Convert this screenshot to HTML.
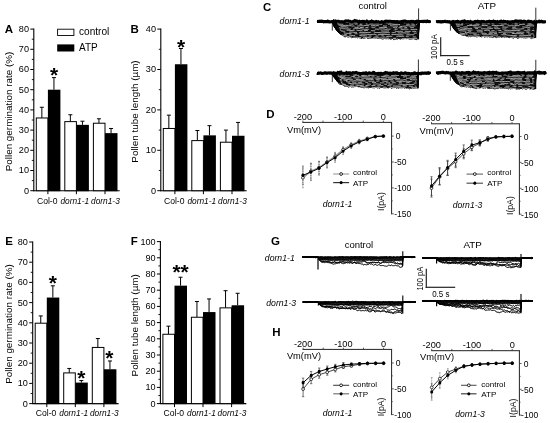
<!DOCTYPE html>
<html><head><meta charset="utf-8"><title>Figure</title>
<style>
html,body{margin:0;padding:0;background:#fff;}
svg{display:block;font-family:"Liberation Sans", sans-serif;}
</style></head><body>
<svg width="550" height="423" viewBox="0 0 550 423">
<rect width="550" height="423" fill="#fff"/>
<line x1="33.80" y1="28.60" x2="33.80" y2="191.20" stroke="#000" stroke-width="1.1"/>
<line x1="33.30" y1="190.70" x2="119.70" y2="190.70" stroke="#000" stroke-width="1.1"/>
<line x1="30.30" y1="190.70" x2="33.80" y2="190.70" stroke="#000" stroke-width="1"/>
<text x="0" y="0" font-size="9.6" text-anchor="end" fill="#000" transform="translate(29.0 193.6) scale(0.95 1)">0</text>
<line x1="30.30" y1="170.50" x2="33.80" y2="170.50" stroke="#000" stroke-width="1"/>
<text x="0" y="0" font-size="9.6" text-anchor="end" fill="#000" transform="translate(29.0 173.4) scale(0.95 1)">10</text>
<line x1="30.30" y1="150.30" x2="33.80" y2="150.30" stroke="#000" stroke-width="1"/>
<text x="0" y="0" font-size="9.6" text-anchor="end" fill="#000" transform="translate(29.0 153.2) scale(0.95 1)">20</text>
<line x1="30.30" y1="130.10" x2="33.80" y2="130.10" stroke="#000" stroke-width="1"/>
<text x="0" y="0" font-size="9.6" text-anchor="end" fill="#000" transform="translate(29.0 133.0) scale(0.95 1)">30</text>
<line x1="30.30" y1="109.90" x2="33.80" y2="109.90" stroke="#000" stroke-width="1"/>
<text x="0" y="0" font-size="9.6" text-anchor="end" fill="#000" transform="translate(29.0 112.8) scale(0.95 1)">40</text>
<line x1="30.30" y1="89.70" x2="33.80" y2="89.70" stroke="#000" stroke-width="1"/>
<text x="0" y="0" font-size="9.6" text-anchor="end" fill="#000" transform="translate(29.0 92.6) scale(0.95 1)">50</text>
<line x1="30.30" y1="69.50" x2="33.80" y2="69.50" stroke="#000" stroke-width="1"/>
<text x="0" y="0" font-size="9.6" text-anchor="end" fill="#000" transform="translate(29.0 72.4) scale(0.95 1)">60</text>
<line x1="30.30" y1="49.30" x2="33.80" y2="49.30" stroke="#000" stroke-width="1"/>
<text x="0" y="0" font-size="9.6" text-anchor="end" fill="#000" transform="translate(29.0 52.2) scale(0.95 1)">70</text>
<line x1="30.30" y1="29.10" x2="33.80" y2="29.10" stroke="#000" stroke-width="1"/>
<text x="0" y="0" font-size="9.6" text-anchor="end" fill="#000" transform="translate(29.0 32.0) scale(0.95 1)">80</text>
<line x1="31.80" y1="180.60" x2="33.80" y2="180.60" stroke="#000" stroke-width="0.9"/>
<line x1="31.80" y1="160.40" x2="33.80" y2="160.40" stroke="#000" stroke-width="0.9"/>
<line x1="31.80" y1="140.20" x2="33.80" y2="140.20" stroke="#000" stroke-width="0.9"/>
<line x1="31.80" y1="120.00" x2="33.80" y2="120.00" stroke="#000" stroke-width="0.9"/>
<line x1="31.80" y1="99.80" x2="33.80" y2="99.80" stroke="#000" stroke-width="0.9"/>
<line x1="31.80" y1="79.60" x2="33.80" y2="79.60" stroke="#000" stroke-width="0.9"/>
<line x1="31.80" y1="59.40" x2="33.80" y2="59.40" stroke="#000" stroke-width="0.9"/>
<line x1="31.80" y1="39.20" x2="33.80" y2="39.20" stroke="#000" stroke-width="0.9"/>
<line x1="47.90" y1="190.70" x2="47.90" y2="194.20" stroke="#000" stroke-width="1"/>
<line x1="41.85" y1="117.98" x2="41.85" y2="107.27" stroke="#000" stroke-width="1"/>
<line x1="39.85" y1="107.27" x2="43.85" y2="107.27" stroke="#000" stroke-width="1"/>
<rect x="36.30" y="117.98" width="11.60" height="72.72" fill="#fff" stroke="#000" stroke-width="1"/>
<line x1="53.95" y1="89.70" x2="53.95" y2="77.58" stroke="#000" stroke-width="1"/>
<line x1="51.95" y1="77.58" x2="55.95" y2="77.58" stroke="#000" stroke-width="1"/>
<rect x="47.90" y="89.70" width="12.50" height="101.50" fill="#000"/>
<text x="47.2" y="203.5" font-size="8.6" text-anchor="middle" fill="#000">Col-0</text>
<line x1="76.40" y1="190.70" x2="76.40" y2="194.20" stroke="#000" stroke-width="1"/>
<line x1="70.35" y1="121.62" x2="70.35" y2="114.75" stroke="#000" stroke-width="1"/>
<line x1="68.35" y1="114.75" x2="72.35" y2="114.75" stroke="#000" stroke-width="1"/>
<rect x="64.80" y="121.62" width="11.60" height="69.08" fill="#fff" stroke="#000" stroke-width="1"/>
<line x1="82.45" y1="124.85" x2="82.45" y2="121.21" stroke="#000" stroke-width="1"/>
<line x1="80.45" y1="121.21" x2="84.45" y2="121.21" stroke="#000" stroke-width="1"/>
<rect x="76.40" y="124.85" width="12.50" height="66.35" fill="#000"/>
<text x="74.8" y="203.5" font-size="8.35" text-anchor="middle" font-style="italic" fill="#000">dorn1-1</text>
<line x1="105.00" y1="190.70" x2="105.00" y2="194.20" stroke="#000" stroke-width="1"/>
<line x1="98.95" y1="123.23" x2="98.95" y2="118.79" stroke="#000" stroke-width="1"/>
<line x1="96.95" y1="118.79" x2="100.95" y2="118.79" stroke="#000" stroke-width="1"/>
<rect x="93.40" y="123.23" width="11.60" height="67.47" fill="#fff" stroke="#000" stroke-width="1"/>
<line x1="111.05" y1="133.13" x2="111.05" y2="128.48" stroke="#000" stroke-width="1"/>
<line x1="109.05" y1="128.48" x2="113.05" y2="128.48" stroke="#000" stroke-width="1"/>
<rect x="105.00" y="133.13" width="12.50" height="58.07" fill="#000"/>
<text x="105.4" y="203.5" font-size="8.35" text-anchor="middle" font-style="italic" fill="#000">dorn1-3</text>
<text x="12.2" y="111.5" font-size="9.9" text-anchor="middle" fill="#000" transform="rotate(-90 12.2 111.5)">Pollen germination rate (%)</text>
<text x="4.7" y="32.5" font-size="11.5" font-weight="bold" fill="#000">A</text>
<text x="54" y="81.5" font-size="21" text-anchor="middle" font-weight="bold" fill="#000">*</text>
<rect x="57.6" y="29.2" width="16.3" height="6.3" fill="#fff" stroke="#000" stroke-width="0.9"/>
<rect x="57.2" y="44.4" width="17.1" height="7.1" fill="#000"/>
<text x="79" y="35.4" font-size="10.1" fill="#000">control</text>
<text x="79" y="50.7" font-size="10" fill="#000">ATP</text>
<line x1="160.80" y1="28.60" x2="160.80" y2="191.20" stroke="#000" stroke-width="1.1"/>
<line x1="160.30" y1="190.70" x2="246.70" y2="190.70" stroke="#000" stroke-width="1.1"/>
<line x1="157.30" y1="190.70" x2="160.80" y2="190.70" stroke="#000" stroke-width="1"/>
<text x="0" y="0" font-size="9.6" text-anchor="end" fill="#000" transform="translate(156.0 193.6) scale(0.95 1)">0</text>
<line x1="157.30" y1="150.30" x2="160.80" y2="150.30" stroke="#000" stroke-width="1"/>
<text x="0" y="0" font-size="9.6" text-anchor="end" fill="#000" transform="translate(156.0 153.2) scale(0.95 1)">10</text>
<line x1="157.30" y1="109.90" x2="160.80" y2="109.90" stroke="#000" stroke-width="1"/>
<text x="0" y="0" font-size="9.6" text-anchor="end" fill="#000" transform="translate(156.0 112.8) scale(0.95 1)">20</text>
<line x1="157.30" y1="69.50" x2="160.80" y2="69.50" stroke="#000" stroke-width="1"/>
<text x="0" y="0" font-size="9.6" text-anchor="end" fill="#000" transform="translate(156.0 72.4) scale(0.95 1)">30</text>
<line x1="157.30" y1="29.10" x2="160.80" y2="29.10" stroke="#000" stroke-width="1"/>
<text x="0" y="0" font-size="9.6" text-anchor="end" fill="#000" transform="translate(156.0 32.0) scale(0.95 1)">40</text>
<line x1="158.80" y1="170.50" x2="160.80" y2="170.50" stroke="#000" stroke-width="0.9"/>
<line x1="158.80" y1="130.10" x2="160.80" y2="130.10" stroke="#000" stroke-width="0.9"/>
<line x1="158.80" y1="89.70" x2="160.80" y2="89.70" stroke="#000" stroke-width="0.9"/>
<line x1="158.80" y1="49.30" x2="160.80" y2="49.30" stroke="#000" stroke-width="0.9"/>
<line x1="174.90" y1="190.70" x2="174.90" y2="194.20" stroke="#000" stroke-width="1"/>
<line x1="168.85" y1="128.48" x2="168.85" y2="115.15" stroke="#000" stroke-width="1"/>
<line x1="166.85" y1="115.15" x2="170.85" y2="115.15" stroke="#000" stroke-width="1"/>
<rect x="163.30" y="128.48" width="11.60" height="62.22" fill="#fff" stroke="#000" stroke-width="1"/>
<line x1="180.95" y1="64.25" x2="180.95" y2="48.49" stroke="#000" stroke-width="1"/>
<line x1="178.95" y1="48.49" x2="182.95" y2="48.49" stroke="#000" stroke-width="1"/>
<rect x="174.90" y="64.25" width="12.50" height="126.95" fill="#000"/>
<text x="174.2" y="203.5" font-size="8.6" text-anchor="middle" fill="#000">Col-0</text>
<line x1="203.40" y1="190.70" x2="203.40" y2="194.20" stroke="#000" stroke-width="1"/>
<line x1="197.35" y1="140.60" x2="197.35" y2="130.50" stroke="#000" stroke-width="1"/>
<line x1="195.35" y1="130.50" x2="199.35" y2="130.50" stroke="#000" stroke-width="1"/>
<rect x="191.80" y="140.60" width="11.60" height="50.10" fill="#fff" stroke="#000" stroke-width="1"/>
<line x1="209.45" y1="135.35" x2="209.45" y2="125.66" stroke="#000" stroke-width="1"/>
<line x1="207.45" y1="125.66" x2="211.45" y2="125.66" stroke="#000" stroke-width="1"/>
<rect x="203.40" y="135.35" width="12.50" height="55.85" fill="#000"/>
<text x="201.8" y="203.5" font-size="8.35" text-anchor="middle" font-style="italic" fill="#000">dorn1-1</text>
<line x1="232.00" y1="190.70" x2="232.00" y2="194.20" stroke="#000" stroke-width="1"/>
<line x1="225.95" y1="142.22" x2="225.95" y2="130.10" stroke="#000" stroke-width="1"/>
<line x1="223.95" y1="130.10" x2="227.95" y2="130.10" stroke="#000" stroke-width="1"/>
<rect x="220.40" y="142.22" width="11.60" height="48.48" fill="#fff" stroke="#000" stroke-width="1"/>
<line x1="238.05" y1="135.76" x2="238.05" y2="122.42" stroke="#000" stroke-width="1"/>
<line x1="236.05" y1="122.42" x2="240.05" y2="122.42" stroke="#000" stroke-width="1"/>
<rect x="232.00" y="135.76" width="12.50" height="55.44" fill="#000"/>
<text x="232.4" y="203.5" font-size="8.35" text-anchor="middle" font-style="italic" fill="#000">dorn1-3</text>
<text x="138.3" y="111.5" font-size="9.9" text-anchor="middle" fill="#000" transform="rotate(-90 138.3 111.5)">Pollen tube length (µm)</text>
<text x="130.5" y="32.5" font-size="11.5" font-weight="bold" fill="#000">B</text>
<text x="181" y="54.2" font-size="21" text-anchor="middle" font-weight="bold" fill="#000">*</text>
<line x1="32.70" y1="241.50" x2="32.70" y2="404.10" stroke="#000" stroke-width="1.1"/>
<line x1="32.20" y1="403.60" x2="118.60" y2="403.60" stroke="#000" stroke-width="1.1"/>
<line x1="29.20" y1="403.60" x2="32.70" y2="403.60" stroke="#000" stroke-width="1"/>
<text x="0" y="0" font-size="9.6" text-anchor="end" fill="#000" transform="translate(27.9 406.5) scale(0.95 1)">0</text>
<line x1="29.20" y1="383.40" x2="32.70" y2="383.40" stroke="#000" stroke-width="1"/>
<text x="0" y="0" font-size="9.6" text-anchor="end" fill="#000" transform="translate(27.9 386.3) scale(0.95 1)">10</text>
<line x1="29.20" y1="363.20" x2="32.70" y2="363.20" stroke="#000" stroke-width="1"/>
<text x="0" y="0" font-size="9.6" text-anchor="end" fill="#000" transform="translate(27.9 366.1) scale(0.95 1)">20</text>
<line x1="29.20" y1="343.00" x2="32.70" y2="343.00" stroke="#000" stroke-width="1"/>
<text x="0" y="0" font-size="9.6" text-anchor="end" fill="#000" transform="translate(27.9 345.9) scale(0.95 1)">30</text>
<line x1="29.20" y1="322.80" x2="32.70" y2="322.80" stroke="#000" stroke-width="1"/>
<text x="0" y="0" font-size="9.6" text-anchor="end" fill="#000" transform="translate(27.9 325.7) scale(0.95 1)">40</text>
<line x1="29.20" y1="302.60" x2="32.70" y2="302.60" stroke="#000" stroke-width="1"/>
<text x="0" y="0" font-size="9.6" text-anchor="end" fill="#000" transform="translate(27.9 305.5) scale(0.95 1)">50</text>
<line x1="29.20" y1="282.40" x2="32.70" y2="282.40" stroke="#000" stroke-width="1"/>
<text x="0" y="0" font-size="9.6" text-anchor="end" fill="#000" transform="translate(27.9 285.3) scale(0.95 1)">60</text>
<line x1="29.20" y1="262.20" x2="32.70" y2="262.20" stroke="#000" stroke-width="1"/>
<text x="0" y="0" font-size="9.6" text-anchor="end" fill="#000" transform="translate(27.9 265.1) scale(0.95 1)">70</text>
<line x1="29.20" y1="242.00" x2="32.70" y2="242.00" stroke="#000" stroke-width="1"/>
<text x="0" y="0" font-size="9.6" text-anchor="end" fill="#000" transform="translate(27.9 244.9) scale(0.95 1)">80</text>
<line x1="30.70" y1="393.50" x2="32.70" y2="393.50" stroke="#000" stroke-width="0.9"/>
<line x1="30.70" y1="373.30" x2="32.70" y2="373.30" stroke="#000" stroke-width="0.9"/>
<line x1="30.70" y1="353.10" x2="32.70" y2="353.10" stroke="#000" stroke-width="0.9"/>
<line x1="30.70" y1="332.90" x2="32.70" y2="332.90" stroke="#000" stroke-width="0.9"/>
<line x1="30.70" y1="312.70" x2="32.70" y2="312.70" stroke="#000" stroke-width="0.9"/>
<line x1="30.70" y1="292.50" x2="32.70" y2="292.50" stroke="#000" stroke-width="0.9"/>
<line x1="30.70" y1="272.30" x2="32.70" y2="272.30" stroke="#000" stroke-width="0.9"/>
<line x1="30.70" y1="252.10" x2="32.70" y2="252.10" stroke="#000" stroke-width="0.9"/>
<line x1="46.80" y1="403.60" x2="46.80" y2="407.10" stroke="#000" stroke-width="1"/>
<line x1="40.75" y1="323.20" x2="40.75" y2="315.93" stroke="#000" stroke-width="1"/>
<line x1="38.75" y1="315.93" x2="42.75" y2="315.93" stroke="#000" stroke-width="1"/>
<rect x="35.20" y="323.20" width="11.60" height="80.40" fill="#fff" stroke="#000" stroke-width="1"/>
<line x1="52.85" y1="297.55" x2="52.85" y2="285.83" stroke="#000" stroke-width="1"/>
<line x1="50.85" y1="285.83" x2="54.85" y2="285.83" stroke="#000" stroke-width="1"/>
<rect x="46.80" y="297.55" width="12.50" height="106.55" fill="#000"/>
<text x="46.1" y="415.8" font-size="8.6" text-anchor="middle" fill="#000">Col-0</text>
<line x1="75.30" y1="403.60" x2="75.30" y2="407.10" stroke="#000" stroke-width="1"/>
<line x1="69.25" y1="372.90" x2="69.25" y2="368.45" stroke="#000" stroke-width="1"/>
<line x1="67.25" y1="368.45" x2="71.25" y2="368.45" stroke="#000" stroke-width="1"/>
<rect x="63.70" y="372.90" width="11.60" height="30.70" fill="#fff" stroke="#000" stroke-width="1"/>
<line x1="81.35" y1="382.59" x2="81.35" y2="380.57" stroke="#000" stroke-width="1"/>
<line x1="79.35" y1="380.57" x2="83.35" y2="380.57" stroke="#000" stroke-width="1"/>
<rect x="75.30" y="382.59" width="12.50" height="21.51" fill="#000"/>
<text x="73.7" y="415.8" font-size="8.35" text-anchor="middle" font-style="italic" fill="#000">dorn1-1</text>
<line x1="103.90" y1="403.60" x2="103.90" y2="407.10" stroke="#000" stroke-width="1"/>
<line x1="97.85" y1="347.44" x2="97.85" y2="338.56" stroke="#000" stroke-width="1"/>
<line x1="95.85" y1="338.56" x2="99.85" y2="338.56" stroke="#000" stroke-width="1"/>
<rect x="92.30" y="347.44" width="11.60" height="56.16" fill="#fff" stroke="#000" stroke-width="1"/>
<line x1="109.95" y1="369.26" x2="109.95" y2="360.98" stroke="#000" stroke-width="1"/>
<line x1="107.95" y1="360.98" x2="111.95" y2="360.98" stroke="#000" stroke-width="1"/>
<rect x="103.90" y="369.26" width="12.50" height="34.84" fill="#000"/>
<text x="104.3" y="415.8" font-size="8.35" text-anchor="middle" font-style="italic" fill="#000">dorn1-3</text>
<text x="11.8" y="324" font-size="9.9" text-anchor="middle" fill="#000" transform="rotate(-90 11.8 324)">Pollen germination rate (%)</text>
<text x="5.3" y="244.5" font-size="11.5" font-weight="bold" fill="#000">E</text>
<text x="52.9" y="289.9" font-size="21" text-anchor="middle" font-weight="bold" fill="#000">*</text>
<text x="81.3" y="384.7" font-size="21" text-anchor="middle" font-weight="bold" fill="#000">*</text>
<text x="109.4" y="365.1" font-size="21" text-anchor="middle" font-weight="bold" fill="#000">*</text>
<line x1="160.40" y1="241.10" x2="160.40" y2="404.10" stroke="#000" stroke-width="1.1"/>
<line x1="159.90" y1="403.60" x2="246.30" y2="403.60" stroke="#000" stroke-width="1.1"/>
<line x1="156.90" y1="403.60" x2="160.40" y2="403.60" stroke="#000" stroke-width="1"/>
<text x="0" y="0" font-size="9.6" text-anchor="end" fill="#000" transform="translate(155.6 406.5) scale(0.95 1)">0</text>
<line x1="156.90" y1="387.40" x2="160.40" y2="387.40" stroke="#000" stroke-width="1"/>
<text x="0" y="0" font-size="9.6" text-anchor="end" fill="#000" transform="translate(155.6 390.3) scale(0.95 1)">10</text>
<line x1="156.90" y1="371.20" x2="160.40" y2="371.20" stroke="#000" stroke-width="1"/>
<text x="0" y="0" font-size="9.6" text-anchor="end" fill="#000" transform="translate(155.6 374.1) scale(0.95 1)">20</text>
<line x1="156.90" y1="355.00" x2="160.40" y2="355.00" stroke="#000" stroke-width="1"/>
<text x="0" y="0" font-size="9.6" text-anchor="end" fill="#000" transform="translate(155.6 357.9) scale(0.95 1)">30</text>
<line x1="156.90" y1="338.80" x2="160.40" y2="338.80" stroke="#000" stroke-width="1"/>
<text x="0" y="0" font-size="9.6" text-anchor="end" fill="#000" transform="translate(155.6 341.7) scale(0.95 1)">40</text>
<line x1="156.90" y1="322.60" x2="160.40" y2="322.60" stroke="#000" stroke-width="1"/>
<text x="0" y="0" font-size="9.6" text-anchor="end" fill="#000" transform="translate(155.6 325.5) scale(0.95 1)">50</text>
<line x1="156.90" y1="306.40" x2="160.40" y2="306.40" stroke="#000" stroke-width="1"/>
<text x="0" y="0" font-size="9.6" text-anchor="end" fill="#000" transform="translate(155.6 309.3) scale(0.95 1)">60</text>
<line x1="156.90" y1="290.20" x2="160.40" y2="290.20" stroke="#000" stroke-width="1"/>
<text x="0" y="0" font-size="9.6" text-anchor="end" fill="#000" transform="translate(155.6 293.1) scale(0.95 1)">70</text>
<line x1="156.90" y1="274.00" x2="160.40" y2="274.00" stroke="#000" stroke-width="1"/>
<text x="0" y="0" font-size="9.6" text-anchor="end" fill="#000" transform="translate(155.6 276.9) scale(0.95 1)">80</text>
<line x1="156.90" y1="257.80" x2="160.40" y2="257.80" stroke="#000" stroke-width="1"/>
<text x="0" y="0" font-size="9.6" text-anchor="end" fill="#000" transform="translate(155.6 260.7) scale(0.95 1)">90</text>
<line x1="156.90" y1="241.60" x2="160.40" y2="241.60" stroke="#000" stroke-width="1"/>
<text x="0" y="0" font-size="9.6" text-anchor="end" fill="#000" transform="translate(155.6 244.5) scale(0.95 1)">100</text>
<line x1="158.40" y1="395.50" x2="160.40" y2="395.50" stroke="#000" stroke-width="0.9"/>
<line x1="158.40" y1="379.30" x2="160.40" y2="379.30" stroke="#000" stroke-width="0.9"/>
<line x1="158.40" y1="363.10" x2="160.40" y2="363.10" stroke="#000" stroke-width="0.9"/>
<line x1="158.40" y1="346.90" x2="160.40" y2="346.90" stroke="#000" stroke-width="0.9"/>
<line x1="158.40" y1="330.70" x2="160.40" y2="330.70" stroke="#000" stroke-width="0.9"/>
<line x1="158.40" y1="314.50" x2="160.40" y2="314.50" stroke="#000" stroke-width="0.9"/>
<line x1="158.40" y1="298.30" x2="160.40" y2="298.30" stroke="#000" stroke-width="0.9"/>
<line x1="158.40" y1="282.10" x2="160.40" y2="282.10" stroke="#000" stroke-width="0.9"/>
<line x1="158.40" y1="265.90" x2="160.40" y2="265.90" stroke="#000" stroke-width="0.9"/>
<line x1="158.40" y1="249.70" x2="160.40" y2="249.70" stroke="#000" stroke-width="0.9"/>
<line x1="174.50" y1="403.60" x2="174.50" y2="407.10" stroke="#000" stroke-width="1"/>
<line x1="168.45" y1="334.26" x2="168.45" y2="326.16" stroke="#000" stroke-width="1"/>
<line x1="166.45" y1="326.16" x2="170.45" y2="326.16" stroke="#000" stroke-width="1"/>
<rect x="162.90" y="334.26" width="11.60" height="69.34" fill="#fff" stroke="#000" stroke-width="1"/>
<line x1="180.55" y1="285.66" x2="180.55" y2="277.24" stroke="#000" stroke-width="1"/>
<line x1="178.55" y1="277.24" x2="182.55" y2="277.24" stroke="#000" stroke-width="1"/>
<rect x="174.50" y="285.66" width="12.50" height="118.44" fill="#000"/>
<text x="173.8" y="415.8" font-size="8.6" text-anchor="middle" fill="#000">Col-0</text>
<line x1="203.00" y1="403.60" x2="203.00" y2="407.10" stroke="#000" stroke-width="1"/>
<line x1="196.95" y1="317.25" x2="196.95" y2="301.54" stroke="#000" stroke-width="1"/>
<line x1="194.95" y1="301.54" x2="198.95" y2="301.54" stroke="#000" stroke-width="1"/>
<rect x="191.40" y="317.25" width="11.60" height="86.35" fill="#fff" stroke="#000" stroke-width="1"/>
<line x1="209.05" y1="312.07" x2="209.05" y2="298.95" stroke="#000" stroke-width="1"/>
<line x1="207.05" y1="298.95" x2="211.05" y2="298.95" stroke="#000" stroke-width="1"/>
<rect x="203.00" y="312.07" width="12.50" height="92.03" fill="#000"/>
<text x="201.4" y="415.8" font-size="8.35" text-anchor="middle" font-style="italic" fill="#000">dorn1-1</text>
<line x1="231.60" y1="403.60" x2="231.60" y2="407.10" stroke="#000" stroke-width="1"/>
<line x1="225.55" y1="307.86" x2="225.55" y2="290.69" stroke="#000" stroke-width="1"/>
<line x1="223.55" y1="290.69" x2="227.55" y2="290.69" stroke="#000" stroke-width="1"/>
<rect x="220.00" y="307.86" width="11.60" height="95.74" fill="#fff" stroke="#000" stroke-width="1"/>
<line x1="237.65" y1="305.27" x2="237.65" y2="293.28" stroke="#000" stroke-width="1"/>
<line x1="235.65" y1="293.28" x2="239.65" y2="293.28" stroke="#000" stroke-width="1"/>
<rect x="231.60" y="305.27" width="12.50" height="98.83" fill="#000"/>
<text x="232.0" y="415.8" font-size="8.35" text-anchor="middle" font-style="italic" fill="#000">dorn1-3</text>
<text x="138.3" y="325.3" font-size="9.9" text-anchor="middle" fill="#000" transform="rotate(-90 138.3 325.3)">Pollen tube length (µm)</text>
<text x="130.8" y="245" font-size="11.5" font-weight="bold" fill="#000">F</text>
<text x="180.6" y="278.9" font-size="21" text-anchor="middle" font-weight="bold" fill="#000">**</text>
<line x1="302.40" y1="122.40" x2="392.10" y2="122.40" stroke="#222" stroke-width="1"/>
<line x1="391.60" y1="122.40" x2="391.60" y2="214.30" stroke="#222" stroke-width="1"/>
<line x1="383.40" y1="120.60" x2="383.40" y2="122.40" stroke="#333" stroke-width="0.8"/>
<text x="383.4" y="119.5" font-size="9.2" text-anchor="middle" fill="#000">0</text>
<line x1="363.27" y1="120.60" x2="363.27" y2="122.40" stroke="#333" stroke-width="0.8"/>
<line x1="343.15" y1="120.60" x2="343.15" y2="122.40" stroke="#333" stroke-width="0.8"/>
<text x="343.15" y="119.5" font-size="9.2" text-anchor="middle" fill="#000">-100</text>
<line x1="323.02" y1="120.60" x2="323.02" y2="122.40" stroke="#333" stroke-width="0.8"/>
<line x1="302.90" y1="120.60" x2="302.90" y2="122.40" stroke="#333" stroke-width="0.8"/>
<text x="302.9" y="119.5" font-size="9.2" text-anchor="middle" fill="#000">-200</text>
<line x1="391.60" y1="136.10" x2="393.80" y2="136.10" stroke="#333" stroke-width="0.8"/>
<text x="0" y="0" font-size="9.2" fill="#000" transform="translate(395.7 139.4) scale(0.93 1)">0</text>
<line x1="391.60" y1="162.00" x2="393.80" y2="162.00" stroke="#333" stroke-width="0.8"/>
<text x="0" y="0" font-size="9.2" fill="#000" transform="translate(394.2 165.3) scale(0.93 1)">-50</text>
<line x1="391.60" y1="187.90" x2="393.80" y2="187.90" stroke="#333" stroke-width="0.8"/>
<text x="0" y="0" font-size="9.2" fill="#000" transform="translate(394.2 191.2) scale(0.93 1)">-100</text>
<line x1="391.60" y1="213.80" x2="393.80" y2="213.80" stroke="#333" stroke-width="0.8"/>
<text x="0" y="0" font-size="9.2" fill="#000" transform="translate(394.2 217.1) scale(0.93 1)">-150</text>
<line x1="391.60" y1="149.05" x2="392.90" y2="149.05" stroke="#444" stroke-width="0.7"/>
<line x1="391.60" y1="174.95" x2="392.90" y2="174.95" stroke="#444" stroke-width="0.7"/>
<line x1="391.60" y1="200.85" x2="392.90" y2="200.85" stroke="#444" stroke-width="0.7"/>
<text x="287.0" y="133.2" font-size="9.3" fill="#000">Vm(mV)</text>
<text x="384.2" y="201.6" font-size="8.7" text-anchor="middle" fill="#000" transform="rotate(-90 384.2 201.6)">I(pA)</text>
<text x="337.5" y="206.8" font-size="8.6" text-anchor="middle" font-style="italic" fill="#000">dorn1-1</text>
<line x1="367.3" y1="137.1" x2="367.3" y2="140.1" stroke="#8a8a8a" stroke-width="0.75" stroke-dasharray="1.7 0.6"/>
<line x1="366.40" y1="137.10" x2="368.20" y2="137.10" stroke="#8a8a8a" stroke-width="0.6"/>
<line x1="366.40" y1="140.10" x2="368.20" y2="140.10" stroke="#8a8a8a" stroke-width="0.6"/>
<line x1="367.3" y1="137.8" x2="367.3" y2="140.8" stroke="#505050" stroke-width="0.75" stroke-dasharray="1.7 0.6"/>
<line x1="366.40" y1="137.80" x2="368.20" y2="137.80" stroke="#505050" stroke-width="0.6"/>
<line x1="366.40" y1="140.80" x2="368.20" y2="140.80" stroke="#505050" stroke-width="0.6"/>
<line x1="359.2" y1="139.2" x2="359.2" y2="143.2" stroke="#8a8a8a" stroke-width="0.75" stroke-dasharray="1.7 0.6"/>
<line x1="358.35" y1="139.20" x2="360.15" y2="139.20" stroke="#8a8a8a" stroke-width="0.6"/>
<line x1="358.35" y1="143.20" x2="360.15" y2="143.20" stroke="#8a8a8a" stroke-width="0.6"/>
<line x1="359.2" y1="139.9" x2="359.2" y2="143.9" stroke="#505050" stroke-width="0.75" stroke-dasharray="1.7 0.6"/>
<line x1="358.35" y1="139.90" x2="360.15" y2="139.90" stroke="#505050" stroke-width="0.6"/>
<line x1="358.35" y1="143.90" x2="360.15" y2="143.90" stroke="#505050" stroke-width="0.6"/>
<line x1="351.2" y1="142.4" x2="351.2" y2="147.4" stroke="#8a8a8a" stroke-width="0.75" stroke-dasharray="1.7 0.6"/>
<line x1="350.30" y1="142.40" x2="352.10" y2="142.40" stroke="#8a8a8a" stroke-width="0.6"/>
<line x1="350.30" y1="147.40" x2="352.10" y2="147.40" stroke="#8a8a8a" stroke-width="0.6"/>
<line x1="351.2" y1="143.4" x2="351.2" y2="148.4" stroke="#505050" stroke-width="0.75" stroke-dasharray="1.7 0.6"/>
<line x1="350.30" y1="143.40" x2="352.10" y2="143.40" stroke="#505050" stroke-width="0.6"/>
<line x1="350.30" y1="148.40" x2="352.10" y2="148.40" stroke="#505050" stroke-width="0.6"/>
<line x1="343.1" y1="146.6" x2="343.1" y2="152.6" stroke="#8a8a8a" stroke-width="0.75" stroke-dasharray="1.7 0.6"/>
<line x1="342.25" y1="146.60" x2="344.05" y2="146.60" stroke="#8a8a8a" stroke-width="0.6"/>
<line x1="342.25" y1="152.60" x2="344.05" y2="152.60" stroke="#8a8a8a" stroke-width="0.6"/>
<line x1="343.1" y1="147.6" x2="343.1" y2="154.6" stroke="#505050" stroke-width="0.75" stroke-dasharray="1.7 0.6"/>
<line x1="342.25" y1="147.60" x2="344.05" y2="147.60" stroke="#505050" stroke-width="0.6"/>
<line x1="342.25" y1="154.60" x2="344.05" y2="154.60" stroke="#505050" stroke-width="0.6"/>
<line x1="335.1" y1="152.3" x2="335.1" y2="160.3" stroke="#8a8a8a" stroke-width="0.75" stroke-dasharray="1.7 0.6"/>
<line x1="334.20" y1="152.30" x2="336.00" y2="152.30" stroke="#8a8a8a" stroke-width="0.6"/>
<line x1="334.20" y1="160.30" x2="336.00" y2="160.30" stroke="#8a8a8a" stroke-width="0.6"/>
<line x1="335.1" y1="153.1" x2="335.1" y2="162.3" stroke="#505050" stroke-width="0.75" stroke-dasharray="1.7 0.6"/>
<line x1="334.20" y1="153.10" x2="336.00" y2="153.10" stroke="#505050" stroke-width="0.6"/>
<line x1="334.20" y1="162.30" x2="336.00" y2="162.30" stroke="#505050" stroke-width="0.6"/>
<line x1="327.0" y1="157.0" x2="327.0" y2="167.0" stroke="#8a8a8a" stroke-width="0.75" stroke-dasharray="1.7 0.6"/>
<line x1="326.15" y1="157.00" x2="327.95" y2="157.00" stroke="#8a8a8a" stroke-width="0.6"/>
<line x1="326.15" y1="167.00" x2="327.95" y2="167.00" stroke="#8a8a8a" stroke-width="0.6"/>
<line x1="327.0" y1="157.2" x2="327.0" y2="168.0" stroke="#505050" stroke-width="0.75" stroke-dasharray="1.7 0.6"/>
<line x1="326.15" y1="157.20" x2="327.95" y2="157.20" stroke="#505050" stroke-width="0.6"/>
<line x1="326.15" y1="168.00" x2="327.95" y2="168.00" stroke="#505050" stroke-width="0.6"/>
<line x1="319.0" y1="161.1" x2="319.0" y2="174.1" stroke="#8a8a8a" stroke-width="0.75" stroke-dasharray="1.7 0.6"/>
<line x1="318.10" y1="161.10" x2="319.90" y2="161.10" stroke="#8a8a8a" stroke-width="0.6"/>
<line x1="318.10" y1="174.10" x2="319.90" y2="174.10" stroke="#8a8a8a" stroke-width="0.6"/>
<line x1="319.0" y1="161.5" x2="319.0" y2="175.1" stroke="#505050" stroke-width="0.75" stroke-dasharray="1.7 0.6"/>
<line x1="318.10" y1="161.50" x2="319.90" y2="161.50" stroke="#505050" stroke-width="0.6"/>
<line x1="318.10" y1="175.10" x2="319.90" y2="175.10" stroke="#505050" stroke-width="0.6"/>
<line x1="310.9" y1="163.2" x2="310.9" y2="179.2" stroke="#8a8a8a" stroke-width="0.75" stroke-dasharray="1.7 0.6"/>
<line x1="310.05" y1="163.20" x2="311.85" y2="163.20" stroke="#8a8a8a" stroke-width="0.6"/>
<line x1="310.05" y1="179.20" x2="311.85" y2="179.20" stroke="#8a8a8a" stroke-width="0.6"/>
<line x1="310.9" y1="163.4" x2="310.9" y2="180.6" stroke="#505050" stroke-width="0.75" stroke-dasharray="1.7 0.6"/>
<line x1="310.05" y1="163.40" x2="311.85" y2="163.40" stroke="#505050" stroke-width="0.6"/>
<line x1="310.05" y1="180.60" x2="311.85" y2="180.60" stroke="#505050" stroke-width="0.6"/>
<line x1="302.9" y1="167.8" x2="302.9" y2="187.8" stroke="#8a8a8a" stroke-width="0.75" stroke-dasharray="1.7 0.6"/>
<line x1="302.00" y1="167.80" x2="303.80" y2="167.80" stroke="#8a8a8a" stroke-width="0.6"/>
<line x1="302.00" y1="187.80" x2="303.80" y2="187.80" stroke="#8a8a8a" stroke-width="0.6"/>
<line x1="302.9" y1="166.0" x2="302.9" y2="184.6" stroke="#505050" stroke-width="0.75" stroke-dasharray="1.7 0.6"/>
<line x1="302.00" y1="166.00" x2="303.80" y2="166.00" stroke="#505050" stroke-width="0.6"/>
<line x1="302.00" y1="184.60" x2="303.80" y2="184.60" stroke="#505050" stroke-width="0.6"/>
<polyline points="383.4,136.1 375.3,136.6 367.3,138.6 359.2,141.2 351.2,144.9 343.1,149.6 335.1,156.3 327.0,162.0 319.0,167.6 310.9,171.2 302.9,177.8" fill="none" stroke="#999" stroke-width="1.5"/>
<polyline points="383.4,136.1 375.3,136.6 367.3,139.3 359.2,141.9 351.2,145.9 343.1,151.1 335.1,157.7 327.0,162.6 319.0,168.3 310.9,172.0 302.9,175.3" fill="none" stroke="#000" stroke-width="1.0"/>
<circle cx="383.4" cy="136.1" r="1.4" fill="#fff" stroke="#111" stroke-width="0.8"/>
<circle cx="375.3" cy="136.6" r="1.4" fill="#fff" stroke="#111" stroke-width="0.8"/>
<circle cx="367.3" cy="138.6" r="1.4" fill="#fff" stroke="#111" stroke-width="0.8"/>
<circle cx="359.2" cy="141.2" r="1.4" fill="#fff" stroke="#111" stroke-width="0.8"/>
<circle cx="351.2" cy="144.9" r="1.4" fill="#fff" stroke="#111" stroke-width="0.8"/>
<circle cx="343.1" cy="149.6" r="1.4" fill="#fff" stroke="#111" stroke-width="0.8"/>
<circle cx="335.1" cy="156.3" r="1.4" fill="#fff" stroke="#111" stroke-width="0.8"/>
<circle cx="327.0" cy="162.0" r="1.4" fill="#fff" stroke="#111" stroke-width="0.8"/>
<circle cx="319.0" cy="167.6" r="1.4" fill="#fff" stroke="#111" stroke-width="0.8"/>
<circle cx="310.9" cy="171.2" r="1.4" fill="#fff" stroke="#111" stroke-width="0.8"/>
<circle cx="302.9" cy="177.8" r="1.4" fill="#fff" stroke="#111" stroke-width="0.8"/>
<ellipse cx="383.4" cy="136.1" rx="1.5" ry="1.7" fill="#000"/>
<ellipse cx="375.3" cy="136.6" rx="1.5" ry="1.7" fill="#000"/>
<ellipse cx="367.3" cy="139.3" rx="1.5" ry="1.7" fill="#000"/>
<ellipse cx="359.2" cy="141.9" rx="1.5" ry="1.7" fill="#000"/>
<ellipse cx="351.2" cy="145.9" rx="1.5" ry="1.7" fill="#000"/>
<ellipse cx="343.1" cy="151.1" rx="1.5" ry="1.7" fill="#000"/>
<ellipse cx="335.1" cy="157.7" rx="1.5" ry="1.7" fill="#000"/>
<ellipse cx="327.0" cy="162.6" rx="1.5" ry="1.7" fill="#000"/>
<ellipse cx="319.0" cy="168.3" rx="1.5" ry="1.7" fill="#000"/>
<ellipse cx="310.9" cy="172.0" rx="1.5" ry="1.7" fill="#000"/>
<ellipse cx="302.9" cy="175.3" rx="1.5" ry="1.7" fill="#000"/>
<line x1="333.20" y1="174.00" x2="349.10" y2="174.00" stroke="#999" stroke-width="1.1"/>
<circle cx="341.1" cy="174.0" r="1.4" fill="#fff" stroke="#000" stroke-width="0.85"/>
<line x1="333.20" y1="182.60" x2="349.10" y2="182.60" stroke="#333" stroke-width="1.2"/>
<ellipse cx="341.1" cy="182.6" rx="1.5" ry="1.6" fill="#000"/>
<text x="353.0" y="175.2" font-size="8.0" fill="#000">control</text>
<text x="353.0" y="185.6" font-size="8.1" fill="#000">ATP</text>
<line x1="431.00" y1="123.80" x2="519.90" y2="123.80" stroke="#222" stroke-width="1"/>
<line x1="519.40" y1="123.80" x2="519.40" y2="214.70" stroke="#222" stroke-width="1"/>
<line x1="512.00" y1="122.00" x2="512.00" y2="123.80" stroke="#333" stroke-width="0.8"/>
<text x="512.0" y="120.9" font-size="9.2" text-anchor="middle" fill="#000">0</text>
<line x1="491.88" y1="122.00" x2="491.88" y2="123.80" stroke="#333" stroke-width="0.8"/>
<line x1="471.75" y1="122.00" x2="471.75" y2="123.80" stroke="#333" stroke-width="0.8"/>
<text x="471.75" y="120.9" font-size="9.2" text-anchor="middle" fill="#000">-100</text>
<line x1="451.62" y1="122.00" x2="451.62" y2="123.80" stroke="#333" stroke-width="0.8"/>
<line x1="431.50" y1="122.00" x2="431.50" y2="123.80" stroke="#333" stroke-width="0.8"/>
<text x="431.5" y="120.9" font-size="9.2" text-anchor="middle" fill="#000">-200</text>
<line x1="519.40" y1="136.50" x2="521.60" y2="136.50" stroke="#333" stroke-width="0.8"/>
<text x="0" y="0" font-size="9.2" fill="#000" transform="translate(523.7 139.8) scale(0.93 1)">0</text>
<line x1="519.40" y1="162.40" x2="521.60" y2="162.40" stroke="#333" stroke-width="0.8"/>
<text x="0" y="0" font-size="9.2" fill="#000" transform="translate(521.1 165.7) scale(0.93 1)">-50</text>
<line x1="519.40" y1="188.30" x2="521.60" y2="188.30" stroke="#333" stroke-width="0.8"/>
<text x="0" y="0" font-size="9.2" fill="#000" transform="translate(521.1 191.6) scale(0.93 1)">-100</text>
<line x1="519.40" y1="214.20" x2="521.60" y2="214.20" stroke="#333" stroke-width="0.8"/>
<text x="0" y="0" font-size="9.2" fill="#000" transform="translate(521.1 217.5) scale(0.93 1)">-150</text>
<line x1="519.40" y1="149.45" x2="520.70" y2="149.45" stroke="#444" stroke-width="0.7"/>
<line x1="519.40" y1="175.35" x2="520.70" y2="175.35" stroke="#444" stroke-width="0.7"/>
<line x1="519.40" y1="201.25" x2="520.70" y2="201.25" stroke="#444" stroke-width="0.7"/>
<text x="419.6" y="133.8" font-size="9.3" fill="#000">Vm(mV)</text>
<text x="513.0" y="205.6" font-size="8.7" text-anchor="middle" fill="#000" transform="rotate(-90 513.0 205.6)">I(pA)</text>
<text x="467.5" y="207.5" font-size="8.6" text-anchor="middle" font-style="italic" fill="#000">dorn1-3</text>
<line x1="487.85" y1="136.70" x2="487.85" y2="139.70" stroke="#333" stroke-width="0.7"/>
<line x1="486.65" y1="136.70" x2="489.05" y2="136.70" stroke="#333" stroke-width="0.6"/>
<line x1="486.65" y1="139.70" x2="489.05" y2="139.70" stroke="#333" stroke-width="0.6"/>
<line x1="487.85" y1="137.30" x2="487.85" y2="141.30" stroke="#333" stroke-width="0.7"/>
<line x1="486.65" y1="137.30" x2="489.05" y2="137.30" stroke="#333" stroke-width="0.6"/>
<line x1="486.65" y1="141.30" x2="489.05" y2="141.30" stroke="#333" stroke-width="0.6"/>
<line x1="479.80" y1="140.80" x2="479.80" y2="145.80" stroke="#333" stroke-width="0.7"/>
<line x1="478.60" y1="140.80" x2="481.00" y2="140.80" stroke="#333" stroke-width="0.6"/>
<line x1="478.60" y1="145.80" x2="481.00" y2="145.80" stroke="#333" stroke-width="0.6"/>
<line x1="479.80" y1="139.70" x2="479.80" y2="145.70" stroke="#333" stroke-width="0.7"/>
<line x1="478.60" y1="139.70" x2="481.00" y2="139.70" stroke="#333" stroke-width="0.6"/>
<line x1="478.60" y1="145.70" x2="481.00" y2="145.70" stroke="#333" stroke-width="0.6"/>
<line x1="471.75" y1="143.70" x2="471.75" y2="150.70" stroke="#333" stroke-width="0.7"/>
<line x1="470.55" y1="143.70" x2="472.95" y2="143.70" stroke="#333" stroke-width="0.6"/>
<line x1="470.55" y1="150.70" x2="472.95" y2="150.70" stroke="#333" stroke-width="0.6"/>
<line x1="471.75" y1="140.10" x2="471.75" y2="150.10" stroke="#333" stroke-width="0.7"/>
<line x1="470.55" y1="140.10" x2="472.95" y2="140.10" stroke="#333" stroke-width="0.6"/>
<line x1="470.55" y1="150.10" x2="472.95" y2="150.10" stroke="#333" stroke-width="0.6"/>
<line x1="463.70" y1="148.80" x2="463.70" y2="158.80" stroke="#333" stroke-width="0.7"/>
<line x1="462.50" y1="148.80" x2="464.90" y2="148.80" stroke="#333" stroke-width="0.6"/>
<line x1="462.50" y1="158.80" x2="464.90" y2="158.80" stroke="#333" stroke-width="0.6"/>
<line x1="463.70" y1="144.90" x2="463.70" y2="157.50" stroke="#333" stroke-width="0.7"/>
<line x1="462.50" y1="144.90" x2="464.90" y2="144.90" stroke="#333" stroke-width="0.6"/>
<line x1="462.50" y1="157.50" x2="464.90" y2="157.50" stroke="#333" stroke-width="0.6"/>
<line x1="455.65" y1="155.70" x2="455.65" y2="167.70" stroke="#333" stroke-width="0.7"/>
<line x1="454.45" y1="155.70" x2="456.85" y2="155.70" stroke="#333" stroke-width="0.6"/>
<line x1="454.45" y1="167.70" x2="456.85" y2="167.70" stroke="#333" stroke-width="0.6"/>
<line x1="455.65" y1="153.00" x2="455.65" y2="166.20" stroke="#333" stroke-width="0.7"/>
<line x1="454.45" y1="153.00" x2="456.85" y2="153.00" stroke="#333" stroke-width="0.6"/>
<line x1="454.45" y1="166.20" x2="456.85" y2="166.20" stroke="#333" stroke-width="0.6"/>
<line x1="447.60" y1="161.30" x2="447.60" y2="175.30" stroke="#333" stroke-width="0.7"/>
<line x1="446.40" y1="161.30" x2="448.80" y2="161.30" stroke="#333" stroke-width="0.6"/>
<line x1="446.40" y1="175.30" x2="448.80" y2="175.30" stroke="#333" stroke-width="0.6"/>
<line x1="447.60" y1="160.30" x2="447.60" y2="175.30" stroke="#333" stroke-width="0.7"/>
<line x1="446.40" y1="160.30" x2="448.80" y2="160.30" stroke="#333" stroke-width="0.6"/>
<line x1="446.40" y1="175.30" x2="448.80" y2="175.30" stroke="#333" stroke-width="0.6"/>
<line x1="439.55" y1="168.80" x2="439.55" y2="184.80" stroke="#333" stroke-width="0.7"/>
<line x1="438.35" y1="168.80" x2="440.75" y2="168.80" stroke="#333" stroke-width="0.6"/>
<line x1="438.35" y1="184.80" x2="440.75" y2="184.80" stroke="#333" stroke-width="0.6"/>
<line x1="439.55" y1="167.60" x2="439.55" y2="184.80" stroke="#333" stroke-width="0.7"/>
<line x1="438.35" y1="167.60" x2="440.75" y2="167.60" stroke="#333" stroke-width="0.6"/>
<line x1="438.35" y1="184.80" x2="440.75" y2="184.80" stroke="#333" stroke-width="0.6"/>
<line x1="431.50" y1="179.10" x2="431.50" y2="197.10" stroke="#333" stroke-width="0.7"/>
<line x1="430.30" y1="179.10" x2="432.70" y2="179.10" stroke="#333" stroke-width="0.6"/>
<line x1="430.30" y1="197.10" x2="432.70" y2="197.10" stroke="#333" stroke-width="0.6"/>
<line x1="431.50" y1="176.70" x2="431.50" y2="195.30" stroke="#333" stroke-width="0.7"/>
<line x1="430.30" y1="176.70" x2="432.70" y2="176.70" stroke="#333" stroke-width="0.6"/>
<line x1="430.30" y1="195.30" x2="432.70" y2="195.30" stroke="#333" stroke-width="0.6"/>
<polyline points="512.0,136.3 503.9,136.5 495.9,136.9 487.9,138.2 479.8,143.3 471.8,147.2 463.7,153.8 455.6,161.7 447.6,168.3 439.6,176.8 431.5,188.1" fill="none" stroke="#444" stroke-width="0.9"/>
<polyline points="512.0,136.3 503.9,136.5 495.9,136.9 487.9,139.3 479.8,142.7 471.8,145.1 463.7,151.2 455.6,159.6 447.6,167.8 439.6,176.2 431.5,186.0" fill="none" stroke="#000" stroke-width="1.0"/>
<circle cx="512.0" cy="136.3" r="1.4" fill="#fff" stroke="#111" stroke-width="0.8"/>
<circle cx="503.9" cy="136.5" r="1.4" fill="#fff" stroke="#111" stroke-width="0.8"/>
<circle cx="495.9" cy="136.9" r="1.4" fill="#fff" stroke="#111" stroke-width="0.8"/>
<circle cx="487.9" cy="138.2" r="1.4" fill="#fff" stroke="#111" stroke-width="0.8"/>
<circle cx="479.8" cy="143.3" r="1.4" fill="#fff" stroke="#111" stroke-width="0.8"/>
<circle cx="471.8" cy="147.2" r="1.4" fill="#fff" stroke="#111" stroke-width="0.8"/>
<circle cx="463.7" cy="153.8" r="1.4" fill="#fff" stroke="#111" stroke-width="0.8"/>
<circle cx="455.6" cy="161.7" r="1.4" fill="#fff" stroke="#111" stroke-width="0.8"/>
<circle cx="447.6" cy="168.3" r="1.4" fill="#fff" stroke="#111" stroke-width="0.8"/>
<circle cx="439.6" cy="176.8" r="1.4" fill="#fff" stroke="#111" stroke-width="0.8"/>
<circle cx="431.5" cy="188.1" r="1.4" fill="#fff" stroke="#111" stroke-width="0.8"/>
<ellipse cx="512.0" cy="136.3" rx="1.5" ry="1.7" fill="#000"/>
<ellipse cx="503.9" cy="136.5" rx="1.5" ry="1.7" fill="#000"/>
<ellipse cx="495.9" cy="136.9" rx="1.5" ry="1.7" fill="#000"/>
<ellipse cx="487.9" cy="139.3" rx="1.5" ry="1.7" fill="#000"/>
<ellipse cx="479.8" cy="142.7" rx="1.5" ry="1.7" fill="#000"/>
<ellipse cx="471.8" cy="145.1" rx="1.5" ry="1.7" fill="#000"/>
<ellipse cx="463.7" cy="151.2" rx="1.5" ry="1.7" fill="#000"/>
<ellipse cx="455.6" cy="159.6" rx="1.5" ry="1.7" fill="#000"/>
<ellipse cx="447.6" cy="167.8" rx="1.5" ry="1.7" fill="#000"/>
<ellipse cx="439.6" cy="176.2" rx="1.5" ry="1.7" fill="#000"/>
<ellipse cx="431.5" cy="186.0" rx="1.5" ry="1.7" fill="#000"/>
<line x1="466.50" y1="174.10" x2="483.00" y2="174.10" stroke="#666" stroke-width="1.1"/>
<circle cx="474.8" cy="174.1" r="1.4" fill="#fff" stroke="#000" stroke-width="0.85"/>
<line x1="466.50" y1="183.20" x2="483.00" y2="183.20" stroke="#555" stroke-width="1.2"/>
<ellipse cx="474.8" cy="183.2" rx="1.5" ry="1.6" fill="#000"/>
<text x="487.2" y="175.3" font-size="8.0" fill="#000">control</text>
<text x="487.2" y="186.2" font-size="8.1" fill="#000">ATP</text>
<line x1="302.60" y1="349.40" x2="392.10" y2="349.40" stroke="#222" stroke-width="1"/>
<line x1="391.60" y1="349.40" x2="391.60" y2="415.10" stroke="#222" stroke-width="1"/>
<line x1="383.60" y1="347.60" x2="383.60" y2="349.40" stroke="#333" stroke-width="0.8"/>
<text x="383.6" y="346.5" font-size="9.2" text-anchor="middle" fill="#000">0</text>
<line x1="363.48" y1="347.60" x2="363.48" y2="349.40" stroke="#333" stroke-width="0.8"/>
<line x1="343.35" y1="347.60" x2="343.35" y2="349.40" stroke="#333" stroke-width="0.8"/>
<text x="343.35" y="346.5" font-size="9.2" text-anchor="middle" fill="#000">-100</text>
<line x1="323.23" y1="347.60" x2="323.23" y2="349.40" stroke="#333" stroke-width="0.8"/>
<line x1="303.10" y1="347.60" x2="303.10" y2="349.40" stroke="#333" stroke-width="0.8"/>
<text x="303.1" y="346.5" font-size="9.2" text-anchor="middle" fill="#000">-200</text>
<line x1="391.60" y1="363.00" x2="393.80" y2="363.00" stroke="#333" stroke-width="0.8"/>
<text x="0" y="0" font-size="9.2" fill="#000" transform="translate(395.7 366.3) scale(0.93 1)">0</text>
<line x1="391.60" y1="388.80" x2="393.80" y2="388.80" stroke="#333" stroke-width="0.8"/>
<text x="0" y="0" font-size="9.2" fill="#000" transform="translate(394.2 392.1) scale(0.93 1)">-50</text>
<line x1="391.60" y1="414.60" x2="393.80" y2="414.60" stroke="#333" stroke-width="0.8"/>
<text x="0" y="0" font-size="9.2" fill="#000" transform="translate(394.2 417.9) scale(0.93 1)">-100</text>
<line x1="391.60" y1="375.90" x2="392.90" y2="375.90" stroke="#444" stroke-width="0.7"/>
<line x1="391.60" y1="401.70" x2="392.90" y2="401.70" stroke="#444" stroke-width="0.7"/>
<text x="286.9" y="359.2" font-size="9.3" fill="#000">Vm(mV)</text>
<text x="384.2" y="406.9" font-size="8.7" text-anchor="middle" fill="#000" transform="rotate(-90 384.2 406.9)">I(pA)</text>
<text x="337.5" y="416.3" font-size="8.6" text-anchor="middle" font-style="italic" fill="#000">dorn1-1</text>
<line x1="359.45" y1="363.20" x2="359.45" y2="365.20" stroke="#333" stroke-width="0.7"/>
<line x1="358.25" y1="363.20" x2="360.65" y2="363.20" stroke="#333" stroke-width="0.6"/>
<line x1="358.25" y1="365.20" x2="360.65" y2="365.20" stroke="#333" stroke-width="0.6"/>
<line x1="359.45" y1="362.70" x2="359.45" y2="364.70" stroke="#333" stroke-width="0.7"/>
<line x1="358.25" y1="362.70" x2="360.65" y2="362.70" stroke="#333" stroke-width="0.6"/>
<line x1="358.25" y1="364.70" x2="360.65" y2="364.70" stroke="#333" stroke-width="0.6"/>
<line x1="351.40" y1="364.60" x2="351.40" y2="367.00" stroke="#333" stroke-width="0.7"/>
<line x1="350.20" y1="364.60" x2="352.60" y2="364.60" stroke="#333" stroke-width="0.6"/>
<line x1="350.20" y1="367.00" x2="352.60" y2="367.00" stroke="#333" stroke-width="0.6"/>
<line x1="351.40" y1="363.00" x2="351.40" y2="365.40" stroke="#333" stroke-width="0.7"/>
<line x1="350.20" y1="363.00" x2="352.60" y2="363.00" stroke="#333" stroke-width="0.6"/>
<line x1="350.20" y1="365.40" x2="352.60" y2="365.40" stroke="#333" stroke-width="0.6"/>
<line x1="343.35" y1="364.90" x2="343.35" y2="368.50" stroke="#333" stroke-width="0.7"/>
<line x1="342.15" y1="364.90" x2="344.55" y2="364.90" stroke="#333" stroke-width="0.6"/>
<line x1="342.15" y1="368.50" x2="344.55" y2="368.50" stroke="#333" stroke-width="0.6"/>
<line x1="343.35" y1="362.50" x2="343.35" y2="367.30" stroke="#333" stroke-width="0.7"/>
<line x1="342.15" y1="362.50" x2="344.55" y2="362.50" stroke="#333" stroke-width="0.6"/>
<line x1="342.15" y1="367.30" x2="344.55" y2="367.30" stroke="#333" stroke-width="0.6"/>
<line x1="335.30" y1="366.90" x2="335.30" y2="371.90" stroke="#333" stroke-width="0.7"/>
<line x1="334.10" y1="366.90" x2="336.50" y2="366.90" stroke="#333" stroke-width="0.6"/>
<line x1="334.10" y1="371.90" x2="336.50" y2="371.90" stroke="#333" stroke-width="0.6"/>
<line x1="335.30" y1="364.30" x2="335.30" y2="369.30" stroke="#333" stroke-width="0.7"/>
<line x1="334.10" y1="364.30" x2="336.50" y2="364.30" stroke="#333" stroke-width="0.6"/>
<line x1="334.10" y1="369.30" x2="336.50" y2="369.30" stroke="#333" stroke-width="0.6"/>
<line x1="327.25" y1="369.20" x2="327.25" y2="375.20" stroke="#333" stroke-width="0.7"/>
<line x1="326.05" y1="369.20" x2="328.45" y2="369.20" stroke="#333" stroke-width="0.6"/>
<line x1="326.05" y1="375.20" x2="328.45" y2="375.20" stroke="#333" stroke-width="0.6"/>
<line x1="327.25" y1="366.00" x2="327.25" y2="372.00" stroke="#333" stroke-width="0.7"/>
<line x1="326.05" y1="366.00" x2="328.45" y2="366.00" stroke="#333" stroke-width="0.6"/>
<line x1="326.05" y1="372.00" x2="328.45" y2="372.00" stroke="#333" stroke-width="0.6"/>
<line x1="319.20" y1="371.20" x2="319.20" y2="378.20" stroke="#333" stroke-width="0.7"/>
<line x1="318.00" y1="371.20" x2="320.40" y2="371.20" stroke="#333" stroke-width="0.6"/>
<line x1="318.00" y1="378.20" x2="320.40" y2="378.20" stroke="#333" stroke-width="0.6"/>
<line x1="319.20" y1="368.00" x2="319.20" y2="375.00" stroke="#333" stroke-width="0.7"/>
<line x1="318.00" y1="368.00" x2="320.40" y2="368.00" stroke="#333" stroke-width="0.6"/>
<line x1="318.00" y1="375.00" x2="320.40" y2="375.00" stroke="#333" stroke-width="0.6"/>
<line x1="311.15" y1="374.70" x2="311.15" y2="383.70" stroke="#333" stroke-width="0.7"/>
<line x1="309.95" y1="374.70" x2="312.35" y2="374.70" stroke="#333" stroke-width="0.6"/>
<line x1="309.95" y1="383.70" x2="312.35" y2="383.70" stroke="#333" stroke-width="0.6"/>
<line x1="311.15" y1="371.40" x2="311.15" y2="379.40" stroke="#333" stroke-width="0.7"/>
<line x1="309.95" y1="371.40" x2="312.35" y2="371.40" stroke="#333" stroke-width="0.6"/>
<line x1="309.95" y1="379.40" x2="312.35" y2="379.40" stroke="#333" stroke-width="0.6"/>
<line x1="303.10" y1="381.50" x2="303.10" y2="396.70" stroke="#333" stroke-width="0.7"/>
<line x1="301.90" y1="381.50" x2="304.30" y2="381.50" stroke="#333" stroke-width="0.6"/>
<line x1="301.90" y1="396.70" x2="304.30" y2="396.70" stroke="#333" stroke-width="0.6"/>
<line x1="303.10" y1="378.10" x2="303.10" y2="387.30" stroke="#333" stroke-width="0.7"/>
<line x1="301.90" y1="378.10" x2="304.30" y2="378.10" stroke="#333" stroke-width="0.6"/>
<line x1="301.90" y1="387.30" x2="304.30" y2="387.30" stroke="#333" stroke-width="0.6"/>
<polyline points="383.6,363.2 375.6,363.4 367.5,363.6 359.5,364.2 351.4,365.8 343.4,366.7 335.3,369.4 327.2,372.2 319.2,374.7 311.2,379.2 303.1,389.1" fill="none" stroke="#333" stroke-width="0.9"/>
<polyline points="383.6,363.2 375.6,363.2 367.5,363.3 359.5,363.7 351.4,364.2 343.4,364.9 335.3,366.8 327.2,369.0 319.2,371.5 311.2,375.4 303.1,382.7" fill="none" stroke="#000" stroke-width="1.0"/>
<circle cx="383.6" cy="363.2" r="1.4" fill="#fff" stroke="#111" stroke-width="0.8"/>
<circle cx="375.6" cy="363.4" r="1.4" fill="#fff" stroke="#111" stroke-width="0.8"/>
<circle cx="367.5" cy="363.6" r="1.4" fill="#fff" stroke="#111" stroke-width="0.8"/>
<circle cx="359.5" cy="364.2" r="1.4" fill="#fff" stroke="#111" stroke-width="0.8"/>
<circle cx="351.4" cy="365.8" r="1.4" fill="#fff" stroke="#111" stroke-width="0.8"/>
<circle cx="343.4" cy="366.7" r="1.4" fill="#fff" stroke="#111" stroke-width="0.8"/>
<circle cx="335.3" cy="369.4" r="1.4" fill="#fff" stroke="#111" stroke-width="0.8"/>
<circle cx="327.2" cy="372.2" r="1.4" fill="#fff" stroke="#111" stroke-width="0.8"/>
<circle cx="319.2" cy="374.7" r="1.4" fill="#fff" stroke="#111" stroke-width="0.8"/>
<circle cx="311.2" cy="379.2" r="1.4" fill="#fff" stroke="#111" stroke-width="0.8"/>
<circle cx="303.1" cy="389.1" r="1.4" fill="#fff" stroke="#111" stroke-width="0.8"/>
<ellipse cx="383.6" cy="363.2" rx="1.5" ry="1.7" fill="#000"/>
<ellipse cx="375.6" cy="363.2" rx="1.5" ry="1.7" fill="#000"/>
<ellipse cx="367.5" cy="363.3" rx="1.5" ry="1.7" fill="#000"/>
<ellipse cx="359.5" cy="363.7" rx="1.5" ry="1.7" fill="#000"/>
<ellipse cx="351.4" cy="364.2" rx="1.5" ry="1.7" fill="#000"/>
<ellipse cx="343.4" cy="364.9" rx="1.5" ry="1.7" fill="#000"/>
<ellipse cx="335.3" cy="366.8" rx="1.5" ry="1.7" fill="#000"/>
<ellipse cx="327.2" cy="369.0" rx="1.5" ry="1.7" fill="#000"/>
<ellipse cx="319.2" cy="371.5" rx="1.5" ry="1.7" fill="#000"/>
<ellipse cx="311.2" cy="375.4" rx="1.5" ry="1.7" fill="#000"/>
<ellipse cx="303.1" cy="382.7" rx="1.5" ry="1.7" fill="#000"/>
<line x1="333.20" y1="385.30" x2="349.10" y2="385.30" stroke="#444" stroke-width="1.1"/>
<circle cx="341.1" cy="385.3" r="1.4" fill="#fff" stroke="#000" stroke-width="0.85"/>
<line x1="333.20" y1="393.80" x2="349.10" y2="393.80" stroke="#777" stroke-width="1.2"/>
<ellipse cx="341.1" cy="393.8" rx="1.5" ry="1.6" fill="#000"/>
<text x="353.0" y="386.5" font-size="8.0" fill="#000">control</text>
<text x="353.0" y="396.8" font-size="8.1" fill="#000">ATP</text>
<line x1="431.20" y1="350.70" x2="519.90" y2="350.70" stroke="#222" stroke-width="1"/>
<line x1="519.40" y1="350.70" x2="519.40" y2="415.60" stroke="#222" stroke-width="1"/>
<line x1="512.20" y1="348.90" x2="512.20" y2="350.70" stroke="#333" stroke-width="0.8"/>
<text x="512.2" y="347.8" font-size="9.2" text-anchor="middle" fill="#000">0</text>
<line x1="492.08" y1="348.90" x2="492.08" y2="350.70" stroke="#333" stroke-width="0.8"/>
<line x1="471.95" y1="348.90" x2="471.95" y2="350.70" stroke="#333" stroke-width="0.8"/>
<text x="471.95" y="347.8" font-size="9.2" text-anchor="middle" fill="#000">-100</text>
<line x1="451.83" y1="348.90" x2="451.83" y2="350.70" stroke="#333" stroke-width="0.8"/>
<line x1="431.70" y1="348.90" x2="431.70" y2="350.70" stroke="#333" stroke-width="0.8"/>
<text x="431.7" y="347.8" font-size="9.2" text-anchor="middle" fill="#000">-200</text>
<line x1="519.40" y1="363.50" x2="521.60" y2="363.50" stroke="#333" stroke-width="0.8"/>
<text x="0" y="0" font-size="9.2" fill="#000" transform="translate(523.7 366.8) scale(0.93 1)">0</text>
<line x1="519.40" y1="389.30" x2="521.60" y2="389.30" stroke="#333" stroke-width="0.8"/>
<text x="0" y="0" font-size="9.2" fill="#000" transform="translate(521.1 392.6) scale(0.93 1)">-50</text>
<line x1="519.40" y1="415.10" x2="521.60" y2="415.10" stroke="#333" stroke-width="0.8"/>
<text x="0" y="0" font-size="9.2" fill="#000" transform="translate(521.1 418.4) scale(0.93 1)">-100</text>
<line x1="519.40" y1="376.40" x2="520.70" y2="376.40" stroke="#444" stroke-width="0.7"/>
<line x1="519.40" y1="402.20" x2="520.70" y2="402.20" stroke="#444" stroke-width="0.7"/>
<text x="420" y="360.3" font-size="9.3" fill="#000">Vm(mV)</text>
<text x="515.6" y="408.0" font-size="8.7" text-anchor="middle" fill="#000" transform="rotate(-90 515.6 408.0)">I(pA)</text>
<text x="470.0" y="417.4" font-size="8.6" text-anchor="middle" font-style="italic" fill="#000">dorn1-3</text>
<line x1="472.0" y1="364.0" x2="472.0" y2="366.0" stroke="#8a8a8a" stroke-width="0.75" stroke-dasharray="1.7 0.6"/>
<line x1="471.05" y1="364.00" x2="472.85" y2="364.00" stroke="#8a8a8a" stroke-width="0.6"/>
<line x1="471.05" y1="366.00" x2="472.85" y2="366.00" stroke="#8a8a8a" stroke-width="0.6"/>
<line x1="472.0" y1="364.0" x2="472.0" y2="366.0" stroke="#505050" stroke-width="0.75" stroke-dasharray="1.7 0.6"/>
<line x1="471.05" y1="364.00" x2="472.85" y2="364.00" stroke="#505050" stroke-width="0.6"/>
<line x1="471.05" y1="366.00" x2="472.85" y2="366.00" stroke="#505050" stroke-width="0.6"/>
<line x1="463.9" y1="364.8" x2="463.9" y2="367.8" stroke="#8a8a8a" stroke-width="0.75" stroke-dasharray="1.7 0.6"/>
<line x1="463.00" y1="364.80" x2="464.80" y2="364.80" stroke="#8a8a8a" stroke-width="0.6"/>
<line x1="463.00" y1="367.80" x2="464.80" y2="367.80" stroke="#8a8a8a" stroke-width="0.6"/>
<line x1="463.9" y1="364.8" x2="463.9" y2="367.8" stroke="#505050" stroke-width="0.75" stroke-dasharray="1.7 0.6"/>
<line x1="463.00" y1="364.80" x2="464.80" y2="364.80" stroke="#505050" stroke-width="0.6"/>
<line x1="463.00" y1="367.80" x2="464.80" y2="367.80" stroke="#505050" stroke-width="0.6"/>
<line x1="455.9" y1="366.5" x2="455.9" y2="371.5" stroke="#8a8a8a" stroke-width="0.75" stroke-dasharray="1.7 0.6"/>
<line x1="454.95" y1="366.50" x2="456.75" y2="366.50" stroke="#8a8a8a" stroke-width="0.6"/>
<line x1="454.95" y1="371.50" x2="456.75" y2="371.50" stroke="#8a8a8a" stroke-width="0.6"/>
<line x1="455.9" y1="367.8" x2="455.9" y2="372.8" stroke="#505050" stroke-width="0.75" stroke-dasharray="1.7 0.6"/>
<line x1="454.95" y1="367.80" x2="456.75" y2="367.80" stroke="#505050" stroke-width="0.6"/>
<line x1="454.95" y1="372.80" x2="456.75" y2="372.80" stroke="#505050" stroke-width="0.6"/>
<line x1="447.8" y1="368.6" x2="447.8" y2="375.6" stroke="#8a8a8a" stroke-width="0.75" stroke-dasharray="1.7 0.6"/>
<line x1="446.90" y1="368.60" x2="448.70" y2="368.60" stroke="#8a8a8a" stroke-width="0.6"/>
<line x1="446.90" y1="375.60" x2="448.70" y2="375.60" stroke="#8a8a8a" stroke-width="0.6"/>
<line x1="447.8" y1="371.8" x2="447.8" y2="378.8" stroke="#505050" stroke-width="0.75" stroke-dasharray="1.7 0.6"/>
<line x1="446.90" y1="371.80" x2="448.70" y2="371.80" stroke="#505050" stroke-width="0.6"/>
<line x1="446.90" y1="378.80" x2="448.70" y2="378.80" stroke="#505050" stroke-width="0.6"/>
<line x1="439.8" y1="372.7" x2="439.8" y2="384.7" stroke="#8a8a8a" stroke-width="0.75" stroke-dasharray="1.7 0.6"/>
<line x1="438.85" y1="372.70" x2="440.65" y2="372.70" stroke="#8a8a8a" stroke-width="0.6"/>
<line x1="438.85" y1="384.70" x2="440.65" y2="384.70" stroke="#8a8a8a" stroke-width="0.6"/>
<line x1="439.8" y1="377.2" x2="439.8" y2="388.2" stroke="#505050" stroke-width="0.75" stroke-dasharray="1.7 0.6"/>
<line x1="438.85" y1="377.20" x2="440.65" y2="377.20" stroke="#505050" stroke-width="0.6"/>
<line x1="438.85" y1="388.20" x2="440.65" y2="388.20" stroke="#505050" stroke-width="0.6"/>
<line x1="431.7" y1="377.5" x2="431.7" y2="397.3" stroke="#8a8a8a" stroke-width="0.75" stroke-dasharray="1.7 0.6"/>
<line x1="430.80" y1="377.50" x2="432.60" y2="377.50" stroke="#8a8a8a" stroke-width="0.6"/>
<line x1="430.80" y1="397.30" x2="432.60" y2="397.30" stroke="#8a8a8a" stroke-width="0.6"/>
<line x1="431.7" y1="383.7" x2="431.7" y2="400.1" stroke="#505050" stroke-width="0.75" stroke-dasharray="1.7 0.6"/>
<line x1="430.80" y1="383.70" x2="432.60" y2="383.70" stroke="#505050" stroke-width="0.6"/>
<line x1="430.80" y1="400.10" x2="432.60" y2="400.10" stroke="#505050" stroke-width="0.6"/>
<polyline points="512.2,363.2 504.2,363.2 496.1,363.4 488.1,363.7 480.0,364.2 472.0,365.0 463.9,366.3 455.9,369.0 447.8,372.1 439.8,378.7 431.7,387.4" fill="none" stroke="#333" stroke-width="0.9"/>
<polyline points="512.2,363.2 504.2,363.2 496.1,363.4 488.1,363.7 480.0,364.2 472.0,365.0 463.9,366.3 455.9,370.3 447.8,375.3 439.8,382.7 431.7,391.9" fill="none" stroke="#000" stroke-width="1.0"/>
<circle cx="512.2" cy="363.2" r="1.4" fill="#fff" stroke="#111" stroke-width="0.8"/>
<circle cx="504.2" cy="363.2" r="1.4" fill="#fff" stroke="#111" stroke-width="0.8"/>
<circle cx="496.1" cy="363.4" r="1.4" fill="#fff" stroke="#111" stroke-width="0.8"/>
<circle cx="488.1" cy="363.7" r="1.4" fill="#fff" stroke="#111" stroke-width="0.8"/>
<circle cx="480.0" cy="364.2" r="1.4" fill="#fff" stroke="#111" stroke-width="0.8"/>
<circle cx="472.0" cy="365.0" r="1.4" fill="#fff" stroke="#111" stroke-width="0.8"/>
<circle cx="463.9" cy="366.3" r="1.4" fill="#fff" stroke="#111" stroke-width="0.8"/>
<circle cx="455.9" cy="369.0" r="1.4" fill="#fff" stroke="#111" stroke-width="0.8"/>
<circle cx="447.8" cy="372.1" r="1.4" fill="#fff" stroke="#111" stroke-width="0.8"/>
<circle cx="439.8" cy="378.7" r="1.4" fill="#fff" stroke="#111" stroke-width="0.8"/>
<circle cx="431.7" cy="387.4" r="1.4" fill="#fff" stroke="#111" stroke-width="0.8"/>
<ellipse cx="512.2" cy="363.2" rx="1.5" ry="1.7" fill="#000"/>
<ellipse cx="504.2" cy="363.2" rx="1.5" ry="1.7" fill="#000"/>
<ellipse cx="496.1" cy="363.4" rx="1.5" ry="1.7" fill="#000"/>
<ellipse cx="488.1" cy="363.7" rx="1.5" ry="1.7" fill="#000"/>
<ellipse cx="480.0" cy="364.2" rx="1.5" ry="1.7" fill="#000"/>
<ellipse cx="472.0" cy="365.0" rx="1.5" ry="1.7" fill="#000"/>
<ellipse cx="463.9" cy="366.3" rx="1.5" ry="1.7" fill="#000"/>
<ellipse cx="455.9" cy="370.3" rx="1.5" ry="1.7" fill="#000"/>
<ellipse cx="447.8" cy="375.3" rx="1.5" ry="1.7" fill="#000"/>
<ellipse cx="439.8" cy="382.7" rx="1.5" ry="1.7" fill="#000"/>
<ellipse cx="431.7" cy="391.9" rx="1.5" ry="1.7" fill="#000"/>
<line x1="461.00" y1="385.30" x2="476.50" y2="385.30" stroke="#555" stroke-width="1.1"/>
<circle cx="468.8" cy="385.3" r="1.4" fill="#fff" stroke="#000" stroke-width="0.85"/>
<line x1="461.00" y1="393.80" x2="476.50" y2="393.80" stroke="#444" stroke-width="1.2"/>
<ellipse cx="468.8" cy="393.8" rx="1.5" ry="1.6" fill="#000"/>
<text x="481.3" y="386.5" font-size="8.0" fill="#000">control</text>
<text x="481.3" y="396.8" font-size="8.1" fill="#000">ATP</text>
<polygon points="332.3,21.6 332.3,21.6 334.3,26.7 336.3,30.2 338.3,32.6 340.3,34.2 342.3,35.3 344.3,36.1 346.3,36.7 348.3,37.0 350.3,37.3 352.3,37.5 354.3,37.7 356.3,37.8 358.3,37.9 360.3,37.9 362.3,38.0 364.3,38.1 366.3,38.1 368.3,38.2 370.3,38.2 372.3,38.2 374.3,38.3 376.3,38.3 378.3,38.4 380.3,38.4 382.3,38.5 384.3,38.5 386.3,38.5 388.3,38.6 390.3,38.6 392.3,38.7 394.3,38.7 396.3,38.7 398.3,38.8 400.3,38.8 402.3,38.9 404.3,38.9 406.3,38.9 408.3,39.0 410.3,39.0 412.3,39.1 414.3,39.1 416.3,39.2 418.3,39.2 418.6,39.2 418.6,21.6" fill="#000" fill-opacity="0.82"/>
<path d="M317.0 21.5l.6 .2l.6-.1l.6-.1l.6-.2l.6 .1l.6 .4l.6 0l.6 .2l.6-.1l.6-0l.6-.1l.6-.5l.6 .3l.6 .2l.6 0l.6-.5l.6-.4l.6 .1l.6 .1l.6 .3l.6 .1l.6 .2l.6-.2l.6 .1l.6 .1l.6-.2l.6 .6l.6-0l.6 .2l.6-.5l.6-.3l.6-.1l.6 0l.6 .3l.6 .1l.6-.3l.6-.3l.6 0l.6 .6l.6-.4l.6 .2l.6 .1l.6-.5l.6 .2l.6 .5l.6-.8l.6 .1l.6 .1l.6-.1l.6 .3l.6 0l.6-.4l.6 .5l.6 .2l.6 .2l.6 .3l.6-.1l.6-.2l.6-.6l.6 .3l.6-.3l.6-0l.6-.4l.6-.1l.6 .1l.6 .7l.6-.7l.6-.3l.6 .5l.6 .6l.6 .1l.6-.7l.6-.7l.6 .6l.6-.1l.6-.1l.6 .6l.6 .4l.6-.1l.6 0l.6 .1l.6 .4l.6-.1l.6-0l.6-.1l.6-.7l.6 .5l.6 .2l.6-0l.6-.9l.6-0l.6 .4l.6-.6l.6 .2l.6 .5l.6-.5l.6 .7l.6 .1l.6-.2l.6 0l.6 .1l.6-.1l.6 .3l.6-.4l.6-.2l.6 .4l.6-.1l.6-.4l.6 .4l.6 .4l.6-.4l.6-.5l.6 .1l.6 0l.6-0l.6 .5l.6-.4l.6 .4l.6-.5l.6-.2l.6 .4l.6 .4l.6 .1l.6-.1l.6-.1l.6-.1l.6 .1l.6-.2l.6 .1l.6 .1l.6-.1l.6 .2l.6 0l.6 .5l.6-.2l.6-.4l.6-.3l.6 0l.6 .3l.6-.2l.6 .1l.6 .5l.6-1.1l.6-.2l.6 .3l.6 .3l.6 .1l.6-.2l.6 .3l.6-0l.6-.3l.6 .9l.6-.2l.6-.4l.6-.1l.6-.1l.6-0l.6-.9l.6 .2l.6 .6l.6-.4l.6 .2l.6 .4l.6 .3l.6 .3l.6-.8l.6-.1l.6-0l.6 .3l.6 .2l.6-.8l.6 .5l.6-.4l.6 .3l.6-.3l.6 .2l.6 .4l.6-.1l.6-0l.6 .2l.6-.1l.6-.1l.6 .4l.6 .1l.6-.3l.6 .6l.6-.7l.6 .2l.6-.2" fill="none" stroke="#000" stroke-width="0.9"/>
<path d="M317.0 21.6l.6 .2l.6-0l.6 .1l.6-.5l.6-.4l.6 .4l.6-.2l.6-.1l.6-.2l.6 .6l.6 .3l.6 .3l.6-.5l.6 0l.6-.3l.6 .3l.6 .4l.6-.4l.6 .4l.6 .1l.6-.2l.6-.7l.6 .6l.6-.1l.6-.2l.6 .2l.6 .3l.6 .5l.6-.5l.6 .5l.6 .4l.6 .2l.6-.4l.6-.4l.6 .3l.6-.1l.6-0l.6 .4l.6-.3l.6-.9l.6 .1l.6-.4l.6 .7l.6 .2l.6-.2l.6 .1l.6 .3l.6-0l.6 .4l.6-.2l.6 .2l.6 .3l.6 .2l.6-.6l.6 .1l.6-.8l.6-.3l.6-.4l.6 .7l.6-.3l.6 .2l.6 .1l.6 .1l.6-.1l.6 .2l.6 .6l.6-.2l.6 .1l.6 .1l.6-.3l.6-.5l.6-.1l.6 .5l.6-.6l.6 0l.6 .5l.6 .3l.6-.1l.6 .2l.6-.1l.6-.5l.6-.5l.6 .1l.6 .5l.6-.1l.6-.3l.6-0l.6-.3l.6 .3l.6-.2l.6 .4l.6-.7l.6 .5l.6-0l.6-.5l.6 .7l.6 0l.6-.6l.6 0l.6 .5l.6-0l.6 .4l.6 .3l.6 .1l.6-.1l.6 .3l.6 0l.6-.1l.6-.9l.6 .5l.6 .4l.6-.3l.6-.2l.6 .6l.6-.8l.6 .2l.6 .8l.6-.6l.6 .1l.6 .5l.6-.3l.6-0l.6 .1l.6-.5l.6-.1l.6 .1l.6 .2l.6-.1l.6-.1l.6-.4l.6 0l.6 .4l.6 0l.6-.3l.6-.2l.6 1.1l.6 .1l.6-.1l.6-1.1l.6 .3l.6 .2l.6 .6l.6-.2l.6-.2l.6 .1l.6-.8l.6 .5l.6 .1l.6-.3l.6 .5l.6 .4l.6-.8l.6-.2l.6 .2l.6 .1l.6-.2l.6-.3l.6 .9l.6 .2l.6-.7l.6-.4l.6 .7l.6 .2l.6 .4l.6-0l.6-.7l.6 0l.6-.8l.6 0l.6-.5l.6 .3l.6-.2l.6 0l.6 .2l.6 .1l.6 .1l.6 0l.6-.2l.6 .2l.6-0l.6-.3l.6-.1l.6 .1l.6-0l.6 .1l.6-0l.6 0l.6-0l.6-.3" fill="none" stroke="#000" stroke-width="0.9"/>
<path d="M317.0 21.7l.6 .3l.6-.1l.6-.2l.6 .1l.6-.3l.6-.5l.6 .3l.6-.2l.6 .4l.6-.2l.6-.6l.6 .1l.6 .7l.6-0l.6-.4l.6 0l.6 .4l.6 .1l.6 .1l.6 .3l.6 .1l.6-.2l.6 0l.6 .3l.6 0l.6 .4l.6-.4l.6 .1l.6 .4l.6-.1l.6 .5l.6 .1l.6 .2l.6-.2l.6 .8l.6 .1l.6-.5l.6-.1l.6 .7l.6-.5l.6 .1l.6 .1l.6-.3l.6-.5l.6 .1l.6 .1l.6 .4l.6 .1l.6-.2l.6 .1l.6 0l.6-.1l.6-.1l.6-.2l.6 .2l.6-.5l.6-.1l.6 .2l.6-.5l.6 .1l.6-.4l.6 .1l.6 .6l.6 .3l.6-.1l.6-0l.6-.5l.6 .9l.6 0l.6 .2l.6-.5l.6-.1l.6-.6l.6 .6l.6 .3l.6-.7l.6 .2l.6 .3l.6-.6l.6-.4l.6 0l.6 .2l.6-.2l.6 .4l.6 .3l.6 .3l.6 .3l.6 .4l.6 .1l.6-.8l.6-.2l.6-.3l.6-.1l.6 .2l.6 .2l.6 .2l.6-.5l.6-.2l.6 .3l.6 .1l.6-0l.6 .1l.6-.2l.6 .4l.6 .1l.6-0l.6-.3l.6 0l.6-.8l.6 .1l.6 .4l.6-.3l.6 .4l.6 .2l.6-.4l.6 .2l.6 .1l.6 .3l.6 .2l.6-.1l.6-.3l.6 0l.6 .1l.6 .3l.6 0l.6-.3l.6-.4l.6 .1l.6-.1l.6-.1l.6 .2l.6 0l.6 .2l.6 .3l.6-.2l.6 .9l.6-.4l.6 .2l.6-.2l.6 .3l.6-1.1l.6-.1l.6 .3l.6 .3l.6 .8l.6-.2l.6 .2l.6-.1l.6 0l.6-.1l.6-.3l.6 0l.6-.5l.6 .5l.6-.5l.6 .2l.6 .7l.6-.4l.6-.1l.6 .3l.6-.2l.6-.4l.6 .1l.6 .2l.6 .2l.6-.5l.6 .7l.6 .3l.6-.4l.6-2l.6-.2l.6 .3l.6-.3l.6 .1l.6-.2l.6-.2l.6 .3l.6 .3l.6-.2l.6-.2l.6 .2l.6-.1l.6 0l.6 .4l.6 .1l.6-.4l.6 .5l.6-.3l.6 .1" fill="none" stroke="#000" stroke-width="0.9"/>
<path d="M317.0 21.4l.6 .1l.6-.4l.6 .7l.6 .3l.6-.6l.6-.3l.6-.3l.6 .6l.6-.1l.6 .1l.6-.1l.6 .1l.6-.3l.6 .2l.6-.3l.6 .2l.6 .2l.6 .2l.6-.1l.6-.3l.6 .2l.6-.1l.6 .5l.6 .1l.6-.2l.6 0l.6 .2l.6 .1l.6 .4l.6 .4l.6 .5l.6 .3l.6 .7l.6-.5l.6 0l.6 .9l.6-.9l.6-.2l.6 .2l.6 .1l.6 .2l.6-.1l.6 .1l.6-0l.6 .2l.6-.7l.6-.1l.6 .2l.6-.2l.6-.1l.6 .4l.6-.1l.6 .4l.6 .2l.6 0l.6 .1l.6-.2l.6-.5l.6 .1l.6 .3l.6-.2l.6 0l.6 .4l.6-.4l.6 .3l.6 .6l.6-.5l.6-0l.6-.1l.6 .5l.6-.2l.6 .2l.6-.5l.6-0l.6-.1l.6-.6l.6 .7l.6 .3l.6-.7l.6 .4l.6-.1l.6 .2l.6 0l.6-.6l.6 .1l.6 .7l.6-.4l.6-.3l.6-.3l.6-.2l.6 .5l.6 .7l.6-0l.6-.1l.6 .7l.6-.6l.6-.3l.6 .1l.6 .1l.6-.4l.6-.3l.6 .3l.6 .1l.6-.4l.6 .1l.6-0l.6 .3l.6-0l.6-0l.6-.1l.6 .4l.6 .4l.6-.4l.6 .2l.6-.4l.6 0l.6 .3l.6 .4l.6-.4l.6-.2l.6 0l.6-.5l.6 .2l.6-.2l.6 .3l.6-.3l.6-.5l.6 .4l.6 .3l.6-.1l.6 .4l.6-.1l.6-.2l.6 .3l.6-.6l.6-0l.6 .2l.6 .4l.6-.1l.6 .1l.6-.2l.6 .1l.6 .6l.6-.5l.6 .8l.6-.6l.6-.1l.6 0l.6 .3l.6-.6l.6-.6l.6 .5l.6 .4l.6 .1l.6 .8l.6-.3l.6-.2l.6 .1l.6-.1l.6 .3l.6-.7l.6-.2l.6-1.1l.6 .7l.6 .1l.6 .5l.6 .7l.6-.4l.6-.2l.6-3l.6-.3l.6-0l.6 .3l.6-0l.6 0l.6-0l.6 .2l.6 .1l.6-.2l.6 .2l.6-.2l.6-.3l.6 .4l.6 .1l.6-.4l.6 .3l.6 0l.6-.5l.6 .6" fill="none" stroke="#000" stroke-width="0.9"/>
<path d="M317.0 21.7l.6 .2l.6-.1l.6-.1l.6-.5l.6 .4l.6 0l.6-.1l.6 .2l.6-0l.6 .1l.6-.2l.6 0l.6-.6l.6 .1l.6 .4l.6 .4l.6-.2l.6-.1l.6 .4l.6-.2l.6 .1l.6 .3l.6-.2l.6 .2l.6-.5l.6 .4l.6 .4l.6 .5l.6 .7l.6 .9l.6-.4l.6-.1l.6 .3l.6-.3l.6 .4l.6 .3l.6-.1l.6 .2l.6-.5l.6 .5l.6-.5l.6-0l.6 0l.6 .1l.6 .5l.6 .1l.6-.2l.6 .3l.6 .5l.6-.3l.6 0l.6 .3l.6-.1l.6-.6l.6 .9l.6 .4l.6-1.1l.6-.1l.6 .2l.6 .2l.6 .1l.6-.3l.6-.4l.6 .1l.6 .4l.6-.4l.6-.3l.6 .2l.6-.6l.6 .3l.6 .1l.6 .3l.6-.1l.6-.2l.6 .1l.6 .1l.6-.1l.6 .2l.6 .3l.6 .4l.6 .3l.6-.6l.6-.2l.6-.8l.6 .9l.6-.3l.6 .1l.6 .2l.6-.5l.6 .3l.6 .1l.6-.6l.6 .3l.6 .6l.6-.8l.6 .5l.6 .1l.6 .1l.6 .1l.6 .3l.6-.3l.6 .2l.6-.3l.6 .2l.6-.4l.6-0l.6 .6l.6-.1l.6-.2l.6-.5l.6-.1l.6 .2l.6 .4l.6 0l.6 .1l.6-.1l.6 .4l.6-.4l.6-.3l.6 .4l.6-.1l.6-.2l.6-.2l.6 0l.6 .3l.6 .1l.6-.5l.6 .3l.6 .1l.6-.4l.6 .4l.6-.1l.6-.1l.6 .3l.6 .4l.6-.5l.6 .2l.6-.4l.6 .8l.6-.4l.6 .3l.6-.4l.6 .2l.6 .6l.6-1.2l.6-0l.6 .2l.6 0l.6-.2l.6 .9l.6-.2l.6-.7l.6 .4l.6-.6l.6 .6l.6-.3l.6 .2l.6 .4l.6-.1l.6-.6l.6-.4l.6 .7l.6 .2l.6-.3l.6 .3l.6 .1l.6 .1l.6-.9l.6 .1l.6-3.4l.6 .2l.6 .2l.6-.8l.6 .2l.6 .2l.6 .7l.6-.5l.6-.2l.6 0l.6 .2l.6-.2l.6 .3l.6-.3l.6 .1l.6-.2l.6 .1l.6-.2l.6-.3l.6 .5" fill="none" stroke="#000" stroke-width="0.9"/>
<path d="M317.0 21.7l.6-.2l.6 .1l.6 .3l.6-.4l.6 0l.6 .2l.6 .1l.6-.2l.6-.6l.6 .6l.6 .1l.6-0l.6-.1l.6 0l.6-.1l.6-.2l.6-.1l.6 0l.6-0l.6-.2l.6 .4l.6-.2l.6 .3l.6-.2l.6 .2l.6 .9l.6 .5l.6 .2l.6 .5l.6 .5l.6-.3l.6 .3l.6 .5l.6 .1l.6 .4l.6 .4l.6 .3l.6 .3l.6 .1l.6-.3l.6-0l.6-.1l.6-.1l.6 .1l.6-.5l.6 .2l.6 .2l.6-.2l.6 .2l.6 .3l.6-0l.6 .7l.6-1.1l.6 .1l.6-.4l.6 .6l.6 1l.6-1.2l.6 .2l.6 .3l.6-.1l.6 .2l.6-.8l.6 .5l.6 .2l.6-0l.6-.2l.6 .3l.6-.2l.6 .1l.6-.2l.6-.7l.6 .3l.6 .3l.6 .4l.6-.4l.6 .1l.6 .3l.6 0l.6 .4l.6 .5l.6-.7l.6-.8l.6 .5l.6 .5l.6 .1l.6 .1l.6-.5l.6-.3l.6 .3l.6-.3l.6-.6l.6-0l.6 1.1l.6 .5l.6-.6l.6-.3l.6 .1l.6-.3l.6 .6l.6-.2l.6-.4l.6 .5l.6-.3l.6 .1l.6 0l.6-.1l.6 .1l.6-.2l.6-.5l.6-.5l.6 .1l.6 .2l.6 .3l.6 .3l.6 .3l.6 .1l.6-.3l.6-.2l.6-.5l.6 .3l.6 .4l.6 .3l.6-.1l.6-0l.6 .3l.6-.1l.6 .2l.6 .1l.6-.1l.6 .3l.6-.4l.6-.2l.6-.3l.6-.2l.6 .7l.6 .5l.6-.3l.6 .1l.6 .2l.6-0l.6 .1l.6-.7l.6-.3l.6 .3l.6 .4l.6-.1l.6-.5l.6-0l.6-.2l.6-.1l.6 .7l.6-.3l.6 0l.6 .7l.6 .2l.6-.2l.6-.5l.6 .1l.6 .4l.6-0l.6 .2l.6-.3l.6-0l.6-.3l.6 .1l.6 .3l.6-.7l.6 0l.6-4.8l.6-.1l.6-.1l.6 .3l.6 .5l.6-.1l.6-.1l.6-.6l.6 .6l.6-.1l.6-.1l.6-.4l.6 .1l.6-.3l.6 .2l.6 .2l.6 0l.6 .1l.6-.3l.6 .5" fill="none" stroke="#000" stroke-width="0.9"/>
<path d="M317.0 21.4l.6-.4l.6 .2l.6-0l.6-.1l.6 .1l.6 .2l.6-.2l.6 .1l.6 .5l.6 .1l.6-.2l.6 0l.6-.1l.6 0l.6 .2l.6-.1l.6-.7l.6 .2l.6-.1l.6 .4l.6-.1l.6 .1l.6 .6l.6-.5l.6-.3l.6 .1l.6 .2l.6 .5l.6 1.2l.6 .6l.6-0l.6 .2l.6 .9l.6 .2l.6 .3l.6 .5l.6 .6l.6 .7l.6 .1l.6-.3l.6-0l.6 .5l.6 .2l.6-.5l.6 0l.6-0l.6-.1l.6-.3l.6-.4l.6 0l.6-.3l.6 .8l.6 .2l.6-.5l.6 .6l.6 .2l.6-.8l.6 .8l.6 .1l.6 .5l.6-.8l.6 .1l.6 0l.6-0l.6-0l.6 .2l.6-.7l.6-.3l.6-.2l.6 .1l.6 .1l.6 .3l.6 .2l.6 .1l.6-.3l.6 0l.6 .4l.6 .2l.6-.1l.6-.2l.6 .6l.6-.5l.6 .2l.6 .3l.6-.3l.6 .2l.6-.6l.6 .4l.6-0l.6-.6l.6 .3l.6-.2l.6 .5l.6-.3l.6-0l.6 .1l.6-.1l.6 .1l.6-.2l.6 .3l.6-0l.6 0l.6-.9l.6 .7l.6 .1l.6-.6l.6 .3l.6 .3l.6 .4l.6-.5l.6 .6l.6-.3l.6 .8l.6-.4l.6-0l.6-.3l.6-.5l.6 .5l.6 .2l.6 .4l.6-.1l.6-.5l.6-.6l.6-.1l.6-0l.6-.1l.6 .5l.6 .1l.6-.1l.6 .1l.6-0l.6 .1l.6 .2l.6 .2l.6-.4l.6-.5l.6 .6l.6 0l.6 .3l.6-.7l.6-0l.6 .1l.6-.4l.6 .1l.6 .4l.6 .4l.6 .4l.6-.6l.6-.5l.6 .3l.6 .4l.6-.1l.6-.5l.6 .4l.6 .2l.6 .1l.6-.3l.6 .1l.6 .2l.6-.3l.6-.7l.6 .4l.6 .3l.6-0l.6 .3l.6-.3l.6-.1l.6-0l.6 .2l.6-5.6l.6-.3l.6 .5l.6 .1l.6-.1l.6-.1l.6 .2l.6-.4l.6-.2l.6-.3l.6 .1l.6 .4l.6-0l.6-.1l.6-.2l.6 0l.6-.4l.6 .4l.6-.1l.6-.3" fill="none" stroke="#000" stroke-width="0.9"/>
<path d="M317.0 21.4l.6-.1l.6 .3l.6 .3l.6-.5l.6 .3l.6 .2l.6-.3l.6-.4l.6-0l.6-0l.6 .2l.6 0l.6-.5l.6 .4l.6-.3l.6 .5l.6-.3l.6-0l.6-.1l.6 .1l.6 .5l.6 .2l.6 0l.6-0l.6-.5l.6 .3l.6 .9l.6 .6l.6 1l.6 .4l.6 .3l.6 .3l.6-.2l.6 1l.6 .8l.6 .2l.6-.2l.6-.7l.6 .7l.6 .7l.6 .2l.6 .3l.6 .4l.6 .2l.6-.5l.6 .3l.6 .1l.6-.7l.6-.1l.6-.3l.6 .2l.6 .4l.6-.3l.6-.6l.6 .9l.6 .1l.6 .5l.6-.6l.6 .4l.6 .6l.6 .3l.6-.5l.6-.2l.6-.2l.6 .2l.6 .2l.6-.2l.6-.6l.6 .3l.6-.2l.6 .3l.6-0l.6 .5l.6 .1l.6-.5l.6 0l.6 .5l.6-.5l.6 .1l.6 .2l.6 .2l.6-.1l.6-.7l.6-.4l.6 .3l.6 .2l.6 .8l.6-.6l.6 .3l.6 .1l.6-.8l.6-.2l.6 .2l.6-.1l.6 .1l.6 .3l.6-.3l.6 .2l.6-.2l.6-.1l.6 .3l.6-.1l.6 .1l.6 .6l.6-.2l.6-.2l.6 .2l.6-.2l.6 .3l.6-.6l.6 .3l.6-.2l.6-.2l.6 .7l.6-.4l.6 .6l.6-0l.6 .3l.6-.7l.6 .3l.6 .3l.6-.3l.6-.2l.6 .7l.6-.3l.6-.4l.6-.3l.6 .2l.6 .1l.6-0l.6 .5l.6-.4l.6 0l.6 .4l.6-.6l.6 .3l.6 .5l.6-.8l.6-.4l.6-.2l.6-.4l.6 .5l.6-.4l.6 .5l.6 .6l.6-.6l.6 0l.6-.5l.6 .6l.6-.1l.6 .1l.6 .1l.6 .3l.6-.2l.6 .1l.6-.2l.6 .1l.6-.3l.6 .2l.6-.6l.6 .2l.6 .9l.6-.1l.6-.5l.6 .3l.6-.3l.6-.4l.6 .1l.6 .5l.6-6.9l.6-0l.6-.3l.6-.1l.6 .5l.6 0l.6-.3l.6-.5l.6-.1l.6 1l.6-.4l.6 .1l.6 .1l.6-.1l.6-0l.6-.3l.6-.1l.6 .6l.6-.2l.6 .3" fill="none" stroke="#000" stroke-width="0.9"/>
<path d="M317.0 21.1l.6 .2l.6 .2l.6 .3l.6-.4l.6 .2l.6 .1l.6-.2l.6 .2l.6-.3l.6-.1l.6 .1l.6-.7l.6 .4l.6-.1l.6-.1l.6 .1l.6 .5l.6-.1l.6 .4l.6-.4l.6-.3l.6 .6l.6 .1l.6 .2l.6-.4l.6 .8l.6 1l.6 .9l.6 .6l.6 1l.6 .1l.6 .1l.6-0l.6 .9l.6 .1l.6-0l.6 .1l.6 .3l.6-.1l.6 .3l.6 .2l.6 .1l.6-0l.6 .3l.6 .1l.6 .2l.6 .2l.6 .2l.6-.7l.6 .1l.6-0l.6 .5l.6-.5l.6 .1l.6 .1l.6 .1l.6 .5l.6-.2l.6 .4l.6-.6l.6-.4l.6 .7l.6 .2l.6 .1l.6-0l.6 .1l.6-.5l.6 .4l.6-.2l.6 .3l.6-.1l.6-.7l.6-.2l.6 .7l.6-0l.6-.1l.6 .1l.6-.1l.6-.1l.6 .2l.6 .1l.6 .5l.6-.2l.6 .5l.6 .3l.6 .2l.6-.2l.6-.4l.6-.2l.6-.2l.6-.3l.6-0l.6-.2l.6 .7l.6 0l.6-.3l.6-.7l.6 .2l.6 0l.6-.2l.6-.1l.6-.5l.6 .7l.6 .2l.6 1l.6-.3l.6-.2l.6 .5l.6-.2l.6-.1l.6-.3l.6-.2l.6 .6l.6 .2l.6 .3l.6-.5l.6-.1l.6-.4l.6 .4l.6-.6l.6 .3l.6 .4l.6 .3l.6-.5l.6 .3l.6-.4l.6-.3l.6-.3l.6 .6l.6 .6l.6-.5l.6-.3l.6-0l.6 .9l.6 .1l.6-.5l.6-.7l.6-.1l.6 .6l.6 .6l.6-.3l.6-.4l.6-.1l.6-.6l.6 .6l.6-.3l.6 .6l.6-.6l.6-.2l.6 .4l.6-.2l.6 .5l.6 0l.6-.4l.6 .4l.6 .3l.6-.7l.6 .8l.6 0l.6 .1l.6-.8l.6-.1l.6 .1l.6 .5l.6-.5l.6-.2l.6-.4l.6 .3l.6 .4l.6-8.5l.6 .1l.6 .3l.6 .5l.6 .1l.6-.3l.6-.3l.6-.2l.6-0l.6 .2l.6 .1l.6 .5l.6-.1l.6-.4l.6 .4l.6 .2l.6-.2l.6-.3l.6-.5l.6-.1" fill="none" stroke="#000" stroke-width="0.9"/>
<path d="M317.0 21.8l.6-.3l.6-.3l.6 .2l.6 .2l.6 .1l.6 .2l.6 .2l.6-.4l.6 .2l.6-.4l.6 .2l.6 0l.6 0l.6 .2l.6-.1l.6 .2l.6 .1l.6-.2l.6-.3l.6-.2l.6-0l.6-0l.6 .1l.6 .8l.6-.1l.6 .7l.6 .5l.6 .7l.6 .7l.6 .9l.6 .2l.6 1.3l.6 .1l.6 .7l.6-.6l.6 .6l.6 .4l.6 .4l.6 .4l.6 .1l.6 .2l.6-.6l.6 0l.6-.4l.6 .7l.6 .4l.6 0l.6-.1l.6-0l.6 .8l.6 .5l.6-.3l.6 .3l.6-.8l.6-.6l.6 .1l.6-0l.6 .1l.6 .3l.6 1.1l.6-.5l.6-.1l.6 0l.6-.1l.6 .3l.6 .5l.6-.8l.6 .1l.6-.1l.6 .1l.6-.6l.6-.4l.6-.4l.6 .7l.6 .3l.6 .2l.6-.7l.6 .2l.6 0l.6-.2l.6 0l.6 .6l.6 .3l.6-0l.6 .2l.6-.3l.6 .1l.6 0l.6 .2l.6-.1l.6-.1l.6 0l.6-.2l.6 .9l.6-.1l.6-.1l.6 .6l.6 .1l.6-1l.6 .2l.6 .2l.6 .4l.6 .1l.6-.1l.6-.8l.6-.3l.6 .2l.6 .2l.6-.4l.6-0l.6-0l.6 .1l.6 .2l.6-.1l.6-.4l.6 .6l.6 .5l.6-.3l.6 .3l.6-.1l.6 0l.6 0l.6-.4l.6 .2l.6 .2l.6-.5l.6 .7l.6 .5l.6 .2l.6 .1l.6-.3l.6-.5l.6-.5l.6-.3l.6 .1l.6 .1l.6 .2l.6-.7l.6 1l.6 .6l.6-.4l.6-0l.6-.1l.6-.1l.6-.2l.6-.1l.6-.3l.6 .1l.6 .1l.6 .1l.6-.3l.6 .1l.6 .1l.6 .2l.6-.4l.6 .2l.6 .4l.6 .1l.6-.3l.6-.2l.6-0l.6 .3l.6 .4l.6-.3l.6-.3l.6 .1l.6 .1l.6-.4l.6-.1l.6-9.2l.6 .3l.6-.4l.6-.1l.6 .3l.6-.3l.6 .2l.6 .2l.6-.1l.6-.2l.6 .1l.6-0l.6 .2l.6-.2l.6 .3l.6-.5l.6 .1l.6 .1l.6 .4l.6-.3" fill="none" stroke="#000" stroke-width="0.9"/>
<path d="M317.0 21.7l.6-.2l.6 .3l.6 .4l.6-.4l.6 .1l.6-.4l.6 .3l.6 .2l.6-.1l.6-.4l.6 .1l.6 .3l.6 .2l.6 0l.6-.7l.6-.1l.6 .5l.6-.4l.6 .4l.6 .4l.6-0l.6 0l.6-.3l.6-.5l.6 .1l.6 .6l.6 1.2l.6 1.3l.6 .8l.6 .8l.6 .8l.6 .5l.6 1l.6 .4l.6 .1l.6 .2l.6-0l.6 .7l.6 .1l.6-.2l.6 0l.6 .2l.6 .1l.6 .6l.6-.4l.6 .4l.6 .1l.6-.3l.6 .2l.6 .1l.6 .3l.6-.2l.6 .2l.6-.5l.6-.2l.6 .6l.6 .4l.6-.1l.6-.2l.6 .4l.6-.8l.6-0l.6 .5l.6 .2l.6-.4l.6-.5l.6 .8l.6 .1l.6-.3l.6 .1l.6 .4l.6-1l.6 .7l.6 .3l.6-.8l.6 .5l.6-.5l.6 .6l.6 .2l.6 .7l.6-.6l.6-.1l.6 .3l.6-.4l.6-.2l.6-.1l.6 .1l.6-.3l.6 .4l.6 .2l.6 0l.6 .6l.6-.4l.6 .3l.6-.4l.6 .2l.6-.8l.6 .3l.6 0l.6-.1l.6-.1l.6 .1l.6-.1l.6-.6l.6 .2l.6 .2l.6 .1l.6-.2l.6 .3l.6 .4l.6-0l.6-.1l.6 .5l.6 .2l.6 .1l.6 .2l.6-.4l.6-.2l.6 .3l.6-.4l.6-0l.6 .1l.6 .1l.6-.2l.6 .3l.6-.2l.6 .2l.6 .3l.6-0l.6-0l.6-.6l.6-.4l.6-.1l.6 .4l.6 .6l.6-.6l.6 .2l.6-.3l.6-.1l.6 0l.6 .4l.6 .1l.6 .4l.6-.6l.6 .4l.6 .2l.6-.2l.6 .1l.6-.3l.6-.4l.6 0l.6-.1l.6 1.2l.6-.5l.6 .5l.6-.2l.6-.1l.6 .1l.6-.4l.6 .3l.6-0l.6-.7l.6 .4l.6 .1l.6 .1l.6 .5l.6-.4l.6 0l.6 .1l.6-10.9l.6 .3l.6-.5l.6-.3l.6 .4l.6-.3l.6 .1l.6-.3l.6 .3l.6-.2l.6 .3l.6-.3l.6 .3l.6 0l.6 .1l.6 0l.6 .1l.6-.4l.6-.5l.6 .4" fill="none" stroke="#000" stroke-width="0.9"/>
<path d="M317.0 21.3l.6 0l.6 .3l.6-.6l.6 .1l.6 0l.6-.1l.6 .3l.6 .1l.6-.1l.6-.2l.6 .4l.6-.1l.6 .2l.6 .1l.6-.5l.6-.1l.6 .2l.6 .2l.6 .2l.6 .2l.6 .2l.6-.3l.6-.2l.6 .2l.6-.2l.6 1.1l.6 .6l.6 1.4l.6 .9l.6 .2l.6 1.3l.6 .8l.6 .5l.6 .2l.6 .4l.6 1l.6-.1l.6-.8l.6 .4l.6 .3l.6 .5l.6 .3l.6 .1l.6 .1l.6 .7l.6-.4l.6 1l.6-.3l.6-.3l.6 .5l.6 .2l.6-.4l.6 .4l.6-.6l.6-.1l.6 .7l.6-.1l.6-.4l.6 .4l.6 .4l.6-.1l.6-.6l.6 .1l.6 .3l.6 .4l.6 .5l.6-.4l.6-.2l.6-.1l.6 .4l.6-.4l.6 .4l.6-1l.6 .5l.6-.1l.6 .3l.6 .2l.6-.5l.6 .1l.6 .2l.6 .2l.6-.4l.6-.2l.6-.5l.6 1.3l.6-.2l.6-.1l.6-.5l.6 .5l.6-.2l.6 .6l.6 .1l.6-.1l.6 .1l.6-.6l.6-0l.6-.1l.6-.3l.6 .2l.6 .1l.6 .6l.6-1.2l.6 .1l.6 0l.6 .2l.6 .4l.6 .2l.6 .1l.6-.2l.6 .2l.6 .1l.6-.6l.6 .1l.6-.3l.6-.1l.6 .4l.6 .2l.6 .1l.6-.2l.6 .1l.6-.2l.6 .3l.6 .3l.6 .6l.6 .1l.6-.6l.6-.2l.6-.3l.6 .2l.6 .7l.6 0l.6-.9l.6-.3l.6-.2l.6 .6l.6 .1l.6 .2l.6 .6l.6-.5l.6-.3l.6 .7l.6-0l.6-.5l.6-.6l.6-.3l.6-.4l.6 .6l.6 .3l.6 .5l.6-0l.6-.2l.6-.2l.6 .8l.6-.7l.6 .2l.6 .1l.6 .2l.6-.2l.6 .2l.6 .2l.6-.1l.6-.3l.6 0l.6-.3l.6 .1l.6 0l.6 .2l.6 .5l.6 .3l.6-12.1l.6 .1l.6-.1l.6 .2l.6-.2l.6 0l.6-.2l.6-.2l.6 .3l.6 .3l.6 0l.6-0l.6-.1l.6-.2l.6-.5l.6 .3l.6 .1l.6-.1l.6-.2l.6 .4" fill="none" stroke="#000" stroke-width="0.9"/>
<path d="M317.0 21.1l.6 .7l.6 .1l.6 .5l.6-.5l.6-.1l.6-.2l.6 0l.6-0l.6-.2l.6 .4l.6-.3l.6-.1l.6 .2l.6-.1l.6-.1l.6 .2l.6-.1l.6-.3l.6 .1l.6 .1l.6 .5l.6-.4l.6 .3l.6-.3l.6-.1l.6 .7l.6 1.6l.6 1.4l.6 1.6l.6 .4l.6 1.1l.6 .8l.6 .6l.6 0l.6 .7l.6 .3l.6 .4l.6 .1l.6 .5l.6 .5l.6 .4l.6-.2l.6 .4l.6 .4l.6-.5l.6 .6l.6-.6l.6 .3l.6 .2l.6 .5l.6-.1l.6-.3l.6-.3l.6-.3l.6 .5l.6-0l.6-.2l.6 .4l.6-.3l.6 0l.6 0l.6 .7l.6 .4l.6-.3l.6-.7l.6 .3l.6 0l.6 .2l.6 .1l.6-.1l.6 .3l.6 .1l.6-.1l.6-.3l.6-.1l.6 .2l.6-.4l.6 .1l.6-.2l.6-.3l.6 .5l.6 .1l.6 .1l.6 .3l.6-.6l.6 .1l.6 .2l.6 .4l.6-.5l.6 .3l.6 .1l.6 .4l.6 .2l.6-.1l.6 .4l.6-.4l.6-.4l.6-.2l.6-.3l.6 .1l.6-.5l.6 .3l.6 .3l.6 .4l.6-.2l.6 .4l.6-.4l.6-0l.6-.6l.6-0l.6-0l.6 .7l.6 .2l.6-.5l.6 .3l.6 .1l.6-.1l.6-0l.6-.1l.6-.1l.6-.5l.6 .2l.6 .7l.6 .4l.6-.3l.6-.4l.6 0l.6 .4l.6 0l.6-.3l.6 .2l.6-.1l.6 .2l.6-.2l.6-.5l.6 .2l.6 .4l.6-.4l.6 .1l.6 .4l.6-.2l.6-.1l.6 .7l.6 .1l.6 .1l.6-.6l.6 .5l.6-.7l.6-.1l.6 .3l.6 .4l.6-.4l.6-.2l.6 .1l.6-.6l.6 .5l.6 .3l.6-.2l.6 .2l.6 .3l.6-.1l.6 .1l.6 .4l.6-.5l.6-0l.6-.2l.6 .3l.6-.2l.6 .1l.6-12.9l.6-0l.6 .4l.6-.2l.6 .2l.6 0l.6 .2l.6-.3l.6 .1l.6-0l.6-.4l.6 0l.6-0l.6-.1l.6 .4l.6-.4l.6-.4l.6-.3l.6 .2l.6 0" fill="none" stroke="#000" stroke-width="0.9"/>
<path d="M317.0 21.6l.6 .1l.6 .4l.6-.1l.6-0l.6-.4l.6 .2l.6 .3l.6 .1l.6-.7l.6 .2l.6 .4l.6 0l.6-.6l.6-0l.6 .2l.6 .1l.6-.3l.6-.2l.6 .4l.6-.4l.6 .5l.6-.1l.6 0l.6-.4l.6-0l.6 1.1l.6 .9l.6 2.2l.6 .5l.6 .6l.6 1.1l.6 1.1l.6 .9l.6 .3l.6 .5l.6 .4l.6 .3l.6-.4l.6 1l.6 .5l.6 .3l.6 0l.6 .4l.6 .2l.6 .1l.6 .5l.6-.5l.6 .3l.6-.2l.6 .1l.6 .7l.6-.4l.6 .2l.6-.1l.6 .4l.6-.3l.6-.4l.6 .5l.6-0l.6 0l.6 .5l.6-.3l.6-.1l.6 .2l.6 .2l.6-.2l.6 .4l.6 .6l.6-.4l.6 .4l.6-1l.6 .6l.6-.3l.6 .1l.6-.2l.6-.2l.6-.3l.6 .1l.6 .7l.6 .3l.6-.3l.6-.2l.6-.2l.6-.3l.6 .8l.6 .2l.6-.1l.6-.3l.6-.3l.6 .6l.6 .1l.6-.4l.6 .3l.6-.4l.6 .3l.6-.4l.6 0l.6 .3l.6 .2l.6 .2l.6-.4l.6 .5l.6 .3l.6-.3l.6-0l.6-.4l.6-.1l.6-.3l.6 .2l.6 .1l.6 .5l.6 .2l.6 0l.6-.3l.6-.2l.6-.1l.6 .1l.6-.6l.6 .5l.6-.4l.6 0l.6 .2l.6 0l.6 .7l.6-.2l.6 .5l.6 .1l.6-.4l.6 0l.6 .3l.6-.3l.6-.1l.6-.2l.6 0l.6-.1l.6 .1l.6 .4l.6 .3l.6-.2l.6-.1l.6 .2l.6-.3l.6-.4l.6 .5l.6-.4l.6 .4l.6-.4l.6 .7l.6-.5l.6 .3l.6 .4l.6-.6l.6 .5l.6-.5l.6-.6l.6 .5l.6 .3l.6-.2l.6-.8l.6 .3l.6 .1l.6 .1l.6 0l.6-.4l.6 .1l.6 .9l.6 .4l.6-.4l.6-.3l.6-13.8l.6 .2l.6 .1l.6-.5l.6 .1l.6 0l.6 .4l.6 .1l.6-0l.6 .1l.6-.3l.6 .2l.6-.3l.6 0l.6 .2l.6-.4l.6-.2l.6-.4l.6 .3l.6 .1" fill="none" stroke="#000" stroke-width="0.9"/>
<path d="M317.0 21.5l.6 .2l.6-.6l.6 .2l.6 .1l.6 0l.6 .3l.6 .4l.6-.3l.6-.3l.6-.1l.6 .1l.6 .2l.6-.3l.6 .4l.6-.4l.6 .3l.6 .1l.6 0l.6 .5l.6-.4l.6-.1l.6 0l.6 .2l.6-.5l.6 .1l.6 .6l.6 1.8l.6 1.7l.6 1l.6 .9l.6 1l.6-.2l.6 1.3l.6 .9l.6 .6l.6 .4l.6 .2l.6 .5l.6 .8l.6 .2l.6 .6l.6-.8l.6 .3l.6 .5l.6 .2l.6-.3l.6 .2l.6 .7l.6-.3l.6-.1l.6-0l.6 .2l.6 .5l.6 .3l.6-.7l.6 .8l.6-.2l.6-.1l.6 .7l.6-.1l.6-.5l.6-.1l.6-0l.6-.1l.6 .1l.6 .5l.6 .1l.6-.4l.6 1l.6-.5l.6-0l.6-0l.6 .2l.6-.2l.6 .2l.6 .6l.6-.3l.6-.5l.6 .1l.6-.3l.6 0l.6 .2l.6 .1l.6-.1l.6 .3l.6-.1l.6-.5l.6 .5l.6-.1l.6 .4l.6-.3l.6 .2l.6-0l.6-.9l.6-.2l.6 0l.6 .8l.6-.5l.6 .5l.6 .5l.6 0l.6 .1l.6-.3l.6-0l.6 0l.6 .1l.6 .2l.6-.2l.6-.3l.6-.1l.6 .3l.6-.6l.6-.1l.6 .1l.6 .1l.6 .1l.6-.7l.6 .4l.6 .2l.6 .5l.6-.6l.6 .2l.6 .4l.6 .2l.6 .4l.6 .1l.6-.5l.6 .2l.6-.2l.6-.3l.6 .6l.6-.3l.6-.3l.6 0l.6-.1l.6 .5l.6 .1l.6 .4l.6-.1l.6-.3l.6 .3l.6-.4l.6-.1l.6-0l.6 .1l.6 .4l.6-.3l.6 .1l.6-.1l.6-.4l.6-.2l.6 .2l.6 .3l.6 .2l.6 .1l.6-0l.6-.2l.6 .2l.6-.4l.6-.3l.6 .1l.6-.2l.6 .1l.6 0l.6 .1l.6 .2l.6-.1l.6 .1l.6-.4l.6-14.7l.6-.1l.6 .2l.6-.6l.6 .1l.6 .3l.6-.4l.6 .2l.6 .3l.6 .1l.6-.3l.6 .3l.6 .1l.6-.2l.6 .3l.6-0l.6-0l.6-.1l.6 .2l.6-0" fill="none" stroke="#000" stroke-width="0.9"/>
<path d="M317.0 21.9l.6-0l.6-.3l.6-0l.6 .2l.6-.2l.6 .1l.6 .1l.6-.1l.6-.7l.6 .3l.6 .2l.6 .1l.6-.2l.6 .4l.6-.1l.6-.2l.6-.2l.6 .2l.6-.2l.6-.2l.6 .7l.6 .3l.6 .1l.6 .1l.6-.1l.6 .1l.6 2.1l.6 1.6l.6 1.2l.6 .3l.6 1.5l.6 1.2l.6 .4l.6 .7l.6 .8l.6 .3l.6 .8l.6 .3l.6 .5l.6 .2l.6-.3l.6 .1l.6 1.5l.6-0l.6 .4l.6 .2l.6 .4l.6-.1l.6-.4l.6 0l.6-.6l.6 .3l.6 .5l.6-.7l.6 .4l.6 .5l.6 .4l.6-.4l.6-.2l.6-.4l.6-0l.6 .5l.6 .8l.6-.5l.6 .5l.6-0l.6-.3l.6 .7l.6-1.1l.6 .1l.6 .2l.6 .8l.6 .3l.6 .4l.6-.5l.6 0l.6 .1l.6-.1l.6-.2l.6-.3l.6-.2l.6-.4l.6 .8l.6-.3l.6-.7l.6 .3l.6 .2l.6 .1l.6 .6l.6-.2l.6-.2l.6-.3l.6 .1l.6-.1l.6 .2l.6 1l.6-.2l.6-.6l.6 .6l.6 0l.6 0l.6-0l.6-0l.6-0l.6 .2l.6-0l.6 .1l.6-.5l.6-.2l.6-.3l.6 .4l.6 .2l.6-.3l.6 .1l.6 .8l.6-0l.6-.8l.6-.1l.6 .2l.6-.1l.6 .1l.6 .3l.6-.1l.6-.5l.6 .3l.6-.1l.6-0l.6-.2l.6-.4l.6-.2l.6 .2l.6-.1l.6-.6l.6 .9l.6-.2l.6 0l.6 .4l.6-.7l.6 .8l.6-.2l.6 .4l.6-.2l.6 .2l.6 0l.6 0l.6-.6l.6-.2l.6 .3l.6 .7l.6-.2l.6 .2l.6 0l.6 .1l.6 .3l.6-.7l.6 .2l.6-0l.6-.1l.6-.2l.6-.1l.6-.1l.6-.1l.6 1.1l.6 .4l.6-.3l.6 .1l.6-.5l.6-.9l.6-.3l.6-15.7l.6 .6l.6-.1l.6-.2l.6-0l.6-.2l.6-.2l.6 .2l.6 0l.6-0l.6-.1l.6-0l.6 .2l.6 .5l.6-.1l.6 .5l.6-.6l.6 0l.6-.3l.6 .1" fill="none" stroke="#000" stroke-width="0.9"/>
<path d="M317.0 21.6l.6 .2l.6 .2l.6-.3l.6-.4l.6 .1l.6 .1l.6-.1l.6 .3l.6 .4l.6-.6l.6 .2l.6 .2l.6-.6l.6 .2l.6-0l.6-.4l.6 .6l.6-0l.6-.2l.6 .2l.6 .1l.6 .1l.6 .1l.6-.1l.6-.4l.6 .8l.6 1.8l.6 .6l.6 2.3l.6 1l.6 .8l.6 .4l.6 1.3l.6 .9l.6 .6l.6 .5l.6 .4l.6 .4l.6 .6l.6 .3l.6 .8l.6 .2l.6 .4l.6 .3l.6 .6l.6 .2l.6 .1l.6-.1l.6-.2l.6 .1l.6 .4l.6 .2l.6-.1l.6-.4l.6-.2l.6 .5l.6 .5l.6 .2l.6-.5l.6 .1l.6 .2l.6-.2l.6 .3l.6 0l.6-.2l.6-.2l.6 .5l.6 .2l.6-.3l.6-.2l.6 .5l.6 .2l.6-.1l.6 .5l.6-.3l.6-.4l.6 .5l.6-.2l.6 .1l.6-0l.6-.4l.6-.2l.6 .1l.6 .7l.6-.4l.6 .5l.6-.1l.6-.4l.6 .2l.6 .2l.6-.4l.6-.6l.6 .5l.6-.2l.6 .4l.6-.6l.6 .3l.6-0l.6-.3l.6 .3l.6 .3l.6-.1l.6-.2l.6 .3l.6-.4l.6 .5l.6 .2l.6 .6l.6 .1l.6-.1l.6-.1l.6-.2l.6-.5l.6 .6l.6 .1l.6-.2l.6-.4l.6 .6l.6 0l.6-.5l.6 .3l.6 .6l.6-.3l.6 0l.6-.3l.6-.2l.6 .4l.6 1l.6-.5l.6-.3l.6 .1l.6-.3l.6 .2l.6 .2l.6-.6l.6-.3l.6 .2l.6 .3l.6 .1l.6 .3l.6-.6l.6 .2l.6-.2l.6 .1l.6 .2l.6-.4l.6 .1l.6-.3l.6 .3l.6-.2l.6 .1l.6 .2l.6-.1l.6 .5l.6-.3l.6 .4l.6-0l.6-.4l.6-0l.6-.2l.6 0l.6 .1l.6 .7l.6-.3l.6 .5l.6-0l.6-.7l.6-.6l.6 .5l.6-18l.6 .5l.6 .3l.6 .1l.6-.1l.6-.1l.6 0l.6-0l.6-.2l.6 0l.6 .4l.6-.2l.6 .1l.6-.4l.6-0l.6-.3l.6 .2l.6 .3l.6 .1l.6-.1" fill="none" stroke="#000" stroke-width="0.9"/>
<path d="M336.7 22.5l1.5-0l1.5 .1l1.5 0l1.5 .1l1.5-.4l1.5-.1l1.5 .3l1.5 0l1.5 .4l1.5-.2l1.5-.1l1.5 .2l1.5 0l1.5 .2l1.5-.1l1.5-.1l1.5 0l1.5-.2l1.5-0l1.5-.1l1.5 0l1.5 .2l1.5-.1l1.5 0l1.5-0l1.5 .1l1.5-.4l1.5 .1l1.5 .1l1.5-.1l1.5 .2l1.5 .1l1.5 .1l1.5 .1l1.5-0l1.5-.1l1.5-.2l1.5-0l1.5-.1l1.5 .1l1.5-0l1.5 .4l1.5-.3l1.5 .1l1.5-.1l1.5-.1l1.5 .2l1.5-.1l1.5-.2l1.5 .2l1.5-.1l1.5-.2l1.5 .1" fill="none" stroke="#fff" stroke-width="0.62" stroke-dasharray="12 6 12 1.5 4 2 8 3 4 6" stroke-dashoffset="9"/>
<path d="M337.3 23.8l1.5 .2l1.5 .1l1.5-0l1.5 .2l1.5-.2l1.5 .2l1.5-.1l1.5-.1l1.5 0l1.5 0l1.5-.1l1.5 .1l1.5-.1l1.5 .2l1.5 .1l1.5 .1l1.5 0l1.5-0l1.5-.3l1.5-0l1.5 0l1.5-0l1.5 0l1.5 0l1.5-0l1.5-.1l1.5 0l1.5-0l1.5 .2l1.5 .1l1.5 0l1.5 .1l1.5-.1l1.5 .1l1.5-.3l1.5-0l1.5 .1l1.5 .3l1.5 0l1.5 .1l1.5-0l1.5-.2l1.5-.1l1.5-.1l1.5 .1l1.5-.2l1.5 .1l1.5-0l1.5 .1l1.5-.1l1.5 .1l1.5 .1l1.5 .1" fill="none" stroke="#fff" stroke-width="0.62" stroke-dasharray="12 6 4 1.5 3 1.5 3 4 16 6" stroke-dashoffset="6"/>
<path d="M337.9 24.9l1.5 .2l1.5 .2l1.5 0l1.5 .2l1.5 .1l1.5-.1l1.5 .2l1.5-.1l1.5 .3l1.5 .1l1.5-0l1.5-.1l1.5 .1l1.5-0l1.5-.3l1.5 .1l1.5 0l1.5-.3l1.5-.1l1.5 .3l1.5 .1l1.5-.1l1.5-.2l1.5-0l1.5 .4l1.5-.4l1.5 .2l1.5 .4l1.5-0l1.5-.2l1.5 0l1.5 .1l1.5 0l1.5-0l1.5-.3l1.5 .2l1.5 .1l1.5 0l1.5 .1l1.5-0l1.5 0l1.5 .5l1.5-.3l1.5-.1l1.5-.2l1.5-.3l1.5 .1l1.5 .3l1.5-.2l1.5 0l1.5-0l1.5-.1l1.5-.1" fill="none" stroke="#fff" stroke-width="0.62" stroke-dasharray="8 1.5 16 3 12 2 8 4 4 3" stroke-dashoffset="9"/>
<path d="M338.5 26.5l1.5 .1l1.5 .3l1.5-.1l1.5 .1l1.5 0l1.5 .3l1.5-.2l1.5 .2l1.5-0l1.5 .2l1.5-.1l1.5 .1l1.5-0l1.5 .2l1.5-.1l1.5-0l1.5 .2l1.5-.1l1.5 0l1.5-.1l1.5-0l1.5-.3l1.5 .1l1.5-0l1.5-.1l1.5-.1l1.5 .3l1.5 .1l1.5-.2l1.5 .4l1.5-.2l1.5 0l1.5 .1l1.5-.2l1.5-.1l1.5 0l1.5 .3l1.5 .2l1.5-.3l1.5 .2l1.5 0l1.5 .1l1.5-0l1.5-0l1.5-.2l1.5-.1l1.5 0l1.5 .1l1.5 .1l1.5-.1l1.5 .3l1.5-.1" fill="none" stroke="#fff" stroke-width="0.62" stroke-dasharray="3 3 4 4 8 6 4 1.5 4 1.5" stroke-dashoffset="12"/>
<path d="M339.1 27.6l1.5 .4l1.5 .2l1.5 .2l1.5 .5l1.5-.1l1.5 .1l1.5 .2l1.5-.2l1.5 .1l1.5-.1l1.5-.3l1.5 .2l1.5-.4l1.5 .3l1.5 .2l1.5 .3l1.5 .1l1.5 .1l1.5-.1l1.5-0l1.5 .1l1.5-.2l1.5 0l1.5-.1l1.5 0l1.5 .1l1.5-.3l1.5 .1l1.5-.1l1.5 .2l1.5 .3l1.5-.2l1.5 0l1.5 0l1.5-0l1.5-.1l1.5 .3l1.5-.1l1.5-.1l1.5-.1l1.5 0l1.5 .3l1.5-.1l1.5-.2l1.5-0l1.5 .2l1.5 .1l1.5 0l1.5 .2l1.5-.2l1.5-.1l1.5 .1" fill="none" stroke="#fff" stroke-width="0.62" stroke-dasharray="12 2 16 6 16 4 3 3 8 2" stroke-dashoffset="0"/>
<path d="M339.7 29.3l1.5 .3l1.5 .4l1.5 .3l1.5 0l1.5 .1l1.5-.1l1.5 .2l1.5-0l1.5-.1l1.5 .1l1.5-0l1.5-.1l1.5 .1l1.5 .3l1.5-.1l1.5 .1l1.5-.2l1.5-.2l1.5 .4l1.5-0l1.5-.2l1.5 .1l1.5 .1l1.5-.2l1.5 0l1.5 .2l1.5-.1l1.5 .2l1.5 .2l1.5 0l1.5-.1l1.5 0l1.5-.1l1.5 .1l1.5 .1l1.5-.1l1.5 .2l1.5 .3l1.5-.2l1.5-0l1.5 .1l1.5-0l1.5-.1l1.5-.1l1.5 .2l1.5 0l1.5 0l1.5-.1l1.5 .1l1.5 .1l1.5-.1" fill="none" stroke="#fff" stroke-width="0.62" stroke-dasharray="4 6 8 6 8 2 6 1.5 4 3" stroke-dashoffset="17"/>
<path d="M340.3 30.3l1.5 .6l1.5 .3l1.5 .1l1.5 .3l1.5 .3l1.5 .3l1.5-.1l1.5 0l1.5 .3l1.5-.1l1.5 .3l1.5 .2l1.5-.1l1.5-.2l1.5-.1l1.5 .1l1.5-0l1.5-0l1.5 .1l1.5-.3l1.5 0l1.5 .1l1.5-.1l1.5 .2l1.5-0l1.5-0l1.5 .3l1.5 .1l1.5-.1l1.5-.1l1.5-.2l1.5-.2l1.5 .4l1.5 .1l1.5-.1l1.5-.2l1.5 .3l1.5 0l1.5 .1l1.5 .2l1.5-.2l1.5-.2l1.5 .1l1.5 .2l1.5-.1l1.5 .1l1.5 .1l1.5-.2l1.5 .2l1.5 .1l1.5-.2" fill="none" stroke="#fff" stroke-width="0.62" stroke-dasharray="12 4 8 2 12 3 16 2 4 2" stroke-dashoffset="7"/>
<path d="M340.9 31.6l1.5 .7l1.5 .6l1.5 .2l1.5 .3l1.5-0l1.5 .2l1.5 .1l1.5 0l1.5-.1l1.5 .1l1.5 0l1.5 .4l1.5 .1l1.5-0l1.5-.1l1.5 0l1.5 .2l1.5 .1l1.5 .1l1.5 .1l1.5-.1l1.5-.2l1.5 .2l1.5 .2l1.5-0l1.5-.1l1.5-.1l1.5-.1l1.5 0l1.5 0l1.5 .1l1.5-.1l1.5 .1l1.5 .1l1.5-.1l1.5 .1l1.5-0l1.5 .1l1.5 .2l1.5-.1l1.5 .1l1.5-.2l1.5 0l1.5 .1l1.5-.1l1.5 .2l1.5-.2l1.5 0l1.5 .1l1.5 .1l1.5-0" fill="none" stroke="#fff" stroke-width="0.62" stroke-dasharray="12 3 8 3 3 3 16 1.5 12 1.5" stroke-dashoffset="12"/>
<path d="M341.5 33.1l1.5 .9l1.5 .3l1.5 .5l1.5 .2l1.5 .1l1.5 .1l1.5 .3l1.5-0l1.5-0l1.5-.1l1.5 0l1.5-.2l1.5 .4l1.5 .3l1.5-.2l1.5 .2l1.5 .2l1.5-0l1.5 0l1.5-0l1.5-.1l1.5 .1l1.5-0l1.5 0l1.5-.2l1.5 .1l1.5-.2l1.5 .3l1.5 .3l1.5-0l1.5-.1l1.5-0l1.5-0l1.5 0l1.5-.1l1.5 .2l1.5 0l1.5-.2l1.5 .3l1.5-.1l1.5-.1l1.5-.1l1.5 .1l1.5 0l1.5 0l1.5 .1l1.5 .3l1.5 .2l1.5 .1l1.5-.1" fill="none" stroke="#fff" stroke-width="0.62" stroke-dasharray="3 4 3 3 3 2 6 4 8 1.5" stroke-dashoffset="10"/>
<path d="M342.1 34.8l1.5 .7l1.5 .3l1.5 .4l1.5 .3l1.5 .3l1.5 .3l1.5-0l1.5 .1l1.5 0l1.5 .1l1.5 .3l1.5-.2l1.5 .5l1.5-.3l1.5-.2l1.5 .2l1.5-.2l1.5 .3l1.5 .1l1.5-.1l1.5 .1l1.5 0l1.5-.1l1.5 0l1.5 .4l1.5-.1l1.5 .1l1.5-.2l1.5 .3l1.5 0l1.5-.1l1.5 0l1.5-.1l1.5 .3l1.5 .1l1.5-.2l1.5-0l1.5-0l1.5 0l1.5 .4l1.5-.1l1.5-0l1.5-.1l1.5 0l1.5 .1l1.5 .2l1.5-.2l1.5-.1l1.5 .1l1.5-.1" fill="none" stroke="#fff" stroke-width="0.62" stroke-dasharray="3 6 16 1.5 8 2 8 2 16 4" stroke-dashoffset="15"/>
<path d="M317.0 21.5l.6-0l.6-.2l.6 .1l.6-0l.6-.3l.6 .2l.6 .1l.6-.3l.6 .1l.6 .2l.6 .4l.6-.2l.6-.1l.6 .2l.6-.1l.6 .2l.6-.1l.6-.5l.6 .5l.6 .3l.6-.2l.6 .2l.6-.1l.6-.3l.6-.1l.6 .3l.6 0l.6-.8l.6 .4l.6 .1l.6-.5l.6 .3l.6 .2l.6-.3l.6 .1l.6-0l.6 .4l.6 .2l.6-.2l.6 0l.6-.1l.6 .4l.6-.1l.6 .2l.6-0l.6-.6l.6-.3l.6-.3l.6 .2l.6 0l.6-.1l.6-.2l.6 .4l.6 0l.6 .1l.6 .2l.6 .4l.6-0l.6-.3l.6-.1l.6-.4l.6-.2l.6-.4l.6 .3l.6 .3l.6-.2l.6 .2l.6 .4l.6 .1l.6 .6l.6-.8l.6 .3l.6 .1l.6-.2l.6 .2l.6-.4l.6 .1l.6-.1l.6 .3l.6 0l.6 0l.6-.2l.6-.4l.6 .3l.6 .3l.6 .6l.6-.3l.6-.4l.6-.1l.6 .1l.6-.5l.6 .3l.6 .1l.6 .5l.6-0l.6-.2l.6-.2l.6 .4l.6-.4l.6 .4l.6-.1l.6-.2l.6 .2l.6 .2l.6 .2l.6-.3l.6-.2l.6-.2l.6 .1l.6 .3l.6 .4l.6-.5l.6-.4l.6-.3l.6-.2l.6 .3l.6-.1l.6 .1l.6 .1l.6-.2l.6 .1l.6-.1l.6 .1l.6 .1l.6 .1l.6 .1l.6-.2l.6-0l.6 .2l.6 0l.6 .1l.6 .1l.6-.3l.6-0l.6 .1l.6 .2l.6 .2l.6-.2l.6 0l.6-.2l.6-.2l.6 .7l.6-.5l.6-.5l.6 .1l.6-.1l.6-.1l.6 .3l.6 .6l.6 .2l.6-.5l.6-.1l.6 .1l.6 .4l.6-.3l.6-.2l.6-.1l.6 .3l.6-.1l.6-.2l.6 .2l.6 .1l.6-0l.6 .2l.6-.4l.6-.3l.6-.1l.6 .2l.6-0l.6 .2l.6 .1l.6-.1l.6 .1l.6-0l.6-.3l.6 .2l.6 .1l.6-.3l.6-0l.6-.1l.6-0l.6 .5l.6-.4l.6-.3l.6 .4l.6 .1l.6 .2l.6-.1l.6-.1" fill="none" stroke="#000" stroke-width="3.0"/>
<line x1="332.30" y1="21.60" x2="332.30" y2="30.60" stroke="#000" stroke-width="0.8"/>
<line x1="418.60" y1="8.40" x2="418.60" y2="39.20" stroke="#000" stroke-width="0.8"/>
<polygon points="450.4,21.7 450.4,21.7 452.4,26.4 454.4,29.7 456.4,31.9 458.4,33.4 460.4,34.4 462.4,35.1 464.4,35.6 466.4,35.9 468.4,36.2 470.4,36.4 472.4,36.5 474.4,36.6 476.4,36.7 478.4,36.7 480.4,36.8 482.4,36.9 484.4,36.9 486.4,36.9 488.4,37.0 490.4,37.0 492.4,37.1 494.4,37.1 496.4,37.2 498.4,37.2 500.4,37.2 502.4,37.3 504.4,37.3 506.4,37.3 508.4,37.4 510.4,37.4 512.4,37.5 514.4,37.5 516.4,37.5 518.4,37.6 520.4,37.6 522.4,37.6 524.4,37.7 526.4,37.7 528.4,37.8 530.4,37.8 532.4,37.8 534.4,37.9 535.8,37.9 535.8,21.7" fill="#000" fill-opacity="0.82"/>
<path d="M436.4 22.3l.6-.3l.6 .1l.6-.4l.6-.1l.6 .2l.6-.4l.6 .4l.6 .1l.6 0l.6-.2l.6 .2l.6-.4l.6-.3l.6 .3l.6 .1l.6 .1l.6-.4l.6 .1l.6 .3l.6 .3l.6-0l.6-.1l.6-.2l.6 0l.6 .2l.6-.2l.6-.1l.6-0l.6 .3l.6 .6l.6-.6l.6-.4l.6 .4l.6 .1l.6 .2l.6-.3l.6-.4l.6 .3l.6 .4l.6 .3l.6-.8l.6 .3l.6 .3l.6-.1l.6-.3l.6-.5l.6-.4l.6 .3l.6-.5l.6 .4l.6 .9l.6-.2l.6-0l.6 .2l.6 0l.6-.3l.6 .1l.6-.4l.6 .1l.6 .4l.6 .1l.6-.5l.6 .1l.6-.8l.6 .4l.6 .5l.6-.3l.6 .3l.6 0l.6-0l.6 .3l.6-.1l.6 .2l.6 .2l.6-.2l.6-.4l.6-0l.6-1.2l.6-.5l.6 1l.6 .1l.6 .5l.6 .1l.6 .4l.6-.1l.6-.4l.6-0l.6 .3l.6 .1l.6-1l.6 .4l.6 .1l.6-.1l.6 .2l.6-.4l.6 .4l.6 .1l.6 0l.6-.2l.6-0l.6-.4l.6 .2l.6 .5l.6-.5l.6-.3l.6 .6l.6-.3l.6 .1l.6 0l.6-.3l.6-.2l.6 .2l.6 0l.6-0l.6 .4l.6 .3l.6-.3l.6 .7l.6-.1l.6-.5l.6-.4l.6 .2l.6-0l.6-.4l.6 .4l.6-.6l.6 .5l.6-.1l.6 1.1l.6-.1l.6-.5l.6-.1l.6 .2l.6-0l.6-.1l.6 .1l.6 .2l.6-.3l.6-0l.6-.5l.6 .6l.6-.1l.6-.5l.6 .3l.6 .8l.6-.2l.6 .2l.6-.5l.6 .5l.6-.4l.6 .8l.6-.5l.6-.3l.6 0l.6 .2l.6-.3l.6-.5l.6 .1l.6-.1l.6 .2l.6-.1l.6 .2l.6-.4l.6-.3l.6 .4l.6-0l.6 .2l.6-.1l.6-0l.6-.4l.6 .5l.6 .2l.6-0l.6-.3l.6 .5l.6 0l.6 .1l.6 .3l.6-0l.6-.3l.6-.3l.6-.2" fill="none" stroke="#000" stroke-width="0.9"/>
<path d="M436.4 21.6l.6 .3l.6 .3l.6 .2l.6-.4l.6 .1l.6 0l.6 .2l.6-.9l.6 .2l.6-0l.6 0l.6-.1l.6 .1l.6 .1l.6-.1l.6 .2l.6-.3l.6-.3l.6-0l.6 0l.6-.1l.6 .2l.6 .1l.6-.1l.6-.1l.6 .3l.6-.1l.6 .5l.6 .1l.6 .5l.6 .4l.6-.9l.6-0l.6-.2l.6 .5l.6-0l.6 .2l.6-.5l.6 .6l.6 .1l.6-0l.6 .1l.6 .2l.6-.4l.6-.4l.6 .6l.6 .5l.6-.6l.6-.4l.6 .1l.6 .9l.6-.5l.6 .6l.6 .1l.6-.8l.6-.2l.6 .3l.6 .3l.6-.6l.6 .3l.6-.4l.6 .3l.6-.9l.6 1.1l.6-.6l.6-.5l.6 .5l.6 .3l.6 .3l.6-.5l.6-.2l.6-.2l.6-.1l.6 .3l.6-.2l.6 .1l.6 .1l.6-.2l.6 .4l.6-.5l.6-0l.6-.3l.6 .2l.6 .3l.6-0l.6-.1l.6-0l.6 .1l.6 .1l.6 .6l.6-.1l.6-.5l.6 .4l.6-.5l.6 .2l.6 .2l.6-.5l.6 .3l.6 .1l.6-.1l.6 .4l.6-.4l.6-.3l.6 .4l.6 .6l.6-.1l.6-.1l.6-.3l.6-0l.6 .2l.6 .2l.6 .5l.6-.4l.6-.4l.6 .1l.6-.1l.6 .1l.6 0l.6-.2l.6-0l.6-.2l.6 .3l.6-.1l.6-.7l.6-.1l.6 1l.6-.2l.6 .3l.6-.1l.6-0l.6 .1l.6-.2l.6 .1l.6-.3l.6-.2l.6 .1l.6-.7l.6-.3l.6 .7l.6-.4l.6 .5l.6-.1l.6 .1l.6 .2l.6 0l.6 .2l.6-.1l.6 0l.6 .4l.6 .3l.6-.6l.6 .1l.6 .1l.6-.5l.6 .3l.6-.4l.6 .1l.6 .1l.6 .3l.6-.1l.6 .2l.6-.4l.6 0l.6-.3l.6-.1l.6-.5l.6 .3l.6 .1l.6 .3l.6-.1l.6-0l.6 .3l.6-.4l.6-0l.6 .2l.6 .6l.6 .2l.6-.5l.6-.2l.6-.1l.6-.4l.6 0" fill="none" stroke="#000" stroke-width="0.9"/>
<path d="M436.4 21.6l.6-.4l.6 .1l.6-.3l.6 0l.6 .5l.6-.1l.6 .6l.6-.2l.6 .1l.6-.1l.6 .1l.6 .1l.6 .2l.6-.2l.6-0l.6-.4l.6 .5l.6-.3l.6-.6l.6 .1l.6-.1l.6 .2l.6 .2l.6-0l.6-.1l.6 .4l.6 .4l.6 .3l.6-.3l.6-.3l.6 .6l.6 .5l.6-.2l.6-0l.6-.3l.6 .3l.6-.4l.6 .2l.6 .3l.6 .1l.6-.1l.6 .2l.6-.1l.6 .6l.6-.9l.6 .1l.6 .1l.6 0l.6 0l.6-.3l.6-.3l.6 .1l.6 .1l.6 0l.6 .2l.6 0l.6-.3l.6 .3l.6 .1l.6 .5l.6-.3l.6-.5l.6 .2l.6-.1l.6 .8l.6-.4l.6-.1l.6 .1l.6 .4l.6 .1l.6-.7l.6-.3l.6 .8l.6-.5l.6 .3l.6 .7l.6 .2l.6 .1l.6-.6l.6-.3l.6 .1l.6 .2l.6 .4l.6-.3l.6-.5l.6 .2l.6 .5l.6-.3l.6-.9l.6-.4l.6 .4l.6-.4l.6 .4l.6 .6l.6 .1l.6 .1l.6-.6l.6 .6l.6-.1l.6-.3l.6 .6l.6 .1l.6-.6l.6-0l.6-.1l.6 .3l.6-0l.6-.4l.6 .6l.6-.1l.6-0l.6 1l.6-.2l.6-.4l.6 .1l.6 .3l.6-1l.6-.1l.6 .5l.6-.4l.6 .2l.6-.1l.6-0l.6-.3l.6-.4l.6 .3l.6-.3l.6 .8l.6-.4l.6-0l.6-0l.6 .2l.6-.1l.6 .2l.6 .2l.6-.4l.6 0l.6-.2l.6 .2l.6 .1l.6 .5l.6-.2l.6-.2l.6 .1l.6-.2l.6-.2l.6 .6l.6 .4l.6-1l.6 .4l.6-.4l.6 .6l.6-.5l.6 .6l.6-1l.6 .6l.6-.2l.6-.5l.6 .4l.6 .4l.6-.5l.6 0l.6 .3l.6 .5l.6 .3l.6-2l.6-.2l.6-.3l.6 .3l.6-.2l.6 0l.6 .3l.6-.4l.6-.1l.6 .4l.6-.4l.6 .4l.6 .2l.6-.4l.6-.1l.6 .3l.6 .1" fill="none" stroke="#000" stroke-width="0.9"/>
<path d="M436.4 21.3l.6-.2l.6 .7l.6-.8l.6-.3l.6 .5l.6 .1l.6 .1l.6 .2l.6 .2l.6-.1l.6 .1l.6 .3l.6 .2l.6-.4l.6 .2l.6-.5l.6-.2l.6-0l.6 .1l.6 0l.6 .8l.6 .5l.6-.4l.6 .4l.6-.5l.6 .3l.6 .7l.6 .4l.6-.2l.6-0l.6-.5l.6 .9l.6-0l.6-.2l.6-0l.6-0l.6-.2l.6 .3l.6 .5l.6-.1l.6 .3l.6-.3l.6-.1l.6-.1l.6 .4l.6-.5l.6-.4l.6 .7l.6 .1l.6-.2l.6 .4l.6-.1l.6-0l.6-.3l.6-.1l.6-0l.6 .4l.6 0l.6 .4l.6-.7l.6-.1l.6-.5l.6 .3l.6 .5l.6 0l.6 .1l.6 .1l.6 .1l.6-0l.6-.2l.6-.3l.6-.4l.6 .2l.6 .3l.6-.1l.6-.1l.6 .1l.6-.6l.6 .4l.6-0l.6 .2l.6-.4l.6 .2l.6 .7l.6-.2l.6 .1l.6 .5l.6-1l.6 0l.6-.1l.6-.3l.6 .3l.6 .2l.6 .7l.6-.6l.6 .1l.6-.1l.6 0l.6 .4l.6-.6l.6 .4l.6-.4l.6-.2l.6 .3l.6 .1l.6 .2l.6-.4l.6-0l.6-.2l.6-.9l.6 .6l.6 .9l.6-.3l.6 .3l.6-.3l.6 .5l.6-.3l.6-0l.6-.2l.6-.1l.6 0l.6 .4l.6 .2l.6-.6l.6-.3l.6 0l.6 .1l.6 .6l.6-.5l.6 .2l.6-.2l.6 .1l.6-.1l.6 .4l.6 .1l.6-0l.6-.1l.6-.3l.6-.1l.6-.5l.6 .1l.6-0l.6 .5l.6-.3l.6 .8l.6 0l.6-.5l.6 .2l.6-.1l.6-.4l.6 .6l.6-.1l.6 .3l.6 .3l.6-.2l.6-.2l.6-.2l.6-.4l.6 0l.6-.1l.6 0l.6 .6l.6 .1l.6 .5l.6 0l.6-2.6l.6-.4l.6-.2l.6 .4l.6 .3l.6 .1l.6-.4l.6-.1l.6-.4l.6 0l.6 .4l.6 .2l.6-.2l.6-0l.6-.4l.6 .2l.6-.1" fill="none" stroke="#000" stroke-width="0.9"/>
<path d="M436.4 21.7l.6 .4l.6-.7l.6-.1l.6 .7l.6-.1l.6 .4l.6-.1l.6-.2l.6-.2l.6 .2l.6-.3l.6-.6l.6 .2l.6 .1l.6 .2l.6 .2l.6 .4l.6-.1l.6 0l.6-.1l.6 .2l.6 .3l.6 .2l.6 .2l.6 .1l.6 .5l.6 .4l.6 .6l.6-.2l.6 .3l.6 .5l.6 .1l.6-.2l.6-.2l.6-.4l.6-.2l.6-.2l.6 .4l.6 .3l.6 0l.6 .2l.6 0l.6 .1l.6-.3l.6 .5l.6 .1l.6 .2l.6-.1l.6-0l.6-.7l.6 .7l.6-.1l.6 0l.6 0l.6-.3l.6-.4l.6 .4l.6-.1l.6 0l.6-.3l.6-.5l.6 .7l.6 .7l.6-.1l.6-.6l.6-.1l.6-.2l.6-.3l.6-.2l.6 .5l.6-.2l.6 .3l.6 .1l.6 .1l.6 .1l.6-.3l.6-.2l.6 .1l.6 .2l.6 .7l.6 0l.6-.5l.6-0l.6-0l.6-.1l.6-.2l.6-.1l.6 .7l.6-.3l.6 .6l.6-.4l.6-.4l.6 .6l.6 0l.6 .2l.6-.3l.6-.3l.6-.4l.6 .3l.6 .3l.6-0l.6 .1l.6-.2l.6 .3l.6-.1l.6-.3l.6-.3l.6 .6l.6-0l.6-.3l.6 .5l.6-.7l.6-0l.6-.1l.6 .6l.6-.8l.6 0l.6 .9l.6-.8l.6-.4l.6 .4l.6 .6l.6 .1l.6 .3l.6 0l.6-.2l.6 .3l.6-.2l.6-.1l.6-.2l.6-.1l.6-.4l.6 .7l.6-.4l.6-.1l.6 .6l.6-.5l.6 .4l.6 .1l.6-.1l.6-0l.6 .1l.6-.3l.6 .2l.6 .1l.6-.1l.6-.2l.6-.4l.6 .2l.6-.5l.6 .2l.6 .1l.6-.3l.6 .3l.6 .7l.6-.3l.6 .5l.6-.4l.6-.8l.6 .9l.6 .2l.6-0l.6-.4l.6-.5l.6-.1l.6-3.2l.6-.5l.6 .1l.6 .7l.6 .2l.6-.2l.6-.3l.6 .2l.6 .2l.6 0l.6 .1l.6-.6l.6 .3l.6 .4l.6 0l.6-.1l.6-.2" fill="none" stroke="#000" stroke-width="0.9"/>
<path d="M436.4 22.2l.6-.7l.6-.4l.6-0l.6-.1l.6-0l.6-.2l.6 .4l.6 .3l.6 .3l.6-.2l.6 .2l.6-.2l.6 0l.6 .2l.6 .4l.6 .6l.6-.7l.6 .6l.6-.1l.6-.3l.6-.7l.6-.5l.6 .3l.6 .9l.6 .2l.6 .7l.6 .7l.6 .4l.6-.1l.6-0l.6 .1l.6 .3l.6 .3l.6 .6l.6 .2l.6 .1l.6 .5l.6-.8l.6 .4l.6-.3l.6 .4l.6-.3l.6 .3l.6 .2l.6 .1l.6-.3l.6-.1l.6 .1l.6-.2l.6 .1l.6 .4l.6-.3l.6-.1l.6 .3l.6-.3l.6-.1l.6 0l.6-.2l.6-.7l.6 .6l.6-.2l.6 .3l.6 .3l.6-.8l.6 .2l.6-.1l.6 .5l.6-0l.6 .5l.6-.2l.6 0l.6 .2l.6-0l.6 .1l.6-.3l.6-.5l.6-.1l.6 0l.6 .3l.6 .2l.6-.5l.6 .2l.6 .1l.6-.1l.6 .3l.6 .2l.6 .1l.6 .1l.6-.6l.6-.1l.6 0l.6 1.1l.6-.1l.6-.1l.6 .2l.6-.6l.6-.3l.6 0l.6-0l.6-.3l.6 .4l.6 .4l.6 .6l.6-.4l.6-.1l.6 0l.6 .2l.6 .1l.6-.3l.6-1l.6 .1l.6-.1l.6 .3l.6 .2l.6-.4l.6-.1l.6-.3l.6 .7l.6 .4l.6-.3l.6-.5l.6 .5l.6 .2l.6-0l.6 .3l.6 0l.6-.4l.6-.1l.6-.1l.6 .3l.6 .5l.6 .4l.6-.7l.6 .3l.6-.1l.6-0l.6 .3l.6 .1l.6-.1l.6-.1l.6-.3l.6-.2l.6-.4l.6 .1l.6 .1l.6-.5l.6 .3l.6 .3l.6 .1l.6-0l.6 .2l.6-.3l.6 .1l.6-.6l.6-.1l.6 .1l.6 .1l.6 .2l.6 1.2l.6-.5l.6 .8l.6-.2l.6-.4l.6-.1l.6-0l.6-4.9l.6-0l.6 .4l.6-.2l.6-.4l.6 .5l.6 0l.6 .3l.6-.1l.6-.6l.6 .1l.6 .1l.6 .2l.6-.1l.6-.1l.6-.7l.6 .1" fill="none" stroke="#000" stroke-width="0.9"/>
<path d="M436.4 21.4l.6-0l.6 .5l.6-.1l.6-.1l.6-.5l.6 .3l.6-.1l.6 .2l.6 0l.6-.4l.6 .2l.6 .2l.6 .3l.6-.1l.6 .2l.6-.2l.6 .3l.6-.2l.6 .2l.6-.2l.6-.5l.6 .3l.6 .2l.6 .2l.6 .7l.6 .5l.6 .8l.6 .2l.6 .2l.6 .7l.6 .3l.6 .2l.6 0l.6 .3l.6 .1l.6 .2l.6 .3l.6-.3l.6-.2l.6 .1l.6-.1l.6 .8l.6 .3l.6-.5l.6-.2l.6 .5l.6 0l.6 0l.6-.2l.6 .3l.6 0l.6-.2l.6-.1l.6 .4l.6 .7l.6-.6l.6-.8l.6 .2l.6-.1l.6 .2l.6-.3l.6 .3l.6 .8l.6-.3l.6-0l.6-0l.6-.5l.6 .1l.6-.2l.6-.1l.6 .2l.6 .3l.6 .2l.6-.4l.6 .1l.6 .4l.6-.5l.6-0l.6 .1l.6 0l.6-.2l.6 .1l.6 .2l.6 0l.6-.2l.6-.1l.6 .4l.6 .2l.6-.6l.6-.7l.6 0l.6-.4l.6 .8l.6 .3l.6-.6l.6 0l.6 .3l.6 .3l.6 .6l.6 0l.6 .1l.6-1.2l.6-.1l.6-0l.6-.1l.6 .4l.6 .3l.6-.4l.6 .5l.6 .3l.6-0l.6 .3l.6 .1l.6-.5l.6 .1l.6-.6l.6 .2l.6 .4l.6-.4l.6-.2l.6 .1l.6 .2l.6-0l.6 0l.6 .4l.6-.3l.6-.5l.6 .6l.6-.4l.6-0l.6 .2l.6-.2l.6 .5l.6 .4l.6-1.1l.6-.2l.6 .5l.6 .1l.6 .4l.6 .4l.6-.2l.6-.3l.6 .2l.6-.5l.6 .3l.6 .5l.6-.7l.6-.1l.6 .6l.6-.3l.6 .3l.6-.2l.6-.6l.6 .2l.6 .3l.6 .2l.6 .6l.6-.2l.6-.2l.6-.3l.6 .2l.6 .2l.6-.3l.6 0l.6 .1l.6-5.9l.6-.3l.6 .1l.6 .2l.6-.1l.6-.1l.6 .3l.6 0l.6 .3l.6-0l.6 .1l.6 .2l.6-.3l.6-.2l.6-.1l.6 .3l.6 .7" fill="none" stroke="#000" stroke-width="0.9"/>
<path d="M436.4 21.7l.6 .3l.6-.2l.6 .2l.6 .3l.6-.3l.6-.2l.6-.1l.6 .1l.6 .4l.6-.1l.6-.1l.6 .2l.6-.4l.6-.1l.6 .3l.6 .2l.6-.1l.6-.3l.6-.5l.6 .2l.6 .2l.6-.1l.6-.2l.6 .5l.6 1l.6 .7l.6 .4l.6 .7l.6-.5l.6 1.2l.6 .4l.6 .3l.6 .3l.6 .5l.6-.4l.6 .5l.6-.2l.6 .3l.6 .1l.6 .6l.6-.6l.6 .1l.6-.1l.6 .5l.6-.1l.6-.4l.6 .7l.6-.1l.6-.5l.6 .2l.6 .3l.6 .3l.6-1l.6 .4l.6 .5l.6 .6l.6 .2l.6-.5l.6-.2l.6-1l.6 .5l.6-.1l.6 .4l.6-.4l.6 .8l.6 .1l.6-.3l.6-.1l.6-.4l.6 .3l.6 .2l.6-.3l.6-.3l.6 .5l.6 .3l.6 0l.6 0l.6 0l.6-.4l.6-.1l.6-.5l.6 .7l.6-.4l.6-.2l.6 .1l.6 .7l.6-.5l.6-.3l.6 .4l.6-.3l.6 .7l.6-.2l.6 .3l.6 .2l.6-.1l.6-0l.6 .5l.6-.3l.6-.3l.6-.1l.6 .1l.6-.1l.6-.4l.6-0l.6 0l.6 .3l.6-.1l.6-.2l.6 .6l.6-.5l.6 .3l.6 .1l.6 .1l.6-.4l.6-.1l.6 .1l.6-.6l.6 .1l.6 .1l.6 .1l.6 .2l.6 .3l.6 .1l.6-.5l.6-.1l.6-.4l.6-.1l.6-.2l.6 .3l.6 .7l.6-.1l.6-.4l.6 .4l.6 .3l.6-.1l.6 .2l.6 .5l.6-.4l.6 .5l.6-.6l.6-.3l.6-.4l.6 .1l.6 .3l.6 .3l.6-.4l.6-.1l.6 .1l.6 .8l.6 .1l.6 .2l.6-.1l.6-.7l.6-.3l.6-.1l.6 .2l.6 .1l.6-.1l.6 .8l.6-.7l.6 .5l.6-.1l.6-.1l.6 .1l.6 0l.6-6.9l.6 0l.6 .2l.6-.2l.6 .4l.6-.2l.6-.1l.6-.4l.6 .6l.6 .3l.6-.1l.6 .2l.6-.1l.6-.3l.6-.3l.6 0l.6-.1" fill="none" stroke="#000" stroke-width="0.9"/>
<path d="M436.4 21.9l.6 .6l.6-.9l.6-.4l.6 .2l.6 .1l.6 .3l.6 0l.6-.3l.6 .7l.6-.4l.6-.3l.6-.4l.6-.1l.6 .1l.6 .4l.6-.2l.6 .5l.6 .2l.6-.6l.6 .1l.6 .3l.6 .3l.6-.3l.6 .9l.6 1l.6 .7l.6 .6l.6-.1l.6 .8l.6 .1l.6 .6l.6-.1l.6 .5l.6 .4l.6-.4l.6 .3l.6 0l.6 .6l.6 .5l.6 .7l.6-.7l.6 .4l.6 .4l.6-.4l.6 0l.6 .2l.6-.2l.6 .5l.6-.4l.6-0l.6 .4l.6-0l.6-.4l.6-.1l.6 .2l.6-.2l.6 .5l.6-0l.6-.4l.6 .2l.6-.7l.6 0l.6 .8l.6 .1l.6 .2l.6-.9l.6-.1l.6 .1l.6-.1l.6 .1l.6 0l.6 .5l.6-.1l.6-.6l.6 .3l.6 .1l.6-.3l.6 .3l.6-.1l.6 .5l.6 .5l.6-.4l.6 .3l.6-.5l.6 .1l.6 .4l.6 .1l.6-.2l.6-.3l.6-.3l.6-0l.6-.2l.6-.1l.6 .9l.6 .4l.6-.1l.6-.5l.6 .3l.6-.5l.6 .3l.6 .1l.6 .4l.6-1.1l.6-.2l.6-.1l.6 .5l.6-0l.6-.1l.6 .3l.6 .3l.6-1l.6 .4l.6 .4l.6-.1l.6 .6l.6-.2l.6-.3l.6-.7l.6-0l.6 .3l.6 .3l.6 0l.6 .7l.6-.3l.6 .1l.6 .6l.6-.4l.6-.2l.6 .1l.6 0l.6-.4l.6-.1l.6-.6l.6 .6l.6 .4l.6-.5l.6 .1l.6 .3l.6-.1l.6-.2l.6 .2l.6-.4l.6 .4l.6-.3l.6 0l.6-.3l.6 .4l.6 .2l.6-.6l.6 0l.6-.2l.6-.3l.6 .3l.6 .2l.6 .8l.6 .4l.6-.6l.6-0l.6 .1l.6 .1l.6 .7l.6 .5l.6-1.2l.6-.3l.6 0l.6-7.7l.6-.5l.6 .3l.6 .2l.6 0l.6 .4l.6 0l.6 .1l.6 .1l.6-.7l.6-.2l.6 .3l.6 .2l.6-0l.6-0l.6-0l.6-.1" fill="none" stroke="#000" stroke-width="0.9"/>
<path d="M436.4 22.0l.6-.2l.6-.4l.6 .2l.6 .1l.6 .1l.6-0l.6 .2l.6-.1l.6 .1l.6-.5l.6 .1l.6 .1l.6-.5l.6-.5l.6 .3l.6 .7l.6 .4l.6-.4l.6-.3l.6-.1l.6 .1l.6-.4l.6 .5l.6 1l.6 .6l.6 1l.6 1.4l.6 .9l.6 .1l.6 .5l.6-.3l.6 .6l.6 0l.6 .7l.6-.4l.6 .2l.6-0l.6 .2l.6 .3l.6 1.1l.6 .1l.6 .1l.6-.4l.6-.1l.6-.1l.6 0l.6 .4l.6 .2l.6 0l.6-.2l.6 .2l.6 0l.6-.4l.6-.2l.6 .4l.6-.6l.6-.2l.6 .6l.6 .7l.6 .2l.6-.5l.6 .3l.6 .1l.6-.7l.6-.2l.6 .7l.6 0l.6 0l.6-.5l.6 .2l.6 .2l.6-.4l.6 .1l.6 .1l.6-.1l.6 1l.6-.7l.6 .2l.6-.4l.6 .9l.6-1.1l.6-.1l.6-.2l.6 .2l.6 .2l.6 .3l.6 .3l.6 .2l.6-.4l.6-.1l.6 .4l.6-.6l.6 0l.6-.1l.6 .1l.6 .1l.6-.1l.6 .2l.6-.4l.6 .1l.6 .1l.6 .1l.6-.1l.6 .1l.6-.1l.6 .4l.6 .2l.6-.3l.6-0l.6 .3l.6 .3l.6-.4l.6-.4l.6-.1l.6 .2l.6 .5l.6-.9l.6 .5l.6 .5l.6-.6l.6 .4l.6 .3l.6 .3l.6 .2l.6-.1l.6-.3l.6-.2l.6-.4l.6-.2l.6-.6l.6 .3l.6 .4l.6-.1l.6-0l.6 .2l.6-.1l.6-.1l.6-.2l.6-.3l.6 .7l.6 .4l.6-.1l.6-.1l.6-.2l.6-.1l.6-.2l.6 .5l.6 0l.6-.1l.6-.2l.6-.1l.6 .4l.6 .3l.6 .3l.6-.4l.6 .3l.6 0l.6-.1l.6-.1l.6-.2l.6-.2l.6 .1l.6-.3l.6 .6l.6 .3l.6-9l.6-.2l.6 .4l.6 .5l.6-.3l.6-.1l.6 .2l.6-.1l.6-.1l.6 .2l.6-.4l.6-.6l.6 .3l.6-.1l.6 .1l.6-.6l.6 .1" fill="none" stroke="#000" stroke-width="0.9"/>
<path d="M436.4 22.0l.6-.8l.6 .2l.6 .2l.6 .2l.6 .5l.6-0l.6-.3l.6-.4l.6 .1l.6-.3l.6-.2l.6 .7l.6 .3l.6-.4l.6 .1l.6-.3l.6-.1l.6-.3l.6 .4l.6 .3l.6 .1l.6-.1l.6 0l.6 .7l.6 1l.6 1.2l.6 .2l.6 .4l.6 .6l.6 .2l.6 .4l.6 .6l.6 .7l.6-.1l.6 1l.6-.1l.6 .4l.6 .3l.6 .3l.6 .7l.6-.2l.6-.2l.6-.2l.6-0l.6 .2l.6 0l.6 .6l.6 .3l.6-.1l.6-.2l.6-.1l.6 0l.6 .6l.6-0l.6-.3l.6-.2l.6 .4l.6-.5l.6-0l.6-.4l.6 .3l.6 .5l.6-.3l.6 .1l.6 .1l.6-.1l.6-.5l.6 .1l.6-0l.6 .3l.6 .5l.6-0l.6 .1l.6-.2l.6-.5l.6 .7l.6 0l.6-.1l.6-.2l.6-.2l.6 .1l.6 .7l.6-.2l.6-.2l.6-.5l.6 .3l.6 .1l.6 0l.6 0l.6-.3l.6 .2l.6-.2l.6-.2l.6 .8l.6 .1l.6-.1l.6-.2l.6 0l.6-.4l.6 .3l.6 .9l.6 .3l.6-.4l.6 .1l.6-.9l.6-.4l.6 .2l.6-.1l.6 .2l.6-.1l.6 .3l.6 .4l.6-.3l.6-.8l.6 .7l.6-.4l.6 .1l.6 .2l.6 .1l.6-.2l.6-.3l.6-.2l.6 .5l.6 .6l.6-.1l.6-.7l.6 .3l.6 .2l.6-.3l.6-.2l.6-0l.6-.2l.6-.1l.6 .7l.6 0l.6 .3l.6-.3l.6-.1l.6 .1l.6-.3l.6-.2l.6 .5l.6 .2l.6 0l.6 .6l.6-.8l.6 .5l.6-0l.6-.6l.6-.5l.6 .6l.6-.2l.6-.2l.6 .6l.6 .4l.6-.4l.6 .7l.6-0l.6-.2l.6-.3l.6-.2l.6-.1l.6-.5l.6 .3l.6-.1l.6-9.3l.6-0l.6-0l.6 .5l.6 .1l.6-.6l.6-.1l.6-.7l.6 .4l.6-.2l.6 .6l.6 .4l.6-.1l.6-.2l.6-.5l.6 .4l.6 .2" fill="none" stroke="#000" stroke-width="0.9"/>
<path d="M436.4 21.7l.6-.5l.6 .4l.6 .2l.6-.1l.6-.2l.6 .3l.6-0l.6-.1l.6 .4l.6 .2l.6 .3l.6-.4l.6-.4l.6-.4l.6 .1l.6 .1l.6-.4l.6 .6l.6-.1l.6-0l.6 .4l.6-.5l.6-.4l.6 1.1l.6 .6l.6 1.4l.6 1.5l.6 1.2l.6 .5l.6 .6l.6 .4l.6 .2l.6 .5l.6 .1l.6 .4l.6 .1l.6-.2l.6 .5l.6 .6l.6-.9l.6 .6l.6 .2l.6 .4l.6 .5l.6-.3l.6 .1l.6-.2l.6-.2l.6 .3l.6-.3l.6 .4l.6 .5l.6-.3l.6 .1l.6-0l.6-.1l.6 .2l.6-.2l.6 0l.6 .1l.6-.3l.6 .7l.6 .3l.6-.5l.6 .1l.6-.5l.6-0l.6 .2l.6-.2l.6 .3l.6 .2l.6 .7l.6 .4l.6-.5l.6-.4l.6-.1l.6-.2l.6 0l.6 .5l.6-.4l.6 .2l.6 .1l.6-0l.6 .3l.6-.6l.6 .1l.6-.4l.6 .2l.6 .4l.6-.7l.6 .5l.6 .1l.6-.1l.6 .1l.6-.4l.6 .2l.6 .3l.6 .5l.6-.2l.6-.5l.6-.1l.6-.1l.6 .2l.6 0l.6-.3l.6 .2l.6-.3l.6 .2l.6 .1l.6 .6l.6-.5l.6-.3l.6 .2l.6 .1l.6 .5l.6-.6l.6 .4l.6-.2l.6-.3l.6-.2l.6 .2l.6-0l.6-0l.6 .2l.6-.1l.6 .2l.6-.3l.6 .7l.6-.3l.6 .7l.6-.2l.6-.7l.6-.3l.6-.1l.6 .4l.6 .3l.6-.1l.6 0l.6-.1l.6-.5l.6 .2l.6 .6l.6-.8l.6 .3l.6 .4l.6-.2l.6 1.1l.6-.2l.6-.3l.6-.7l.6 .1l.6-.1l.6-.5l.6-.5l.6 .5l.6 .5l.6-.2l.6 .6l.6-.1l.6-.3l.6-.2l.6 .4l.6 .1l.6 .4l.6 .3l.6-10.7l.6-.2l.6-.8l.6-0l.6-.2l.6 .1l.6 .1l.6-.1l.6-0l.6 .4l.6 0l.6-.7l.6 1l.6-.1l.6-.1l.6-.3l.6 .1" fill="none" stroke="#000" stroke-width="0.9"/>
<path d="M436.4 21.4l.6-.3l.6 .5l.6 .1l.6 .2l.6-0l.6-.3l.6 0l.6 .3l.6-.3l.6 .5l.6 0l.6-.1l.6 .1l.6-.1l.6-0l.6-.6l.6 .1l.6-0l.6 .2l.6-.1l.6 .3l.6-0l.6-0l.6 .5l.6 1.9l.6 .5l.6 1.3l.6 0l.6 1.7l.6 .4l.6 .9l.6 .6l.6 .6l.6 .7l.6-.3l.6 .1l.6-.1l.6 .1l.6-.3l.6 .4l.6 .2l.6 .2l.6 .5l.6 .1l.6 .3l.6 .1l.6-.4l.6-.2l.6 .5l.6 0l.6 .1l.6-.1l.6-.2l.6-.1l.6 0l.6-.2l.6 .3l.6 .3l.6 .3l.6-.3l.6-.2l.6-.1l.6 .3l.6-.1l.6-.5l.6 .9l.6 .4l.6-.6l.6-.2l.6-.2l.6 0l.6-0l.6-.1l.6-0l.6 .3l.6-0l.6-.1l.6 .5l.6 1l.6-1l.6 .2l.6-.3l.6 .7l.6-.3l.6-.3l.6 .1l.6-.1l.6 .1l.6-.5l.6-.2l.6-.1l.6 .3l.6 .7l.6 .3l.6 .6l.6-0l.6-.4l.6 .1l.6-.2l.6 .1l.6-.3l.6 .2l.6 .1l.6-.2l.6 .2l.6-.9l.6-.2l.6 .1l.6 .8l.6-.5l.6 .4l.6-.7l.6 .5l.6 .1l.6-.5l.6 .5l.6-.1l.6-.4l.6-.5l.6 .4l.6 .1l.6 .3l.6 .7l.6-0l.6-.4l.6-.3l.6 .6l.6-.2l.6-.2l.6-.8l.6 .4l.6 .4l.6 .4l.6-.3l.6-.2l.6-.2l.6 .2l.6 .8l.6 .2l.6-.5l.6-0l.6-.7l.6 .2l.6 .5l.6 .1l.6-.3l.6-.1l.6 .3l.6 .3l.6 .1l.6-.3l.6-.1l.6 .5l.6-.1l.6 .1l.6-.2l.6 .1l.6-.3l.6-0l.6-.2l.6-.3l.6 .4l.6-.2l.6 .6l.6 .1l.6-12l.6 .2l.6-.2l.6-.1l.6-.1l.6 .1l.6-.2l.6 .3l.6-.7l.6 .2l.6 .5l.6-.2l.6-.2l.6 .1l.6-.1l.6 .2l.6-.2" fill="none" stroke="#000" stroke-width="0.9"/>
<path d="M436.4 21.6l.6 .3l.6 .1l.6-.1l.6-.3l.6 .1l.6-.1l.6-.3l.6 .2l.6 .2l.6 .3l.6 .3l.6-.3l.6-.8l.6 .4l.6 .1l.6 .4l.6-.2l.6 0l.6 .1l.6 .2l.6-.4l.6-.2l.6 .1l.6 1.1l.6 1l.6 1.1l.6 .7l.6 .6l.6 .9l.6 1l.6 .4l.6 1.3l.6 .5l.6 .1l.6 .5l.6 .5l.6-.1l.6 .7l.6 .3l.6 .5l.6 .4l.6-0l.6-.8l.6 .1l.6 .3l.6 .2l.6-.4l.6 .2l.6 .6l.6-.2l.6 0l.6 .8l.6-.6l.6 .2l.6-.3l.6 0l.6-.1l.6 .2l.6 .2l.6-.2l.6 .5l.6-0l.6-.2l.6-.3l.6-.2l.6 .2l.6 .4l.6-.3l.6-0l.6-.3l.6 .6l.6-.1l.6-.5l.6-.1l.6 .5l.6-.2l.6 .6l.6 .3l.6 .1l.6 .3l.6-.9l.6 .4l.6-.9l.6 .2l.6 .1l.6 .3l.6 .6l.6 .2l.6-.4l.6-0l.6 .1l.6-.5l.6 .2l.6 .3l.6-.1l.6-0l.6-.1l.6 .2l.6 0l.6-.1l.6 .2l.6 0l.6 .2l.6-.6l.6 .1l.6-.2l.6-.4l.6 .5l.6-.1l.6-.1l.6-.1l.6-.2l.6 .1l.6 .2l.6-.1l.6 .1l.6-.3l.6 .9l.6-.2l.6-.4l.6 .5l.6 .3l.6-.4l.6 .3l.6 .3l.6-.4l.6 .2l.6 .2l.6 0l.6-.2l.6 .3l.6-.3l.6-.2l.6-0l.6-.3l.6 .5l.6 .1l.6-.1l.6-.5l.6-0l.6 .2l.6 .2l.6-.2l.6 .4l.6-.4l.6 .1l.6 .3l.6 .1l.6-.1l.6 0l.6 .3l.6-.1l.6-.2l.6-0l.6-.3l.6-.6l.6-.1l.6-.4l.6 .7l.6 0l.6 0l.6-.1l.6 .5l.6-.6l.6 .6l.6-13l.6 .2l.6 .1l.6 .1l.6-.5l.6-0l.6 .3l.6 .2l.6-.5l.6 .3l.6-.6l.6 .5l.6-0l.6 .1l.6 .4l.6-.5l.6 .2" fill="none" stroke="#000" stroke-width="0.9"/>
<path d="M436.4 21.9l.6-.7l.6 .2l.6-0l.6 .1l.6 0l.6-.2l.6 .4l.6-.2l.6-1l.6 .3l.6 .2l.6 .4l.6 .7l.6 .1l.6 0l.6 .1l.6-.6l.6-.7l.6 .2l.6 .2l.6 0l.6 .2l.6-0l.6 1l.6 2.2l.6 1.1l.6 1.2l.6 .8l.6 .3l.6 .6l.6 .9l.6 .8l.6 0l.6 1.1l.6 .9l.6-.1l.6 .8l.6-.3l.6-.3l.6 .2l.6-0l.6 .2l.6 0l.6-0l.6 0l.6-.3l.6 .8l.6 .2l.6-0l.6 .3l.6-.2l.6 .8l.6-.9l.6 .5l.6 .3l.6 .6l.6-.1l.6-.3l.6-.2l.6 .3l.6-.3l.6 .3l.6 .9l.6-.4l.6-.4l.6 1l.6-1.1l.6 .1l.6-.4l.6-.1l.6 0l.6-.4l.6-.5l.6 .6l.6-0l.6 0l.6-.2l.6 .7l.6 .9l.6-.1l.6-.1l.6-.3l.6 .3l.6-.9l.6-.4l.6 .6l.6-.4l.6 .1l.6-.2l.6 .9l.6 .1l.6-.5l.6-0l.6 .1l.6 .1l.6-.5l.6-0l.6 .7l.6 .2l.6 .1l.6-.2l.6-.5l.6 .2l.6 .3l.6-.4l.6 .4l.6-.2l.6 .6l.6-.2l.6-.5l.6 .5l.6 0l.6-.4l.6-0l.6-.4l.6 .9l.6-.3l.6-.3l.6-.2l.6 .2l.6 .4l.6-.2l.6-0l.6 .1l.6-0l.6-.3l.6 .5l.6-.1l.6-.2l.6 .1l.6 .6l.6 .4l.6-.9l.6-.2l.6 .1l.6-.5l.6-0l.6 .3l.6 .2l.6-.2l.6 .5l.6 .6l.6 .4l.6-.7l.6 .1l.6 .1l.6 .1l.6 .2l.6 0l.6-.2l.6-.3l.6 .2l.6-.1l.6-.3l.6 .6l.6 .4l.6-1l.6-.1l.6 .1l.6 .4l.6-.4l.6-.2l.6 .1l.6 .3l.6 .3l.6-14.3l.6 .1l.6-.1l.6 .1l.6-.1l.6 .2l.6-.4l.6 .4l.6-.4l.6-0l.6-.4l.6 .4l.6 .4l.6 .2l.6-.5l.6-.1l.6 .3" fill="none" stroke="#000" stroke-width="0.9"/>
<path d="M436.4 21.4l.6 0l.6 0l.6-.1l.6 .6l.6 .1l.6-.1l.6 .2l.6 .4l.6-.9l.6 .4l.6-.2l.6 .1l.6-.1l.6-.3l.6 .3l.6 .1l.6-.4l.6-.4l.6-.2l.6 .5l.6 .3l.6 .1l.6-.1l.6 .9l.6 1.5l.6 1.4l.6 1l.6 .7l.6 .9l.6 .7l.6 .4l.6 .8l.6 .6l.6 .8l.6 1.1l.6 .5l.6-.2l.6-.1l.6 .3l.6 .1l.6 1.2l.6 .2l.6-.2l.6 .9l.6 .1l.6 .5l.6-.5l.6-.2l.6 0l.6 .5l.6 .2l.6-.3l.6-.5l.6-.3l.6 .5l.6 .1l.6 .2l.6 .5l.6-.2l.6-.9l.6-.2l.6 .8l.6 .5l.6 .4l.6 0l.6-.7l.6-.8l.6-.1l.6 .4l.6 .2l.6 .3l.6-.2l.6-.1l.6 .6l.6 .1l.6-.9l.6 .6l.6 .1l.6 .3l.6 .2l.6 .1l.6 .1l.6-.4l.6-.4l.6-.2l.6-.3l.6 .8l.6-.2l.6-.3l.6-0l.6 .5l.6 0l.6 .1l.6-.3l.6-0l.6 0l.6-.7l.6 .4l.6 .1l.6 .2l.6-.1l.6 .3l.6-.3l.6-.3l.6-.1l.6 .5l.6 .5l.6-.7l.6-.2l.6 .1l.6-.1l.6 .2l.6 .8l.6-.9l.6 .3l.6 .5l.6-.4l.6 .3l.6-.1l.6-.3l.6 .6l.6-.3l.6 .1l.6 .3l.6-.1l.6 .3l.6-.4l.6 .2l.6 .3l.6-.2l.6 .4l.6-.5l.6-.5l.6 .5l.6-0l.6-.5l.6 0l.6 0l.6-.4l.6 .5l.6 0l.6 .2l.6 .4l.6-.2l.6-.3l.6-.2l.6 .8l.6-0l.6 .5l.6-.6l.6-0l.6 .3l.6-.5l.6-.3l.6-0l.6 .5l.6 .3l.6-.3l.6-0l.6-.9l.6 .6l.6-.1l.6 0l.6-.4l.6 .7l.6-14.7l.6 .4l.6-.2l.6-0l.6-.4l.6 .2l.6-.2l.6 0l.6 .3l.6 0l.6-.1l.6-.3l.6 .1l.6-.2l.6 .3l.6 .2l.6 0" fill="none" stroke="#000" stroke-width="0.9"/>
<path d="M436.4 21.6l.6-.3l.6 .4l.6 .2l.6-.2l.6-.2l.6-.5l.6 0l.6 .3l.6-.1l.6 .4l.6 .1l.6 .1l.6-0l.6 .3l.6-.1l.6-.4l.6-0l.6-.2l.6 0l.6-.1l.6 .1l.6 .7l.6 .2l.6 .9l.6 .8l.6 1.7l.6 .8l.6 1.2l.6 1.3l.6 .6l.6 .2l.6 1.2l.6 .5l.6 .8l.6 .1l.6 .6l.6 .2l.6 .1l.6 .2l.6 .6l.6 .2l.6 .8l.6 0l.6 .2l.6 .1l.6 .3l.6-.6l.6 .2l.6 .5l.6 .3l.6-.2l.6 .3l.6 .5l.6 0l.6-.5l.6 .3l.6 .3l.6-.6l.6-.1l.6 0l.6-.3l.6 .4l.6 .2l.6 .3l.6-.3l.6 .4l.6 .1l.6-.1l.6 .2l.6-.9l.6 .5l.6-0l.6-.1l.6 .1l.6 .3l.6-.2l.6 0l.6-.9l.6 .9l.6 .6l.6-.4l.6-.2l.6 .2l.6-.3l.6 .4l.6-.5l.6 .1l.6 .5l.6 .2l.6-.2l.6-0l.6 0l.6 .6l.6-.2l.6-.2l.6-.3l.6-.2l.6 .4l.6-0l.6 .4l.6 .3l.6-1l.6 .1l.6 .1l.6 .2l.6-.6l.6-.2l.6 .5l.6 .4l.6-.6l.6-.1l.6 .2l.6 .6l.6 .2l.6-.8l.6-.2l.6 .3l.6-.4l.6 .1l.6 .5l.6 .2l.6 .2l.6-.3l.6 .2l.6 0l.6 .2l.6 .2l.6 .5l.6-.5l.6-.5l.6 .1l.6-.3l.6-.1l.6 .6l.6 .8l.6-.2l.6-.3l.6-.2l.6-.4l.6 0l.6 .3l.6-.1l.6-.2l.6 .3l.6-.1l.6 .7l.6-.7l.6 .6l.6-.4l.6 .1l.6-.2l.6 0l.6-0l.6-.2l.6-.7l.6 1.3l.6-0l.6 .5l.6-.4l.6-.1l.6-.4l.6 .1l.6-0l.6-.3l.6-.2l.6-16.2l.6 .3l.6 .4l.6 .4l.6-.3l.6-.4l.6-.3l.6-0l.6 .4l.6-.2l.6-0l.6 .7l.6 .3l.6-.2l.6 0l.6-.1l.6-.1" fill="none" stroke="#000" stroke-width="0.9"/>
<path d="M454.8 22.2l1.5 .4l1.5-.2l1.5-.2l1.5 .2l1.5 .3l1.5 .1l1.5-.1l1.5 .1l1.5 .1l1.5-.3l1.5-.2l1.5-.2l1.5 .1l1.5 .2l1.5-0l1.5-.1l1.5-0l1.5-.1l1.5 0l1.5-.2l1.5 .1l1.5 .2l1.5-.1l1.5 .1l1.5 .1l1.5 0l1.5 .1l1.5 .1l1.5 .2l1.5 .4l1.5-.5l1.5 .1l1.5-.2l1.5 .2l1.5-.4l1.5 .1l1.5 0l1.5 .2l1.5 0l1.5-0l1.5 0l1.5-0l1.5-.4l1.5 .2l1.5 0l1.5 .1l1.5-.1l1.5 .2l1.5-0l1.5 .3l1.5-.2l1.5-.1l1.5 .1" fill="none" stroke="#fff" stroke-width="0.62" stroke-dasharray="8 1.5 16 1.5 16 6 3 2 3 2" stroke-dashoffset="19"/>
<path d="M455.4 23.7l1.5-.1l1.5 .1l1.5 0l1.5 .2l1.5-.1l1.5 .3l1.5-.1l1.5 .1l1.5 .1l1.5-0l1.5 .1l1.5-.2l1.5 .1l1.5-.2l1.5 .1l1.5 .1l1.5 .1l1.5-.2l1.5-.2l1.5-.1l1.5-.1l1.5 .1l1.5 .1l1.5-.1l1.5 .1l1.5 0l1.5 .3l1.5-0l1.5-.2l1.5-.2l1.5 .2l1.5 .1l1.5-.1l1.5 0l1.5 .1l1.5-.1l1.5 .1l1.5-.2l1.5 .2l1.5-0l1.5-0l1.5 .2l1.5 0l1.5 .1l1.5-.2l1.5 .2l1.5-.2l1.5-.2l1.5 .2l1.5 .1l1.5-.2l1.5-.2" fill="none" stroke="#fff" stroke-width="0.62" stroke-dasharray="8 2 3 6 8 6 3 1.5 6 2" stroke-dashoffset="19"/>
<path d="M456.0 24.7l1.5 .2l1.5 0l1.5 .1l1.5-.1l1.5 .2l1.5 .2l1.5 .3l1.5-0l1.5-.1l1.5 0l1.5-0l1.5-.1l1.5 .1l1.5-.4l1.5 .1l1.5 .5l1.5-.2l1.5-0l1.5 .1l1.5-.1l1.5 .1l1.5-.1l1.5 .1l1.5-.1l1.5 .1l1.5-.1l1.5 0l1.5 .1l1.5-0l1.5-0l1.5-.1l1.5 .1l1.5-.2l1.5 .3l1.5-0l1.5 .1l1.5-.1l1.5 .1l1.5 .1l1.5-.3l1.5 .1l1.5-.1l1.5 .3l1.5-0l1.5-.1l1.5 0l1.5-0l1.5-.1l1.5-.1l1.5 .3l1.5-.1l1.5 .1" fill="none" stroke="#fff" stroke-width="0.62" stroke-dasharray="12 4 12 3 6 4 12 4 12 6" stroke-dashoffset="5"/>
<path d="M456.6 26.1l1.5 .3l1.5-0l1.5 .1l1.5-0l1.5 .5l1.5-.1l1.5 0l1.5-.1l1.5-0l1.5-0l1.5 .1l1.5 .3l1.5-0l1.5 .1l1.5-.2l1.5-0l1.5-.1l1.5-.2l1.5 .6l1.5-.1l1.5-.1l1.5-.1l1.5-.1l1.5-.1l1.5 .2l1.5-0l1.5-0l1.5 .1l1.5-.2l1.5 .1l1.5 0l1.5 .1l1.5-0l1.5-0l1.5 .1l1.5 .1l1.5-.1l1.5 .1l1.5-.2l1.5 0l1.5 .1l1.5 0l1.5-.3l1.5-0l1.5 .1l1.5 .2l1.5-.1l1.5 .3l1.5-.3l1.5 .1l1.5 .1l1.5 0" fill="none" stroke="#fff" stroke-width="0.62" stroke-dasharray="4 3 4 4 6 4 4 6 8 6" stroke-dashoffset="18"/>
<path d="M457.2 27.2l1.5 .4l1.5 .1l1.5 .1l1.5 .2l1.5 .4l1.5-0l1.5-.1l1.5 .3l1.5-.1l1.5 .1l1.5-.1l1.5-.1l1.5 .1l1.5-.1l1.5 .2l1.5 0l1.5 .2l1.5-.1l1.5 .2l1.5-0l1.5 .1l1.5-.5l1.5-0l1.5-.2l1.5 .2l1.5 .3l1.5-.1l1.5-0l1.5-.1l1.5 .3l1.5 .1l1.5 0l1.5 0l1.5-0l1.5-0l1.5 0l1.5-.1l1.5 .1l1.5-.3l1.5 .3l1.5 .1l1.5-.1l1.5-.1l1.5-.2l1.5 .1l1.5 .1l1.5 .1l1.5 .2l1.5-.1l1.5-.1l1.5-.2" fill="none" stroke="#fff" stroke-width="0.62" stroke-dasharray="4 6 12 3 3 3 12 1.5 6 2" stroke-dashoffset="7"/>
<path d="M457.8 28.5l1.5 .3l1.5 .7l1.5-.1l1.5 .2l1.5 .1l1.5 .2l1.5 .3l1.5-.2l1.5 .1l1.5 0l1.5-0l1.5-.1l1.5 .2l1.5-0l1.5 .1l1.5 0l1.5 .2l1.5-.1l1.5-.1l1.5-.1l1.5 .4l1.5-.1l1.5 .2l1.5-.1l1.5-0l1.5-.2l1.5 .1l1.5-0l1.5-0l1.5 .1l1.5-.1l1.5-.1l1.5-.1l1.5 .1l1.5 0l1.5 .1l1.5-0l1.5-0l1.5-.1l1.5 .1l1.5 .1l1.5-.2l1.5-.1l1.5 .3l1.5-.1l1.5 .3l1.5 0l1.5-0l1.5-.1l1.5-.2l1.5 .1" fill="none" stroke="#fff" stroke-width="0.62" stroke-dasharray="16 4 6 1.5 6 1.5 3 4 3 3" stroke-dashoffset="1"/>
<path d="M458.4 29.9l1.5 .7l1.5 .2l1.5 .2l1.5 0l1.5 .3l1.5-.1l1.5-.1l1.5 .3l1.5-.2l1.5 .1l1.5 .3l1.5 .1l1.5 .2l1.5-0l1.5-.1l1.5-0l1.5-.3l1.5 .2l1.5-0l1.5 .1l1.5 .2l1.5-0l1.5 .2l1.5-0l1.5-.1l1.5-0l1.5 .3l1.5-.1l1.5-.2l1.5-0l1.5 .1l1.5-.1l1.5-.1l1.5 .1l1.5 0l1.5 .2l1.5 0l1.5-.1l1.5 .2l1.5-.2l1.5 .1l1.5-.1l1.5 0l1.5 .1l1.5-.1l1.5-0l1.5 0l1.5-0l1.5-.1l1.5-0" fill="none" stroke="#fff" stroke-width="0.62" stroke-dasharray="8 2 3 6 6 6 8 1.5 16 2" stroke-dashoffset="0"/>
<path d="M459.0 31.4l1.5 .5l1.5 .2l1.5 .1l1.5 .2l1.5 .4l1.5-.2l1.5 .3l1.5 .1l1.5 0l1.5 .1l1.5 .1l1.5-.1l1.5 .1l1.5-.1l1.5 0l1.5 .2l1.5-.1l1.5 .3l1.5-.2l1.5 .1l1.5-.2l1.5 0l1.5 .4l1.5-0l1.5-.1l1.5 .2l1.5-.1l1.5 .1l1.5-.1l1.5 0l1.5 .2l1.5-0l1.5-0l1.5-.1l1.5-.3l1.5 .1l1.5 0l1.5 .3l1.5-.2l1.5 .1l1.5 0l1.5-.1l1.5 .3l1.5-0l1.5 0l1.5 0l1.5 .2l1.5-.1l1.5-.2l1.5 .4" fill="none" stroke="#fff" stroke-width="0.62" stroke-dasharray="3 6 3 6 12 4 6 2 4 1.5" stroke-dashoffset="12"/>
<path d="M459.6 32.8l1.5 .5l1.5 .1l1.5 .2l1.5 .3l1.5 .2l1.5-.1l1.5 .3l1.5 .1l1.5 .1l1.5 .3l1.5 .2l1.5-.2l1.5-0l1.5-.1l1.5-.3l1.5 .4l1.5-.1l1.5 .1l1.5-0l1.5-.2l1.5 .2l1.5 .1l1.5 .1l1.5 .2l1.5-.2l1.5 .1l1.5 0l1.5-.3l1.5 0l1.5-0l1.5-0l1.5 .3l1.5 .2l1.5 .1l1.5 .1l1.5 0l1.5 .1l1.5 .1l1.5-0l1.5-.3l1.5-.2l1.5 .1l1.5 .1l1.5 .2l1.5-.2l1.5 .3l1.5-.1l1.5 .2l1.5 .1l1.5 .1" fill="none" stroke="#fff" stroke-width="0.62" stroke-dasharray="12 2 8 6 6 3 16 3 16 2" stroke-dashoffset="14"/>
<path d="M460.2 34.4l1.5 .1l1.5 .3l1.5 .3l1.5 .5l1.5 .2l1.5 .2l1.5-.1l1.5 .2l1.5 .1l1.5-.1l1.5 .3l1.5 .1l1.5-.1l1.5-0l1.5 .1l1.5 0l1.5 .1l1.5-0l1.5 .3l1.5-.1l1.5-.3l1.5 .2l1.5 0l1.5 .2l1.5 .1l1.5-0l1.5-.2l1.5-.1l1.5 .3l1.5 .1l1.5 0l1.5-.2l1.5 .3l1.5 .1l1.5-.2l1.5-.2l1.5-0l1.5 .1l1.5 0l1.5 .1l1.5-.1l1.5 .2l1.5 0l1.5 .2l1.5 0l1.5 0l1.5 .2l1.5-.1l1.5-.1" fill="none" stroke="#fff" stroke-width="0.62" stroke-dasharray="4 3 3 4 6 3 12 1.5 12 3" stroke-dashoffset="15"/>
<path d="M436.4 22.1l.6-.4l.6 .1l.6-.1l.6 0l.6 .1l.6 0l.6 .3l.6-0l.6 0l.6-.5l.6 .1l.6 0l.6-.2l.6-.2l.6 0l.6 .4l.6 0l.6 .1l.6-.1l.6 .3l.6 0l.6 .1l.6-.1l.6 .6l.6-0l.6-.8l.6-.1l.6-.4l.6 .2l.6 .5l.6-.2l.6-.2l.6 .3l.6-.1l.6-.4l.6 .5l.6-.3l.6 .3l.6 0l.6 .4l.6-.7l.6-.1l.6-.2l.6 0l.6 .3l.6 .5l.6-1.1l.6 .3l.6 .5l.6-0l.6 0l.6 .2l.6-.5l.6 .1l.6 .4l.6 .3l.6-.7l.6 .5l.6 0l.6 .1l.6-.1l.6 .1l.6 .3l.6-.8l.6 .1l.6-.4l.6 .2l.6-0l.6-.4l.6 .2l.6 .2l.6 .4l.6-.2l.6-.1l.6-.4l.6 .2l.6-0l.6-0l.6 .3l.6-0l.6 .1l.6 0l.6 .2l.6-.4l.6 .2l.6-.4l.6-.2l.6-.2l.6 .4l.6 .1l.6-.1l.6 .1l.6-0l.6 .1l.6-.5l.6 .5l.6 .3l.6-.5l.6 .4l.6-.1l.6 .2l.6-.4l.6 .3l.6 .1l.6-.2l.6-.3l.6 .3l.6-.6l.6 .5l.6 .1l.6-.2l.6-.4l.6 .4l.6-.1l.6-0l.6 .3l.6 0l.6-.2l.6 .6l.6-.4l.6 0l.6 .3l.6 .3l.6 .1l.6-.7l.6-0l.6-.2l.6 .2l.6-.2l.6-.1l.6-.5l.6-.2l.6 .1l.6 .5l.6-.2l.6 .3l.6-.4l.6-.1l.6 .3l.6-.1l.6 .5l.6-.4l.6 .3l.6-.2l.6-0l.6-.3l.6 .2l.6 .1l.6 .4l.6 .1l.6 .2l.6-.5l.6-.4l.6 .1l.6 .3l.6-.2l.6 .2l.6 0l.6 .3l.6 0l.6 .5l.6-0l.6-.6l.6 .8l.6-.3l.6-.3l.6-.1l.6-.1l.6 .1l.6-.2l.6-.4l.6 .6l.6-.2l.6 0l.6-.4l.6 .3l.6 .1l.6 .2l.6-.1l.6 .1l.6-.1l.6 .1" fill="none" stroke="#000" stroke-width="3.0"/>
<line x1="450.40" y1="21.70" x2="450.40" y2="30.70" stroke="#000" stroke-width="0.8"/>
<line x1="535.80" y1="7.70" x2="535.80" y2="37.90" stroke="#000" stroke-width="0.8"/>
<polygon points="332.3,73.1 332.3,73.1 334.3,77.5 336.3,80.5 338.3,82.6 340.3,84.0 342.3,85.0 344.3,85.7 346.3,86.1 348.3,86.4 350.3,86.7 352.3,86.8 354.3,87.0 356.3,87.1 358.3,87.1 360.3,87.2 362.3,87.3 364.3,87.3 366.3,87.4 368.3,87.4 370.3,87.4 372.3,87.5 374.3,87.5 376.3,87.6 378.3,87.6 380.3,87.6 382.3,87.7 384.3,87.7 386.3,87.7 388.3,87.8 390.3,87.8 392.3,87.8 394.3,87.9 396.3,87.9 398.3,87.9 400.3,88.0 402.3,88.0 404.3,88.1 406.3,88.1 408.3,88.1 410.3,88.2 412.3,88.2 414.3,88.2 416.3,88.3 418.3,88.3 418.4,88.3 418.4,73.1" fill="#000" fill-opacity="0.82"/>
<path d="M317.0 72.8l.6-.1l.6-0l.6 .2l.6-0l.6 .4l.6-.5l.6-.1l.6 .3l.6-.3l.6 .3l.6 .1l.6 0l.6-.1l.6 0l.6-0l.6 .4l.6 .4l.6-.3l.6-.5l.6-.2l.6 .3l.6 .1l.6 0l.6-0l.6 .1l.6-1l.6 .3l.6-.1l.6 .1l.6-.1l.6 .2l.6 .7l.6-.2l.6 .5l.6-.1l.6-.5l.6-.1l.6-.1l.6-.6l.6 1.1l.6 .1l.6-.1l.6-.6l.6 .2l.6-.7l.6 .8l.6 .1l.6-.2l.6 0l.6 .7l.6-1l.6-.2l.6 .2l.6 .3l.6-.2l.6 .3l.6-0l.6-.4l.6 .1l.6 .2l.6 .4l.6 0l.6-.8l.6 .5l.6-.1l.6 .2l.6-.1l.6 .4l.6 .3l.6-.6l.6-.2l.6 .4l.6-0l.6-.4l.6 .3l.6 .2l.6 0l.6-.5l.6-.1l.6 .4l.6-0l.6-.5l.6 .1l.6-.2l.6 .1l.6 0l.6 .1l.6 .2l.6 .1l.6-.1l.6 0l.6-.5l.6 .3l.6-.6l.6-.1l.6 .3l.6 .6l.6 .2l.6-.5l.6 .3l.6 .9l.6-.3l.6 .2l.6-.5l.6-.1l.6 .3l.6-.1l.6 .1l.6-0l.6-.1l.6-1l.6 .3l.6 0l.6-.2l.6 .6l.6 .2l.6 .1l.6-.1l.6 .1l.6-.3l.6-.6l.6-.2l.6 .4l.6 .5l.6 .1l.6-.4l.6 .3l.6-.6l.6 .1l.6-.1l.6-.2l.6-0l.6 .5l.6 .1l.6 .2l.6-.3l.6 .1l.6-.7l.6-.3l.6 .4l.6 .6l.6 .2l.6-.4l.6 .4l.6-.1l.6 .2l.6-.3l.6-.7l.6 .4l.6 .1l.6-.5l.6 .4l.6 .4l.6 0l.6-.3l.6 .5l.6 .5l.6-0l.6-.2l.6-.1l.6-.3l.6 .3l.6 .2l.6-0l.6-.5l.6-.2l.6-.2l.6 .5l.6-.1l.6-0l.6-.2l.6-0l.6-.1l.6-.3l.6-.1l.6-.1l.6 .3l.6 .3l.6-.1l.6 .1l.6-.3l.6 0l.6 .2l.6 0l.6-.1l.6 0l.6 .1l.6 .5l.6-.2" fill="none" stroke="#000" stroke-width="0.9"/>
<path d="M317.0 72.5l.6 .2l.6 .5l.6 0l.6 .4l.6 0l.6-.2l.6-0l.6-.2l.6-.2l.6-.4l.6 .3l.6 .5l.6-.1l.6-.1l.6-.4l.6 .4l.6-.2l.6 .1l.6-.1l.6 .4l.6 .1l.6-0l.6-.1l.6-.2l.6 .4l.6 0l.6 .2l.6-.3l.6 .1l.6-.2l.6 .2l.6 .1l.6-.4l.6 .5l.6 .2l.6 .1l.6-0l.6-.2l.6-.2l.6 0l.6 .2l.6-.1l.6-.3l.6 .3l.6-0l.6-.5l.6 .8l.6-.4l.6 .3l.6-.1l.6 .2l.6 .7l.6-.5l.6 .2l.6-.4l.6 .1l.6-.2l.6 0l.6 .5l.6-.2l.6-.3l.6 0l.6-.3l.6 .1l.6 0l.6-.4l.6 .1l.6 .3l.6-1.1l.6 .9l.6 .7l.6-.3l.6-.5l.6 .4l.6 .3l.6-.6l.6-.3l.6 1.1l.6-.2l.6-.2l.6 .5l.6 .3l.6-.5l.6 .1l.6-.7l.6 .4l.6-.2l.6 0l.6-.4l.6-.2l.6 .1l.6 .3l.6 .4l.6 .1l.6 0l.6 .1l.6 .1l.6 .3l.6-.2l.6-.3l.6-.1l.6-.3l.6-0l.6-.6l.6 .7l.6 .7l.6-.7l.6-.1l.6 .2l.6-.9l.6 .1l.6-0l.6-0l.6-.6l.6 .3l.6 .2l.6 .3l.6 0l.6 .4l.6 .5l.6 0l.6 0l.6 .2l.6-0l.6-.4l.6-.4l.6 .2l.6 .2l.6 0l.6-.3l.6 .1l.6-.2l.6 .5l.6-.3l.6 .1l.6-.4l.6 .1l.6-.5l.6 .2l.6 .5l.6-.1l.6 .2l.6-.1l.6-0l.6-.4l.6 .7l.6 .1l.6-.6l.6-.1l.6 .2l.6-.5l.6 .1l.6-.5l.6 .9l.6-.3l.6 .3l.6 .1l.6-0l.6 .6l.6-.1l.6 .4l.6-.2l.6-.7l.6 .1l.6 .1l.6 0l.6-.2l.6-.1l.6-.8l.6-.1l.6-.1l.6 .1l.6-.1l.6 .1l.6-.5l.6 .3l.6-.2l.6 .6l.6 .1l.6-.4l.6 .1l.6-.2l.6 1.1l.6-.5l.6-.5l.6 .6l.6-.2l.6-0l.6-.2" fill="none" stroke="#000" stroke-width="0.9"/>
<path d="M317.0 72.9l.6-.5l.6-.3l.6 0l.6 .6l.6-0l.6-.2l.6 .6l.6-.3l.6 .5l.6 .3l.6 .2l.6-.9l.6-.2l.6 .1l.6 .2l.6 .2l.6-.4l.6-.1l.6 .2l.6 .4l.6-.3l.6-0l.6 0l.6 .1l.6 .4l.6 .7l.6-.1l.6-.3l.6 .1l.6 0l.6 .5l.6 .1l.6-.2l.6 .5l.6-.2l.6 .2l.6-.5l.6 .2l.6-.6l.6-.5l.6 .4l.6 .7l.6 .4l.6 .4l.6-.8l.6-.3l.6-.1l.6-.1l.6 .3l.6-0l.6 0l.6-.2l.6 .4l.6 .3l.6 .2l.6 .3l.6 .1l.6-.4l.6-.6l.6-.4l.6 .5l.6 .1l.6-.3l.6-.2l.6 .2l.6 .5l.6-.1l.6 .4l.6-.2l.6-0l.6-.3l.6-.2l.6 .5l.6 .1l.6-.2l.6-.5l.6-.2l.6-0l.6 .1l.6 .3l.6 .7l.6-.6l.6 .1l.6-.3l.6-.4l.6 .5l.6 .4l.6-.3l.6-.4l.6 .8l.6 .2l.6 .1l.6-.3l.6-.1l.6-.1l.6 .3l.6-.1l.6-.1l.6-.5l.6 .1l.6 .3l.6 .3l.6-.3l.6-0l.6 .2l.6-.5l.6-0l.6-.2l.6 .7l.6-.3l.6 .6l.6-.4l.6-.1l.6 .3l.6-.6l.6-.4l.6 .3l.6-.2l.6 .3l.6 .1l.6-.3l.6-.1l.6 .4l.6-.4l.6 .8l.6-.1l.6 0l.6-.4l.6 .8l.6-.4l.6-.4l.6-0l.6-.4l.6 .3l.6 .4l.6 .2l.6-.1l.6 .1l.6-.3l.6-.1l.6-.5l.6 .4l.6-0l.6 .1l.6 0l.6 .1l.6-0l.6 0l.6 .2l.6 .2l.6-.5l.6 0l.6-.4l.6-.1l.6-.2l.6 .4l.6 .8l.6 0l.6-.1l.6-.1l.6 .1l.6 .2l.6-.6l.6 .2l.6 .6l.6 .8l.6-.4l.6-.2l.6-2l.6 .1l.6-0l.6 .1l.6-.1l.6-.4l.6 .4l.6-0l.6-.2l.6 .2l.6-.6l.6 .4l.6-.1l.6 .2l.6 .1l.6 0l.6-.3l.6-.3l.6-.4l.6 .1l.6-0" fill="none" stroke="#000" stroke-width="0.9"/>
<path d="M317.0 73.4l.6 .2l.6-.5l.6-.3l.6 .3l.6 .3l.6-.1l.6-.1l.6-0l.6 .2l.6-.3l.6 .2l.6 .2l.6 .2l.6-.7l.6-.2l.6 .3l.6 .2l.6 .4l.6-.3l.6-.9l.6 .4l.6 .3l.6-.1l.6-.2l.6 .1l.6 .3l.6 .3l.6 .7l.6-.3l.6 .4l.6 .7l.6 0l.6 .4l.6 .1l.6-.1l.6 .5l.6 .1l.6-1l.6 .3l.6-.1l.6-.4l.6 .8l.6 .2l.6 0l.6-.1l.6 0l.6-.4l.6 .3l.6 .2l.6-.5l.6-.2l.6 .2l.6-.2l.6-0l.6 0l.6 .4l.6-.2l.6 .1l.6-.5l.6-.5l.6-0l.6 .7l.6 .1l.6-.6l.6 .8l.6-0l.6 .1l.6 .2l.6-.2l.6 .2l.6-.3l.6 0l.6-.1l.6 .3l.6-.7l.6-.4l.6-0l.6-0l.6-.1l.6 0l.6 .3l.6 .4l.6-.1l.6 .3l.6-.1l.6-.4l.6 1l.6-0l.6 .2l.6-.3l.6-.7l.6 .3l.6 .1l.6 .6l.6 .3l.6 .1l.6 .6l.6-.9l.6-.4l.6-.1l.6 .4l.6-.1l.6 0l.6 .3l.6-.2l.6-.3l.6-.7l.6 .3l.6-.4l.6 .7l.6 .1l.6-.1l.6-.1l.6-.2l.6 .2l.6-.8l.6 .3l.6 .2l.6 .2l.6-.5l.6 .4l.6-.1l.6 .5l.6 .3l.6-.1l.6-.1l.6-.3l.6 .5l.6 .2l.6-.5l.6-.2l.6-0l.6 0l.6 .5l.6 0l.6-.2l.6 .2l.6-1l.6-.1l.6-0l.6 .9l.6 .4l.6 .2l.6-.2l.6-.3l.6-.6l.6 .8l.6-.1l.6-.2l.6-.6l.6-.3l.6 .5l.6 .1l.6-.1l.6-.2l.6 .1l.6 .2l.6 .3l.6-0l.6-.5l.6 .1l.6 .4l.6-.1l.6-0l.6 .1l.6-.3l.6 .5l.6 .5l.6-3.4l.6 .3l.6-.3l.6 0l.6 .3l.6-0l.6-.8l.6-.2l.6 .3l.6-.3l.6 .3l.6 .4l.6-.6l.6 .4l.6-.2l.6 .7l.6-.1l.6 0l.6 .4l.6-.8l.6 .4" fill="none" stroke="#000" stroke-width="0.9"/>
<path d="M317.0 73.1l.6 .4l.6 .2l.6 .2l.6-.6l.6-.1l.6-.2l.6 0l.6 .2l.6-.3l.6 .5l.6-.2l.6-.3l.6 .5l.6-.3l.6 .1l.6 .1l.6-0l.6-.4l.6-.1l.6 .6l.6 .2l.6 .2l.6-.5l.6 .1l.6-.3l.6 .4l.6 .2l.6 .3l.6 .3l.6 .1l.6 1l.6-.5l.6 .2l.6 .7l.6 .4l.6-.3l.6 .5l.6-.4l.6 .2l.6 .3l.6 .5l.6-.4l.6-.3l.6 0l.6 .3l.6-.7l.6 .9l.6 .1l.6-.5l.6 .2l.6-.6l.6 .5l.6 .3l.6-.6l.6-.3l.6 .1l.6 .1l.6-0l.6-.2l.6-.2l.6 0l.6 .6l.6-.1l.6 0l.6 .4l.6 .2l.6 .4l.6-.3l.6-.5l.6-.2l.6-.1l.6 .3l.6-0l.6-.1l.6-.2l.6 .3l.6 .4l.6-.1l.6-.4l.6 .3l.6-.6l.6-0l.6 .3l.6-.3l.6 .3l.6 .3l.6-.4l.6 .2l.6 .2l.6-.2l.6-.8l.6 .4l.6 .1l.6 .4l.6 .3l.6-.5l.6-.8l.6 .3l.6 .6l.6 .7l.6-.5l.6-0l.6 .1l.6 .6l.6-.6l.6 .6l.6-.3l.6 .2l.6-0l.6-.2l.6-.2l.6 .1l.6-0l.6 .1l.6 .5l.6-1.6l.6 .3l.6 .4l.6-.2l.6 0l.6 .4l.6-.6l.6-0l.6 .6l.6 .1l.6-.4l.6 0l.6 .3l.6 0l.6 .2l.6 .2l.6-.4l.6 .3l.6-.1l.6-.1l.6-.4l.6 .1l.6-.3l.6 .5l.6-.1l.6-.5l.6 .2l.6 .6l.6-.1l.6 .2l.6 .1l.6-.1l.6-.2l.6-.6l.6 .2l.6 .2l.6-0l.6 .1l.6-.2l.6 .1l.6-.2l.6-.4l.6 .1l.6-.7l.6 .3l.6 .3l.6 .7l.6-.1l.6-.1l.6-.2l.6-0l.6 .1l.6 .1l.6-3.9l.6 .3l.6-0l.6 .2l.6-.2l.6 .4l.6 .4l.6-.3l.6 .1l.6 .1l.6 .4l.6-.7l.6-.1l.6-.4l.6 .1l.6 .1l.6-.3l.6-.1l.6 .1l.6 .2l.6 .5" fill="none" stroke="#000" stroke-width="0.9"/>
<path d="M317.0 73.1l.6-.1l.6 .1l.6-.3l.6 .2l.6 .2l.6-.1l.6 .3l.6 .3l.6-.3l.6-.1l.6-.2l.6 .1l.6 .3l.6-.3l.6 .3l.6 .4l.6-.2l.6-.6l.6-.2l.6-0l.6 .3l.6-.1l.6-0l.6 .2l.6 .2l.6-.2l.6 1.1l.6 .4l.6-0l.6 .1l.6 .2l.6 .4l.6 .5l.6 .4l.6 .2l.6 .3l.6-.1l.6-.4l.6-.2l.6 .2l.6 .5l.6 .3l.6-.2l.6 .5l.6 .1l.6-0l.6-.2l.6-.1l.6 .2l.6 .1l.6-.3l.6-.1l.6 .2l.6-.1l.6 .5l.6-.7l.6 .3l.6-.3l.6 0l.6-.3l.6 .5l.6 .4l.6-.1l.6-.4l.6-.2l.6 .3l.6 .4l.6-.3l.6-1.1l.6 .7l.6 .4l.6 0l.6 .3l.6-.2l.6 .2l.6-.4l.6-.2l.6 .2l.6 .1l.6-.2l.6-0l.6-.2l.6 .3l.6-.2l.6 .4l.6 .2l.6-.5l.6-1l.6 .3l.6 .3l.6 .2l.6-.2l.6 .4l.6 .2l.6 .2l.6-.6l.6 .3l.6-0l.6-.1l.6-.1l.6-.6l.6 .2l.6 .3l.6 .4l.6 .1l.6 .1l.6-.1l.6 .1l.6-.1l.6 .4l.6-.6l.6 0l.6 .2l.6-.3l.6 1l.6-.4l.6 .1l.6 .3l.6-0l.6-.4l.6 .3l.6-.1l.6 .4l.6-.8l.6 .3l.6 0l.6 .4l.6-.7l.6-.2l.6 .1l.6-.2l.6 .2l.6-.2l.6 .3l.6 .1l.6-.2l.6-.6l.6 .1l.6 .4l.6 .2l.6-.2l.6 .6l.6-.3l.6 .2l.6-.2l.6-.2l.6 .3l.6-.1l.6-.2l.6 .4l.6-.1l.6-.2l.6 .5l.6-.2l.6-.2l.6 .1l.6-.4l.6 .2l.6-.2l.6-.4l.6 0l.6 .3l.6-.1l.6-.1l.6 .4l.6-.4l.6-0l.6 .5l.6-4.7l.6-.1l.6 0l.6-.1l.6-.3l.6 .7l.6 0l.6 0l.6-.1l.6 .5l.6-.3l.6 .2l.6-.3l.6-0l.6-.2l.6-.5l.6 .2l.6 .2l.6-0l.6-.1l.6 .4" fill="none" stroke="#000" stroke-width="0.9"/>
<path d="M317.0 73.4l.6-.1l.6-.2l.6-.1l.6-.1l.6 0l.6 .3l.6-.3l.6-.6l.6 .5l.6 .2l.6-.4l.6-.1l.6 .4l.6 .1l.6 .5l.6-0l.6-.3l.6 .3l.6-.1l.6-.1l.6-.4l.6-.1l.6 .4l.6 .2l.6 .3l.6 .5l.6 .1l.6 .5l.6 .4l.6 .5l.6 .7l.6 .3l.6 .2l.6 .2l.6 .7l.6-.3l.6-.3l.6-.1l.6 .5l.6 .3l.6-.1l.6 .2l.6-.3l.6 .3l.6-.1l.6 .2l.6 .5l.6-.2l.6 0l.6 0l.6-.5l.6-.6l.6 .1l.6 .7l.6 .5l.6 .3l.6-.6l.6-0l.6-.2l.6-.4l.6 .2l.6 .1l.6-.4l.6 .8l.6-.1l.6-.1l.6-.3l.6 .3l.6 0l.6-0l.6-.4l.6 1l.6-.3l.6 .1l.6 .3l.6-.1l.6 .2l.6 .2l.6-.1l.6-.8l.6 .3l.6-.3l.6-.3l.6-.2l.6 .1l.6-.1l.6 .1l.6 .2l.6 .4l.6 .2l.6 .4l.6 .3l.6 .5l.6-.4l.6-1.1l.6-.2l.6 .1l.6 .1l.6 .1l.6 0l.6-.3l.6-.2l.6 .8l.6-.3l.6-.4l.6 .3l.6 0l.6-.2l.6 .6l.6-.4l.6-.1l.6-.3l.6 .4l.6 .5l.6 .2l.6-.4l.6 .2l.6-.2l.6 .1l.6 .1l.6 0l.6-.3l.6-.8l.6 .7l.6-.5l.6 1l.6-.1l.6 .2l.6-.3l.6-.3l.6 .4l.6 .8l.6-.9l.6 .4l.6-.5l.6 .3l.6-.5l.6-.3l.6 .1l.6-.3l.6 .8l.6 0l.6-.2l.6 .5l.6-.5l.6-.2l.6-.1l.6 .5l.6 .2l.6-.2l.6 .4l.6-.4l.6-.3l.6-.4l.6-.3l.6-.1l.6 .4l.6 1l.6-.6l.6 .5l.6-.8l.6 0l.6 1l.6-.4l.6-.6l.6-.1l.6-0l.6 .3l.6-5.8l.6 .3l.6-.4l.6-.1l.6 .2l.6 .4l.6 .4l.6-.7l.6 .6l.6-.7l.6 .2l.6-.1l.6 .2l.6 0l.6-.6l.6 .5l.6 .1l.6 .5l.6-.6l.6 .7l.6-.4" fill="none" stroke="#000" stroke-width="0.9"/>
<path d="M317.0 73.4l.6 .1l.6 .5l.6-.5l.6-.2l.6-.4l.6 .2l.6 0l.6-.1l.6-.1l.6 .2l.6-.1l.6 .5l.6-.6l.6 .4l.6 .1l.6-.2l.6 0l.6-.3l.6-.4l.6 .3l.6 .3l.6 0l.6-.1l.6 .3l.6 .2l.6 .5l.6 .8l.6 .4l.6 .1l.6 1.3l.6 .6l.6-0l.6-.1l.6 .3l.6 .1l.6 .9l.6-.7l.6 .2l.6 .5l.6-.6l.6 .4l.6 .2l.6-.1l.6 .2l.6 .1l.6 .6l.6-.7l.6 .8l.6-.1l.6 .2l.6 .1l.6 .3l.6-.3l.6 .6l.6-.8l.6 .4l.6 .2l.6-.7l.6-.8l.6 .8l.6-.1l.6-.1l.6 0l.6-.2l.6 .7l.6 .3l.6-.2l.6-.1l.6-0l.6 .1l.6-0l.6-.9l.6 .1l.6 .3l.6 .3l.6-.2l.6-.2l.6 .5l.6 .1l.6-.1l.6-.4l.6 .1l.6-.2l.6 .5l.6-.3l.6-.3l.6-.1l.6 0l.6 .7l.6 0l.6 0l.6-.4l.6 .5l.6 .1l.6 .1l.6-.2l.6 0l.6 .3l.6-.3l.6 .2l.6 .1l.6 .3l.6-.7l.6-.2l.6 .2l.6 0l.6-.3l.6-.2l.6 .8l.6-.3l.6 .3l.6-0l.6 .4l.6-.3l.6-.2l.6 .5l.6-.7l.6-.3l.6-0l.6 0l.6 .1l.6 .3l.6-.1l.6 .5l.6-.1l.6 0l.6-.2l.6 .1l.6-.2l.6-.6l.6 .1l.6 .3l.6-.2l.6 .2l.6-.1l.6 .5l.6-.4l.6-.3l.6 .4l.6-.1l.6 .1l.6 .2l.6-.7l.6-.5l.6 .5l.6 .2l.6 .4l.6-.7l.6 .1l.6 .3l.6 .1l.6-.1l.6 .2l.6 .2l.6-0l.6 .3l.6-.1l.6-.1l.6-.2l.6-.1l.6 0l.6-.3l.6-.7l.6 .8l.6-.1l.6 .2l.6-.4l.6 .2l.6-6.6l.6 .2l.6-.2l.6 .3l.6 .2l.6 .4l.6-.3l.6-.1l.6-.5l.6 .1l.6 .6l.6-.4l.6 0l.6-.1l.6-.1l.6 0l.6 .2l.6 .5l.6 0l.6 .2l.6-.3" fill="none" stroke="#000" stroke-width="0.9"/>
<path d="M317.0 72.9l.6-0l.6 .4l.6-0l.6-.1l.6-.2l.6-.1l.6 0l.6 .1l.6-.3l.6-.2l.6 .5l.6-.1l.6-.1l.6 .4l.6-.3l.6 .1l.6-.2l.6 .4l.6-.3l.6-.5l.6 .2l.6 .8l.6-.2l.6-.4l.6-.2l.6 .6l.6 .7l.6 .7l.6 .9l.6 1l.6 .3l.6 .2l.6 1.1l.6 .4l.6 .3l.6-.7l.6 1.5l.6-.4l.6 .1l.6-.2l.6 .7l.6 0l.6-.5l.6 .1l.6-.2l.6-.2l.6 .7l.6-.4l.6-.1l.6 .3l.6 .4l.6-.2l.6 .1l.6 .2l.6 0l.6-.2l.6 .3l.6-.1l.6 .2l.6 .5l.6-.5l.6-.1l.6 .2l.6 .7l.6-.5l.6-.2l.6-.4l.6-0l.6 0l.6 1l.6-.8l.6 .3l.6-.3l.6-.4l.6 .4l.6-.6l.6 .5l.6 .1l.6-.7l.6 .3l.6 0l.6 .2l.6 .1l.6 .1l.6-.1l.6 .5l.6-.5l.6 .2l.6-.5l.6 .4l.6-.1l.6 .1l.6-.4l.6 .1l.6 0l.6 .1l.6 .4l.6 .2l.6-.2l.6 .2l.6 .3l.6 .5l.6-1.2l.6 .1l.6 .1l.6 .3l.6-.7l.6-.3l.6 .4l.6-.1l.6-.2l.6 .5l.6-.2l.6 .7l.6-.3l.6-.3l.6 0l.6 .3l.6 .1l.6-.2l.6 .4l.6 0l.6-.2l.6-.2l.6-0l.6-.2l.6 .5l.6-.5l.6 .6l.6 .3l.6-.3l.6-.1l.6 .2l.6-.2l.6-.1l.6 .5l.6-.2l.6-.7l.6-.4l.6 .2l.6 .3l.6 .4l.6-.4l.6 .4l.6-.1l.6-0l.6 .2l.6 .1l.6-0l.6 0l.6-.3l.6 .3l.6 .9l.6-.2l.6 0l.6-.2l.6 .5l.6-.4l.6-.7l.6 .2l.6 .3l.6 0l.6 .2l.6-.7l.6 .2l.6-.1l.6-.3l.6 0l.6-7.6l.6 .3l.6 .5l.6 .3l.6-.2l.6-.4l.6-.1l.6 .2l.6 .1l.6-.1l.6 0l.6-.1l.6 .4l.6-.1l.6-.3l.6-.1l.6-.2l.6-0l.6-.5l.6 .2l.6 .2" fill="none" stroke="#000" stroke-width="0.9"/>
<path d="M317.0 73.5l.6-.2l.6-.2l.6 .2l.6-.5l.6-0l.6 .1l.6 .3l.6-.4l.6 .4l.6-.1l.6-.4l.6-.1l.6 .2l.6 .3l.6-.4l.6 .1l.6 .1l.6-.2l.6 .2l.6-.2l.6 .1l.6-.2l.6 .3l.6-0l.6-.2l.6 .9l.6 1.5l.6 .3l.6 .9l.6 1.1l.6-.3l.6 1l.6 .4l.6-.2l.6 1.6l.6 .2l.6-.4l.6-.1l.6 .1l.6-.1l.6 .2l.6 .4l.6 .2l.6 .6l.6 .3l.6-.8l.6 .1l.6 .3l.6-.3l.6-.5l.6 .6l.6 .1l.6-0l.6-.6l.6 .7l.6 .1l.6-0l.6-0l.6-.7l.6 .2l.6 .4l.6 .6l.6 .2l.6-.4l.6-.1l.6-.4l.6 .5l.6 .2l.6-0l.6-.1l.6 .2l.6-.3l.6 .5l.6-.3l.6-.3l.6 .1l.6-.2l.6 0l.6-.2l.6 0l.6-.1l.6 .5l.6 0l.6-.1l.6-.3l.6-0l.6 .3l.6-.4l.6-.3l.6 .1l.6 .4l.6-.3l.6 .2l.6 .1l.6-.4l.6 .1l.6-0l.6-.8l.6 1l.6 .2l.6-.3l.6 .4l.6 .4l.6-.1l.6 .1l.6 0l.6-.3l.6 .1l.6 .3l.6 0l.6 0l.6-.4l.6-.3l.6 .5l.6 .1l.6-0l.6 .5l.6-.5l.6 .2l.6 0l.6-.2l.6-0l.6-.2l.6 0l.6 .1l.6-.4l.6 .4l.6-.2l.6-.1l.6 0l.6 .3l.6-.2l.6 .5l.6-.3l.6 .1l.6-.9l.6 .5l.6-.3l.6 .5l.6-.1l.6 .6l.6-.1l.6-.1l.6 .2l.6 .2l.6-.7l.6 .2l.6-.2l.6 .8l.6-.3l.6-.4l.6 .1l.6-.4l.6 .2l.6-0l.6-.4l.6 .2l.6 .1l.6 .4l.6-1l.6 .9l.6 0l.6-.3l.6 .3l.6 .7l.6-.4l.6-.3l.6 .5l.6-8.9l.6 .2l.6 .3l.6-.3l.6-.2l.6-.7l.6 .4l.6-0l.6 0l.6 .2l.6 .1l.6-.3l.6 .5l.6-.6l.6-.2l.6 .5l.6 .1l.6 .1l.6-0l.6-.4l.6 .3" fill="none" stroke="#000" stroke-width="0.9"/>
<path d="M317.0 73.3l.6-.4l.6 .2l.6-.2l.6 .4l.6 .3l.6 0l.6 .3l.6-.1l.6-.2l.6-.4l.6-.3l.6 .3l.6 0l.6 .5l.6-.3l.6-.3l.6-0l.6 .1l.6 .1l.6 .1l.6-.5l.6 .2l.6 .1l.6 .1l.6-.5l.6 .4l.6 1.6l.6 1l.6 1l.6 .7l.6 .1l.6 .7l.6 .6l.6 .2l.6-.1l.6 .6l.6 .3l.6 .3l.6 .5l.6 0l.6 .1l.6 .1l.6 .6l.6 .3l.6 0l.6 .6l.6-.6l.6 0l.6 .4l.6-.7l.6 .3l.6 0l.6-.4l.6 .4l.6 .3l.6 0l.6-0l.6 .1l.6-1l.6 .3l.6-0l.6-.2l.6 .2l.6 .1l.6 0l.6 .5l.6-.8l.6 .3l.6 .5l.6 .2l.6-.2l.6-.4l.6 .4l.6-.2l.6 .8l.6-.5l.6-0l.6 .3l.6-.2l.6-.1l.6-.3l.6 0l.6 .5l.6-.2l.6-.4l.6 .8l.6-.4l.6-.2l.6 .1l.6 .4l.6-.3l.6 .1l.6 .8l.6-.6l.6 .1l.6 .9l.6-1l.6-.9l.6 .5l.6 .6l.6-.2l.6-.1l.6 .2l.6-.5l.6 .1l.6 .1l.6-.1l.6 1l.6-.5l.6 .2l.6 .1l.6 .3l.6-.2l.6-0l.6-0l.6-.5l.6 .4l.6-.6l.6 .4l.6-.7l.6-.2l.6 .4l.6 .4l.6-.6l.6 .4l.6-.4l.6 .3l.6 .3l.6-.1l.6 .4l.6-.1l.6-.5l.6-.1l.6 .1l.6-.3l.6-.1l.6 .4l.6 .2l.6 .4l.6-.5l.6 0l.6 .2l.6 .4l.6-.2l.6-.1l.6-.3l.6 .3l.6-.8l.6 .1l.6 .3l.6 .5l.6 .5l.6-.4l.6-.4l.6-.3l.6 .1l.6-.3l.6 .7l.6-.4l.6 .2l.6 .6l.6 0l.6-.4l.6-.5l.6 .1l.6 .4l.6 .1l.6-.3l.6-9.7l.6 .1l.6-.1l.6-.2l.6 .2l.6 .3l.6 .4l.6-.3l.6 0l.6-.2l.6 .4l.6-.2l.6-.2l.6-.2l.6 .2l.6-.2l.6 .5l.6-.1l.6-0l.6-.2l.6-.1" fill="none" stroke="#000" stroke-width="0.9"/>
<path d="M317.0 72.8l.6 .1l.6 .1l.6 .2l.6 .1l.6-.2l.6 .2l.6-.3l.6-.2l.6-.2l.6 .2l.6-.1l.6 .3l.6 .2l.6-.4l.6 .1l.6-.1l.6 .1l.6-.1l.6 .2l.6 .4l.6-0l.6-.3l.6 .1l.6 .2l.6-.1l.6 .2l.6 1.5l.6 1.1l.6 .9l.6 .4l.6 1.3l.6 .7l.6 .2l.6 .2l.6 .5l.6 .8l.6 .4l.6-.1l.6-.1l.6-.5l.6 .9l.6 .2l.6 .4l.6-.4l.6 .5l.6-.2l.6 .1l.6 .5l.6 .1l.6-.2l.6 .1l.6-.1l.6-.1l.6-0l.6-.1l.6-.5l.6 .2l.6 .7l.6 .2l.6-.2l.6 .4l.6 0l.6-.1l.6 .2l.6-.4l.6 .3l.6 .2l.6-.2l.6-.1l.6 .1l.6-.3l.6 .1l.6 .7l.6-.4l.6-.1l.6 .2l.6 .4l.6-.6l.6-.2l.6 .1l.6-.3l.6 .4l.6 .4l.6-.1l.6 .1l.6 .3l.6-.1l.6-.5l.6-.7l.6 .5l.6 .6l.6-.2l.6 .3l.6-.8l.6 .1l.6 .3l.6 .2l.6-.1l.6-.3l.6 .4l.6 0l.6-.4l.6 .6l.6-.7l.6 .1l.6 0l.6-.1l.6-0l.6-.2l.6-.3l.6 .4l.6 .1l.6 .2l.6-.4l.6-.1l.6 1.1l.6-.4l.6 .4l.6-0l.6 .2l.6 .1l.6 0l.6-.3l.6 .1l.6-.6l.6-.7l.6 .3l.6 .1l.6 .5l.6 .1l.6-.4l.6 .4l.6 .2l.6-.4l.6-.2l.6 .1l.6 .4l.6-0l.6-.5l.6 .7l.6 .3l.6-.6l.6 .2l.6 .2l.6-.3l.6-.2l.6-.4l.6-.1l.6 0l.6 .4l.6-.3l.6-.2l.6 .5l.6-0l.6-.1l.6-0l.6 .4l.6-1.1l.6 .1l.6 .6l.6-.1l.6-0l.6 .3l.6 .1l.6-.3l.6 .4l.6 .5l.6-.2l.6-11.2l.6 .1l.6-.4l.6-.4l.6 0l.6 .1l.6 .6l.6-.2l.6-0l.6 .4l.6-.2l.6-0l.6 0l.6-.5l.6 .5l.6 .4l.6-.1l.6 .2l.6 0l.6-.2l.6-.1" fill="none" stroke="#000" stroke-width="0.9"/>
<path d="M317.0 73.1l.6-.1l.6-.1l.6 .3l.6-.5l.6 .2l.6-.1l.6-.1l.6 .6l.6 .2l.6-.8l.6 .3l.6 .6l.6-.2l.6-.2l.6-.3l.6-.2l.6 .1l.6 .1l.6 .5l.6-0l.6-0l.6-.6l.6-.3l.6 .5l.6 0l.6 .8l.6 .9l.6 1.5l.6 .9l.6 .8l.6 1l.6 .3l.6 .4l.6 .9l.6 .9l.6 .5l.6 .2l.6-.1l.6 .5l.6-.2l.6-0l.6 .2l.6 .3l.6-.4l.6-0l.6-.1l.6 .4l.6 .2l.6 .8l.6-.2l.6 .6l.6-.2l.6 .1l.6-.3l.6-.7l.6-.3l.6 .9l.6 .7l.6-.5l.6-.5l.6 .1l.6-.3l.6-0l.6 .5l.6 .5l.6 .1l.6 .3l.6 .2l.6-.2l.6-.5l.6 .1l.6 .1l.6 .1l.6 .3l.6-.2l.6 .2l.6-.1l.6-.1l.6-.2l.6-.1l.6-.2l.6 .3l.6-0l.6 .2l.6-.3l.6 .7l.6-.3l.6-.3l.6-.5l.6 .5l.6 .8l.6-.3l.6 .3l.6-.4l.6 .1l.6 .2l.6-.3l.6 0l.6-.3l.6-.2l.6 .4l.6 0l.6 .1l.6-.3l.6 .2l.6-.1l.6 0l.6 .3l.6 0l.6-.1l.6 .1l.6-.6l.6 0l.6-.7l.6 .4l.6 .3l.6 .2l.6-.4l.6 .3l.6-.1l.6-.2l.6 .7l.6 .3l.6-0l.6-0l.6 .3l.6-.1l.6 .5l.6-0l.6-.3l.6 .1l.6-.3l.6-.1l.6 .2l.6-.3l.6-.6l.6-.3l.6 .3l.6 0l.6-.4l.6 .8l.6-.3l.6 .5l.6-.5l.6 .3l.6-.1l.6-.2l.6 .3l.6-.2l.6-0l.6 .6l.6-.1l.6 .3l.6-.1l.6-.4l.6-.1l.6 .4l.6-.2l.6-.1l.6 .2l.6 .2l.6-.5l.6 .6l.6-.5l.6 .3l.6 .2l.6 .4l.6-.1l.6-12.6l.6 .2l.6-.4l.6-0l.6-0l.6 .4l.6 0l.6-.3l.6 .5l.6-.3l.6 0l.6 .2l.6 0l.6-.3l.6-.2l.6 .4l.6 .1l.6-.7l.6 .9l.6 .1l.6-.6" fill="none" stroke="#000" stroke-width="0.9"/>
<path d="M317.0 73.2l.6 .5l.6-.5l.6 .3l.6-.1l.6-.3l.6 .2l.6-.1l.6-.4l.6-.4l.6 .3l.6 .3l.6 .1l.6-.3l.6 .9l.6 .2l.6-.2l.6-.7l.6 .1l.6-.1l.6 .1l.6 0l.6-0l.6-0l.6 .6l.6 0l.6 1l.6 1.4l.6 .4l.6 .8l.6 .4l.6 .8l.6 .6l.6 1.2l.6 .4l.6 .1l.6 .5l.6 .8l.6 .4l.6 .6l.6 .4l.6 0l.6 .1l.6 .3l.6 .4l.6 .1l.6-.3l.6 0l.6-.3l.6 .6l.6 .3l.6-.2l.6 .3l.6 0l.6-.1l.6 .2l.6 .1l.6 .4l.6 .1l.6-.7l.6-.3l.6 .1l.6 .1l.6-.1l.6 .3l.6 .6l.6-.4l.6-.2l.6 .3l.6 .2l.6-.2l.6-.2l.6-.3l.6-.6l.6 .6l.6 .2l.6 .1l.6-.5l.6 .5l.6 .3l.6 .1l.6-.2l.6-.6l.6 .8l.6-.7l.6 .5l.6-.3l.6 .1l.6-.2l.6 .2l.6 .2l.6-.1l.6 0l.6 .8l.6-1l.6 .2l.6 .3l.6 0l.6 .1l.6-.2l.6-.1l.6-.1l.6-.1l.6 .2l.6 .3l.6 .4l.6 .1l.6-.5l.6-.3l.6 .1l.6 .3l.6-.1l.6 .3l.6-.3l.6 .2l.6 .3l.6-.3l.6-.1l.6 .2l.6 .3l.6-0l.6 .5l.6-.3l.6-.2l.6 .4l.6-.4l.6 .1l.6-.4l.6-.4l.6 .4l.6-.3l.6 0l.6 .4l.6 .6l.6-.2l.6-.1l.6-.4l.6 .1l.6-.2l.6 0l.6-.2l.6 .2l.6 .1l.6 .7l.6-0l.6 .3l.6 0l.6-.5l.6-.4l.6-.6l.6 .7l.6-.3l.6-0l.6 .3l.6-.5l.6 .4l.6-.1l.6-.2l.6-.4l.6 .6l.6 .2l.6-.4l.6 .4l.6 .2l.6-.1l.6 .3l.6-.5l.6 0l.6 .8l.6-13.4l.6 .2l.6 .2l.6-.4l.6-.1l.6-.1l.6 .3l.6-.5l.6 .4l.6-.1l.6-.2l.6 .2l.6-0l.6-.4l.6-.3l.6 .4l.6-0l.6 .2l.6 0l.6-.6l.6 .1" fill="none" stroke="#000" stroke-width="0.9"/>
<path d="M317.0 73.2l.6-0l.6-.3l.6 .6l.6-.3l.6 .1l.6 .3l.6 .2l.6-.7l.6-.1l.6-.2l.6 .2l.6 .1l.6 .1l.6 .2l.6 0l.6 .3l.6 .1l.6 0l.6-.5l.6 .3l.6-.2l.6 .2l.6-.5l.6-.5l.6 .5l.6 .5l.6 1.1l.6 1.1l.6 1.4l.6 1.2l.6 1.1l.6 .2l.6 .5l.6 .8l.6 1l.6-0l.6 .2l.6 .3l.6 .7l.6 .5l.6 .1l.6 .1l.6 0l.6 .5l.6 .6l.6 .2l.6 0l.6-.3l.6 .1l.6 .2l.6 .3l.6-.2l.6-0l.6-.1l.6-0l.6 .5l.6-.1l.6-.2l.6-.1l.6-0l.6 .5l.6-.4l.6 .5l.6-.4l.6 .1l.6 .6l.6-.2l.6-.2l.6-.1l.6 .2l.6 .1l.6-.2l.6 .4l.6 .5l.6 0l.6-1.2l.6 .2l.6-.2l.6 .4l.6 .3l.6-.8l.6 .5l.6 .7l.6 .3l.6-.3l.6-.3l.6 .3l.6-.1l.6 .1l.6-.1l.6 0l.6-.3l.6 .3l.6 .4l.6-.1l.6-.3l.6-.2l.6-.1l.6 .4l.6 .3l.6-.3l.6-.1l.6 .2l.6 .1l.6-.5l.6-.1l.6 .3l.6-.1l.6 .1l.6-0l.6 .2l.6-0l.6-.6l.6 .1l.6 .1l.6 .2l.6 .2l.6-.6l.6 .2l.6-0l.6 .4l.6 .3l.6-.2l.6-.2l.6 .5l.6 .6l.6-.1l.6-1l.6-.4l.6-.2l.6 .2l.6-.2l.6 .5l.6 .5l.6 .4l.6 .3l.6-.3l.6 .1l.6 .2l.6-.3l.6-.3l.6 .2l.6-0l.6-.4l.6 .4l.6 0l.6-.2l.6 .7l.6 .4l.6-1l.6-.9l.6-.1l.6 .5l.6 .6l.6 0l.6 .3l.6-.3l.6-.1l.6-.3l.6 .3l.6-.1l.6-.1l.6 .5l.6-.3l.6-.3l.6-.1l.6 .6l.6-.4l.6-14.5l.6 .2l.6-.1l.6 .5l.6-0l.6-.1l.6-.2l.6 .2l.6 .2l.6 .2l.6-.4l.6 0l.6 .3l.6 0l.6-.3l.6 .1l.6 .3l.6 .4l.6-.7l.6 .2l.6-.6" fill="none" stroke="#000" stroke-width="0.9"/>
<path d="M317.0 72.9l.6 .2l.6-0l.6-0l.6 .2l.6-.2l.6 .3l.6 .1l.6 .2l.6 .1l.6-.6l.6 .1l.6 .1l.6-.3l.6 .3l.6-.2l.6-.2l.6 .2l.6-.5l.6 .3l.6 .7l.6 .1l.6-.3l.6 .3l.6-.2l.6-.3l.6 .8l.6 2l.6 1.1l.6 .8l.6 .5l.6 .7l.6 .6l.6 1.5l.6 .3l.6 .4l.6 1l.6 1l.6 .4l.6 .1l.6 0l.6-.2l.6 .4l.6 .1l.6 .4l.6 .9l.6 .1l.6-0l.6 .1l.6-.1l.6-.2l.6 .6l.6 .5l.6 .3l.6-.4l.6-.6l.6 .1l.6 .5l.6 .1l.6-.1l.6-.4l.6 .4l.6-.2l.6-.3l.6 .1l.6 0l.6-.3l.6 .1l.6 .3l.6 .1l.6 .1l.6-.3l.6 .3l.6 .4l.6-.1l.6 .2l.6 .1l.6 .2l.6 0l.6 .1l.6-.3l.6-.3l.6 .3l.6 .2l.6-.1l.6 .2l.6 .1l.6-.3l.6-.5l.6 .4l.6-.2l.6-.1l.6 .3l.6 .3l.6-0l.6 .3l.6-.3l.6-.3l.6-.2l.6-.1l.6 .4l.6 .5l.6-.2l.6-.3l.6 .7l.6-.1l.6-.6l.6-.2l.6-.1l.6 .1l.6 .4l.6-0l.6 .3l.6-.5l.6 .2l.6-.1l.6 .2l.6-.7l.6 .9l.6-.2l.6-.3l.6-.7l.6 .2l.6 .7l.6 .7l.6-.4l.6-.4l.6 .1l.6-.2l.6 .2l.6-.6l.6 .4l.6 .5l.6 .3l.6-.6l.6 .2l.6 .2l.6-.5l.6 .2l.6-.2l.6 .1l.6-0l.6 .2l.6-.4l.6-0l.6 .3l.6 .3l.6 0l.6-.9l.6 .7l.6 .4l.6-.4l.6 0l.6 .6l.6 .3l.6-.3l.6-.4l.6 .3l.6-.3l.6-.3l.6-0l.6 .3l.6-.3l.6 .2l.6-.1l.6-0l.6-.2l.6 .3l.6-.2l.6-14.7l.6-0l.6-0l.6-.2l.6 .2l.6-.2l.6-.3l.6 .1l.6 .1l.6 .3l.6-.2l.6-.2l.6 .3l.6-.4l.6-.4l.6 .4l.6 .3l.6 .4l.6 .4l.6-.3l.6-.1" fill="none" stroke="#000" stroke-width="0.9"/>
<path d="M336.7 73.9l1.5 .1l1.5-0l1.5-.1l1.5-.1l1.5-.2l1.5 0l1.5 .4l1.5-.2l1.5 0l1.5 .1l1.5-0l1.5 .3l1.5 .1l1.5-.2l1.5 .3l1.5-.2l1.5-.1l1.5 0l1.5-.1l1.5 .1l1.5 .1l1.5-.1l1.5-.2l1.5-.1l1.5-.2l1.5-.3l1.5 .3l1.5 0l1.5-.1l1.5 .4l1.5 0l1.5-.1l1.5 0l1.5 .1l1.5-.2l1.5 .2l1.5 0l1.5 .2l1.5 .1l1.5-0l1.5-.1l1.5-.2l1.5 .4l1.5-.1l1.5-.1l1.5 0l1.5-.1l1.5 .1l1.5-.1l1.5-.3l1.5 0l1.5 .5l1.5 0" fill="none" stroke="#fff" stroke-width="0.62" stroke-dasharray="4 3 6 2 3 2 16 2 8 4" stroke-dashoffset="8"/>
<path d="M337.3 74.9l1.5 .1l1.5-0l1.5 .2l1.5-.1l1.5 .1l1.5-.1l1.5-0l1.5 .2l1.5 .1l1.5 .1l1.5-.2l1.5-0l1.5-.1l1.5 .3l1.5-.1l1.5 0l1.5 .1l1.5 .1l1.5 .1l1.5-.1l1.5-.2l1.5 .1l1.5-.2l1.5 0l1.5-.1l1.5 .1l1.5-0l1.5 0l1.5-.1l1.5-.1l1.5 .1l1.5 .2l1.5-.1l1.5-.1l1.5 .2l1.5 .1l1.5 0l1.5-.1l1.5-.1l1.5 .1l1.5 0l1.5 .3l1.5-.3l1.5 .1l1.5-.3l1.5 .1l1.5 .1l1.5-0l1.5 .1l1.5 .2l1.5-0l1.5 0l1.5-.2" fill="none" stroke="#fff" stroke-width="0.62" stroke-dasharray="8 2 16 3 6 2 16 6 6 2" stroke-dashoffset="13"/>
<path d="M337.9 76.2l1.5 .2l1.5 .1l1.5 .4l1.5-.2l1.5 .1l1.5 .3l1.5-.1l1.5-.4l1.5-.2l1.5 .1l1.5 0l1.5 .1l1.5-.1l1.5 .2l1.5 .3l1.5-.2l1.5-.2l1.5 .3l1.5-0l1.5 0l1.5-0l1.5 0l1.5-0l1.5-.1l1.5-.1l1.5 .1l1.5 0l1.5 .1l1.5-.3l1.5-0l1.5-.1l1.5 .3l1.5 .2l1.5 .1l1.5-.2l1.5 0l1.5 0l1.5-0l1.5 .4l1.5-.2l1.5-0l1.5-.1l1.5-.1l1.5 .1l1.5-.3l1.5 .1l1.5 .1l1.5 .2l1.5-.2l1.5 0l1.5-.1l1.5 .3" fill="none" stroke="#fff" stroke-width="0.62" stroke-dasharray="3 1.5 16 6 4 3 12 1.5 3 2" stroke-dashoffset="13"/>
<path d="M338.5 77.1l1.5 .3l1.5 .2l1.5 .1l1.5 .2l1.5-0l1.5-0l1.5 .1l1.5-.2l1.5 .2l1.5-.3l1.5 .2l1.5 .1l1.5-.1l1.5 .2l1.5-.1l1.5 .3l1.5-.2l1.5 .2l1.5-.1l1.5 .2l1.5-.1l1.5 .1l1.5-.1l1.5-.3l1.5 .1l1.5 .1l1.5 .1l1.5 .2l1.5-.2l1.5-.2l1.5 .1l1.5-.1l1.5 .1l1.5 0l1.5-.1l1.5 .3l1.5-.1l1.5 .3l1.5-.1l1.5 .1l1.5-.1l1.5-.2l1.5-0l1.5-.1l1.5 .1l1.5 .1l1.5-.2l1.5-.1l1.5 0l1.5-.1l1.5 0l1.5-0" fill="none" stroke="#fff" stroke-width="0.62" stroke-dasharray="12 6 12 2 6 2 12 1.5 12 1.5" stroke-dashoffset="17"/>
<path d="M339.1 78.2l1.5 .5l1.5-0l1.5 .1l1.5 .2l1.5 .5l1.5-0l1.5-.1l1.5-.1l1.5 0l1.5 .2l1.5 0l1.5 0l1.5 0l1.5 .3l1.5-.1l1.5 .2l1.5-.4l1.5 .1l1.5-0l1.5 .1l1.5-.2l1.5-0l1.5 .2l1.5-.1l1.5-0l1.5 .1l1.5 0l1.5-.1l1.5-.2l1.5 .2l1.5 .1l1.5-.1l1.5 0l1.5-.1l1.5 .1l1.5 .1l1.5 .1l1.5-.2l1.5 .2l1.5 .1l1.5 .1l1.5 0l1.5-.2l1.5-.2l1.5 .4l1.5 .1l1.5-.6l1.5 .1l1.5 .3l1.5-.2l1.5 .2l1.5-.1" fill="none" stroke="#fff" stroke-width="0.62" stroke-dasharray="12 2 12 3 8 2 8 2 4 1.5" stroke-dashoffset="12"/>
<path d="M339.7 79.4l1.5 .2l1.5 .3l1.5 .2l1.5 .3l1.5 .2l1.5 .4l1.5-.2l1.5 .1l1.5-0l1.5-.3l1.5 .3l1.5 0l1.5-.2l1.5 .2l1.5-0l1.5 .1l1.5-.1l1.5 .1l1.5-0l1.5 .3l1.5-.2l1.5 .1l1.5-0l1.5 0l1.5 0l1.5-.2l1.5-0l1.5-.1l1.5 .2l1.5 .2l1.5 .1l1.5-.3l1.5-.1l1.5 0l1.5 .1l1.5 .1l1.5 .1l1.5-0l1.5 0l1.5 .2l1.5-.1l1.5-.2l1.5 .3l1.5-.3l1.5 .1l1.5 .2l1.5 .1l1.5 0l1.5 .3l1.5 0l1.5-.3" fill="none" stroke="#fff" stroke-width="0.62" stroke-dasharray="3 3 6 2 4 2 16 3 6 2" stroke-dashoffset="10"/>
<path d="M340.3 80.7l1.5 .3l1.5 .4l1.5 .1l1.5 .1l1.5 .3l1.5 .2l1.5-.1l1.5 .1l1.5-0l1.5 .1l1.5 .1l1.5 .1l1.5-0l1.5-.2l1.5 0l1.5-.1l1.5 .1l1.5 .1l1.5 .3l1.5-.1l1.5-.1l1.5 .1l1.5-.2l1.5 .4l1.5-.3l1.5 .3l1.5 .1l1.5 .1l1.5-.1l1.5 .1l1.5-.1l1.5 .1l1.5-.1l1.5-.1l1.5 .1l1.5-.1l1.5 .2l1.5-.2l1.5 .1l1.5-.1l1.5 .1l1.5 .4l1.5-.3l1.5-.1l1.5-.2l1.5 .1l1.5 .4l1.5-.1l1.5 .2l1.5-.1l1.5-.1" fill="none" stroke="#fff" stroke-width="0.62" stroke-dasharray="3 4 4 4 4 2 4 2 4 3" stroke-dashoffset="9"/>
<path d="M340.9 82.3l1.5 .2l1.5 .4l1.5 .4l1.5-.2l1.5 .2l1.5 .1l1.5 .2l1.5 .2l1.5-.1l1.5-.1l1.5 .4l1.5-.2l1.5-.1l1.5 .1l1.5 .3l1.5-.1l1.5-.2l1.5 .3l1.5-.1l1.5 .2l1.5-.1l1.5-.1l1.5 .1l1.5-.2l1.5 .2l1.5 .2l1.5 .1l1.5-0l1.5-.3l1.5 .1l1.5 .2l1.5-.3l1.5 .2l1.5-.1l1.5-.2l1.5 .2l1.5 .2l1.5 0l1.5-.2l1.5 .1l1.5 .3l1.5 .1l1.5 .1l1.5-.4l1.5 .2l1.5-0l1.5-.1l1.5 0l1.5-0l1.5 .2" fill="none" stroke="#fff" stroke-width="0.62" stroke-dasharray="3 1.5 4 6 16 3 4 2 8 3" stroke-dashoffset="7"/>
<path d="M341.5 83.3l1.5 .8l1.5 .3l1.5 .6l1.5-.1l1.5-.1l1.5 .5l1.5-.1l1.5-.2l1.5 .1l1.5 .1l1.5 .3l1.5 .1l1.5-0l1.5-0l1.5 .1l1.5-.2l1.5 0l1.5-.1l1.5 .2l1.5-.1l1.5 0l1.5 0l1.5 .2l1.5 .1l1.5 .1l1.5-.1l1.5-.3l1.5-.1l1.5 .1l1.5-0l1.5 .1l1.5 .2l1.5 .2l1.5-.2l1.5 .1l1.5 .1l1.5-0l1.5 .1l1.5 0l1.5-0l1.5-.2l1.5-.1l1.5 .1l1.5 0l1.5 .2l1.5 .1l1.5 .1l1.5-.1l1.5-.1l1.5 .1" fill="none" stroke="#fff" stroke-width="0.62" stroke-dasharray="6 4 4 1.5 8 2 4 2 4 2" stroke-dashoffset="1"/>
<path d="M342.1 84.8l1.5 .1l1.5 .3l1.5 .3l1.5 .4l1.5 .5l1.5-0l1.5 .3l1.5-.1l1.5 0l1.5 .1l1.5 .4l1.5-.1l1.5-.3l1.5-0l1.5 .2l1.5-0l1.5 .1l1.5 0l1.5 .1l1.5 .1l1.5 .3l1.5-.2l1.5-.1l1.5 .1l1.5 .1l1.5-.3l1.5 .2l1.5-.1l1.5 0l1.5 .3l1.5 .1l1.5-.2l1.5 .1l1.5-.1l1.5-.3l1.5 .1l1.5-.1l1.5 .1l1.5 .2l1.5-.1l1.5 0l1.5-0l1.5-0l1.5 .2l1.5 .2l1.5-.3l1.5 .3l1.5 0l1.5-0l1.5-.1" fill="none" stroke="#fff" stroke-width="0.62" stroke-dasharray="16 2 8 4 8 3 4 3 16 6" stroke-dashoffset="0"/>
<path d="M317.0 73.1l.6 .4l.6-.1l.6-.3l.6 .1l.6-.1l.6-.2l.6 .3l.6 .2l.6-0l.6 0l.6-.2l.6-.1l.6-.3l.6-.1l.6 .3l.6 .2l.6-.1l.6 0l.6 0l.6-.3l.6 .2l.6 .1l.6-.2l.6 .1l.6 .1l.6 .6l.6-.4l.6-.5l.6 .2l.6 .6l.6-.3l.6 0l.6-.1l.6 .2l.6-1l.6 .1l.6-.1l.6 .9l.6-1l.6-.2l.6 .9l.6 .2l.6 .1l.6-.1l.6 .2l.6 0l.6-.2l.6-.2l.6-.4l.6 .8l.6 0l.6-.5l.6-.2l.6 0l.6 .8l.6-.5l.6 .3l.6-.1l.6-.4l.6-.2l.6 .1l.6 .2l.6-.1l.6-.2l.6-.2l.6 .3l.6 .3l.6 .4l.6-.2l.6-0l.6 .2l.6 .3l.6-.2l.6-.1l.6 0l.6-.3l.6-.1l.6 .3l.6-.2l.6-.2l.6 .5l.6-.4l.6 .6l.6 .3l.6-.6l.6-.4l.6-.1l.6 .2l.6 .3l.6-0l.6-.1l.6 .2l.6-.4l.6-.6l.6 .1l.6 .5l.6 .7l.6-0l.6 .2l.6 0l.6-.5l.6-.1l.6 .3l.6-.1l.6-.3l.6 .1l.6-.1l.6 .1l.6 .5l.6-.1l.6 0l.6-.6l.6-.1l.6-.4l.6 .3l.6-.2l.6 .1l.6 .3l.6 .2l.6-.2l.6 .4l.6-.3l.6 .5l.6-.4l.6-0l.6-.2l.6-.3l.6 .6l.6-.3l.6 .1l.6-.4l.6 .1l.6-.2l.6 .6l.6-.1l.6 .3l.6 .1l.6 .1l.6-.2l.6-.4l.6-.2l.6 .5l.6 .2l.6-.2l.6-.1l.6-.3l.6-.2l.6 .2l.6 .2l.6 .4l.6 .1l.6 0l.6-.3l.6 .1l.6 .4l.6 .3l.6-.5l.6-.1l.6 .1l.6 0l.6-.6l.6 .2l.6-.4l.6 .5l.6 .2l.6-0l.6-.1l.6-.3l.6 .2l.6 0l.6 .3l.6-.2l.6 0l.6 .1l.6-.5l.6-0l.6 .2l.6-.1l.6-.2l.6-0l.6-0l.6 .4l.6-.1l.6-.2l.6-.3l.6 .4l.6-.3l.6-0l.6 .2" fill="none" stroke="#000" stroke-width="3.0"/>
<line x1="332.30" y1="73.10" x2="332.30" y2="82.10" stroke="#000" stroke-width="0.8"/>
<line x1="418.40" y1="59.50" x2="418.40" y2="88.30" stroke="#000" stroke-width="0.8"/>
<polygon points="450.3,72.8 450.3,72.8 452.3,77.5 454.3,80.8 456.3,83.0 458.3,84.5 460.3,85.5 462.3,86.2 464.3,86.7 466.3,87.0 468.3,87.3 470.3,87.5 472.3,87.6 474.3,87.7 476.3,87.8 478.3,87.8 480.3,87.9 482.3,88.0 484.3,88.0 486.3,88.0 488.3,88.1 490.3,88.1 492.3,88.2 494.3,88.2 496.3,88.2 498.3,88.3 500.3,88.3 502.3,88.4 504.3,88.4 506.3,88.4 508.3,88.5 510.3,88.5 512.3,88.6 514.3,88.6 516.3,88.6 518.3,88.7 520.3,88.7 522.3,88.7 524.3,88.8 526.3,88.8 528.3,88.9 530.3,88.9 532.3,88.9 534.3,89.0 535.8,89.0 535.8,72.8" fill="#000" fill-opacity="0.82"/>
<path d="M436.3 72.3l.6 .5l.6 .4l.6-.1l.6 .2l.6-.2l.6 0l.6-.3l.6-.5l.6-.2l.6-.1l.6 .4l.6-.2l.6 .1l.6 .3l.6-.1l.6 .4l.6 .3l.6-.2l.6-.1l.6-0l.6-.1l.6 .1l.6-.2l.6 .2l.6 .1l.6-.1l.6 .1l.6 .1l.6-.4l.6 .3l.6-.3l.6 .1l.6-.2l.6 .5l.6-.2l.6-.3l.6 .1l.6 .3l.6-.7l.6 .3l.6-.1l.6-.2l.6-.4l.6-.3l.6 .2l.6 .9l.6 .2l.6 .3l.6 .1l.6-.6l.6 .2l.6 .5l.6-.7l.6 .1l.6-.3l.6-0l.6 .1l.6 .4l.6-.5l.6-.4l.6 .7l.6-.2l.6-.3l.6 .2l.6-.3l.6 .3l.6 .5l.6 .9l.6-.2l.6-.5l.6 .2l.6-.1l.6-.5l.6-.3l.6 .5l.6-.8l.6 .3l.6 .2l.6-.3l.6-.1l.6 .5l.6 .1l.6-.5l.6 .7l.6-.3l.6 .4l.6-.2l.6-.3l.6-.1l.6 .6l.6-.4l.6-.2l.6 .3l.6 .6l.6-.2l.6-.3l.6-0l.6 .3l.6-.6l.6-0l.6 .4l.6 .3l.6-.3l.6-.3l.6 .1l.6 .2l.6 0l.6-.4l.6-.8l.6 .3l.6 .4l.6 .5l.6-.4l.6 .1l.6-.2l.6-.1l.6 .4l.6 .3l.6-.2l.6-.8l.6 .4l.6-0l.6-.2l.6-.4l.6 .4l.6-.3l.6 .6l.6 .1l.6-0l.6-.4l.6-.1l.6-.4l.6 .5l.6 0l.6-0l.6 .3l.6 .7l.6-.8l.6-.3l.6 0l.6 .6l.6 .4l.6-.6l.6-.1l.6-.5l.6 .2l.6 .9l.6 .7l.6-.4l.6 0l.6 .3l.6-.2l.6 0l.6-.5l.6-0l.6-.1l.6-.3l.6 .5l.6 .1l.6-.2l.6-.2l.6 .5l.6 .2l.6 0l.6 .1l.6-.4l.6-0l.6-.8l.6-.1l.6 .6l.6-.1l.6 .1l.6 .1l.6 .6l.6-.5l.6-.5l.6-.1l.6 .2l.6-.4l.6 .4l.6-.2l.6-0l.6 .3" fill="none" stroke="#000" stroke-width="0.9"/>
<path d="M436.3 72.6l.6 .1l.6-.1l.6-.2l.6-.1l.6 .4l.6-.2l.6 .1l.6 .2l.6-.1l.6-0l.6-.1l.6-.1l.6 0l.6-0l.6 .1l.6 .3l.6 .1l.6-.3l.6 .3l.6 0l.6 .2l.6-.3l.6 0l.6-.2l.6 .2l.6 .4l.6-.2l.6 .8l.6 .1l.6-.3l.6 .2l.6 .2l.6-.2l.6-.1l.6 .1l.6-.2l.6-.6l.6-.3l.6-.4l.6 .5l.6 .7l.6 .3l.6-.6l.6 .5l.6-.2l.6-.6l.6 0l.6-.6l.6 .8l.6-0l.6 .6l.6-.3l.6 .2l.6-.8l.6-.2l.6 .5l.6 .2l.6-.2l.6 .1l.6 .1l.6 .2l.6 0l.6-.1l.6 .5l.6-.5l.6-.1l.6 .9l.6-.4l.6-.2l.6-.2l.6 0l.6 0l.6 .7l.6-.5l.6-.2l.6-.3l.6 .3l.6-.3l.6-.1l.6 .7l.6-.3l.6-.4l.6 .6l.6-.5l.6 .2l.6-.7l.6 .8l.6 0l.6 .4l.6 .1l.6 .3l.6-.3l.6-.1l.6-.4l.6-.3l.6 .2l.6 .1l.6 .9l.6 .5l.6-.3l.6-.6l.6 0l.6-.4l.6 .4l.6-.5l.6 .1l.6-0l.6-.4l.6 .4l.6 .4l.6-.3l.6-.1l.6 0l.6 .2l.6 .4l.6-.1l.6-.6l.6 .6l.6-0l.6-.1l.6-.6l.6 .4l.6-.1l.6-.2l.6 .6l.6-.1l.6 .4l.6-.7l.6-.5l.6-.2l.6-.2l.6 .3l.6 .6l.6-.1l.6-.1l.6 .1l.6-.1l.6 .3l.6 .2l.6 .1l.6 .2l.6-.7l.6-.2l.6 .2l.6-.8l.6 .7l.6 0l.6 .6l.6-.2l.6 .2l.6-.3l.6-.2l.6-.1l.6 .2l.6-.7l.6-.2l.6 .5l.6 .1l.6 0l.6 .5l.6-.5l.6 .2l.6 .2l.6-.5l.6-.2l.6-.5l.6 .3l.6-.2l.6-.1l.6-.1l.6 .1l.6 .4l.6-.4l.6-.1l.6 .5l.6 .3l.6 .3l.6-.5l.6 .4l.6-.7l.6 .2l.6-.5l.6 .2" fill="none" stroke="#000" stroke-width="0.9"/>
<path d="M436.3 72.7l.6 .1l.6 .2l.6-.3l.6 .1l.6-.2l.6 0l.6-0l.6 .1l.6-.4l.6 .8l.6-.4l.6 .1l.6-.1l.6 .4l.6-0l.6 .1l.6-.3l.6 .1l.6-.1l.6 .1l.6-.2l.6-.2l.6 .3l.6 .1l.6-.2l.6 .2l.6-.1l.6 .3l.6 .2l.6 .5l.6 1l.6-.2l.6 .4l.6 0l.6-.3l.6-.5l.6-0l.6 .4l.6-.2l.6-.1l.6 .4l.6 .2l.6-.6l.6-.3l.6 .2l.6 .1l.6 .7l.6-.5l.6-.1l.6-.7l.6 .2l.6-.2l.6 .6l.6-.2l.6 .1l.6 0l.6-.2l.6 0l.6 .1l.6-0l.6 .4l.6-.2l.6-.2l.6-0l.6 .6l.6-.8l.6 .3l.6-0l.6-.4l.6 .3l.6-.1l.6 .3l.6-.1l.6-.4l.6-.2l.6 .2l.6 0l.6-0l.6 .6l.6-.1l.6-.1l.6 .6l.6-0l.6-.3l.6-.3l.6 .1l.6-.6l.6-0l.6 .7l.6-.2l.6 0l.6 .1l.6-.2l.6-.1l.6-0l.6 .5l.6-.3l.6-0l.6-.4l.6 .7l.6-.1l.6-.2l.6-0l.6-.1l.6 .1l.6-0l.6-.4l.6-.5l.6 .4l.6-.2l.6 .4l.6-.2l.6 .3l.6-.2l.6-.1l.6-0l.6 .8l.6-.1l.6-.1l.6 .1l.6 .2l.6 .6l.6 .2l.6-1.1l.6-.4l.6-.3l.6-.5l.6 .4l.6 .5l.6 .3l.6 .3l.6 .9l.6-.2l.6-.1l.6 0l.6-.3l.6 .3l.6-.2l.6-.7l.6-.3l.6 .7l.6 .3l.6-.4l.6-.5l.6 .8l.6 .2l.6-.1l.6-.2l.6 .6l.6-.3l.6-0l.6-0l.6-.4l.6-.8l.6 0l.6 0l.6 .2l.6 .9l.6-.6l.6-0l.6 .6l.6-.3l.6-.9l.6 .5l.6-.2l.6-1.8l.6 .5l.6-.1l.6-.1l.6-.4l.6 0l.6-0l.6 .4l.6-.1l.6 .1l.6 .1l.6-.3l.6 .3l.6-.3l.6 .2l.6-.3l.6 0l.6 .4" fill="none" stroke="#000" stroke-width="0.9"/>
<path d="M436.3 72.2l.6 .1l.6 .3l.6 .1l.6 .6l.6-1l.6 .2l.6-.1l.6 .2l.6-.4l.6 .3l.6 .1l.6 .2l.6 .1l.6-.1l.6-.2l.6 .2l.6 .1l.6 0l.6-0l.6 .4l.6-.4l.6-.1l.6 .4l.6 .6l.6-.3l.6-0l.6 .3l.6 .2l.6 .3l.6 .6l.6-.2l.6-.7l.6 .3l.6 .2l.6 0l.6 .2l.6 .3l.6-.3l.6-.2l.6 0l.6 .6l.6-.1l.6 .3l.6 .5l.6-1.1l.6 .5l.6 .5l.6 .3l.6-.5l.6 0l.6-.2l.6 .1l.6-.3l.6-.1l.6 .4l.6-0l.6-.4l.6-.1l.6-.3l.6 .8l.6-.3l.6-.6l.6 .5l.6 .9l.6-0l.6-.6l.6 .2l.6 0l.6-.2l.6 .1l.6-0l.6 .1l.6 .2l.6-.6l.6-.3l.6 .1l.6-.3l.6 .5l.6 .3l.6 .4l.6 .2l.6-.7l.6 .2l.6 .3l.6-.2l.6-.6l.6 .6l.6 0l.6-.6l.6 .3l.6-.3l.6 .2l.6-.2l.6-0l.6 .1l.6-.4l.6 .5l.6-0l.6-.3l.6-.2l.6 .3l.6-0l.6 .3l.6 .5l.6 .2l.6-.1l.6-.1l.6 .1l.6-.5l.6 .2l.6 .1l.6-.5l.6 .5l.6-.4l.6 .3l.6-.1l.6 .6l.6-.5l.6-.1l.6-0l.6-.5l.6 .3l.6 .3l.6-.6l.6-.1l.6-0l.6 .4l.6 .1l.6-.2l.6 .3l.6-.1l.6 .4l.6-.7l.6 .4l.6-.7l.6-.5l.6 1l.6-.1l.6 .1l.6-.1l.6-.3l.6 .4l.6 .3l.6 0l.6-.3l.6 .2l.6 .2l.6-.6l.6 .6l.6-.1l.6 .2l.6-.6l.6-0l.6 .7l.6 .4l.6-.8l.6-.2l.6-.6l.6 .4l.6-.2l.6 .2l.6-.5l.6 .8l.6 0l.6 .4l.6-2.8l.6-.1l.6 .3l.6-.7l.6 .3l.6 .2l.6-0l.6 .2l.6-.1l.6-.5l.6 .5l.6-.3l.6 .1l.6 .1l.6-.2l.6 .3l.6-.3l.6 .2" fill="none" stroke="#000" stroke-width="0.9"/>
<path d="M436.3 73.1l.6 .1l.6-.3l.6-.2l.6 .5l.6 0l.6-.1l.6 .1l.6 .1l.6-.2l.6-.2l.6-.2l.6 .1l.6 .3l.6-.4l.6-.2l.6 .1l.6 .3l.6-.1l.6 0l.6-.3l.6-.1l.6 .2l.6-0l.6 .3l.6 .8l.6 .9l.6 .2l.6-.2l.6 1l.6 .3l.6 .1l.6 .2l.6-.4l.6-.2l.6 .4l.6-.6l.6 .7l.6-.4l.6-.2l.6 .3l.6 .4l.6-.2l.6-.1l.6 .3l.6 .2l.6 .6l.6 .2l.6-.4l.6-.6l.6-.2l.6-0l.6 0l.6-.1l.6 .1l.6 .5l.6-.2l.6-.4l.6-.4l.6 .4l.6 .1l.6 .5l.6-.3l.6-.1l.6-.1l.6-.5l.6-.4l.6 .3l.6 .2l.6-.3l.6 .9l.6-0l.6-.2l.6 .3l.6 .2l.6-.1l.6 .2l.6-.5l.6 0l.6-.3l.6 .1l.6-.2l.6-.2l.6 .3l.6 .1l.6 0l.6 .1l.6-.2l.6 .1l.6-.1l.6 .3l.6-.1l.6 .1l.6-0l.6-.5l.6 .1l.6 .7l.6-.1l.6 .3l.6 .1l.6-.5l.6-.3l.6-.3l.6-0l.6 .6l.6-0l.6 .5l.6 .1l.6 .6l.6-.2l.6-.2l.6 .1l.6-.1l.6-.2l.6-.3l.6-.2l.6-0l.6-.6l.6-.8l.6 .2l.6 .5l.6 .3l.6 .2l.6-.5l.6 .4l.6-.5l.6-.5l.6 .9l.6-.5l.6 .8l.6-.2l.6 .7l.6-.4l.6 .4l.6-.2l.6-.2l.6-.3l.6-.1l.6 .4l.6 .4l.6-.5l.6 .1l.6 .5l.6-.3l.6-.1l.6-.2l.6 .1l.6 .1l.6-.2l.6 .7l.6-.3l.6-.3l.6 .6l.6-.1l.6-.4l.6-0l.6-.3l.6 .1l.6-.6l.6-.1l.6 .6l.6-.1l.6-.2l.6 .1l.6 .4l.6 .2l.6-3.3l.6-.7l.6 .6l.6-.3l.6 .4l.6-.1l.6 .1l.6-.4l.6-.3l.6 .1l.6 .2l.6-.2l.6 .3l.6-.1l.6-.4l.6 .2l.6-.5l.6 .5" fill="none" stroke="#000" stroke-width="0.9"/>
<path d="M436.3 72.9l.6 .3l.6 .6l.6-.7l.6-.3l.6-.1l.6 .2l.6 .2l.6 0l.6 .4l.6-.3l.6-.2l.6-.3l.6-.3l.6-.1l.6 .4l.6-0l.6 .2l.6-.3l.6-.2l.6-.2l.6 .8l.6 0l.6 0l.6 .4l.6 .2l.6 .3l.6 .9l.6-.4l.6 .7l.6 .4l.6 .6l.6 0l.6-.1l.6 .5l.6 .5l.6 .1l.6 .3l.6 .3l.6-.9l.6-.4l.6 .1l.6-.2l.6 .6l.6 .2l.6 .1l.6-.8l.6 .3l.6-.1l.6 .2l.6-.3l.6-.5l.6 .4l.6 .3l.6 .3l.6-.4l.6-.1l.6 .3l.6 .1l.6 .1l.6 .2l.6-.4l.6 .2l.6-.1l.6-.2l.6 .2l.6-.4l.6 .1l.6 .6l.6-.1l.6-.6l.6 .5l.6 0l.6 .5l.6-.2l.6 .3l.6-.2l.6-.5l.6 .1l.6 .3l.6-.1l.6 .1l.6-.2l.6 .4l.6-.3l.6-.3l.6 .2l.6-.1l.6-.1l.6 .3l.6 .6l.6-.8l.6 .5l.6-.1l.6 .6l.6-.6l.6-.2l.6 .5l.6-.4l.6-.7l.6-.1l.6-0l.6 .7l.6-.4l.6 .4l.6 0l.6-.5l.6-.3l.6 .4l.6 .1l.6-0l.6 .2l.6 .2l.6-.3l.6-.5l.6 .4l.6 .2l.6 .2l.6-.3l.6 .1l.6-.2l.6 .1l.6 .5l.6-.3l.6 .2l.6-.5l.6 .4l.6 .2l.6-.1l.6-.1l.6 .1l.6 .1l.6 .3l.6-.3l.6 .1l.6 .4l.6-.1l.6-.1l.6 .4l.6-.2l.6-.6l.6 .8l.6 .1l.6-1l.6 .1l.6 .2l.6 0l.6-.6l.6-0l.6 .4l.6 0l.6 .5l.6-.3l.6 .4l.6-.2l.6-.3l.6-.1l.6-.6l.6 .5l.6-.2l.6-0l.6-.5l.6 .1l.6 .1l.6 .8l.6 .6l.6-5.5l.6-.4l.6 .2l.6 .1l.6 .1l.6-.4l.6 .3l.6-.3l.6-.1l.6 .3l.6 .6l.6-.2l.6 .5l.6-.1l.6-.1l.6-.1l.6-0l.6 .2" fill="none" stroke="#000" stroke-width="0.9"/>
<path d="M436.3 72.7l.6 .3l.6-.3l.6-.3l.6-.3l.6 .6l.6-.1l.6 0l.6 .2l.6-.3l.6 .4l.6-.1l.6 0l.6 .1l.6-.3l.6 .2l.6 .3l.6-.1l.6-.5l.6-.3l.6-0l.6 .3l.6 .4l.6-.3l.6 .9l.6 .3l.6 .5l.6 .5l.6 .4l.6-.2l.6 .6l.6 .2l.6 1l.6 .4l.6-.7l.6 0l.6 .5l.6 .8l.6 .3l.6 .4l.6-.7l.6-.6l.6-0l.6 .1l.6-0l.6 .3l.6 .4l.6-.1l.6 .1l.6-.4l.6-.2l.6 .8l.6-.4l.6-.4l.6 .9l.6-.3l.6-.3l.6 .1l.6 .2l.6 .3l.6-.1l.6-.1l.6 .2l.6-.9l.6-.4l.6 .8l.6 .4l.6 0l.6 .3l.6 .5l.6-.4l.6-1l.6-.2l.6 .5l.6 .5l.6-.1l.6-.6l.6-.2l.6-.1l.6 .5l.6 .2l.6 .1l.6 .1l.6 .3l.6-.9l.6 .3l.6-.1l.6 .3l.6 .4l.6-.3l.6 0l.6-.5l.6 .1l.6-.1l.6 .1l.6 .4l.6-.3l.6-.4l.6 .4l.6-.3l.6 .3l.6 .1l.6-0l.6-.2l.6 0l.6 .2l.6 .5l.6-.4l.6-.8l.6-.3l.6 .7l.6 .2l.6 .1l.6 .1l.6-.5l.6 .4l.6-.7l.6 .2l.6-0l.6-.6l.6 .8l.6 .4l.6 .3l.6-.1l.6-.3l.6-0l.6 .2l.6-.1l.6 .1l.6-.4l.6-.5l.6 .4l.6 .3l.6 .4l.6-.4l.6 .5l.6 .3l.6-.1l.6 .2l.6-.7l.6 .1l.6-1l.6-0l.6 0l.6 .4l.6 .3l.6 .2l.6-.5l.6-0l.6-.3l.6-.1l.6-.1l.6-0l.6 .3l.6 .1l.6-.2l.6 .4l.6 .1l.6 .4l.6 .2l.6-.5l.6-.1l.6-.1l.6 .6l.6 .5l.6 .1l.6-5.7l.6-.4l.6 .1l.6 .3l.6-.9l.6 0l.6 0l.6 .1l.6 .6l.6 .1l.6-.5l.6 .1l.6-.1l.6 .2l.6-.2l.6-.3l.6-.1l.6 0" fill="none" stroke="#000" stroke-width="0.9"/>
<path d="M436.3 72.7l.6 .3l.6 .2l.6-.2l.6 .2l.6-.1l.6-.1l.6-.3l.6-0l.6-.2l.6 0l.6-.4l.6 .1l.6 .3l.6 .1l.6 .3l.6 .1l.6-0l.6-.2l.6 .2l.6 .2l.6-.5l.6-.2l.6 .1l.6 .2l.6 .7l.6 1.3l.6 .8l.6 .1l.6-.2l.6 .3l.6 .2l.6 1.2l.6 .7l.6 .1l.6 .6l.6 .2l.6-.3l.6-.1l.6 .8l.6-.4l.6 .2l.6-.3l.6 0l.6 .2l.6 .1l.6-.1l.6-.2l.6 .2l.6-.1l.6-.3l.6-.3l.6 .7l.6 .1l.6-.4l.6 .1l.6-.5l.6 .5l.6 .4l.6 .6l.6-.2l.6 0l.6 0l.6 .1l.6-.6l.6-.7l.6 .2l.6 .4l.6-0l.6-.9l.6 .9l.6-.3l.6 .2l.6-.4l.6-.3l.6 .6l.6-.3l.6 .4l.6 .8l.6-.7l.6 .5l.6-.4l.6-.1l.6 .2l.6-.6l.6-.2l.6 .9l.6 .2l.6-.2l.6-.4l.6 .2l.6 .2l.6-.5l.6-.1l.6-.2l.6 .3l.6 .8l.6-.2l.6 .1l.6-.1l.6-.4l.6 .1l.6-.3l.6 .1l.6 .1l.6 .4l.6-.1l.6 0l.6-.2l.6 .5l.6-.1l.6-.1l.6-.3l.6 .6l.6 .2l.6-.3l.6 .2l.6 0l.6-.6l.6-.2l.6 .1l.6 .3l.6 .4l.6-.6l.6 .4l.6-.4l.6-.1l.6-.2l.6 .1l.6-.4l.6 .6l.6 .1l.6 .7l.6-.6l.6-.2l.6 .2l.6-.5l.6 .2l.6 .5l.6-0l.6-.3l.6 0l.6 .1l.6-.3l.6 .2l.6 .3l.6-.2l.6 .5l.6-.2l.6-.2l.6-.1l.6-0l.6-.6l.6 .5l.6-.2l.6 .5l.6-.3l.6 .4l.6 .3l.6-.4l.6-.4l.6 .2l.6 .4l.6-.3l.6-.5l.6-.2l.6-6.1l.6 .1l.6 .1l.6 .3l.6 0l.6-.2l.6-.1l.6-.1l.6-.2l.6 .2l.6-.2l.6-.2l.6-.1l.6-.1l.6-.1l.6 .7l.6 .2l.6 .2" fill="none" stroke="#000" stroke-width="0.9"/>
<path d="M436.3 72.4l.6 .6l.6 .1l.6 0l.6-.2l.6-.1l.6-.1l.6 0l.6 .3l.6 .1l.6 0l.6 .1l.6-.1l.6-.1l.6-.2l.6 .7l.6-.4l.6-.3l.6-.3l.6-.4l.6 .1l.6 .1l.6 .4l.6-.4l.6 .7l.6 1.2l.6 .9l.6 1l.6 .2l.6-0l.6 .7l.6 .7l.6 0l.6 .7l.6-0l.6 .1l.6 .3l.6-.4l.6 .1l.6 .4l.6-.2l.6 .1l.6 .3l.6-.2l.6 .4l.6-.2l.6 .1l.6-.2l.6 .1l.6 .4l.6-0l.6 .5l.6-.2l.6 .2l.6-.5l.6 .8l.6-.4l.6-.2l.6 .3l.6-.2l.6 .2l.6-0l.6-.4l.6 .1l.6 .2l.6 .2l.6-.4l.6 0l.6 .5l.6-.3l.6 0l.6-.4l.6 .7l.6 .1l.6-.6l.6-.3l.6-0l.6-.3l.6-.2l.6 .6l.6 .7l.6 .2l.6 .3l.6-1.1l.6 .2l.6 .1l.6 .3l.6-.3l.6-.2l.6-0l.6 .2l.6-0l.6-.5l.6 .6l.6-.1l.6 .5l.6-.3l.6 0l.6 .1l.6 .1l.6-.1l.6-.1l.6 .2l.6 0l.6-.6l.6 .7l.6 .1l.6-.1l.6-.1l.6 .3l.6-.6l.6-.3l.6-0l.6 .5l.6-.3l.6-0l.6 .1l.6 .2l.6 .2l.6-.4l.6-.2l.6 .7l.6-.4l.6 .1l.6-0l.6-.4l.6 .4l.6 0l.6-.4l.6-.1l.6-.1l.6 .7l.6-0l.6 .3l.6 .3l.6-.1l.6-.8l.6 .6l.6-.6l.6 .3l.6-.1l.6 .1l.6 .1l.6-.1l.6-.6l.6 .2l.6 .4l.6 .1l.6 0l.6-.1l.6 .1l.6-.1l.6-.1l.6-.5l.6-.2l.6 .5l.6-.2l.6-.1l.6 .3l.6 .5l.6-.2l.6 .3l.6-.3l.6-.1l.6-0l.6 .3l.6-7.7l.6 .4l.6-.1l.6-0l.6 0l.6-.3l.6-.2l.6 .2l.6-0l.6-.2l.6 .1l.6 .1l.6-.7l.6 .4l.6-.1l.6 .3l.6 .3l.6-.1" fill="none" stroke="#000" stroke-width="0.9"/>
<path d="M436.3 72.9l.6-.2l.6 .3l.6-.5l.6-.1l.6-0l.6 .4l.6-0l.6 .2l.6 0l.6 .1l.6-.1l.6-.7l.6 .6l.6-.3l.6 0l.6 .4l.6-.2l.6 .1l.6-0l.6-.2l.6 .3l.6-.4l.6 .3l.6 1l.6 1.3l.6 .8l.6 .7l.6 .6l.6 .5l.6 1l.6-.1l.6 .5l.6-0l.6-.2l.6 1.1l.6-.4l.6 .4l.6 .5l.6-.3l.6-.2l.6 .4l.6-.3l.6 .1l.6 0l.6-.1l.6 .3l.6 .2l.6 .2l.6-.1l.6 0l.6 .3l.6 .3l.6-.9l.6 .4l.6-.4l.6 .3l.6-.2l.6 .1l.6 0l.6-0l.6-.2l.6 .4l.6-.8l.6 .7l.6 .6l.6-.1l.6-.1l.6-.3l.6 .6l.6-.1l.6-.5l.6-.1l.6-.3l.6-.5l.6 .1l.6 .5l.6-0l.6-0l.6-.2l.6 .2l.6-0l.6-.4l.6 .4l.6 .8l.6-.6l.6-.4l.6 .1l.6 0l.6-.3l.6 .8l.6 .5l.6 0l.6 .2l.6-.3l.6-0l.6-.8l.6 .5l.6 .1l.6-.3l.6-.1l.6 .1l.6-.2l.6 0l.6 .2l.6-.3l.6-.3l.6 .1l.6 .4l.6 .5l.6 .1l.6-.5l.6-.3l.6 .3l.6 .6l.6 .1l.6-1.2l.6 .4l.6 .3l.6-.1l.6-.1l.6 .3l.6 .2l.6-.2l.6-.2l.6-0l.6 .7l.6-.1l.6 .1l.6-.6l.6 .2l.6 .6l.6 .2l.6-.5l.6-.1l.6-.2l.6-.7l.6 .7l.6 .2l.6-.4l.6 .1l.6 .4l.6-.5l.6 .4l.6-.2l.6-.1l.6 .4l.6-.5l.6-.6l.6 .2l.6 .3l.6 .1l.6 0l.6 .6l.6-.9l.6 .1l.6 .1l.6 .1l.6 .2l.6-.1l.6-0l.6-.2l.6 .4l.6-.1l.6 .2l.6-.1l.6-8.3l.6 0l.6-.5l.6 .4l.6-.1l.6-.4l.6-.3l.6 .3l.6 .1l.6 .1l.6-.3l.6 .4l.6-.2l.6 .3l.6 0l.6 .1l.6 .3l.6 .1" fill="none" stroke="#000" stroke-width="0.9"/>
<path d="M436.3 72.4l.6 .6l.6-.2l.6-.1l.6-.3l.6 .4l.6-.1l.6 .4l.6 .1l.6-0l.6-.7l.6-.1l.6 .3l.6-.1l.6-.1l.6-.2l.6 .4l.6 .1l.6 .3l.6 .5l.6-.3l.6-.2l.6 .2l.6-.3l.6 .1l.6 1.5l.6 .5l.6 1.1l.6 .4l.6 .2l.6 .8l.6 .9l.6 .7l.6-.2l.6 1.1l.6 .5l.6 .4l.6-.2l.6 .1l.6 .3l.6 0l.6-.5l.6 .6l.6 .1l.6 .6l.6-.6l.6 .2l.6 .1l.6 .2l.6-.1l.6-.2l.6 .2l.6 .3l.6-.5l.6-.2l.6-.2l.6-.2l.6 .5l.6-.1l.6-.3l.6 .1l.6 0l.6 .7l.6-.1l.6-.4l.6 .5l.6 0l.6 .2l.6-.4l.6 .5l.6 .1l.6-.2l.6-.1l.6-.2l.6 .3l.6-.1l.6-.1l.6-.3l.6 .3l.6-0l.6-.4l.6-.9l.6 .1l.6 .2l.6 .7l.6 .6l.6 .6l.6-.3l.6-.1l.6-.5l.6 .4l.6-.2l.6-.2l.6 0l.6 .5l.6-.2l.6-.1l.6-.2l.6 .2l.6-0l.6-.3l.6 .2l.6 .4l.6-.2l.6-.6l.6 .3l.6 .1l.6 .3l.6 0l.6 .4l.6-.6l.6 .1l.6 .7l.6-.7l.6-.3l.6-.3l.6 .6l.6 .2l.6 .1l.6-.3l.6 .4l.6 .1l.6-.4l.6 .1l.6-.5l.6 .2l.6 .1l.6-.1l.6 .1l.6 .3l.6-.1l.6-.4l.6 0l.6 .2l.6 .3l.6-.1l.6 0l.6-.4l.6 .4l.6 0l.6 .5l.6-.4l.6-.2l.6 .4l.6-.7l.6 .2l.6-0l.6-.2l.6-.9l.6 .8l.6-.3l.6 .6l.6-.1l.6-0l.6 .5l.6 .2l.6-.6l.6-0l.6 .3l.6 .1l.6 .1l.6-.2l.6-.4l.6-.4l.6 .4l.6 .2l.6-9.9l.6 0l.6 0l.6-0l.6 .5l.6 .3l.6-.2l.6-.5l.6-.5l.6 .1l.6 .4l.6-.1l.6 .4l.6-.2l.6-.2l.6 .4l.6 0l.6 .1" fill="none" stroke="#000" stroke-width="0.9"/>
<path d="M436.3 73.0l.6-.2l.6 .2l.6 .1l.6 0l.6-.3l.6-.1l.6 .2l.6 .2l.6-.1l.6-.1l.6 .2l.6-.2l.6 .4l.6-.2l.6 .4l.6-.5l.6 .1l.6-.3l.6 .5l.6-.1l.6 .3l.6 .4l.6-.7l.6 1.3l.6 1.2l.6 .7l.6 .9l.6 .5l.6 1l.6-.6l.6 .7l.6 .7l.6 1l.6 0l.6 .2l.6 .1l.6 .2l.6 0l.6 .5l.6 .1l.6 .3l.6 .3l.6-.6l.6 .2l.6 .3l.6 .1l.6-.1l.6-.7l.6 .5l.6-0l.6 .4l.6-.5l.6 .5l.6 .8l.6-.4l.6-.9l.6-.3l.6-0l.6 .9l.6-0l.6-.3l.6-0l.6-0l.6 .1l.6-.3l.6 .1l.6-.1l.6 .2l.6-.1l.6 .4l.6-0l.6 .8l.6 .1l.6-.2l.6-.1l.6-0l.6 .9l.6-.4l.6 .6l.6-.8l.6-.3l.6-.3l.6 .3l.6-.5l.6 .8l.6 .1l.6-.7l.6 .1l.6 .4l.6-.3l.6 .2l.6-.2l.6-.3l.6 .3l.6 0l.6-.9l.6 .3l.6 1l.6-.6l.6 .1l.6-0l.6 .1l.6-.3l.6 0l.6 .1l.6 .1l.6 .3l.6 0l.6-.8l.6 .3l.6 .6l.6 .1l.6-.4l.6-.3l.6 .4l.6-.1l.6 .4l.6-0l.6-.2l.6-.4l.6-.2l.6 .3l.6-.5l.6 .5l.6 .1l.6-.1l.6-0l.6-.2l.6 .4l.6-.1l.6-.1l.6 .6l.6-.6l.6 .2l.6-.5l.6 .3l.6-0l.6 .1l.6-.4l.6 .4l.6 .1l.6-0l.6 .6l.6-.4l.6 .3l.6-.1l.6 .3l.6-.3l.6 .1l.6 0l.6-.4l.6-.2l.6 .3l.6 .7l.6-.8l.6 .4l.6 .2l.6 .1l.6 .1l.6-1l.6 .9l.6-.4l.6 .2l.6-.7l.6 .7l.6-10.9l.6 0l.6-.2l.6-.2l.6 .7l.6-.1l.6 .1l.6-.4l.6 .1l.6-.5l.6-0l.6-.1l.6 .8l.6-.5l.6 .4l.6 0l.6 .2l.6 .1" fill="none" stroke="#000" stroke-width="0.9"/>
<path d="M436.3 72.8l.6-0l.6 .2l.6-.1l.6 .1l.6-.4l.6-.4l.6 .3l.6-.2l.6 .3l.6-0l.6 .4l.6 .5l.6-.1l.6 0l.6-1l.6 0l.6-.1l.6-0l.6 .3l.6-.4l.6 .1l.6 .2l.6 .1l.6 .3l.6 1.5l.6 1.6l.6 1.2l.6 .4l.6 .7l.6 .9l.6 1l.6 .1l.6 .1l.6 .3l.6 .5l.6 .7l.6 0l.6 .5l.6 .3l.6-.2l.6-.3l.6 .4l.6-0l.6 .5l.6 .3l.6-.6l.6 0l.6 .4l.6-.6l.6 1l.6 0l.6 .3l.6-.5l.6-.2l.6 .2l.6-.1l.6 .5l.6-.2l.6 .9l.6-.6l.6-.2l.6-.4l.6 0l.6 .4l.6 .4l.6-.1l.6-.2l.6 .2l.6 .4l.6-.7l.6 .4l.6 .3l.6-.1l.6-.5l.6 .3l.6 .1l.6 0l.6-.1l.6 .3l.6-.4l.6-.2l.6 0l.6 .2l.6 .2l.6 .1l.6-.6l.6 0l.6 .2l.6 .6l.6-.9l.6 0l.6 .3l.6 .3l.6-.1l.6 .1l.6-.2l.6 .1l.6-0l.6 .3l.6-0l.6 .3l.6-.5l.6 .1l.6 .2l.6-.1l.6 .1l.6 .5l.6-.4l.6-.3l.6 0l.6-.3l.6-.2l.6 .5l.6 .3l.6-.1l.6-.5l.6-.5l.6 .6l.6-.2l.6 .1l.6 .1l.6 0l.6 .2l.6 .1l.6 .2l.6-.2l.6 .1l.6-.1l.6-.2l.6-.5l.6 .1l.6-.1l.6 .6l.6 0l.6 .5l.6-.2l.6-.2l.6-.1l.6-.4l.6-.5l.6 .9l.6 .5l.6-.7l.6 .4l.6-.1l.6 .9l.6-.5l.6 .1l.6 0l.6-.1l.6 0l.6-.1l.6-0l.6 .5l.6-0l.6 .1l.6-.7l.6 .5l.6 .4l.6-.1l.6-0l.6-.1l.6 .2l.6-.2l.6-.2l.6-12.1l.6 .2l.6-.3l.6 .2l.6-.3l.6 .3l.6-.3l.6 .1l.6 .1l.6-.5l.6-.3l.6 .2l.6 .5l.6-0l.6 0l.6-.3l.6-.3l.6 .7" fill="none" stroke="#000" stroke-width="0.9"/>
<path d="M436.3 72.9l.6-.4l.6-.2l.6-0l.6 .3l.6 .2l.6-.2l.6 .3l.6-.1l.6-.1l.6 .1l.6 .2l.6-.5l.6 .5l.6 .4l.6-.3l.6-.1l.6 .1l.6-.1l.6 .1l.6-.3l.6-0l.6-0l.6-.4l.6 .2l.6 1.7l.6 1.2l.6 2.4l.6 .9l.6 1l.6 .4l.6 .1l.6 .5l.6 .1l.6 .9l.6 .3l.6 .1l.6 .5l.6 .7l.6-.2l.6-.2l.6 .2l.6 .7l.6-.2l.6-.3l.6-0l.6-0l.6 .3l.6 .1l.6 .5l.6 0l.6-.5l.6 .3l.6 0l.6 .4l.6 .3l.6-.4l.6-.1l.6 .2l.6-.1l.6 .1l.6 .1l.6 .2l.6 .3l.6-.4l.6-.5l.6-0l.6 .4l.6-0l.6-0l.6 1l.6 .3l.6-.7l.6 .7l.6-.7l.6 .3l.6-.2l.6-.6l.6 .3l.6-.1l.6 .1l.6 .2l.6 .2l.6-.6l.6 0l.6 .1l.6 .2l.6-.3l.6-0l.6 .6l.6-.2l.6 .1l.6 0l.6-.9l.6 .5l.6 .4l.6-.6l.6 .1l.6-.3l.6 .2l.6 .1l.6 .3l.6 0l.6-.2l.6 .3l.6 .5l.6-.2l.6 .4l.6-.9l.6 .1l.6 1l.6-.8l.6-.2l.6 .1l.6-.2l.6 .2l.6 .3l.6 .2l.6-.2l.6-0l.6 .2l.6-.2l.6-.5l.6-.2l.6-.2l.6 .5l.6 .2l.6 .3l.6-.1l.6-.6l.6 .2l.6 .3l.6-.3l.6 .2l.6 0l.6 .4l.6 .1l.6-.2l.6-.6l.6 .7l.6-.1l.6-.2l.6-.2l.6 .3l.6 .4l.6-.2l.6-.5l.6-.1l.6-.1l.6 .7l.6-.5l.6-.1l.6 .7l.6 .3l.6-.7l.6 .1l.6 .1l.6 .6l.6-.4l.6-.3l.6 .1l.6-.3l.6 .3l.6-.1l.6-.2l.6 0l.6-12.9l.6-0l.6 .4l.6 .1l.6-.2l.6 .1l.6 .4l.6 .2l.6-.3l.6-.2l.6 0l.6-.4l.6 .5l.6 .3l.6-.1l.6-.3l.6-.3l.6-.3" fill="none" stroke="#000" stroke-width="0.9"/>
<path d="M436.3 73.0l.6-.3l.6-.6l.6 .3l.6-.2l.6 .6l.6-.3l.6 .1l.6-.1l.6 .1l.6 .2l.6-.1l.6 .4l.6 0l.6 0l.6 .4l.6 .2l.6-.6l.6 0l.6 .1l.6-.5l.6 .3l.6-0l.6-.3l.6 .6l.6 1.6l.6 1.4l.6 1.2l.6 .7l.6 1l.6 .6l.6 1.4l.6 .9l.6 .3l.6 .5l.6 .1l.6 .2l.6 .5l.6-.2l.6-0l.6 .3l.6-0l.6-.1l.6 .7l.6 .1l.6-0l.6 .1l.6 .1l.6 .1l.6-.4l.6-.1l.6 .6l.6 .1l.6 .3l.6-.2l.6 .3l.6-.6l.6 1l.6 .1l.6-0l.6-.1l.6-.1l.6 .1l.6 .5l.6-.3l.6-.2l.6 .4l.6-.1l.6 .3l.6-.3l.6-.4l.6-.5l.6 .1l.6 .2l.6 .5l.6-.5l.6-.1l.6 .4l.6 .2l.6 0l.6-.3l.6-.3l.6 .3l.6 .3l.6-.3l.6 .1l.6 0l.6 .1l.6-.1l.6-.2l.6-.2l.6 .3l.6 .4l.6-0l.6-.6l.6 .3l.6-.4l.6 .7l.6 0l.6-.2l.6 .7l.6-.2l.6 .2l.6-.3l.6-.5l.6 .1l.6 .2l.6 .2l.6-.5l.6 .4l.6-.4l.6-0l.6 .1l.6 .3l.6 .3l.6-.7l.6 .5l.6 .1l.6 .2l.6-.1l.6-.1l.6-.3l.6 .2l.6 0l.6 .4l.6-.4l.6-.2l.6-0l.6-.4l.6 .2l.6 .1l.6-.3l.6 .1l.6 .3l.6 .3l.6 .2l.6-.3l.6 .3l.6 .8l.6-.4l.6-.4l.6-.1l.6-.3l.6 .1l.6-.1l.6 .1l.6 .1l.6-.7l.6 1l.6 .2l.6 .1l.6-.2l.6 .6l.6-.7l.6 .2l.6 .2l.6 .1l.6-.3l.6 .5l.6-0l.6-.6l.6-.4l.6-.1l.6 .4l.6-.2l.6 .5l.6-13.8l.6-.2l.6-.2l.6-.1l.6 0l.6 .3l.6 .1l.6-.2l.6 .2l.6-0l.6 0l.6-.3l.6-0l.6 .6l.6-.1l.6 .2l.6-.6l.6-0" fill="none" stroke="#000" stroke-width="0.9"/>
<path d="M436.3 72.6l.6 .2l.6-.1l.6 0l.6 .4l.6 .3l.6-.2l.6 0l.6 0l.6-.4l.6-.2l.6 .2l.6-0l.6 .4l.6-.1l.6-.6l.6 .1l.6 .3l.6-.1l.6 .2l.6-.1l.6 0l.6-.3l.6-.2l.6 1.3l.6 1.5l.6 1.8l.6 .8l.6 .9l.6 .7l.6 1.3l.6 .4l.6 .9l.6 .7l.6 .2l.6 .4l.6 .8l.6 .2l.6 .1l.6-.3l.6 .1l.6 .4l.6 0l.6-.1l.6 1.1l.6 .2l.6 0l.6 .1l.6 .1l.6 .1l.6-.6l.6 .5l.6-.4l.6-.3l.6 .5l.6 .4l.6 .1l.6 .8l.6-.3l.6-.2l.6 .7l.6 .6l.6-.1l.6-.6l.6 .1l.6-.3l.6 0l.6-.1l.6-.1l.6-.1l.6 0l.6 .3l.6 .4l.6-.7l.6-.2l.6 .4l.6 .4l.6-.5l.6 .2l.6-.1l.6-.1l.6-.1l.6 .7l.6-.8l.6 .5l.6-.5l.6 .1l.6 .1l.6 .5l.6 .5l.6-.2l.6 .6l.6-0l.6-.5l.6 .5l.6-.7l.6 .1l.6-.4l.6-.2l.6 .1l.6-.1l.6 .3l.6-.3l.6 .8l.6-.7l.6-.2l.6 .3l.6-.4l.6 .3l.6-.7l.6 .3l.6-.3l.6 .1l.6 .7l.6 .5l.6-.6l.6 .1l.6 .6l.6 .2l.6-.6l.6 .2l.6 .3l.6-.5l.6-.1l.6-.5l.6-.1l.6-.2l.6 .5l.6 .5l.6-0l.6 .2l.6-.1l.6-.1l.6 .3l.6-.5l.6 .4l.6-.7l.6-.1l.6 .2l.6 .4l.6 .1l.6 .1l.6 .2l.6-.3l.6-.2l.6 .3l.6 .4l.6-.2l.6-.3l.6 .5l.6-.2l.6-.6l.6 .3l.6 .6l.6-.6l.6-0l.6 .5l.6-.1l.6-.2l.6-.3l.6 .5l.6-.3l.6-0l.6-.2l.6 .2l.6-0l.6-15.4l.6 .2l.6 .5l.6-.1l.6-.4l.6 0l.6 .3l.6-.4l.6 .7l.6-.2l.6-.1l.6-.3l.6-.2l.6-.2l.6-.2l.6 .2l.6-.4l.6 .4" fill="none" stroke="#000" stroke-width="0.9"/>
<path d="M436.3 73.3l.6 0l.6-0l.6-.5l.6-.5l.6 .2l.6 .3l.6-.2l.6 0l.6 .1l.6-.2l.6 0l.6-.1l.6 .1l.6-.1l.6-.1l.6 .2l.6 .6l.6 .4l.6-.3l.6 .1l.6 0l.6-.1l.6-.1l.6 .6l.6 1.5l.6 1.4l.6 1.5l.6 .5l.6 1.7l.6 .6l.6 .7l.6 .6l.6 1.1l.6 .2l.6 .3l.6 .7l.6-0l.6 .3l.6 .7l.6 .7l.6 .5l.6 0l.6 .1l.6-.3l.6-.1l.6-.2l.6 .7l.6-.2l.6-.1l.6 .8l.6-1.2l.6 .2l.6 .3l.6 .5l.6-.3l.6 .1l.6 .9l.6-.2l.6-.9l.6 .5l.6 .6l.6-.2l.6 .2l.6 .3l.6 .3l.6-0l.6 .2l.6-.8l.6-.1l.6 .2l.6-.4l.6 .4l.6-.3l.6-0l.6-.3l.6 .6l.6-.1l.6 .1l.6 .3l.6-.4l.6 .1l.6 .1l.6-.2l.6-.4l.6 .3l.6 .9l.6-.2l.6-.2l.6 .3l.6-.1l.6-.2l.6-.3l.6-.3l.6 .1l.6 .7l.6 .3l.6 .1l.6-.1l.6-.1l.6-.2l.6 .1l.6 0l.6 .2l.6-.6l.6-.5l.6 .2l.6 .5l.6 .1l.6-.4l.6-.1l.6-.6l.6 .2l.6 .5l.6 .1l.6-0l.6-.3l.6 .4l.6-.1l.6 .4l.6 .3l.6 0l.6-.4l.6 .6l.6-.4l.6-.1l.6 .1l.6-.1l.6-.4l.6-.2l.6 .2l.6 .1l.6 .4l.6-.5l.6 1.2l.6-.1l.6-.7l.6 .3l.6-0l.6 .2l.6-.5l.6 .1l.6-.2l.6 .5l.6-.1l.6-.4l.6 .2l.6-.1l.6 .7l.6-.3l.6 .5l.6-.7l.6-.2l.6-.1l.6-.4l.6 .5l.6 .5l.6-.3l.6 .5l.6-.9l.6 .7l.6-0l.6 .3l.6 0l.6-.5l.6 .1l.6-15.9l.6 .1l.6-.5l.6 .6l.6-.2l.6 .4l.6 .2l.6-.2l.6 0l.6-.5l.6-.1l.6-.4l.6-.2l.6 .2l.6 .3l.6-.1l.6-.1l.6 .4" fill="none" stroke="#000" stroke-width="0.9"/>
<path d="M454.7 73.6l1.5-0l1.5 .1l1.5-.2l1.5 .1l1.5-.1l1.5 .1l1.5-.1l1.5-.1l1.5 .1l1.5 .2l1.5 .1l1.5 .1l1.5-0l1.5-.1l1.5-0l1.5-.2l1.5 0l1.5 .2l1.5-.1l1.5 0l1.5 .1l1.5-0l1.5-.1l1.5-.4l1.5 .4l1.5 .2l1.5-0l1.5-.2l1.5 .4l1.5-.2l1.5-.1l1.5-.1l1.5 .3l1.5-.1l1.5-.1l1.5-.3l1.5 0l1.5-.2l1.5 .1l1.5 .1l1.5 .2l1.5 .1l1.5-.1l1.5 .2l1.5 .1l1.5-.2l1.5-.1l1.5 0l1.5 .2l1.5 .1l1.5-.1l1.5 .1l1.5-.2" fill="none" stroke="#fff" stroke-width="0.62" stroke-dasharray="4 3 12 6 6 2 12 1.5 16 4" stroke-dashoffset="7"/>
<path d="M455.3 74.7l1.5 .3l1.5 .2l1.5-.4l1.5 .1l1.5 .1l1.5 .1l1.5-0l1.5 0l1.5-.1l1.5 0l1.5 .3l1.5 0l1.5 .1l1.5-.2l1.5-.2l1.5-0l1.5 .1l1.5-.2l1.5 .2l1.5-0l1.5 .1l1.5 .2l1.5 .1l1.5-.3l1.5 .4l1.5-.1l1.5-.1l1.5 0l1.5-.1l1.5 .2l1.5-.5l1.5 .1l1.5-.1l1.5 .1l1.5-.1l1.5 .1l1.5 .2l1.5 .1l1.5-0l1.5 .2l1.5-.3l1.5 .1l1.5 .2l1.5-.3l1.5 0l1.5-.1l1.5 .1l1.5 0l1.5-.1l1.5 .2l1.5 .1l1.5-.1" fill="none" stroke="#fff" stroke-width="0.62" stroke-dasharray="8 1.5 6 3 8 1.5 3 1.5 8 1.5" stroke-dashoffset="3"/>
<path d="M455.9 75.7l1.5 .3l1.5 .1l1.5 .3l1.5 .2l1.5-.2l1.5-.1l1.5-.1l1.5 .3l1.5-.1l1.5 .2l1.5 .1l1.5-.2l1.5-.1l1.5 .1l1.5-.1l1.5 .3l1.5 .1l1.5-0l1.5-0l1.5-.2l1.5 .1l1.5 .1l1.5-.1l1.5-0l1.5 .1l1.5-.1l1.5 .1l1.5-.1l1.5 0l1.5 0l1.5-.3l1.5 .1l1.5 .1l1.5-.2l1.5 .3l1.5 .1l1.5-.1l1.5-0l1.5 0l1.5 .1l1.5-.2l1.5 .4l1.5-.2l1.5-0l1.5 .1l1.5 0l1.5 .1l1.5-.1l1.5-.1l1.5 0l1.5-.1l1.5 0" fill="none" stroke="#fff" stroke-width="0.62" stroke-dasharray="16 3 6 3 8 2 16 6 4 6" stroke-dashoffset="18"/>
<path d="M456.5 76.9l1.5 .5l1.5 .4l1.5 .1l1.5 0l1.5 .5l1.5-.1l1.5-.2l1.5 .1l1.5 .1l1.5 .1l1.5 0l1.5 .1l1.5-.3l1.5-.2l1.5 .1l1.5 .2l1.5-0l1.5-.2l1.5 0l1.5 .2l1.5 .1l1.5 0l1.5-.1l1.5-.1l1.5-.1l1.5 .1l1.5-.1l1.5 .1l1.5-.1l1.5-.1l1.5 .1l1.5-.1l1.5 .4l1.5-.2l1.5 .1l1.5 .2l1.5-0l1.5-.2l1.5-0l1.5 .2l1.5 .3l1.5-.3l1.5 .1l1.5-.2l1.5 .1l1.5-.1l1.5-.2l1.5 .2l1.5-.1l1.5 .1l1.5 .1l1.5 .1" fill="none" stroke="#fff" stroke-width="0.62" stroke-dasharray="3 1.5 16 3 4 3 8 3 16 2" stroke-dashoffset="14"/>
<path d="M457.1 78.6l1.5 .3l1.5 .3l1.5 .1l1.5-.1l1.5 .3l1.5 .1l1.5-0l1.5-0l1.5 .3l1.5-0l1.5-.3l1.5 .2l1.5 .2l1.5-.2l1.5 0l1.5-0l1.5 0l1.5 .2l1.5-.3l1.5 .2l1.5-.3l1.5-0l1.5 .1l1.5-.3l1.5-0l1.5-.1l1.5 .1l1.5 .2l1.5 .1l1.5 .1l1.5-.3l1.5 .3l1.5 .1l1.5-.1l1.5-0l1.5 .1l1.5 0l1.5-.3l1.5 .6l1.5 0l1.5-.2l1.5-.1l1.5 0l1.5 .3l1.5-.1l1.5-0l1.5-.1l1.5-0l1.5-.1l1.5 .1l1.5 .1" fill="none" stroke="#fff" stroke-width="0.62" stroke-dasharray="3 3 4 6 12 4 4 2 16 1.5" stroke-dashoffset="18"/>
<path d="M457.7 79.9l1.5 .3l1.5 .2l1.5 .6l1.5-0l1.5 0l1.5-.2l1.5 .1l1.5 .2l1.5-.1l1.5-.1l1.5 .1l1.5 .1l1.5 0l1.5-.1l1.5 .2l1.5 .2l1.5-.1l1.5-0l1.5-.1l1.5-.1l1.5 .1l1.5-0l1.5-.2l1.5 0l1.5 .1l1.5 .4l1.5-.1l1.5-.1l1.5 0l1.5 .2l1.5 .1l1.5-.1l1.5 .1l1.5-0l1.5 .3l1.5-.3l1.5 .3l1.5-.4l1.5 .1l1.5 .1l1.5-.1l1.5-.4l1.5-0l1.5 .3l1.5 .1l1.5 0l1.5 .2l1.5-.2l1.5 .3l1.5 .1l1.5-.1" fill="none" stroke="#fff" stroke-width="0.62" stroke-dasharray="12 1.5 12 3 8 1.5 16 4 16 2" stroke-dashoffset="1"/>
<path d="M458.3 80.9l1.5 .4l1.5 .5l1.5 .3l1.5 .1l1.5 .2l1.5 .1l1.5-.1l1.5 .1l1.5 .3l1.5-.1l1.5-0l1.5 .1l1.5-.3l1.5 0l1.5 .2l1.5 .3l1.5-.3l1.5 .3l1.5 0l1.5-.1l1.5 .1l1.5-.2l1.5-.1l1.5 .2l1.5 .2l1.5-.2l1.5-.1l1.5 0l1.5 .4l1.5-0l1.5 .2l1.5 .1l1.5 0l1.5-.1l1.5-.1l1.5 .2l1.5-.3l1.5-.2l1.5 .3l1.5-.4l1.5 .2l1.5 .2l1.5-.4l1.5 .2l1.5 0l1.5 .2l1.5-.1l1.5 .1l1.5 .3l1.5 0" fill="none" stroke="#fff" stroke-width="0.62" stroke-dasharray="8 1.5 3 1.5 8 3 16 1.5 8 6" stroke-dashoffset="14"/>
<path d="M458.9 82.4l1.5 .4l1.5 .2l1.5 .4l1.5 .1l1.5 .3l1.5 .2l1.5 .2l1.5 .4l1.5-.2l1.5-.1l1.5 .1l1.5 .1l1.5 0l1.5-.3l1.5 .1l1.5 .2l1.5 .1l1.5 0l1.5 0l1.5-.1l1.5-.1l1.5-.2l1.5 .3l1.5-.1l1.5-.1l1.5 .3l1.5 .1l1.5-.2l1.5-.3l1.5 .1l1.5-.1l1.5 .3l1.5 .1l1.5 .1l1.5-.2l1.5-.1l1.5 .4l1.5-.1l1.5-.2l1.5 .2l1.5-.1l1.5 .1l1.5-0l1.5 .1l1.5 0l1.5 0l1.5-.1l1.5 .2l1.5 .2l1.5-.2" fill="none" stroke="#fff" stroke-width="0.62" stroke-dasharray="12 4 16 3 12 4 6 6 6 1.5" stroke-dashoffset="11"/>
<path d="M459.5 83.7l1.5 .5l1.5 .5l1.5 .2l1.5-0l1.5 .3l1.5 0l1.5 .1l1.5 .1l1.5 .1l1.5 .5l1.5 .1l1.5-.4l1.5-.1l1.5 0l1.5 .1l1.5 .2l1.5 .3l1.5-.2l1.5 .1l1.5-0l1.5-.3l1.5 .3l1.5 .3l1.5-.2l1.5 .1l1.5-.1l1.5-0l1.5-0l1.5-0l1.5 0l1.5 0l1.5 .1l1.5-.1l1.5 .2l1.5-.1l1.5-.2l1.5 .3l1.5-0l1.5-0l1.5 .2l1.5-0l1.5 .3l1.5-.1l1.5-.2l1.5-.1l1.5 0l1.5 .1l1.5 .3l1.5 .3l1.5 .1" fill="none" stroke="#fff" stroke-width="0.62" stroke-dasharray="4 6 4 3 4 2 4 6 12 1.5" stroke-dashoffset="10"/>
<path d="M460.1 85.0l1.5 .5l1.5 .4l1.5 .2l1.5 .5l1.5-.1l1.5 .4l1.5-0l1.5 .1l1.5-.2l1.5 .3l1.5 0l1.5 .5l1.5-.2l1.5 .1l1.5 .1l1.5-.1l1.5-.1l1.5-.1l1.5 .2l1.5 .1l1.5 .2l1.5-.2l1.5-.1l1.5 .1l1.5 0l1.5 .2l1.5 .2l1.5-0l1.5-.2l1.5 .1l1.5-.1l1.5 0l1.5 .4l1.5 0l1.5 .2l1.5-.1l1.5-.1l1.5-.2l1.5 .1l1.5 .2l1.5 .1l1.5-.2l1.5 .1l1.5 .1l1.5-.1l1.5 .2l1.5-.1l1.5 0l1.5-0" fill="none" stroke="#fff" stroke-width="0.62" stroke-dasharray="12 6 8 1.5 6 2 6 3 12 2" stroke-dashoffset="14"/>
<path d="M436.3 73.1l.6-.2l.6 .1l.6 .4l.6-.2l.6-.5l.6-.1l.6 .2l.6-.3l.6-.2l.6 .2l.6-.3l.6 .5l.6 .1l.6-0l.6 .2l.6-.2l.6-.3l.6 .3l.6 0l.6-0l.6 .2l.6-.1l.6 .1l.6 0l.6 .2l.6 0l.6-.3l.6 .4l.6-.3l.6 .4l.6-.6l.6 0l.6-.6l.6 .4l.6 .4l.6-.2l.6 .1l.6-.1l.6 .4l.6-.1l.6-0l.6 .2l.6-.6l.6 .2l.6-0l.6 .3l.6-.2l.6 .1l.6-.1l.6-.4l.6-0l.6 0l.6-.3l.6 .2l.6-0l.6 .6l.6-.2l.6-0l.6-0l.6 .1l.6-.5l.6-.4l.6 .7l.6-.2l.6-.2l.6 .5l.6 0l.6-.2l.6 .2l.6-.3l.6 .5l.6-.2l.6 .1l.6-.1l.6 .5l.6-.5l.6-.1l.6 .6l.6-.8l.6-.1l.6 .2l.6-0l.6 .2l.6 .2l.6-.4l.6-.1l.6 .4l.6 .5l.6-1.1l.6 .3l.6 .3l.6-.2l.6-.3l.6-.2l.6 .2l.6-.2l.6 .4l.6-.2l.6 .3l.6-.4l.6 .4l.6 .2l.6 .2l.6-.1l.6 .5l.6-.1l.6-.2l.6 .2l.6-.4l.6-.1l.6 .4l.6-.4l.6-.1l.6 0l.6 0l.6-.1l.6 .3l.6 .5l.6-.5l.6-.5l.6-0l.6-.3l.6-.2l.6 0l.6 .6l.6 .1l.6 .2l.6-.1l.6 .2l.6-.2l.6 .3l.6 .1l.6-.1l.6-.6l.6-.2l.6 .2l.6-.2l.6 .1l.6 .1l.6 .4l.6-.2l.6 0l.6-.1l.6-.2l.6 .3l.6 .2l.6-.5l.6 .5l.6 .6l.6-.3l.6-.1l.6-.4l.6-.1l.6 .1l.6-0l.6 .4l.6-.4l.6-.1l.6 .2l.6-.1l.6-0l.6-.1l.6 .2l.6-.6l.6 .9l.6-0l.6-.4l.6-.2l.6-.2l.6 .3l.6-.4l.6 .7l.6-.2l.6-.3l.6 .6l.6-.1l.6 0l.6-.1l.6-.1l.6 .4l.6-.6l.6 .2l.6-.2" fill="none" stroke="#000" stroke-width="3.0"/>
<line x1="450.30" y1="72.80" x2="450.30" y2="80.80" stroke="#000" stroke-width="0.8"/>
<line x1="535.80" y1="59.80" x2="535.80" y2="89.00" stroke="#000" stroke-width="0.8"/>
<text x="263.1" y="10.9" font-size="11.3" font-weight="bold" fill="#000">C</text>
<text x="372.7" y="9.4" font-size="9.5" text-anchor="middle" fill="#000">control</text>
<text x="486.8" y="9.1" font-size="9.8" text-anchor="middle" fill="#000">ATP</text>
<text x="294.6" y="24.4" font-size="8.7" text-anchor="middle" font-style="italic" fill="#000">dorn1-1</text>
<text x="294.6" y="76.5" font-size="8.7" text-anchor="middle" font-style="italic" fill="#000">dorn1-3</text>
<line x1="440.70" y1="37.30" x2="440.70" y2="56.20" stroke="#222" stroke-width="1.2"/>
<line x1="440.10" y1="55.60" x2="469.60" y2="55.60" stroke="#222" stroke-width="1.2"/>
<text x="0" y="0" font-size="9.3" text-anchor="middle" fill="#000" transform="translate(437.4 46.8) rotate(-90) scale(0.85 1)">100 pA</text>
<text x="0" y="0" font-size="9.3" text-anchor="middle" fill="#000" transform="translate(455.2 65.2) scale(0.86 1)">0.5 s</text>
<rect x="318.0" y="257.1" width="84.8" height="3.2" fill="#000" fill-opacity="0.55"/>
<path d="M302.3 257.1l.8 .1l.8-0l.8 0l.8 0l.8-0l.8-.1l.8 .3l.8-.5l.8 .4l.8-.1l.8-.1l.8 0l.8-.1l.8 .2l.8-.3l.8 .3l.8 .1l.8-.2l.8 0l.8 .1l.8 0l.8-.1l.8-.2l.8 0l.8 .3l.8 .2l.8-.1l.8 .3l.8-.3l.8-0l.8 .1l.8-.2l.8 0l.8-.1l.8 .1l.8 .1l.8-.2l.8 .3l.8 .2l.8-.3l.8-.1l.8 .2l.8-0l.8-0l.8-.1l.8-.4l.8 .4l.8-.1l.8-.4l.8 .1l.8-.1l.8 .3l.8 .1l.8 .2l.8-.4l.8 .1l.8-.1l.8 .3l.8-.2l.8-.3l.8-.2l.8-.1l.8 .3l.8-.2l.8 0l.8-.1l.8 .3l.8 0l.8-.2l.8 .4l.8-.1l.8 .1l.8-.2l.8-.2l.8 .3l.8-.3l.8 .5l.8-.3l.8-.1l.8 .5l.8-.4l.8 .3l.8-.1l.8-.1l.8 .2l.8-0l.8-0l.8 .3l.8-.2l.8 .3l.8 0l.8 .1l.8 0l.8-.3l.8 .4l.8-.2l.8 .1l.8-.1l.8-.1l.8-.1l.8-0l.8 .1l.8-.4l.8-.1l.8 .1l.8 .5l.8-.1l.8-0l.8-.1l.8-.3l.8 .4l.8-0l.8 .2l.8-.2l.8-.3l.8 .2l.8 .4l.8-.5l.8-0l.8-0l.8 .2l.8-.2l.8-.3l.8 .2l.8 .1l.8-.1l.8 .3l.8-.1l.8-.4l.8 .1l.8 .3l.8-.5l.8 .6l.8-.5l.8 .4l.8-.1l.8 0l.8-.2l.8 .3l.8-.1l.8-.2" fill="none" stroke="#000" stroke-width="1.0"/>
<path d="M302.3 257.0l.8 .2l.8 0l.8-0l.8-.2l.8-.1l.8-.2l.8 .3l.8 .3l.8-.3l.8 .1l.8-.6l.8 .3l.8 .2l.8 0l.8-0l.8 .4l.8-.5l.8 .2l.8-.2l.8 .1l.8 .5l.8-0l.8 .3l.8 .1l.8-.2l.8 .1l.8-.2l.8 .3l.8 .2l.8-.5l.8 .3l.8-.3l.8 .1l.8-0l.8 0l.8-.1l.8 .2l.8-0l.8 0l.8-.1l.8-0l.8-.1l.8-.3l.8 .4l.8-.5l.8 .2l.8 .2l.8-.1l.8-0l.8-.2l.8 .1l.8 .2l.8-.2l.8-.1l.8 .2l.8 0l.8-.1l.8 .7l.8-.5l.8 .4l.8-.1l.8 0l.8-.2l.8 0l.8-0l.8 0l.8-.2l.8 .2l.8-.1l.8 .3l.8-.1l.8-.3l.8-.1l.8-0l.8 .5l.8-.1l.8-.2l.8 .2l.8 .2l.8 .1l.8-.3l.8 .2l.8-.3l.8-.2l.8 .5l.8-0l.8 .3l.8-.7l.8 .4l.8-.2l.8 .2l.8-.2l.8 .1l.8-.2l.8 .2l.8-0l.8 .2l.8-.3l.8 .2l.8-0l.8-.3l.8-0l.8 .1l.8 .1l.8-0l.8-.1l.8-.1l.8-0l.8-.2l.8-0l.8 .3l.8-.1l.8 0l.8-.1l.8 .1l.8-.2l.8 .3l.8-.2l.8-0l.8 .1l.8 .3l.8-.5l.8 0l.8-.1l.8 .1l.8-.3l.8-.1l.8 .1l.8-.2l.8 .2l.8-.1l.8 .1l.8-.3l.8 .1l.8 .2l.8-.2l.8 0l.8-.1l.8 .6l.8-.4l.8-0" fill="none" stroke="#000" stroke-width="1.0"/>
<path d="M302.3 257.1l.8 0l.8 .2l.8 0l.8-.4l.8 .1l.8 .1l.8 .2l.8-.4l.8 .3l.8-0l.8-.2l.8 .2l.8-.2l.8 .3l.8-.2l.8 .1l.8 .2l.8-.4l.8 .2l.8 .1l.8 .4l.8 .2l.8 .5l.8-.3l.8 .5l.8-.1l.8-.4l.8 .2l.8 .1l.8 0l.8-0l.8 .1l.8-.3l.8 .4l.8 .1l.8-.4l.8-.3l.8 .2l.8-.1l.8 0l.8-.1l.8 .1l.8 .3l.8 .3l.8-.1l.8-.4l.8 .2l.8-0l.8-.2l.8 .3l.8-.3l.8 .5l.8-.1l.8-.2l.8-.1l.8 0l.8-.1l.8-.1l.8 .2l.8 .1l.8 .1l.8-0l.8 0l.8-.1l.8 .1l.8-.1l.8 .4l.8-.5l.8 .1l.8 .2l.8 0l.8-.1l.8-.4l.8-.1l.8 .1l.8-.4l.8 .3l.8 .2l.8 0l.8 .3l.8-.2l.8-.2l.8 .2l.8 .2l.8 0l.8 .5l.8-.2l.8-.1l.8-.2l.8-.1l.8-0l.8-.2l.8 .1l.8 .1l.8-0l.8-.1l.8 0l.8 .2l.8-.1l.8-0l.8 .1l.8 0l.8 .3l.8-.1l.8 .1l.8-.3l.8 .2l.8-0l.8 .1l.8-.2l.8 .2l.8-.1l.8-.2l.8 .1l.8 .2l.8 .1l.8-.2l.8-.1l.8 .2l.8 0l.8-.3l.8 .2l.8-.2l.8 .3l.8 .2l.8-1.8l.8-.2l.8 .1l.8 0l.8-.1l.8-.1l.8 .3l.8-.3l.8 .2l.8 .1l.8-.1l.8-.2l.8 .1l.8 .1l.8 .1l.8 0" fill="none" stroke="#000" stroke-width="1.0"/>
<path d="M302.3 257.2l.8 .1l.8-.3l.8 .2l.8-.4l.8 .5l.8-.1l.8 .2l.8-.4l.8 .2l.8 .1l.8-.1l.8 0l.8-.1l.8 .1l.8-.1l.8-.2l.8 .6l.8-.4l.8-.2l.8 .7l.8 .4l.8 .5l.8 .2l.8 .2l.8-.2l.8 .1l.8 .1l.8 .1l.8-.5l.8 .6l.8 0l.8-.1l.8 .1l.8-.2l.8-.1l.8 .2l.8-.1l.8 .3l.8-.2l.8-.2l.8 .4l.8-.1l.8-0l.8-.2l.8 .5l.8-.1l.8-.5l.8 .3l.8-.2l.8 .3l.8 0l.8-.4l.8 .5l.8-.1l.8-.1l.8-.3l.8-0l.8 .1l.8-.3l.8 .4l.8-.2l.8 .2l.8-.4l.8-0l.8 .1l.8-.3l.8 .1l.8 .4l.8 .1l.8-.3l.8-.2l.8 .2l.8 .1l.8-0l.8 0l.8-.2l.8 .3l.8-.2l.8 .1l.8 .1l.8 0l.8-.2l.8 .2l.8 .2l.8-.4l.8 .4l.8-.2l.8-.1l.8-.1l.8-.1l.8-.2l.8 .3l.8-.1l.8-0l.8 .3l.8-0l.8 .2l.8 0l.8-.1l.8 .1l.8-.2l.8 .1l.8 .2l.8-.4l.8 .3l.8-.2l.8-.2l.8 .4l.8-.2l.8 .1l.8 .1l.8 .1l.8 .1l.8-.4l.8 .5l.8-.3l.8 .2l.8-.2l.8 .3l.8 .2l.8-.3l.8-.2l.8 .3l.8-.2l.8 .2l.8-2.4l.8 .1l.8-.4l.8 .1l.8 .4l.8-.2l.8 .2l.8-.2l.8 0l.8 .2l.8-.1l.8-.1l.8 0l.8 .1l.8-0l.8 .2" fill="none" stroke="#000" stroke-width="1.0"/>
<path d="M302.3 257.3l.8-.1l.8-.1l.8-.2l.8 .2l.8 0l.8-.1l.8 .4l.8-.4l.8-.1l.8 0l.8 .2l.8 0l.8 0l.8-.1l.8 .2l.8 .2l.8-.3l.8 .1l.8-.2l.8 .8l.8 .5l.8 .5l.8 .2l.8 .1l.8 .5l.8-.3l.8-.1l.8 0l.8 .3l.8-.3l.8-.1l.8 .1l.8 .2l.8-.1l.8 .2l.8-.4l.8 .3l.8-.1l.8 .3l.8-.4l.8 .1l.8 .3l.8-.1l.8 .1l.8-.3l.8 .2l.8-.1l.8-.1l.8 .1l.8 .1l.8 .1l.8-0l.8-.1l.8-0l.8-.3l.8 .9l.8-.3l.8-.4l.8 .3l.8-.2l.8 0l.8 .2l.8 .1l.8-.3l.8 .2l.8 0l.8-.2l.8 .4l.8-.5l.8 .2l.8 .2l.8-.5l.8 .2l.8-.2l.8 .2l.8 .3l.8-.4l.8 .1l.8 .2l.8-.1l.8 .3l.8-.1l.8-.2l.8-0l.8 .2l.8 .3l.8-.2l.8-.2l.8 .3l.8 0l.8 .1l.8-.3l.8-.2l.8 .5l.8-0l.8-.2l.8 0l.8 .3l.8-.2l.8 0l.8 .3l.8-0l.8-.2l.8 .1l.8 .1l.8-.1l.8-.2l.8 .2l.8-.2l.8 .1l.8 0l.8-0l.8 .2l.8-.4l.8-0l.8 0l.8-0l.8 0l.8-0l.8 .2l.8-.1l.8 0l.8-.1l.8-0l.8 .2l.8-3.2l.8 .6l.8-.1l.8-.4l.8 .1l.8-.4l.8 .1l.8 .1l.8 0l.8 .3l.8-.1l.8-.1l.8 .1l.8 .1l.8 .1l.8-.2" fill="none" stroke="#000" stroke-width="1.0"/>
<path d="M302.3 257.0l.8 .3l.8-.1l.8-.1l.8-.1l.8-.1l.8 .3l.8-.1l.8 .2l.8-.2l.8 0l.8-.2l.8 .1l.8 0l.8 0l.8-.2l.8 .5l.8-.3l.8-0l.8 0l.8 .7l.8 .9l.8 .7l.8 .1l.8 .6l.8 .1l.8-.2l.8 .4l.8-.6l.8 .5l.8-.5l.8 .6l.8-.2l.8 .4l.8 0l.8 0l.8-.1l.8 .2l.8-.2l.8 .4l.8-.3l.8 .2l.8-.2l.8-0l.8 0l.8-.4l.8 .6l.8-.1l.8-0l.8-.1l.8-.2l.8 .2l.8 .2l.8-.3l.8-0l.8 .1l.8-.3l.8 0l.8 .4l.8 .2l.8-.3l.8-.3l.8 .1l.8-.2l.8 .4l.8 .1l.8-.1l.8 .1l.8-.2l.8 .1l.8-.3l.8 0l.8 .1l.8-.5l.8 .3l.8 .3l.8-.2l.8-.3l.8 .5l.8-.3l.8 .1l.8-0l.8 .1l.8-.2l.8-.1l.8 .4l.8-.4l.8 .2l.8-.1l.8-.1l.8-0l.8 .4l.8-.1l.8 .3l.8-.1l.8 .2l.8-.1l.8-.2l.8-0l.8 .2l.8 .1l.8 0l.8-.2l.8 .3l.8 0l.8-.1l.8-.1l.8-.1l.8 .1l.8-.1l.8-.1l.8-.1l.8 .3l.8 .1l.8-.1l.8 .1l.8-.3l.8 .3l.8-.1l.8 .1l.8-.2l.8 .6l.8-.4l.8 0l.8 .1l.8-.2l.8-3.5l.8-.1l.8 0l.8 .2l.8-.4l.8 .2l.8 0l.8 .1l.8-.1l.8 .3l.8-.4l.8 .3l.8-.3l.8 .2l.8 .2l.8-0" fill="none" stroke="#000" stroke-width="1.0"/>
<path d="M302.3 257.3l.8-.1l.8-.2l.8-0l.8-.2l.8 .1l.8 .1l.8 0l.8 .1l.8 .2l.8-.6l.8 .4l.8-.1l.8 .2l.8-.3l.8 .3l.8-.4l.8 .4l.8-.2l.8-.1l.8 .9l.8 1.7l.8 .7l.8 .6l.8 .4l.8 .5l.8-.3l.8 0l.8-.2l.8 .7l.8-.3l.8 .2l.8-.2l.8 .4l.8 .3l.8-.3l.8 .5l.8-.1l.8-.5l.8 .6l.8-.5l.8 .4l.8 0l.8 0l.8-.1l.8 .1l.8-.3l.8 .2l.8-.9l.8 .3l.8-.1l.8 .4l.8 0l.8 .3l.8 .1l.8 .2l.8-.5l.8-0l.8 .2l.8 .4l.8-.8l.8 .6l.8 .6l.8 .1l.8-.4l.8-.6l.8-0l.8 .2l.8-.6l.8-.1l.8-.4l.8 0l.8-.6l.8 .3l.8 .1l.8-.5l.8 .3l.8 .1l.8-.1l.8 .3l.8 1.1l.8 .1l.8 .7l.8-.1l.8-.1l.8-.6l.8 .6l.8-.4l.8-.3l.8-0l.8 .1l.8 .6l.8-.5l.8 .1l.8-.1l.8-.6l.8 .7l.8 .5l.8 .4l.8-.7l.8-.3l.8-.9l.8 .1l.8 .2l.8-.2l.8 .3l.8 .4l.8-.7l.8 .3l.8-.2l.8-.2l.8 .4l.8-.2l.8 .5l.8-.5l.8-.3l.8 1.5l.8 .1l.8 .6l.8 .3l.8-.3l.8 0l.8-0l.8-.6l.8 1.3l.8-.3l.8-6.8l.8-.1l.8-.3l.8 .2l.8 .2l.8 .2l.8-.4l.8-.1l.8 .2l.8 .1l.8-.2l.8 .2l.8-.2l.8 0l.8 .2l.8 .1" fill="none" stroke="#000" stroke-width="1.0"/>
<path d="M302.3 257.2l.8-.3l.8 .4l.8 0l.8-.3l.8-0l.8 .2l.8-.2l.8 .3l.8-.1l.8-.2l.8 .2l.8 .4l.8-.5l.8-0l.8 .1l.8-.3l.8 .5l.8-.4l.8 0l.8 1l.8 1.5l.8 1l.8 .5l.8 .3l.8 .1l.8 .1l.8 .3l.8-.2l.8-.2l.8-.2l.8 .7l.8-.4l.8-.1l.8 .2l.8 .7l.8 .8l.8 .2l.8 .6l.8 .3l.8-.3l.8-.2l.8 .1l.8-.5l.8-.2l.8-.1l.8 .2l.8-.3l.8-.6l.8 .1l.8-.5l.8-.3l.8 .4l.8 0l.8-.2l.8 .3l.8 .1l.8-.8l.8-.7l.8 .8l.8 .1l.8 .3l.8-.2l.8 .1l.8 .8l.8-.5l.8 .5l.8 .3l.8-0l.8 .3l.8-.4l.8-.5l.8-.1l.8-.2l.8 .1l.8-.2l.8-.2l.8-1l.8 .8l.8 .3l.8 1l.8 0l.8 .4l.8-.7l.8 .4l.8-.2l.8-0l.8-.6l.8 .3l.8 .4l.8-.5l.8 .1l.8 .3l.8 0l.8 .3l.8-1l.8 .7l.8 .6l.8-.1l.8 0l.8-.7l.8-.3l.8 .6l.8-.2l.8-.1l.8 .1l.8 .1l.8-.4l.8 .6l.8-.3l.8-.1l.8-.1l.8 0l.8 .3l.8 .1l.8 .6l.8-.3l.8 .1l.8 .3l.8-.7l.8 .8l.8 .6l.8-.1l.8-0l.8-.2l.8-.2l.8-6.7l.8-0l.8 .1l.8 .1l.8-.1l.8 .2l.8-.3l.8 .2l.8-.1l.8 .2l.8-.1l.8-.3l.8 .3l.8-.1l.8 0l.8-.1" fill="none" stroke="#000" stroke-width="1.0"/>
<path d="M302.3 256.8l.8 .2l.8 0l.8 .1l.8-.2l.8 .2l.8 .1l.8-.2l.8-0l.8 .2l.8-.3l.8 .4l.8-.4l.8 .1l.8 .6l.8-.5l.8-.2l.8 .2l.8 .1l.8-.3l.8 1.1l.8 1.7l.8 1l.8 .8l.8 .6l.8 .4l.8-.3l.8 .1l.8 .4l.8-.6l.8 .1l.8 .4l.8-.5l.8 .8l.8-.1l.8 .2l.8 .1l.8-.6l.8 .2l.8-.1l.8-1.1l.8 .6l.8 .1l.8 .3l.8 .5l.8-.5l.8-.1l.8-.7l.8 .9l.8 .6l.8-0l.8 .4l.8 .1l.8-.4l.8-.2l.8-.7l.8 .6l.8-.1l.8-.2l.8 .4l.8-.2l.8-.6l.8 1.1l.8-.1l.8-.7l.8-.1l.8 .4l.8 .5l.8 .1l.8-.8l.8 .6l.8 0l.8 .5l.8-.1l.8 .4l.8-.4l.8 1.2l.8 .1l.8-.6l.8 .2l.8 .2l.8-0l.8-.4l.8 0l.8-.8l.8 .5l.8-0l.8-.3l.8 .7l.8 .8l.8-.5l.8-.6l.8 .5l.8 .5l.8 .1l.8-.5l.8-0l.8 .1l.8 .9l.8-.2l.8-.1l.8-.1l.8 .4l.8 .2l.8 .1l.8 .2l.8-.3l.8-.2l.8-.7l.8 .2l.8 .5l.8-.9l.8 .2l.8 .8l.8-.2l.8-0l.8-.3l.8-.3l.8 .7l.8 .1l.8-.4l.8 1.2l.8 .6l.8 .1l.8-.3l.8-.2l.8-10l.8 .4l.8-.3l.8 0l.8-0l.8 .1l.8 .2l.8-.4l.8 .5l.8-.4l.8 .1l.8 .4l.8-.5l.8 0l.8 .1l.8 0" fill="none" stroke="#000" stroke-width="1.0"/>
<path d="M302.3 257.1l.8 .1l.8-.3l.8 .1l.8-.3l.8 .3l.8 .3l.8-.4l.8 .3l.8 0l.8-.1l.8 .1l.8-.1l.8 .1l.8-0l.8-.3l.8-0l.8 .6l.8-.4l.8-.1l.8 .1l.8 .3l.8-.4l.8 .1l.8-0l.8-.1l.8 .2l.8 0l.8-.2l.8-.1l.8 .3l.8-.2l.8 0l.8 .1l.8 .2l.8-.2l.8 .2l.8 0l.8-.1l.8 0l.8-.1l.8-.1l.8 .1l.8 .1l.8-.1l.8 .2l.8-.4l.8-.1l.8 .2l.8 .2l.8-.4l.8 .4l.8-.1l.8 .1l.8-.1l.8-0l.8 .2l.8-.3l.8 .1l.8 .1l.8 0l.8-.2l.8 .1l.8 .1l.8 .1l.8-.3l.8 .3l.8-.5l.8 .4l.8-.1l.8-.2l.8 .1l.8-.2l.8 .2l.8 .3l.8-.1l.8-0l.8-.1l.8 0l.8 .1l.8-0l.8-.3l.8 .2l.8 .3l.8-.3l.8 0l.8-.2l.8 .2l.8-.1l.8 .1l.8-0l.8-0l.8 0l.8-0l.8 .1l.8 0l.8-0l.8-.2l.8-0l.8-0l.8 0l.8-0l.8 .1l.8-.1l.8 .2l.8-.4l.8 .4l.8-.1l.8 .2l.8-.4l.8 .2l.8-.1l.8 .3l.8-.1l.8-.3l.8 .4l.8 0l.8-0l.8-.3l.8-0l.8 .2l.8-.1l.8 .1l.8-.4l.8-.1l.8 .3l.8 .1l.8-.1l.8 .1l.8-0l.8-.2l.8 .2l.8-.1l.8-.3l.8 .2l.8 .2l.8-0l.8 .3l.8-.2l.8-.2l.8 0l.8 0" fill="none" stroke="#000" stroke-width="1.5"/>
<line x1="318.00" y1="257.10" x2="318.00" y2="269.60" stroke="#000" stroke-width="1.2"/>
<line x1="402.80" y1="251.30" x2="402.80" y2="265.80" stroke="#000" stroke-width="1.1"/>
<rect x="436.6" y="258.0" width="84.4" height="2.8" fill="#000" fill-opacity="0.55"/>
<path d="M422.4 257.9l.8 .2l.8 0l.8 0l.8 0l.8 0l.8-.1l.8 .1l.8-.1l.8-.1l.8-0l.8 .1l.8 .2l.8-.3l.8-0l.8 .2l.8 .1l.8-.4l.8 .3l.8-.3l.8 .4l.8-.4l.8 .4l.8-.3l.8 .2l.8-0l.8-.2l.8 .1l.8 .1l.8-.3l.8-.3l.8 .2l.8-0l.8 0l.8-.3l.8 .3l.8 .2l.8-.3l.8 .3l.8 .1l.8 0l.8-.2l.8 .1l.8 .3l.8-.2l.8-0l.8 .1l.8 .1l.8-.2l.8 0l.8 .1l.8-0l.8 .2l.8-.1l.8-0l.8-.1l.8 0l.8-0l.8-.2l.8 .6l.8-.4l.8 .3l.8-.3l.8 .2l.8-.2l.8-.1l.8 .3l.8 .1l.8-.1l.8 .2l.8-.2l.8-.1l.8-.3l.8 .5l.8-.5l.8-0l.8 .2l.8-.3l.8 .2l.8 .1l.8 0l.8-.1l.8 .2l.8-.1l.8-.1l.8-.1l.8 .1l.8 .3l.8-.1l.8 .1l.8 .3l.8-.3l.8 .3l.8 .1l.8-.5l.8 0l.8-.1l.8-0l.8 .3l.8-.4l.8 .1l.8 .1l.8-.3l.8 .9l.8-.1l.8-.4l.8-.4l.8 .2l.8-.1l.8-.4l.8 .1l.8-.2l.8 .4l.8 .1l.8-0l.8-.2l.8-.4l.8 0l.8 .5l.8-.3l.8 .2l.8 .1l.8 .3l.8-.4l.8 .2l.8-0l.8 .1l.8-.2l.8 .4l.8-.3l.8 .2l.8-.2l.8 0l.8-.2l.8-.1l.8 .2l.8 .1l.8 .2l.8-.3" fill="none" stroke="#000" stroke-width="1.0"/>
<path d="M422.4 257.9l.8 .1l.8 .1l.8 0l.8-.3l.8-.2l.8 .4l.8-.2l.8 .6l.8-.3l.8 .1l.8-0l.8 .1l.8-.4l.8 .3l.8 .1l.8-.4l.8 .3l.8-.1l.8 .2l.8 0l.8 .2l.8 .1l.8-.2l.8 .3l.8-.1l.8 .1l.8 0l.8-0l.8-.2l.8 .3l.8 .2l.8-.3l.8-.2l.8-.2l.8 .2l.8 .1l.8-.1l.8-.3l.8 .2l.8-0l.8-.1l.8 .1l.8-.2l.8-.1l.8 .4l.8 .1l.8-.1l.8 0l.8 .1l.8-.2l.8 .1l.8 .1l.8 0l.8-.1l.8-.2l.8 .1l.8 0l.8-0l.8-.2l.8-0l.8-.1l.8 .4l.8-.1l.8-.1l.8-0l.8 0l.8 0l.8 .1l.8 0l.8-.1l.8-0l.8-.4l.8 0l.8 .4l.8 .3l.8-.1l.8 .2l.8-.1l.8 .1l.8-.3l.8 .2l.8 .1l.8 .2l.8-.1l.8-.2l.8 .1l.8-.2l.8-0l.8-0l.8-.2l.8 .1l.8-0l.8-0l.8 .1l.8-.1l.8 .2l.8-.1l.8-.4l.8-.1l.8 .3l.8 .2l.8-.1l.8 0l.8-.4l.8 .2l.8 .1l.8 0l.8-.1l.8 .4l.8 0l.8 .3l.8 .2l.8-.4l.8 .3l.8-.1l.8-.1l.8-.1l.8 .3l.8-.4l.8 .5l.8-.1l.8-.3l.8 .2l.8-1.1l.8 .2l.8 .1l.8-0l.8-.2l.8-.1l.8 .6l.8-.4l.8 0l.8 0l.8-.1l.8-0l.8 .1l.8-.2l.8 .1" fill="none" stroke="#000" stroke-width="1.0"/>
<path d="M422.4 258.0l.8-.2l.8 .3l.8-.1l.8 .1l.8 .1l.8-.2l.8-.1l.8 .2l.8 0l.8-.5l.8 .4l.8 .1l.8-.1l.8 .3l.8-.6l.8 .2l.8 .1l.8 .1l.8 .6l.8-.1l.8 .4l.8 .2l.8-.2l.8-0l.8 .1l.8-.1l.8-.2l.8 .3l.8-.1l.8 .2l.8-.1l.8 0l.8-.3l.8 .2l.8 .2l.8-.3l.8-.3l.8 .5l.8-.3l.8 .1l.8 .1l.8-.3l.8 0l.8-0l.8 .2l.8-.3l.8-.1l.8 .4l.8 .1l.8-.2l.8 .1l.8 .3l.8-.2l.8 .1l.8 .5l.8-.1l.8-.1l.8 0l.8-.3l.8 .2l.8-.6l.8 .3l.8 .3l.8-.2l.8-.1l.8 .4l.8-.4l.8 .1l.8 .1l.8-.4l.8 .2l.8 .3l.8-.1l.8-.1l.8 .5l.8-.6l.8 .2l.8-.1l.8 .3l.8-.5l.8 0l.8 .4l.8-0l.8 .2l.8-.2l.8 .1l.8 0l.8 .2l.8-.1l.8-.1l.8-.2l.8-0l.8 .2l.8-.6l.8 .3l.8 .2l.8-.1l.8-.2l.8 .3l.8-.1l.8 .3l.8 .1l.8-.2l.8 .1l.8-.3l.8-.1l.8 .2l.8-.2l.8 .1l.8 0l.8 0l.8 0l.8 .3l.8-.2l.8-.2l.8 .1l.8 .1l.8 .1l.8 .1l.8-.2l.8 .2l.8-.2l.8 .2l.8-1.6l.8 0l.8 .1l.8-.4l.8 .6l.8-.3l.8 0l.8 .1l.8-.1l.8 .1l.8-.2l.8 .3l.8-.5l.8 .6l.8-.4" fill="none" stroke="#000" stroke-width="1.0"/>
<path d="M422.4 257.9l.8 .1l.8-0l.8-0l.8 0l.8 .1l.8-.1l.8-0l.8-.1l.8 .1l.8-.2l.8 .2l.8 .1l.8-.3l.8 .4l.8-.4l.8 .2l.8-.1l.8 .3l.8 .6l.8 .2l.8 .4l.8-0l.8-.1l.8 .2l.8-.3l.8 .3l.8-.2l.8-.1l.8 .1l.8 0l.8 .1l.8 .1l.8-.2l.8-.1l.8 .2l.8 .5l.8 .1l.8-.5l.8-.1l.8 0l.8 .2l.8-.2l.8 .2l.8-.1l.8-.1l.8-.1l.8 .3l.8-.1l.8 .1l.8 .4l.8-.1l.8-0l.8-.3l.8-0l.8 .5l.8-.6l.8 .3l.8-0l.8-.1l.8-.1l.8 .1l.8 .1l.8 .1l.8 .1l.8-.1l.8-.3l.8 .2l.8-.1l.8-0l.8-.2l.8 .2l.8 .1l.8-.1l.8 .4l.8 0l.8 0l.8-.2l.8 .2l.8-.2l.8 .1l.8-.1l.8-.4l.8 0l.8 .1l.8 .4l.8-.1l.8 .5l.8-.6l.8 .1l.8 0l.8-.1l.8-.1l.8 .1l.8-.2l.8 .1l.8 .1l.8 0l.8-.4l.8 .5l.8-.2l.8 .2l.8 .1l.8 .3l.8-.3l.8-.2l.8 .1l.8 .1l.8-.3l.8 0l.8-.3l.8 .5l.8-.4l.8 .3l.8 .2l.8-.1l.8 .2l.8 .2l.8-.6l.8 0l.8-.2l.8 .3l.8-.1l.8-0l.8-1.4l.8-.5l.8 .3l.8-.1l.8-.3l.8 .4l.8-.1l.8-0l.8-.2l.8 .3l.8-0l.8-.1l.8 0l.8 0l.8-.2" fill="none" stroke="#000" stroke-width="1.0"/>
<path d="M422.4 258.1l.8-0l.8-.2l.8-0l.8-.1l.8 0l.8 .3l.8-.3l.8 .2l.8 .2l.8-.2l.8-.1l.8 .2l.8-.1l.8-0l.8-.2l.8 .1l.8 .4l.8 .2l.8 .4l.8 .7l.8 .1l.8-.1l.8 .2l.8 .1l.8-0l.8 0l.8 0l.8 .1l.8 .1l.8 .3l.8-.6l.8 .4l.8-0l.8 .1l.8-.2l.8 .1l.8-.2l.8 .2l.8-.2l.8 .3l.8-.3l.8-.1l.8-0l.8-.1l.8 .4l.8 .2l.8 .1l.8-.3l.8 .2l.8-0l.8-.1l.8 .1l.8 .2l.8-.3l.8 .1l.8-.2l.8 .1l.8 .3l.8-.1l.8 0l.8-.3l.8-0l.8 .1l.8 0l.8 0l.8-.1l.8-.2l.8 .2l.8 0l.8 .3l.8-.1l.8-.1l.8-.2l.8 .2l.8 .1l.8 .1l.8 0l.8 .2l.8 0l.8-.2l.8 .4l.8-.1l.8-.1l.8-.3l.8-.2l.8-.1l.8 .3l.8-.3l.8 .4l.8-.1l.8 .2l.8-.1l.8-0l.8 .2l.8-.1l.8-.2l.8 .2l.8-.3l.8 .3l.8 0l.8 0l.8 .1l.8-.2l.8-.3l.8 .4l.8-.3l.8 .1l.8-.5l.8 0l.8 .2l.8 .1l.8 .1l.8 .4l.8-0l.8 0l.8-.3l.8 0l.8 .3l.8-.3l.8 .1l.8 .1l.8 .2l.8-.5l.8-2.4l.8-.2l.8 .3l.8-.1l.8 .1l.8 0l.8-.2l.8 .2l.8-.1l.8 .2l.8 0l.8 0l.8-.1l.8 .1l.8-.1" fill="none" stroke="#000" stroke-width="1.0"/>
<path d="M422.4 258.0l.8 0l.8 .1l.8 0l.8-.2l.8 0l.8 .2l.8-.1l.8-.1l.8 .1l.8-.1l.8 .1l.8 .1l.8 0l.8 .1l.8-.2l.8 .1l.8 .2l.8 0l.8 1l.8 .5l.8 .3l.8 0l.8 .4l.8-.2l.8 .1l.8 .2l.8-.3l.8 0l.8 .1l.8 .2l.8-.2l.8 .3l.8-.2l.8 .1l.8 0l.8-.1l.8 .1l.8 .1l.8 0l.8 0l.8 0l.8-0l.8 .2l.8-.3l.8 .3l.8-.1l.8 .4l.8 0l.8-.3l.8-.2l.8 .2l.8 .3l.8-.1l.8 .2l.8 0l.8-.1l.8-.1l.8-.2l.8 .1l.8 .2l.8-.2l.8 .2l.8-.1l.8-.6l.8 .5l.8-.2l.8 .2l.8-.1l.8 .2l.8-.5l.8 .4l.8 .2l.8-.2l.8-.2l.8-.1l.8 .1l.8-0l.8 .1l.8-.3l.8 .1l.8-.2l.8 .4l.8 .2l.8-0l.8-.1l.8-.2l.8 .1l.8 .2l.8-.6l.8 .1l.8-.1l.8 .3l.8-0l.8 .2l.8-.3l.8 .2l.8-.2l.8-.2l.8 .5l.8-.2l.8 .3l.8-.6l.8 .6l.8 0l.8-.2l.8 .1l.8 .1l.8-.1l.8 .1l.8 .1l.8-.2l.8 .1l.8 .1l.8 0l.8-.2l.8 .2l.8 0l.8 .3l.8-.4l.8 .2l.8 .2l.8 .1l.8-0l.8-3.8l.8 .4l.8-.4l.8 .2l.8 .1l.8-.1l.8-0l.8-0l.8-.1l.8-.2l.8 .2l.8 0l.8 .2l.8 .2l.8-.3" fill="none" stroke="#000" stroke-width="1.0"/>
<path d="M422.4 258.2l.8-.2l.8-.3l.8 .3l.8-.1l.8 0l.8 .4l.8-.3l.8 0l.8-0l.8-.1l.8 .2l.8-.2l.8 .2l.8 .1l.8-.3l.8 .1l.8 .1l.8 .3l.8 1.4l.8 .9l.8-.1l.8 .7l.8-.1l.8-0l.8-.2l.8-0l.8-.2l.8-.2l.8 .4l.8 .4l.8 .8l.8 .5l.8-.3l.8 .5l.8-.5l.8 .6l.8-.5l.8 0l.8 .1l.8-0l.8-.1l.8-.4l.8 .6l.8-.2l.8-.1l.8 .5l.8-.6l.8-.9l.8 .4l.8-.2l.8 .3l.8 .8l.8-.5l.8 .2l.8 .3l.8-.3l.8 .8l.8-.2l.8-.2l.8 .7l.8-.8l.8-.4l.8-.6l.8 .2l.8-.1l.8 .4l.8 .1l.8 .4l.8-.4l.8 1.1l.8-.2l.8-.6l.8 .2l.8 .2l.8-.5l.8 .2l.8 .4l.8 .2l.8-.2l.8 .1l.8 .1l.8 .1l.8-0l.8-.1l.8-.7l.8 1l.8-0l.8 .5l.8-.3l.8 .4l.8 .3l.8-.9l.8-.8l.8-.8l.8-.2l.8 .8l.8 .1l.8-.2l.8 0l.8-.1l.8 .1l.8-0l.8-.5l.8 .5l.8 .2l.8-.1l.8 .3l.8-.5l.8 .3l.8-.6l.8 .4l.8 1.1l.8-.1l.8 .1l.8 .4l.8-.3l.8-.4l.8 .6l.8-0l.8-.8l.8 .7l.8 .2l.8-.5l.8-5.4l.8-.1l.8-.2l.8 .4l.8-.2l.8 .1l.8-0l.8-.1l.8 .2l.8-0l.8-.3l.8 .3l.8-.3l.8-.2l.8 .3" fill="none" stroke="#000" stroke-width="1.0"/>
<path d="M422.4 257.9l.8 .2l.8-.3l.8 .3l.8-.2l.8-0l.8 .4l.8-.4l.8 .3l.8-.1l.8-.2l.8 .2l.8 .1l.8 0l.8-.2l.8-.2l.8 .1l.8 .2l.8 .1l.8 1.6l.8 1l.8 .3l.8 .3l.8 .1l.8 .4l.8 .4l.8 .3l.8-.3l.8 .1l.8-.2l.8 .7l.8 .5l.8-.7l.8-.1l.8-.5l.8 .4l.8-.6l.8 .4l.8-.5l.8-.2l.8 .1l.8-.3l.8 .1l.8 .6l.8 .2l.8 .2l.8 .2l.8-.6l.8 .7l.8 .2l.8 .2l.8 .5l.8-.2l.8-1.1l.8 .8l.8 .1l.8-.1l.8-.5l.8 0l.8-.5l.8 1l.8-.9l.8 .3l.8-.1l.8-.1l.8-.3l.8 1.3l.8 .5l.8-.3l.8-.1l.8-.6l.8-.4l.8-.9l.8 1.1l.8 .1l.8 .1l.8 .8l.8-.6l.8 0l.8 1.2l.8 .1l.8-.5l.8-.1l.8-0l.8 .5l.8-.4l.8 .1l.8 .5l.8-.3l.8 .3l.8-.1l.8 .3l.8-.4l.8-0l.8 .6l.8-.1l.8-0l.8-.7l.8 1.6l.8-1l.8-.3l.8 .2l.8 .1l.8-.1l.8-.2l.8-.5l.8-.3l.8 .4l.8 .8l.8-.2l.8 .2l.8-.4l.8 .3l.8-.4l.8 .4l.8 .1l.8-.6l.8 .6l.8-.5l.8 .3l.8 .9l.8-.4l.8-.2l.8 .2l.8-7.2l.8-.1l.8-.1l.8 .4l.8-0l.8-.1l.8 .1l.8-.2l.8 0l.8-0l.8 .2l.8-.1l.8-.1l.8-.1l.8 .3" fill="none" stroke="#000" stroke-width="1.0"/>
<path d="M422.4 258.1l.8-.4l.8 .3l.8 0l.8-0l.8-.2l.8 .3l.8 .1l.8-.4l.8 .1l.8 .2l.8-.1l.8 0l.8 .1l.8 0l.8-.1l.8-.5l.8 .5l.8 .7l.8 1.2l.8 .9l.8 .5l.8 .2l.8 .3l.8 0l.8 .3l.8-.4l.8 .7l.8-.2l.8-.2l.8-.6l.8 .5l.8 .3l.8 .1l.8 0l.8 1.2l.8-.4l.8 .2l.8-.1l.8 .3l.8-.4l.8 .2l.8-.4l.8-.6l.8 .5l.8-.3l.8-.6l.8 .5l.8-.3l.8 .3l.8 .8l.8-.4l.8-.2l.8-.4l.8 .7l.8-.5l.8 1l.8 .8l.8 0l.8 .5l.8-.6l.8-.2l.8 .1l.8 .2l.8 .3l.8 .7l.8-.5l.8 .1l.8-.5l.8-1.1l.8-.2l.8-.5l.8 1l.8 .1l.8 .4l.8-.5l.8 .6l.8 .4l.8 .5l.8-.4l.8 1.1l.8-.4l.8 .2l.8-.3l.8 .6l.8 0l.8-.6l.8 .2l.8 .2l.8-.8l.8-.1l.8 .3l.8 .4l.8 .5l.8 .2l.8 .3l.8-.5l.8-.4l.8-.5l.8-0l.8 .7l.8-.5l.8-.2l.8-.2l.8 .3l.8 .1l.8 0l.8 0l.8 .6l.8-.1l.8 .4l.8 1l.8-.4l.8-.7l.8 .2l.8 .4l.8-.1l.8-.4l.8-0l.8 .4l.8-.5l.8 .2l.8-.1l.8 .1l.8-7.9l.8-.2l.8-.3l.8 .2l.8 .2l.8-.1l.8-.2l.8 .3l.8-0l.8-.4l.8 .4l.8-.2l.8 .1l.8-.1l.8 .1" fill="none" stroke="#000" stroke-width="1.0"/>
<path d="M422.4 258.2l.8-.2l.8 0l.8-.1l.8 .3l.8-0l.8 .1l.8-.5l.8 .2l.8 .1l.8-0l.8 .1l.8-.1l.8 .1l.8-.2l.8-.1l.8 0l.8 .1l.8 .8l.8 1.1l.8 .9l.8 .7l.8 .4l.8 .1l.8 .3l.8 .7l.8-.4l.8 .4l.8 .2l.8-.3l.8-.2l.8 .2l.8 .5l.8 .4l.8-.4l.8 .1l.8-.4l.8-1l.8 .1l.8 .3l.8 .3l.8 .5l.8 .3l.8-.5l.8 .7l.8-.2l.8-.3l.8 0l.8 1.2l.8-.6l.8-0l.8-.2l.8-.1l.8 .4l.8-.8l.8 .2l.8-.2l.8-.5l.8 .5l.8 .8l.8-.9l.8-0l.8 .8l.8 1.4l.8-.3l.8-.3l.8 .5l.8-.1l.8-.9l.8-.9l.8 .4l.8 .5l.8 .3l.8-.3l.8-.2l.8 .5l.8 .3l.8 .7l.8-.4l.8-1.2l.8 .6l.8-.4l.8 .8l.8-1.1l.8 .2l.8-.2l.8-.7l.8 .3l.8 .3l.8-.5l.8 1l.8-.5l.8 .6l.8-.4l.8 .2l.8 .7l.8 .1l.8-.5l.8 .9l.8 .7l.8-1l.8 .6l.8-.6l.8 .8l.8 .7l.8 .5l.8 .3l.8 .4l.8-.6l.8-.1l.8 .8l.8-.2l.8 .2l.8-.3l.8-.2l.8-.3l.8-.1l.8-1l.8 .2l.8 1.1l.8-.1l.8 .4l.8-.4l.8 .7l.8-9.8l.8-.1l.8-0l.8 .1l.8 0l.8-.1l.8 .3l.8-.2l.8-.1l.8 .2l.8-0l.8-.1l.8 0l.8-.1l.8-.1" fill="none" stroke="#000" stroke-width="1.0"/>
<path d="M422.4 257.9l.8-.1l.8 .2l.8 .1l.8-.1l.8 .3l.8-.4l.8 0l.8-.2l.8 .2l.8 .1l.8-.1l.8 .1l.8 .1l.8-.1l.8-.1l.8 .4l.8-.3l.8-.3l.8 .2l.8 0l.8 .2l.8 .1l.8-.4l.8 .3l.8-0l.8-.2l.8 .2l.8 0l.8-0l.8-.3l.8 .2l.8 .2l.8-.3l.8 .3l.8-0l.8-.3l.8 .1l.8-.1l.8 .3l.8-.5l.8-0l.8 .4l.8-0l.8-.2l.8 .2l.8 0l.8-.2l.8 0l.8-.1l.8 .2l.8-0l.8 0l.8 .1l.8-.1l.8-.1l.8 .3l.8-.1l.8-.1l.8 .1l.8-.3l.8 0l.8 .1l.8 .3l.8 .1l.8-.3l.8-.3l.8 .6l.8-.4l.8 .1l.8-.2l.8 .1l.8-.1l.8-.1l.8 .6l.8-.4l.8-.1l.8 .4l.8 0l.8-.4l.8 .3l.8-.1l.8 .3l.8-.4l.8 0l.8 0l.8-0l.8 .4l.8-.3l.8 .1l.8-.2l.8 .2l.8-0l.8 0l.8-.1l.8-.3l.8 .5l.8-.4l.8 .1l.8 .3l.8-.4l.8 .3l.8-0l.8-.2l.8 0l.8 0l.8 .1l.8 .2l.8-.5l.8 .1l.8 .4l.8 0l.8 .1l.8-.5l.8 .2l.8-.1l.8-.1l.8 .2l.8-.1l.8 .3l.8 0l.8-.2l.8-0l.8 .2l.8-0l.8-.1l.8-.3l.8 .2l.8-.1l.8-.1l.8 0l.8 .1l.8-.2l.8 .5l.8-.2l.8-.2l.8 .7l.8-.8l.8 .3" fill="none" stroke="#000" stroke-width="1.5"/>
<line x1="436.60" y1="258.00" x2="436.60" y2="263.50" stroke="#000" stroke-width="1.2"/>
<line x1="521.00" y1="254.00" x2="521.00" y2="267.00" stroke="#000" stroke-width="1.1"/>
<rect x="318.4" y="302.0" width="84.4" height="3.0" fill="#000" fill-opacity="0.55"/>
<path d="M302.8 302.3l.8-.4l.8 0l.8 .3l.8-.3l.8 .1l.8-.4l.8 .2l.8 .3l.8-.4l.8 .3l.8 .2l.8-.3l.8 .1l.8 .2l.8-.3l.8 .1l.8 0l.8-0l.8 0l.8-.1l.8 .1l.8-0l.8 0l.8 .1l.8 .2l.8-.4l.8 .1l.8-.2l.8 .1l.8 .4l.8-.2l.8-.3l.8 .2l.8-0l.8 .2l.8-.3l.8 0l.8-.3l.8 .1l.8 .3l.8-0l.8 .3l.8 .2l.8-.6l.8-.5l.8 .3l.8 .1l.8-.2l.8 .3l.8 .2l.8-.1l.8 .2l.8-.1l.8-.4l.8 0l.8 .1l.8-.1l.8-.2l.8 .4l.8-.4l.8 .2l.8-.6l.8 .3l.8 .1l.8 .1l.8-.1l.8-.2l.8 .1l.8 .2l.8 .1l.8 0l.8 .1l.8-.3l.8 .3l.8 .2l.8-.2l.8 .3l.8-.1l.8 .1l.8 .2l.8-.4l.8 .4l.8-.3l.8 .4l.8-.4l.8 .1l.8-.3l.8 .2l.8-.1l.8-.1l.8 .3l.8-.3l.8 .1l.8 0l.8-.2l.8 .4l.8-.1l.8 .4l.8-.1l.8-.4l.8 .2l.8 .1l.8-.1l.8-.1l.8 .2l.8-.3l.8-.1l.8 .1l.8 .2l.8 .2l.8-.6l.8-0l.8 .5l.8 .5l.8-.5l.8-.1l.8-.2l.8 .2l.8-.1l.8-0l.8 0l.8-.2l.8 .4l.8-.1l.8-.2l.8-0l.8 0l.8 .4l.8-.2l.8-.4l.8 .4l.8-.1l.8 0l.8 .2l.8-.1l.8-.2l.8 0l.8 .1l.8-.1l.8-0l.8 .3" fill="none" stroke="#000" stroke-width="1.0"/>
<path d="M302.8 302.1l.8-.2l.8 .1l.8 .1l.8-.4l.8 .5l.8-.2l.8 0l.8-0l.8 .1l.8-.4l.8 .3l.8 .1l.8-0l.8-0l.8-.2l.8 .2l.8 .1l.8-.3l.8 .3l.8-0l.8 .3l.8-0l.8 .2l.8-.2l.8-0l.8 .1l.8-.1l.8 .1l.8-.1l.8-.2l.8-0l.8 .6l.8-.4l.8-0l.8 .1l.8-.3l.8 .1l.8 .1l.8 0l.8 .2l.8-.2l.8-0l.8-0l.8-.1l.8 .3l.8-.8l.8 .5l.8-.2l.8-.2l.8-0l.8-.1l.8 .3l.8-.1l.8 .2l.8-.3l.8 .3l.8 .1l.8 .1l.8-0l.8-.2l.8-0l.8 .1l.8 .2l.8-0l.8-.1l.8 .2l.8-.2l.8-.1l.8-.1l.8 .3l.8 0l.8 .1l.8-.6l.8 .5l.8-.3l.8 .2l.8-.1l.8-.2l.8 .2l.8 0l.8 .1l.8-.1l.8 0l.8 .4l.8-.6l.8 0l.8 .2l.8 .6l.8-.3l.8 .1l.8 .1l.8-.7l.8 .1l.8 .1l.8 .5l.8-0l.8-.1l.8-.2l.8-.3l.8 .3l.8-.1l.8 .7l.8-.4l.8-.2l.8-.1l.8 .1l.8-.2l.8 .4l.8-.2l.8 .1l.8-.1l.8-.2l.8 .2l.8 .2l.8-.3l.8 .2l.8-.3l.8 .1l.8 .3l.8-0l.8-0l.8 .1l.8 .1l.8-.1l.8-1l.8-0l.8-.1l.8 .2l.8 .1l.8 .1l.8-.1l.8 0l.8-.1l.8-0l.8-0l.8-.2l.8 .5l.8-.4l.8 .2l.8-.1l.8-.2" fill="none" stroke="#000" stroke-width="1.0"/>
<path d="M302.8 302.0l.8 .2l.8-0l.8 .2l.8-.3l.8-.1l.8 .1l.8-.3l.8-0l.8 .1l.8 0l.8 .1l.8 .1l.8-.1l.8-.1l.8 0l.8-.2l.8 .4l.8-.3l.8-.1l.8 .6l.8 .6l.8 .1l.8 .1l.8-.3l.8 .2l.8-.3l.8 .1l.8 .5l.8-.1l.8 .2l.8-0l.8-.3l.8-.2l.8 .6l.8-.5l.8 .2l.8 .1l.8-.5l.8 .3l.8-.3l.8 .2l.8-.1l.8 .5l.8-.4l.8-0l.8-.1l.8 .4l.8-.1l.8-.3l.8-.2l.8 0l.8 0l.8 .4l.8 .1l.8 .2l.8 .1l.8-.3l.8 .4l.8-.2l.8 .2l.8-.3l.8 .1l.8-.3l.8 .1l.8 .3l.8-.2l.8-.2l.8 .1l.8 0l.8 0l.8 .2l.8 0l.8-.6l.8 .2l.8 .1l.8 .2l.8 .3l.8-.4l.8 .1l.8-.1l.8 .1l.8 .3l.8-.2l.8 .2l.8-.3l.8-.1l.8-0l.8-.1l.8 .3l.8 0l.8 .2l.8-.3l.8-.4l.8 .4l.8-.2l.8 .4l.8-.1l.8-0l.8-.1l.8 .1l.8-.5l.8-0l.8 .2l.8-.2l.8 .2l.8 .2l.8 .1l.8 .2l.8-.2l.8-.1l.8-0l.8 0l.8 .2l.8-.1l.8 0l.8-0l.8 .1l.8-.1l.8-.2l.8 .7l.8-.5l.8 .1l.8 .3l.8-0l.8-1.9l.8 .2l.8-.1l.8 .1l.8 .1l.8-.3l.8-.1l.8 .2l.8-.2l.8 .3l.8 0l.8-.1l.8 .1l.8-0l.8 .1l.8-.1l.8-.2" fill="none" stroke="#000" stroke-width="1.0"/>
<path d="M302.8 302.2l.8-0l.8-.1l.8-0l.8-0l.8 .1l.8-.3l.8 .2l.8-.2l.8 .1l.8 .3l.8-.1l.8-.2l.8 .1l.8-0l.8-.1l.8-0l.8-.1l.8 .2l.8 0l.8 .2l.8 .8l.8-.1l.8 .2l.8 .2l.8 .2l.8-.1l.8-.1l.8 .3l.8-.2l.8-.2l.8 .1l.8 .2l.8 .1l.8 .3l.8-.2l.8 .1l.8-0l.8-.2l.8 .4l.8-.1l.8 .2l.8-.3l.8 .6l.8-.4l.8 0l.8-.3l.8 .2l.8 .4l.8-.6l.8 .3l.8-0l.8 .1l.8-0l.8-.3l.8 .4l.8 .2l.8 .1l.8-.7l.8 .4l.8-0l.8-.3l.8 0l.8-.1l.8-0l.8-.3l.8 .2l.8-0l.8-.1l.8-.1l.8 .3l.8-.2l.8 0l.8 .1l.8-0l.8 .1l.8-.3l.8 .2l.8-0l.8-.1l.8 .3l.8 0l.8-.1l.8 .1l.8 .3l.8-.3l.8-.1l.8 .2l.8-.2l.8 0l.8 0l.8 .1l.8-.1l.8 .5l.8-.2l.8-.3l.8 .2l.8 0l.8 .1l.8-.3l.8-.2l.8 .2l.8 .2l.8-.2l.8 .2l.8-.4l.8 .2l.8 .1l.8 0l.8-.3l.8-.1l.8 .5l.8-.1l.8-.2l.8-.1l.8 .1l.8 .2l.8 .2l.8-0l.8-.5l.8 .2l.8-.3l.8 .3l.8-.1l.8 .2l.8-2.1l.8-0l.8 .1l.8 .2l.8-.1l.8-.1l.8-.3l.8 .1l.8 .3l.8-.2l.8 .1l.8 0l.8 .1l.8 .1l.8-.4l.8 .3l.8-.1" fill="none" stroke="#000" stroke-width="1.0"/>
<path d="M302.8 301.9l.8-.1l.8 .3l.8-.3l.8 .1l.8 0l.8 .4l.8-.5l.8 .4l.8-.1l.8-.2l.8 .1l.8 .1l.8-.3l.8 .1l.8-.1l.8 .2l.8 0l.8 .2l.8-.2l.8 .2l.8 .9l.8 .3l.8 .3l.8 .1l.8 .4l.8-.3l.8-.2l.8 .3l.8 .1l.8-.2l.8 .2l.8 .1l.8-.1l.8-.2l.8 .3l.8 .2l.8 .3l.8-.6l.8 .2l.8 .1l.8-.2l.8 0l.8 0l.8-0l.8 .3l.8-.2l.8-0l.8-.4l.8 0l.8 .4l.8-.3l.8-.3l.8 .1l.8 .6l.8-.3l.8 .1l.8-0l.8-.3l.8 .4l.8-.2l.8-0l.8-0l.8 .3l.8-0l.8-.1l.8 .1l.8-0l.8-.2l.8 0l.8 .2l.8 .1l.8-.1l.8 .2l.8-.2l.8-.5l.8 .2l.8 .1l.8 .1l.8 .1l.8 0l.8-.1l.8 .1l.8-.1l.8-.2l.8 .4l.8-.1l.8 .1l.8 .1l.8 .1l.8 .1l.8-.2l.8 0l.8-.3l.8 .6l.8-.2l.8 .1l.8-.1l.8-0l.8-.1l.8 .1l.8-0l.8-0l.8-.2l.8 .2l.8-.1l.8 .6l.8-.3l.8-.2l.8-.3l.8 .1l.8 .2l.8-.1l.8 .1l.8-0l.8-.2l.8 .1l.8-.1l.8 .1l.8 .1l.8 .1l.8-.1l.8-.1l.8 .3l.8-.1l.8-2.7l.8-.1l.8-.1l.8-.1l.8 .3l.8-.1l.8-.2l.8 .4l.8-.2l.8 .1l.8 0l.8 0l.8-.2l.8 0l.8 .4l.8-.2l.8 .2" fill="none" stroke="#000" stroke-width="1.0"/>
<path d="M302.8 302.2l.8-.1l.8-.1l.8-.3l.8 .3l.8-0l.8-.2l.8 .4l.8-.2l.8-0l.8-0l.8 0l.8-.2l.8 .2l.8-.1l.8 .1l.8-.1l.8-0l.8 .2l.8-0l.8 .7l.8 .5l.8 1l.8-.2l.8 .2l.8 .4l.8-.2l.8 0l.8 .1l.8 .2l.8 .2l.8-0l.8-0l.8 .1l.8-.3l.8 .2l.8 .3l.8-.1l.8-.4l.8-.1l.8 .4l.8-0l.8 .1l.8-.4l.8 .3l.8-.1l.8-.4l.8 .2l.8 0l.8-.2l.8 .2l.8 .1l.8-.1l.8-0l.8-.4l.8 .2l.8 .1l.8 .5l.8-.5l.8 .6l.8-.3l.8 0l.8 0l.8 .1l.8-.2l.8 .2l.8-.2l.8 .3l.8-.1l.8 .2l.8 .2l.8-.2l.8 0l.8-.3l.8 .1l.8 .5l.8-.5l.8 .2l.8-.2l.8-.1l.8 .2l.8-.1l.8-.1l.8 .2l.8-.2l.8-.1l.8 .1l.8-.2l.8 .1l.8 .1l.8-.2l.8-.1l.8 .2l.8 .2l.8 .4l.8-.2l.8 0l.8-0l.8-.3l.8 .1l.8 0l.8 .1l.8-.2l.8-0l.8-.1l.8-.1l.8 .3l.8 0l.8-0l.8 .1l.8-.1l.8 .1l.8 .4l.8-.2l.8 0l.8 .2l.8-.2l.8-.2l.8 .1l.8 .1l.8 .3l.8-.1l.8-.2l.8-0l.8 .1l.8-3.6l.8 0l.8 .1l.8-.1l.8 .2l.8-0l.8 .1l.8-.2l.8 .1l.8-.1l.8 .2l.8-.2l.8-0l.8 0l.8 .1l.8-.2l.8 .2" fill="none" stroke="#000" stroke-width="1.0"/>
<path d="M302.8 302.0l.8 .1l.8 .2l.8-.5l.8 .2l.8 .3l.8-.4l.8-.1l.8 .2l.8-.3l.8 0l.8 .3l.8 .2l.8-.3l.8 .1l.8 0l.8-.1l.8-.1l.8 .1l.8 .1l.8 .8l.8 1.3l.8 .8l.8 .5l.8 .2l.8 .4l.8 .2l.8 .1l.8-.1l.8-.1l.8-.1l.8 .3l.8 .1l.8-.1l.8-.1l.8 .2l.8 .4l.8-.4l.8-.2l.8-.6l.8 .4l.8 .1l.8-.2l.8-.2l.8 .1l.8 .2l.8 0l.8 .5l.8 .3l.8-.1l.8-.5l.8-.8l.8 .5l.8 .3l.8 .2l.8-.7l.8 .1l.8-.6l.8 .5l.8 .2l.8-.1l.8 .7l.8 .2l.8-.3l.8-.1l.8 .4l.8-.1l.8 .3l.8-.4l.8 .6l.8 .4l.8 .7l.8 .2l.8-.2l.8 .1l.8-.5l.8 .5l.8-.8l.8 .5l.8-.4l.8-.2l.8-.1l.8 .1l.8-1.1l.8 .2l.8-.1l.8 .3l.8 .7l.8-.5l.8-.5l.8 .1l.8-.3l.8-.5l.8 .4l.8 0l.8 1l.8 .5l.8-.8l.8 .4l.8-.3l.8 .5l.8-.3l.8 .2l.8-.1l.8 .5l.8-.7l.8 .1l.8-.2l.8-.6l.8-.2l.8-.8l.8 .1l.8 .4l.8 1l.8 .1l.8 .1l.8-.1l.8 .2l.8 .9l.8 .3l.8 .5l.8-.3l.8 .1l.8 .1l.8-.6l.8-6.1l.8 .2l.8-.3l.8-0l.8 .1l.8-.1l.8 .1l.8-.2l.8 .7l.8-.3l.8-.2l.8-.1l.8 .1l.8 .2l.8-.3l.8-.1l.8 .1" fill="none" stroke="#000" stroke-width="1.0"/>
<path d="M302.8 302.0l.8-.1l.8 0l.8 .1l.8-.1l.8 .1l.8-0l.8 .1l.8-.1l.8-.1l.8-0l.8 .2l.8-.1l.8 .2l.8-.1l.8-0l.8-.4l.8 .3l.8-.2l.8 .2l.8 1l.8 1.3l.8 .8l.8 .6l.8 .2l.8 .3l.8-0l.8 .1l.8 .5l.8-.4l.8 0l.8 0l.8 .4l.8 .4l.8 .1l.8-.1l.8 .8l.8 .4l.8-.6l.8-.3l.8-.4l.8 .3l.8 .2l.8-.5l.8 0l.8 .8l.8 .1l.8 .4l.8-.2l.8-.1l.8-.4l.8 .5l.8 .3l.8-0l.8-1l.8 .1l.8 1.2l.8 .1l.8-.8l.8-.5l.8 .4l.8-0l.8-.9l.8 0l.8-.1l.8 .2l.8-.1l.8-.8l.8 .5l.8-.3l.8 .5l.8-.1l.8 .1l.8-.5l.8-.4l.8 .1l.8-.2l.8 .4l.8 .2l.8 .8l.8 .4l.8 .7l.8 0l.8 .4l.8 .2l.8-.5l.8 .5l.8-.5l.8-.7l.8 0l.8 .4l.8 .2l.8-.5l.8-.4l.8 .2l.8 .2l.8 .4l.8 .1l.8-.2l.8-.5l.8-0l.8 .7l.8 .2l.8-.1l.8-.3l.8 1.1l.8 .7l.8-.1l.8 0l.8 .6l.8-1.1l.8-.2l.8 .2l.8 .2l.8-.6l.8 0l.8 .2l.8 .8l.8-.3l.8 .3l.8 .7l.8-.3l.8-.5l.8 .6l.8-.6l.8-8l.8 0l.8-0l.8 0l.8 .2l.8 .1l.8-.4l.8 .4l.8-.3l.8-.1l.8-.2l.8 .2l.8 .1l.8-.1l.8-0l.8 .1l.8 .2" fill="none" stroke="#000" stroke-width="1.0"/>
<path d="M302.8 301.8l.8 0l.8 .1l.8 .1l.8-.1l.8 .1l.8 0l.8-.1l.8 .2l.8-.1l.8 0l.8-.1l.8 .2l.8 0l.8 .1l.8-.2l.8-.2l.8 .3l.8-.3l.8 .3l.8 .6l.8 1.5l.8 1.4l.8 .3l.8 .8l.8 .1l.8 .1l.8 .1l.8-.4l.8 .1l.8 .1l.8-.2l.8 .1l.8-.1l.8-.1l.8 .1l.8-.2l.8 .8l.8 .3l.8-.2l.8 .1l.8-0l.8 .5l.8-.2l.8-.2l.8 .6l.8 .2l.8-.4l.8 .1l.8 .1l.8-.3l.8 .1l.8 .4l.8 .5l.8-.2l.8-.7l.8 .3l.8-.3l.8-.4l.8 1.6l.8 .4l.8-.8l.8-.6l.8 .1l.8 .7l.8 .2l.8-1l.8 .8l.8-1.3l.8 .5l.8 .4l.8-.2l.8 .7l.8-1.6l.8 .4l.8-.3l.8 .3l.8 .5l.8 .4l.8 .1l.8 .1l.8 .3l.8 1.2l.8-.6l.8 .1l.8 .3l.8-0l.8-.1l.8 .3l.8-.1l.8 .6l.8-.7l.8-.1l.8 .7l.8 .4l.8-.2l.8 .1l.8 .6l.8-.2l.8-.9l.8-.6l.8 .1l.8 .6l.8 .6l.8 .5l.8 .1l.8-.6l.8 1.1l.8-.2l.8-.3l.8 .3l.8-.2l.8 .5l.8 .3l.8-.6l.8-.5l.8-.1l.8-.5l.8-.1l.8-.1l.8 .6l.8-.4l.8-.2l.8 .2l.8 .3l.8-9.2l.8-.2l.8-0l.8-.4l.8 .6l.8-.1l.8-.4l.8 .1l.8 .1l.8-0l.8 .2l.8-0l.8-.1l.8 .1l.8 .2l.8-.3l.8-.1" fill="none" stroke="#000" stroke-width="1.0"/>
<path d="M302.8 301.8l.8 .4l.8-.3l.8 0l.8-0l.8 .1l.8 .1l.8 .1l.8-.2l.8 .1l.8-.2l.8-.1l.8 .4l.8-.2l.8 .1l.8 .1l.8 0l.8-.2l.8-.2l.8 .1l.8 1.2l.8 1.2l.8 1l.8 .4l.8 .5l.8 .3l.8 .1l.8 .4l.8 .5l.8 .1l.8-.1l.8 .3l.8-.3l.8-.2l.8 .9l.8 0l.8 0l.8-.4l.8-.3l.8-0l.8 .1l.8-.2l.8 .7l.8-0l.8-.5l.8 1.2l.8 .3l.8-.8l.8 .3l.8-.2l.8-.1l.8 .2l.8-.4l.8-.1l.8 .6l.8-.1l.8 .2l.8-.4l.8 .2l.8-.3l.8-.1l.8-.3l.8 .7l.8 .7l.8 .1l.8-.2l.8 .3l.8 .6l.8 .7l.8-.1l.8-.4l.8-.1l.8 .6l.8-0l.8 .2l.8-.5l.8 .2l.8 .5l.8-.9l.8 .1l.8 .9l.8-.9l.8 1.1l.8 .5l.8-.3l.8 .1l.8-.4l.8-1.3l.8-0l.8 .5l.8 1.5l.8 .1l.8-1.1l.8 .3l.8-.9l.8 .9l.8-.4l.8 .5l.8-.2l.8-0l.8 .1l.8-.1l.8-.2l.8 .7l.8 .3l.8 .2l.8-.3l.8-.1l.8 .3l.8 .4l.8 .4l.8-.1l.8 .6l.8 .2l.8-.6l.8-.2l.8 .2l.8-.1l.8-.8l.8 .5l.8-.3l.8 .1l.8-.1l.8 1l.8 .4l.8-11.5l.8-.1l.8-0l.8-.4l.8 .5l.8-.2l.8 0l.8 .1l.8-.2l.8-.1l.8 .1l.8 .2l.8-0l.8-.1l.8-.2l.8 .3l.8-.4" fill="none" stroke="#000" stroke-width="1.0"/>
<path d="M302.8 302.3l.8-.1l.8-.3l.8-0l.8-.2l.8 .7l.8-.4l.8-0l.8 .2l.8-.2l.8 .2l.8-.5l.8 .2l.8 .1l.8-.1l.8 0l.8 .2l.8-.1l.8 .1l.8-.2l.8 .1l.8-.1l.8 .1l.8-.1l.8 .1l.8-0l.8 .2l.8-.4l.8 .1l.8-.1l.8 .2l.8 0l.8-.2l.8 .3l.8-0l.8-.2l.8 .1l.8 .1l.8 .1l.8-.2l.8-.2l.8-.2l.8 .7l.8-.1l.8-.2l.8-.1l.8 .2l.8-.4l.8 .3l.8 .1l.8-0l.8-.1l.8 .1l.8-.1l.8 .1l.8-.3l.8 .3l.8-.5l.8 .3l.8 .4l.8-.2l.8-0l.8-.1l.8-0l.8 .2l.8-.1l.8-.5l.8 .4l.8-.2l.8 .2l.8 0l.8 .1l.8 .1l.8-.4l.8 .2l.8 0l.8-.3l.8 .4l.8-.3l.8 .2l.8-.1l.8 .3l.8-.2l.8-0l.8 .2l.8-.1l.8-.1l.8-0l.8-.2l.8 .3l.8-.2l.8 .3l.8 .2l.8-.5l.8-.1l.8 .6l.8-.4l.8 .1l.8-.1l.8-0l.8-.1l.8-.1l.8 .3l.8-.3l.8 .2l.8-.1l.8 .1l.8-.1l.8-.1l.8-0l.8 .2l.8-.1l.8-.1l.8 .2l.8 .1l.8-.2l.8 .1l.8 .2l.8-.2l.8 .2l.8-.4l.8 .4l.8-.1l.8-0l.8-.1l.8 0l.8-.2l.8 .2l.8-0l.8-.2l.8 .3l.8 .1l.8-.3l.8 .3l.8-.5l.8 .3l.8 .2l.8-.2l.8 .1l.8 .2l.8-.2l.8-.1" fill="none" stroke="#000" stroke-width="1.5"/>
<line x1="318.40" y1="302.00" x2="318.40" y2="305.50" stroke="#000" stroke-width="1.2"/>
<line x1="402.80" y1="295.50" x2="402.80" y2="313.50" stroke="#000" stroke-width="1.1"/>
<rect x="436.6" y="300.8" width="84.4" height="2.8" fill="#000" fill-opacity="0.55"/>
<path d="M422.4 300.8l.8-.1l.8 .2l.8-.2l.8-.2l.8 .7l.8-.6l.8 .2l.8-.1l.8 .1l.8-.1l.8 .1l.8 .3l.8-.1l.8-.3l.8 .1l.8-.3l.8 .5l.8 0l.8-.3l.8 .2l.8 .1l.8-.2l.8 .2l.8-0l.8-.1l.8-.1l.8-.2l.8 .4l.8-.4l.8 .2l.8-.2l.8 .2l.8-.2l.8 .1l.8-.1l.8 0l.8 0l.8 .2l.8-.3l.8 .1l.8-.2l.8-.1l.8 .3l.8-0l.8 0l.8-.1l.8 .4l.8 0l.8-.5l.8 .2l.8-0l.8 .3l.8-.1l.8 .2l.8-0l.8-.2l.8-0l.8-.3l.8 0l.8 .1l.8-.1l.8-.1l.8 .3l.8-0l.8 0l.8 .2l.8-.4l.8 .1l.8-.1l.8 .3l.8-.2l.8-.1l.8 .3l.8 .2l.8-.4l.8-.1l.8 .2l.8-0l.8-.1l.8 0l.8 .1l.8-.1l.8 .6l.8-.3l.8-.2l.8-0l.8-0l.8 0l.8-.3l.8 .5l.8-.3l.8 .5l.8-.4l.8 .2l.8-.3l.8 .2l.8 .2l.8-.1l.8-.3l.8 .5l.8-.4l.8-.1l.8-.1l.8 .4l.8-.1l.8 .2l.8-.1l.8 .1l.8-.1l.8 .3l.8-.2l.8-0l.8-.1l.8 .3l.8-.1l.8-0l.8-.2l.8 0l.8 .2l.8-.3l.8-.2l.8 .1l.8 .1l.8-.2l.8 .3l.8-.1l.8-.1l.8 .1l.8 .1l.8-.2l.8 .1l.8-.2l.8 .2l.8-.2l.8 .4l.8-.2l.8 0l.8 0" fill="none" stroke="#000" stroke-width="1.0"/>
<path d="M422.4 301.0l.8-.4l.8 .1l.8 .2l.8-.3l.8 .3l.8-.1l.8-.1l.8 0l.8 .1l.8 0l.8-0l.8-0l.8 .1l.8-.2l.8 .1l.8-0l.8 .3l.8-.2l.8-0l.8 .3l.8 .1l.8-.1l.8-0l.8-.1l.8 .2l.8-.1l.8-.1l.8 .1l.8-.2l.8 .5l.8-.2l.8-.1l.8 .1l.8 .1l.8-.5l.8 .3l.8-.2l.8 .1l.8 .1l.8-.3l.8 .3l.8 .3l.8-.3l.8 .2l.8-.1l.8 .1l.8-.4l.8 .4l.8-.2l.8-.4l.8 .5l.8-.2l.8-0l.8 .2l.8-.1l.8 .2l.8 .1l.8-.2l.8-.2l.8 0l.8 .5l.8-.4l.8 .1l.8 .1l.8 .1l.8 0l.8 .3l.8-.2l.8 .1l.8-.1l.8 .4l.8 .1l.8-.1l.8-.3l.8 .1l.8 .1l.8 .1l.8-.5l.8 .3l.8-.3l.8 .1l.8-.4l.8 .5l.8-.2l.8-0l.8 .2l.8-.2l.8 0l.8-0l.8 .3l.8-.1l.8-.1l.8-0l.8-0l.8-.1l.8 .2l.8-.1l.8-.3l.8 .1l.8-.1l.8 .2l.8-.1l.8 .3l.8-.6l.8 .2l.8 .2l.8-.5l.8 .3l.8 0l.8-.1l.8 .4l.8-.4l.8 .1l.8 .4l.8-.5l.8 .3l.8-.1l.8-.4l.8 .2l.8 .3l.8-.2l.8 .5l.8-.2l.8-.8l.8-.1l.8 0l.8 .4l.8-.4l.8 .1l.8-.2l.8 0l.8 .3l.8-0l.8 0l.8-0l.8-.3l.8 .2l.8-0" fill="none" stroke="#000" stroke-width="1.0"/>
<path d="M422.4 300.6l.8 .4l.8-.4l.8 .5l.8-.2l.8-0l.8 .2l.8-0l.8-.4l.8 .1l.8 .2l.8 .1l.8-.4l.8-0l.8 .3l.8-.1l.8-.2l.8 .2l.8 .4l.8-.1l.8 .4l.8-.1l.8 .2l.8 .2l.8-.1l.8-.2l.8 .4l.8-.3l.8 .2l.8 .2l.8-.5l.8 .3l.8 0l.8-.2l.8 .1l.8-.1l.8 .1l.8-.5l.8 .7l.8-.1l.8-.1l.8-0l.8 .1l.8-0l.8 .1l.8 .1l.8-.2l.8 .1l.8-.1l.8-.1l.8 .1l.8 0l.8-.1l.8 .1l.8-.4l.8 .2l.8 0l.8 .4l.8-.3l.8-.2l.8 .3l.8-.1l.8 .2l.8-0l.8 .1l.8 .1l.8-.2l.8 .1l.8-.1l.8-0l.8-.2l.8 .2l.8 .2l.8-.5l.8 .2l.8-0l.8 .2l.8-.2l.8-0l.8-0l.8 .1l.8-.3l.8 .1l.8 .1l.8-0l.8 .4l.8-.2l.8 .2l.8-.1l.8 .2l.8-.3l.8 .4l.8-.1l.8-.2l.8-0l.8-.1l.8-.2l.8-0l.8 .5l.8-.5l.8-.1l.8-.1l.8-0l.8-.1l.8 .1l.8 0l.8-.3l.8 .4l.8 .1l.8 .3l.8-.5l.8 0l.8-0l.8 .5l.8-.2l.8 .2l.8-.2l.8-.1l.8-.1l.8 .2l.8 .1l.8-.2l.8 0l.8 .3l.8-1.4l.8 .2l.8-.3l.8 0l.8 .3l.8-.2l.8-0l.8 .2l.8-.2l.8-.1l.8 .2l.8-0l.8 0l.8-.1l.8-.1" fill="none" stroke="#000" stroke-width="1.0"/>
<path d="M422.4 301.1l.8-.4l.8 .3l.8-.1l.8-.3l.8 .1l.8 .5l.8-.5l.8 .2l.8 .1l.8 0l.8-.2l.8 0l.8-.3l.8 .2l.8 .1l.8 .1l.8-.2l.8 .2l.8 .5l.8 .3l.8 .1l.8 .2l.8 0l.8 .2l.8 .1l.8-.2l.8-.1l.8 .3l.8-.1l.8-.1l.8 .2l.8-.1l.8-.4l.8-0l.8 .5l.8-.1l.8-.1l.8 0l.8 .1l.8 .1l.8-.5l.8 .2l.8 .2l.8 .2l.8 .2l.8-.2l.8 .2l.8-.1l.8-0l.8 .2l.8-.4l.8 .1l.8 .3l.8-0l.8-.3l.8 .2l.8 .2l.8-.2l.8-.2l.8 0l.8 .5l.8-.5l.8 .3l.8-.2l.8-0l.8 .2l.8-0l.8 .2l.8-.4l.8 0l.8 .3l.8-.3l.8 .6l.8-0l.8-.1l.8-0l.8-.4l.8-.3l.8 0l.8-0l.8 .4l.8-.3l.8-.1l.8-.1l.8-.3l.8 .7l.8-.3l.8 0l.8 .3l.8-.1l.8 .1l.8-.1l.8-0l.8-.2l.8 .1l.8 .3l.8 .2l.8-.5l.8 .5l.8-.4l.8-.1l.8-.1l.8 .3l.8-.2l.8-.1l.8 .1l.8 .3l.8-.2l.8-.1l.8-.2l.8 .1l.8 .6l.8-.5l.8 .1l.8-0l.8 .6l.8-.5l.8 0l.8 .2l.8 .2l.8-.2l.8 .1l.8-.1l.8-2.2l.8 .2l.8-.1l.8 .2l.8-.3l.8 .3l.8-0l.8-.1l.8 .1l.8-.1l.8 .2l.8-.2l.8-0l.8 .2l.8-.2" fill="none" stroke="#000" stroke-width="1.0"/>
<path d="M422.4 300.7l.8 .1l.8-0l.8 0l.8-.2l.8 .3l.8-.3l.8 .1l.8 .1l.8 .1l.8-.2l.8-0l.8 .3l.8-.3l.8 .4l.8-.2l.8-0l.8-.2l.8 .1l.8 .6l.8 .8l.8 .4l.8 .3l.8 0l.8-.1l.8-0l.8 .1l.8-.1l.8-0l.8 .1l.8-.3l.8 .2l.8 .1l.8-.2l.8 0l.8 .4l.8-.4l.8 .4l.8-.3l.8 .2l.8-.3l.8 .3l.8-.1l.8 .2l.8 .2l.8 .1l.8-.2l.8-0l.8-.6l.8 .5l.8 0l.8-.4l.8 .3l.8 0l.8-0l.8-.2l.8 .6l.8-.1l.8-.1l.8-0l.8-.1l.8 .3l.8-0l.8-.1l.8 .1l.8-.1l.8 0l.8-.2l.8 0l.8-.2l.8 .1l.8-0l.8 .4l.8-.1l.8 0l.8 .1l.8 .3l.8-.3l.8 .2l.8-.5l.8 .2l.8 0l.8 0l.8 .1l.8-0l.8-.3l.8 .2l.8 0l.8 .3l.8-.5l.8 .1l.8-0l.8 0l.8 .1l.8-.3l.8-.1l.8 .1l.8 .2l.8-.1l.8 .2l.8 .2l.8-.1l.8-.2l.8 .1l.8-.3l.8 .3l.8 .1l.8-.2l.8-.1l.8 .2l.8-.4l.8 .5l.8-.2l.8 .1l.8-0l.8 .1l.8-.4l.8 .3l.8-.2l.8-.1l.8-0l.8-.2l.8 .3l.8-.1l.8-2.2l.8-.2l.8 .2l.8 .3l.8-.1l.8-.3l.8 .1l.8 .1l.8-.1l.8-0l.8-0l.8-.1l.8 .1l.8 .1l.8-.1" fill="none" stroke="#000" stroke-width="1.0"/>
<path d="M422.4 300.9l.8 .2l.8-.2l.8-.4l.8 .3l.8-.3l.8 .1l.8 .4l.8-.2l.8-.1l.8 .1l.8-.1l.8-0l.8 .1l.8 0l.8 .2l.8 0l.8-.2l.8 .5l.8 .7l.8 .5l.8 .7l.8 .3l.8-.6l.8 .3l.8 .5l.8-.5l.8 .3l.8-.1l.8 .2l.8 0l.8 .1l.8 .1l.8 .3l.8-.3l.8 0l.8 .1l.8 .1l.8-0l.8-.3l.8 .2l.8-.6l.8 .2l.8 .1l.8 .2l.8-.2l.8 .1l.8 .4l.8-.1l.8-.2l.8 .2l.8-.2l.8-.1l.8-.1l.8 .5l.8-0l.8-.3l.8 .1l.8-.3l.8 0l.8 .4l.8-.3l.8 .2l.8-.1l.8 .3l.8-.5l.8 .4l.8-.1l.8 .1l.8 .1l.8-.6l.8 .2l.8-.2l.8-.3l.8 .2l.8-.1l.8 0l.8-0l.8-.2l.8 .3l.8-.4l.8 .4l.8 .1l.8 .1l.8 0l.8 .2l.8-.2l.8 .1l.8-.5l.8 .1l.8-.3l.8 .3l.8 .1l.8 0l.8 .3l.8-.2l.8-.1l.8 .6l.8 .2l.8-.4l.8 .1l.8 0l.8 .2l.8-.3l.8 .3l.8-.4l.8 .6l.8-.2l.8-.1l.8-0l.8-.2l.8-.4l.8 .2l.8 0l.8 .1l.8-.2l.8 .2l.8-0l.8-.1l.8 .3l.8-.4l.8 .6l.8-.3l.8 .1l.8-3.2l.8 .2l.8 0l.8-.1l.8 .3l.8-.5l.8-.1l.8 .1l.8 .2l.8 0l.8 .1l.8-0l.8-.1l.8 .2l.8-.3" fill="none" stroke="#000" stroke-width="1.0"/>
<path d="M422.4 300.6l.8 .1l.8 .3l.8 .1l.8-.1l.8-.4l.8 .2l.8-.2l.8 .3l.8-.1l.8 .1l.8-.4l.8 .3l.8 .2l.8-.1l.8 0l.8-.2l.8 .2l.8 .2l.8 1.6l.8 .3l.8 .4l.8 .6l.8 .2l.8-.3l.8-.3l.8-.1l.8-0l.8 .3l.8-.1l.8 .1l.8 .3l.8 .2l.8 .7l.8 0l.8-.6l.8-.7l.8-.2l.8 .5l.8-.4l.8 1l.8 .1l.8 .1l.8-.6l.8 .1l.8-.4l.8 .5l.8-.2l.8 .3l.8 1.1l.8-.4l.8 .1l.8 .9l.8-.6l.8 0l.8-.6l.8 .6l.8-.5l.8 .6l.8-1.1l.8 .7l.8-.4l.8-.3l.8 .2l.8-.1l.8 .1l.8 0l.8 .3l.8-.5l.8 .3l.8 .1l.8 .4l.8 .4l.8-0l.8-.5l.8-.1l.8-.2l.8-.1l.8 .3l.8-.6l.8 .9l.8 0l.8-.2l.8 .1l.8-.4l.8 .3l.8-.1l.8-.5l.8-.1l.8-.1l.8 .2l.8 .3l.8-.6l.8-.1l.8 .2l.8-.1l.8-.1l.8 .9l.8 .3l.8-.1l.8-.3l.8 .1l.8 .9l.8-.3l.8-.3l.8 .7l.8 .2l.8-1l.8 0l.8-.5l.8 .8l.8-.2l.8 .7l.8-.1l.8-.6l.8 1.1l.8-.7l.8-.7l.8 .6l.8-.6l.8 .1l.8 .1l.8 .9l.8-0l.8-5.6l.8 .1l.8 0l.8 .2l.8-.1l.8 .1l.8 .1l.8-0l.8-.2l.8-.1l.8-0l.8 .1l.8-.1l.8-.1l.8 .2" fill="none" stroke="#000" stroke-width="1.0"/>
<path d="M422.4 300.8l.8-.1l.8 .3l.8-.1l.8 .1l.8-0l.8-.2l.8 .1l.8 .1l.8 .1l.8-.3l.8 .1l.8-.1l.8 .1l.8-.2l.8-.1l.8 .3l.8-.3l.8 .8l.8 .9l.8 1.2l.8 .1l.8 .1l.8 .2l.8 .1l.8-.2l.8 .4l.8 .7l.8-.4l.8 .2l.8-.3l.8 1l.8-.8l.8 .3l.8-.5l.8 .9l.8 .6l.8 .3l.8 .1l.8-.3l.8-1l.8 .5l.8-.3l.8-.3l.8 .2l.8-.2l.8-.5l.8 .9l.8 .3l.8-.3l.8 .9l.8-.5l.8 .4l.8-.7l.8 .3l.8-.3l.8-.4l.8-.3l.8 .7l.8-.3l.8 .6l.8 .9l.8-.5l.8 .2l.8-.5l.8-0l.8-.2l.8 .4l.8 .1l.8 .1l.8 .5l.8-.3l.8-.9l.8 .8l.8 .6l.8-.5l.8-.5l.8-.2l.8-.5l.8 .2l.8 .4l.8-.4l.8 1l.8-.1l.8 .7l.8-.9l.8-.2l.8-.4l.8 .1l.8-0l.8 .7l.8 .7l.8-.8l.8-0l.8 .4l.8 .2l.8 .9l.8-1.1l.8 .1l.8-0l.8 .4l.8-.5l.8-.1l.8 .6l.8 .8l.8-.8l.8 1l.8-.5l.8 .6l.8 .3l.8 .3l.8 .8l.8-.6l.8 .8l.8-.4l.8-.9l.8-.6l.8 .2l.8-.7l.8 .4l.8 .1l.8 .7l.8 .2l.8 .1l.8-8.3l.8 .3l.8-.1l.8 .1l.8-.1l.8 0l.8-.1l.8 0l.8-0l.8-.2l.8 .3l.8-.1l.8-.1l.8 .2l.8 .1" fill="none" stroke="#000" stroke-width="1.0"/>
<path d="M422.4 301.0l.8-.1l.8-.1l.8 .3l.8-.4l.8 .1l.8 .3l.8-.2l.8-.2l.8 .3l.8-.2l.8 .1l.8-.3l.8 .3l.8-.2l.8 .1l.8-.1l.8-.1l.8 .6l.8 1.4l.8 .5l.8 .4l.8 .6l.8 .4l.8-.1l.8 .1l.8-.1l.8 .4l.8-.4l.8 .4l.8-.3l.8-.3l.8 .2l.8 .4l.8-.6l.8 0l.8 .4l.8-.6l.8 .4l.8-.1l.8-0l.8 .2l.8 .1l.8 .6l.8 .2l.8-0l.8-.3l.8 .2l.8 .2l.8 .1l.8 .6l.8 .3l.8 .1l.8-.2l.8-.4l.8 .1l.8 .3l.8-.4l.8-.1l.8-.6l.8 .7l.8 .6l.8-.1l.8-0l.8 0l.8-.4l.8 .6l.8-.2l.8 .5l.8-.4l.8 .3l.8 0l.8-.9l.8 .1l.8 .8l.8-.4l.8-.6l.8 .8l.8-.5l.8-.1l.8-.3l.8 .5l.8-.3l.8 .1l.8-.4l.8 .4l.8 .3l.8 .2l.8 1.2l.8-0l.8-.9l.8 .2l.8 0l.8 .1l.8 .8l.8 .1l.8 .5l.8-.4l.8-.4l.8-.2l.8 .3l.8-.7l.8 .2l.8-.1l.8-.1l.8 .3l.8 .4l.8 .1l.8-.1l.8 .3l.8 .1l.8-.7l.8 .5l.8-.1l.8 .1l.8 .1l.8 .4l.8 .6l.8-.1l.8 1.4l.8-.3l.8-.3l.8 .1l.8 .2l.8-9.5l.8 0l.8 .1l.8 .2l.8-.5l.8 .5l.8-.1l.8 .1l.8-.4l.8-.1l.8 .4l.8 .1l.8-0l.8-0l.8-.4" fill="none" stroke="#000" stroke-width="1.0"/>
<path d="M422.4 300.8l.8 .3l.8-.5l.8 .3l.8 0l.8-.2l.8 .1l.8-.1l.8 .2l.8-.3l.8 .2l.8-.3l.8 .4l.8-0l.8-0l.8-.4l.8 .1l.8 .1l.8 .3l.8 1.6l.8 1l.8 .4l.8 .3l.8 .1l.8-.1l.8 .5l.8-0l.8 .2l.8 .2l.8-.2l.8 .3l.8 .2l.8-.1l.8 .4l.8-.2l.8-.1l.8 .1l.8-.3l.8-.1l.8-.1l.8 .8l.8-.2l.8 1.1l.8 .1l.8-1.1l.8-.2l.8 1.2l.8-.3l.8 .3l.8-.5l.8 .2l.8-.3l.8-.1l.8 1.1l.8 .1l.8-.6l.8 .6l.8-.5l.8 .3l.8 .1l.8 .1l.8-.7l.8 .6l.8 .7l.8 .1l.8-.7l.8-.1l.8-.7l.8 .2l.8 .5l.8 .6l.8 .1l.8-.5l.8-.4l.8 .8l.8 .7l.8 0l.8-.6l.8-.3l.8 .7l.8-.6l.8 .2l.8 .2l.8 .1l.8 .8l.8-.5l.8-.3l.8-.2l.8 .4l.8-0l.8-.2l.8-.3l.8 1l.8-0l.8 .2l.8-.2l.8 .3l.8 .3l.8-.6l.8 .3l.8 .8l.8 .3l.8-.4l.8-0l.8 .8l.8-.2l.8 .3l.8 0l.8 1l.8-.3l.8-.3l.8-.6l.8 .5l.8-.1l.8-.1l.8 .1l.8 .2l.8-0l.8 .3l.8 .1l.8-1l.8 .9l.8-0l.8 .3l.8-10.8l.8-.2l.8 0l.8 .1l.8 0l.8-.3l.8 .2l.8 .1l.8-.2l.8 0l.8 .1l.8 .2l.8-.2l.8-.1l.8-.2" fill="none" stroke="#000" stroke-width="1.0"/>
<path d="M422.4 301.1l.8-.5l.8 .3l.8-.1l.8-.2l.8 .4l.8-.2l.8-0l.8 .2l.8-.2l.8-0l.8-.2l.8 .4l.8-.2l.8-0l.8 .1l.8-.3l.8 .2l.8 .3l.8 1.3l.8 .9l.8 .7l.8 .1l.8 0l.8 0l.8 .3l.8 .3l.8 .3l.8 .5l.8 .2l.8-.1l.8-.1l.8-.5l.8 .6l.8 .3l.8-.4l.8 .1l.8 .8l.8-.5l.8 .3l.8 .2l.8 .6l.8 .2l.8 0l.8-.2l.8 .3l.8-.2l.8-.2l.8-.1l.8-0l.8 .7l.8-0l.8 .2l.8 .1l.8-.3l.8-.3l.8-.5l.8-0l.8 .4l.8-.2l.8 1.4l.8 .2l.8 .3l.8-.1l.8 .2l.8 .1l.8-.4l.8 .4l.8 .1l.8-1.2l.8 .2l.8-.2l.8 0l.8 .8l.8 0l.8 .2l.8-.7l.8 .6l.8 1.3l.8 .2l.8 0l.8-.6l.8 .8l.8-1l.8 .8l.8-.7l.8 .7l.8-.1l.8 .3l.8-.2l.8-0l.8 .6l.8 .3l.8 1.2l.8-.2l.8-.2l.8 1l.8-.7l.8-.2l.8-.2l.8-.7l.8 .2l.8 .3l.8 .3l.8 .3l.8-.5l.8 .2l.8 0l.8-.6l.8 1.2l.8-.9l.8 .9l.8 .5l.8-.7l.8 .2l.8-.5l.8 .9l.8-.2l.8-.1l.8 .2l.8 .2l.8-.1l.8-.2l.8-.3l.8-11.6l.8 .1l.8-.2l.8-0l.8 .1l.8-.2l.8 0l.8 .2l.8-.1l.8-.4l.8 .3l.8 .1l.8-0l.8-.4l.8 .3" fill="none" stroke="#000" stroke-width="1.0"/>
<path d="M422.4 300.6l.8 .5l.8-0l.8-.2l.8-.1l.8-.1l.8 .2l.8 .1l.8-.1l.8-.1l.8 .2l.8-.2l.8 .1l.8-.2l.8 .3l.8-.1l.8 .2l.8-.4l.8-0l.8 .1l.8-.1l.8 .3l.8-.2l.8-.1l.8 .2l.8 .1l.8-.1l.8-.1l.8-.2l.8 .1l.8 0l.8 .1l.8-0l.8 .1l.8-.1l.8 0l.8-.1l.8 .2l.8 .1l.8-.3l.8 .2l.8-.1l.8-.2l.8 .1l.8-.1l.8 .5l.8-.2l.8 .1l.8-.2l.8 .1l.8-.3l.8 .2l.8-0l.8 .1l.8 .1l.8-.4l.8 .3l.8 0l.8 0l.8-0l.8 .1l.8-.1l.8-.2l.8 .2l.8 .1l.8-.1l.8-.2l.8 .2l.8-.3l.8 .3l.8 .2l.8-.2l.8-.2l.8 .2l.8-.2l.8 .2l.8-.5l.8 .3l.8 .3l.8-.1l.8-.4l.8 .1l.8 .2l.8 .1l.8-.1l.8-.1l.8 .1l.8-.2l.8 .3l.8-.1l.8 .1l.8 0l.8 .1l.8-.4l.8 .3l.8 .2l.8-.1l.8-.3l.8 .1l.8-.1l.8-.2l.8 .3l.8-.2l.8 .2l.8-.2l.8 .2l.8 .1l.8-.4l.8 .2l.8 .2l.8-.2l.8 .1l.8 .1l.8-.1l.8 .1l.8-.1l.8 .3l.8-.4l.8-.2l.8 .4l.8 0l.8-.3l.8 .2l.8 .1l.8-.3l.8 .2l.8 .1l.8-.2l.8 .1l.8-.3l.8 .1l.8 .4l.8-.1l.8-.3l.8 .3l.8-.2l.8 .1l.8 .1l.8-.2" fill="none" stroke="#000" stroke-width="1.5"/>
<line x1="436.60" y1="300.80" x2="436.60" y2="306.30" stroke="#000" stroke-width="1.2"/>
<line x1="521.00" y1="294.00" x2="521.00" y2="313.30" stroke="#000" stroke-width="1.1"/>
<text x="271" y="245.3" font-size="11.5" font-weight="bold" fill="#000">G</text>
<text x="358.9" y="247.6" font-size="9.5" text-anchor="middle" fill="#000">control</text>
<text x="472.7" y="247.8" font-size="9.8" text-anchor="middle" fill="#000">ATP</text>
<text x="279.8" y="260.5" font-size="8.7" text-anchor="middle" font-style="italic" fill="#000">dorn1-1</text>
<text x="281.2" y="306.3" font-size="8.7" text-anchor="middle" font-style="italic" fill="#000">dorn1-3</text>
<line x1="426.30" y1="268.70" x2="426.30" y2="287.90" stroke="#222" stroke-width="1.2"/>
<line x1="425.70" y1="287.30" x2="455.20" y2="287.30" stroke="#222" stroke-width="1.2"/>
<text x="0" y="0" font-size="8.7" text-anchor="middle" fill="#000" transform="translate(423.0 278.7) rotate(-90) scale(0.86 1)">100 pA</text>
<text x="0" y="0" font-size="8.6" text-anchor="middle" fill="#000" transform="translate(440.8 297.2) scale(0.93 1)">0.5 s</text>
<text x="266.2" y="117.5" font-size="11.5" font-weight="bold" fill="#000">D</text>
<text x="272.2" y="335.7" font-size="11.5" font-weight="bold" fill="#000">H</text>
</svg>
</body></html>
